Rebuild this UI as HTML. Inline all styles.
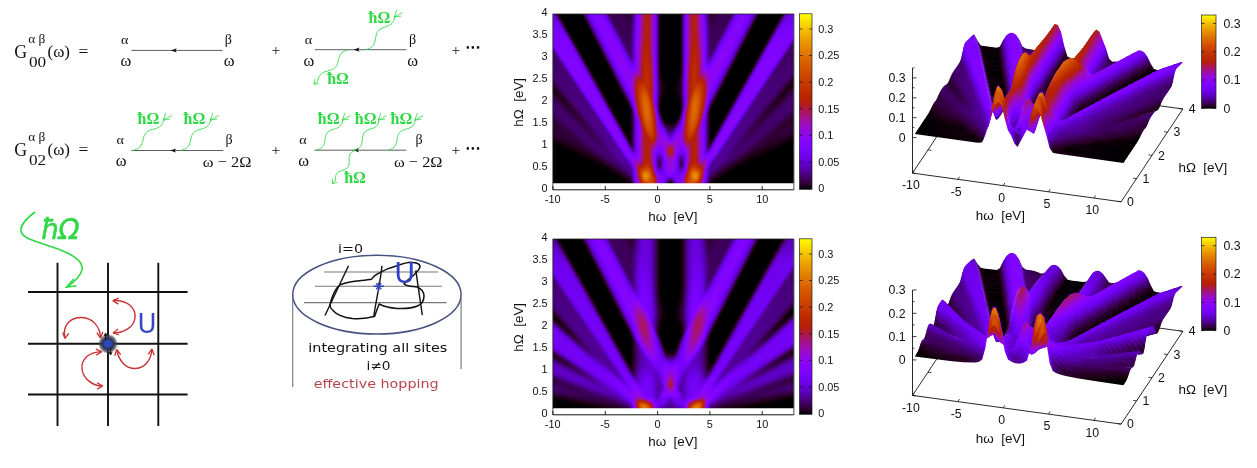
<!DOCTYPE html>
<html><head><meta charset="utf-8"><title>Floquet Green function figure</title>
<style>html,body{margin:0;padding:0;background:#fff}body{width:1257px;height:468px;overflow:hidden}svg{display:block}.pl>*{mix-blend-mode:plus-lighter}</style>
</head><body>
<svg width="1257" height="468" viewBox="0 0 1257 468">
<defs>
<filter id="cm" color-interpolation-filters="sRGB" filterUnits="userSpaceOnUse" x="540" y="0" width="270" height="468"><feComponentTransfer><feFuncR type="table" tableValues="0 0.125 0.177 0.217 0.25 0.28 0.306 0.331 0.354 0.375 0.395 0.415 0.433 0.451 0.468 0.484 0.5 0.515 0.53 0.545 0.559 0.573 0.586 0.599 0.612 0.625 0.637 0.65 0.661 0.673 0.685 0.696 0.707 0.718 0.729 0.74 0.75 0.76 0.771 0.781 0.791 0.8 0.81 0.82 0.829 0.839 0.848 0.857 0.866 0.875 0.884 0.893 0.901 0.91 0.919 0.927 0.935 0.944 0.952 0.96 0.968 0.976 0.984 0.992 1"/><feFuncG type="table" tableValues="0 0 0 0 0 0 0.001 0.001 0.002 0.003 0.004 0.005 0.007 0.008 0.01 0.013 0.016 0.019 0.022 0.026 0.031 0.035 0.041 0.046 0.053 0.06 0.067 0.075 0.084 0.093 0.103 0.114 0.125 0.137 0.15 0.164 0.178 0.193 0.209 0.226 0.244 0.263 0.283 0.303 0.325 0.348 0.371 0.396 0.422 0.449 0.477 0.506 0.536 0.568 0.601 0.635 0.67 0.706 0.744 0.783 0.824 0.866 0.909 0.954 1"/><feFuncB type="table" tableValues="0 0.098 0.195 0.29 0.383 0.471 0.556 0.634 0.707 0.773 0.831 0.882 0.924 0.957 0.981 0.995 1 0.995 0.981 0.957 0.924 0.882 0.831 0.773 0.707 0.634 0.556 0.471 0.383 0.29 0.195 0.098 0 0 0 0 0 0 0 0 0 0 0 0 0 0 0 0 0 0 0 0 0 0 0 0 0 0 0 0 0 0 0 0 0"/></feComponentTransfer></filter>
<linearGradient id="cb" x1="0" y1="1" x2="0" y2="0"><stop offset="0.000" stop-color="#000000"/><stop offset="0.030" stop-color="#2c0030"/><stop offset="0.061" stop-color="#3f005f"/><stop offset="0.091" stop-color="#4d008a"/><stop offset="0.121" stop-color="#5900b0"/><stop offset="0.152" stop-color="#6301d0"/><stop offset="0.182" stop-color="#6d02e8"/><stop offset="0.212" stop-color="#7502f8"/><stop offset="0.242" stop-color="#7e04ff"/><stop offset="0.273" stop-color="#8505fc"/><stop offset="0.303" stop-color="#8c07f1"/><stop offset="0.333" stop-color="#9309dd"/><stop offset="0.364" stop-color="#9a0cc1"/><stop offset="0.394" stop-color="#a0109e"/><stop offset="0.424" stop-color="#a61375"/><stop offset="0.455" stop-color="#ac1848"/><stop offset="0.485" stop-color="#b21d18"/><stop offset="0.515" stop-color="#b72300"/><stop offset="0.545" stop-color="#bc2900"/><stop offset="0.576" stop-color="#c13100"/><stop offset="0.606" stop-color="#c73900"/><stop offset="0.636" stop-color="#cb4200"/><stop offset="0.667" stop-color="#d04c00"/><stop offset="0.697" stop-color="#d55600"/><stop offset="0.727" stop-color="#d96200"/><stop offset="0.758" stop-color="#de6f00"/><stop offset="0.788" stop-color="#e27d00"/><stop offset="0.818" stop-color="#e78c00"/><stop offset="0.848" stop-color="#eb9c00"/><stop offset="0.879" stop-color="#efad00"/><stop offset="0.909" stop-color="#f3c000"/><stop offset="0.939" stop-color="#f7d300"/><stop offset="0.970" stop-color="#fbe900"/><stop offset="1.000" stop-color="#ffff00"/></linearGradient>
<filter id="tb1_6" color-interpolation-filters="sRGB" filterUnits="userSpaceOnUse" x="500" y="-30" width="350" height="260"><feGaussianBlur stdDeviation="1.6"/></filter>
<filter id="tb2_0" color-interpolation-filters="sRGB" filterUnits="userSpaceOnUse" x="500" y="-30" width="350" height="260"><feGaussianBlur stdDeviation="2.0"/></filter>
<filter id="tb2_6" color-interpolation-filters="sRGB" filterUnits="userSpaceOnUse" x="500" y="-30" width="350" height="260"><feGaussianBlur stdDeviation="2.6"/></filter>
<filter id="tb2_8" color-interpolation-filters="sRGB" filterUnits="userSpaceOnUse" x="500" y="-30" width="350" height="260"><feGaussianBlur stdDeviation="2.8"/></filter>
<filter id="tb3_0" color-interpolation-filters="sRGB" filterUnits="userSpaceOnUse" x="500" y="-30" width="350" height="260"><feGaussianBlur stdDeviation="3.0"/></filter>
<filter id="tb3_5" color-interpolation-filters="sRGB" filterUnits="userSpaceOnUse" x="500" y="-30" width="350" height="260"><feGaussianBlur stdDeviation="3.5"/></filter>
<filter id="tb4_0" color-interpolation-filters="sRGB" filterUnits="userSpaceOnUse" x="500" y="-30" width="350" height="260"><feGaussianBlur stdDeviation="4.0"/></filter>
<filter id="tb5_0" color-interpolation-filters="sRGB" filterUnits="userSpaceOnUse" x="500" y="-30" width="350" height="260"><feGaussianBlur stdDeviation="5.0"/></filter>
<linearGradient id="tg2" gradientUnits="userSpaceOnUse" x1="0" y1="190.0" x2="0" y2="-10.0"><stop offset="0.000" stop-color="#363636"/><stop offset="0.030" stop-color="#3e3e3e"/><stop offset="0.055" stop-color="#a2a2a2"/><stop offset="0.085" stop-color="#a2a2a2"/><stop offset="0.120" stop-color="#555555"/><stop offset="0.150" stop-color="#494949"/><stop offset="1.000" stop-color="#464646"/></linearGradient>
<linearGradient id="tg3" gradientUnits="userSpaceOnUse" x1="0" y1="190.0" x2="0" y2="-10.0"><stop offset="0.000" stop-color="#363636"/><stop offset="0.030" stop-color="#3e3e3e"/><stop offset="0.055" stop-color="#a2a2a2"/><stop offset="0.085" stop-color="#a2a2a2"/><stop offset="0.120" stop-color="#555555"/><stop offset="0.150" stop-color="#494949"/><stop offset="1.000" stop-color="#464646"/></linearGradient>
<linearGradient id="tg4" gradientUnits="userSpaceOnUse" x1="0" y1="190.0" x2="0" y2="-10.0"><stop offset="0.000" stop-color="#202020"/><stop offset="0.070" stop-color="#202020"/><stop offset="0.105" stop-color="#161616"/><stop offset="0.155" stop-color="#161616"/><stop offset="0.190" stop-color="#202020"/><stop offset="0.270" stop-color="#232323"/><stop offset="0.310" stop-color="#1f1f1f"/><stop offset="0.520" stop-color="#1f1f1f"/><stop offset="0.590" stop-color="#1f1f1f"/><stop offset="1.000" stop-color="#1c1c1c"/></linearGradient>
<linearGradient id="tg5" gradientUnits="userSpaceOnUse" x1="0" y1="190.0" x2="0" y2="-10.0"><stop offset="0.000" stop-color="#202020"/><stop offset="0.070" stop-color="#202020"/><stop offset="0.105" stop-color="#161616"/><stop offset="0.155" stop-color="#161616"/><stop offset="0.190" stop-color="#202020"/><stop offset="0.270" stop-color="#232323"/><stop offset="0.310" stop-color="#1f1f1f"/><stop offset="0.520" stop-color="#1f1f1f"/><stop offset="0.590" stop-color="#1f1f1f"/><stop offset="1.000" stop-color="#1c1c1c"/></linearGradient>
<linearGradient id="tg6" gradientUnits="userSpaceOnUse" x1="0" y1="190.0" x2="0" y2="-10.0"><stop offset="0.000" stop-color="#202020"/><stop offset="0.070" stop-color="#202020"/><stop offset="0.105" stop-color="#161616"/><stop offset="0.155" stop-color="#161616"/><stop offset="0.190" stop-color="#202020"/><stop offset="0.270" stop-color="#232323"/><stop offset="0.310" stop-color="#1f1f1f"/><stop offset="0.520" stop-color="#1f1f1f"/><stop offset="0.590" stop-color="#1f1f1f"/><stop offset="1.000" stop-color="#1c1c1c"/></linearGradient>
<linearGradient id="tg7" gradientUnits="userSpaceOnUse" x1="0" y1="190.0" x2="0" y2="-10.0"><stop offset="0.000" stop-color="#202020"/><stop offset="0.070" stop-color="#202020"/><stop offset="0.105" stop-color="#161616"/><stop offset="0.155" stop-color="#161616"/><stop offset="0.190" stop-color="#202020"/><stop offset="0.270" stop-color="#232323"/><stop offset="0.310" stop-color="#1f1f1f"/><stop offset="0.520" stop-color="#1f1f1f"/><stop offset="0.590" stop-color="#1f1f1f"/><stop offset="1.000" stop-color="#1c1c1c"/></linearGradient>
<linearGradient id="tg8" gradientUnits="userSpaceOnUse" x1="0" y1="120.0" x2="0" y2="-10.0"><stop offset="0.000" stop-color="#000000"/><stop offset="0.231" stop-color="#111111"/><stop offset="1.000" stop-color="#0c0c0c"/></linearGradient>
<linearGradient id="tg9" gradientUnits="userSpaceOnUse" x1="0" y1="120.0" x2="0" y2="-10.0"><stop offset="0.000" stop-color="#000000"/><stop offset="0.231" stop-color="#111111"/><stop offset="1.000" stop-color="#0c0c0c"/></linearGradient>
<linearGradient id="tg10" gradientUnits="userSpaceOnUse" x1="0" y1="190.0" x2="0" y2="12.0"><stop offset="0.000" stop-color="#000000"/><stop offset="0.079" stop-color="#0f0f0f"/><stop offset="0.191" stop-color="#303030"/><stop offset="0.843" stop-color="#303030"/><stop offset="1.000" stop-color="#1f1f1f"/></linearGradient>
<linearGradient id="tg11" gradientUnits="userSpaceOnUse" x1="0" y1="190.0" x2="0" y2="12.0"><stop offset="0.000" stop-color="#000000"/><stop offset="0.079" stop-color="#0f0f0f"/><stop offset="0.191" stop-color="#303030"/><stop offset="0.843" stop-color="#303030"/><stop offset="1.000" stop-color="#1f1f1f"/></linearGradient>
<linearGradient id="tg12" gradientUnits="userSpaceOnUse" x1="0" y1="190.0" x2="0" y2="12.0"><stop offset="0.000" stop-color="#000000"/><stop offset="0.079" stop-color="#0f0f0f"/><stop offset="0.191" stop-color="#1a1a1a"/><stop offset="0.562" stop-color="#141414"/><stop offset="1.000" stop-color="#0c0c0c"/></linearGradient>
<linearGradient id="tg13" gradientUnits="userSpaceOnUse" x1="0" y1="190.0" x2="0" y2="12.0"><stop offset="0.000" stop-color="#000000"/><stop offset="0.079" stop-color="#0f0f0f"/><stop offset="0.191" stop-color="#1a1a1a"/><stop offset="0.562" stop-color="#141414"/><stop offset="1.000" stop-color="#0c0c0c"/></linearGradient>
<linearGradient id="tg14" gradientUnits="userSpaceOnUse" x1="0" y1="190.0" x2="0" y2="-10.0"><stop offset="0.000" stop-color="#000000"/><stop offset="0.075" stop-color="#0c0c0c"/><stop offset="0.200" stop-color="#121212"/><stop offset="1.000" stop-color="#121212"/></linearGradient>
<linearGradient id="tg15" gradientUnits="userSpaceOnUse" x1="0" y1="190.0" x2="0" y2="-10.0"><stop offset="0.000" stop-color="#000000"/><stop offset="0.075" stop-color="#0c0c0c"/><stop offset="0.200" stop-color="#121212"/><stop offset="1.000" stop-color="#121212"/></linearGradient>
<linearGradient id="tg16" gradientUnits="userSpaceOnUse" x1="0" y1="190.0" x2="0" y2="120.0"><stop offset="0.000" stop-color="#000000"/><stop offset="0.286" stop-color="#080808"/><stop offset="1.000" stop-color="#0c0c0c"/></linearGradient>
<linearGradient id="tg17" gradientUnits="userSpaceOnUse" x1="0" y1="190.0" x2="0" y2="120.0"><stop offset="0.000" stop-color="#000000"/><stop offset="0.286" stop-color="#080808"/><stop offset="1.000" stop-color="#0c0c0c"/></linearGradient>
<clipPath id="tcp"><rect x="553.0" y="14.0" width="240.7" height="169.3"/></clipPath>
<filter id="ub1_6" color-interpolation-filters="sRGB" filterUnits="userSpaceOnUse" x="500" y="195" width="350" height="260"><feGaussianBlur stdDeviation="1.6"/></filter>
<filter id="ub1_7" color-interpolation-filters="sRGB" filterUnits="userSpaceOnUse" x="500" y="195" width="350" height="260"><feGaussianBlur stdDeviation="1.7"/></filter>
<filter id="ub2_0" color-interpolation-filters="sRGB" filterUnits="userSpaceOnUse" x="500" y="195" width="350" height="260"><feGaussianBlur stdDeviation="2.0"/></filter>
<filter id="ub2_4" color-interpolation-filters="sRGB" filterUnits="userSpaceOnUse" x="500" y="195" width="350" height="260"><feGaussianBlur stdDeviation="2.4"/></filter>
<filter id="ub2_5" color-interpolation-filters="sRGB" filterUnits="userSpaceOnUse" x="500" y="195" width="350" height="260"><feGaussianBlur stdDeviation="2.5"/></filter>
<filter id="ub2_8" color-interpolation-filters="sRGB" filterUnits="userSpaceOnUse" x="500" y="195" width="350" height="260"><feGaussianBlur stdDeviation="2.8"/></filter>
<filter id="ub3_0" color-interpolation-filters="sRGB" filterUnits="userSpaceOnUse" x="500" y="195" width="350" height="260"><feGaussianBlur stdDeviation="3.0"/></filter>
<filter id="ub3_5" color-interpolation-filters="sRGB" filterUnits="userSpaceOnUse" x="500" y="195" width="350" height="260"><feGaussianBlur stdDeviation="3.5"/></filter>
<filter id="ub5_0" color-interpolation-filters="sRGB" filterUnits="userSpaceOnUse" x="500" y="195" width="350" height="260"><feGaussianBlur stdDeviation="5.0"/></filter>
<filter id="ub8_0" color-interpolation-filters="sRGB" filterUnits="userSpaceOnUse" x="500" y="195" width="350" height="260"><feGaussianBlur stdDeviation="8.0"/></filter>
<linearGradient id="ug0" gradientUnits="userSpaceOnUse" x1="0" y1="415.0" x2="0" y2="215.0"><stop offset="0.000" stop-color="#0f0f0f"/><stop offset="0.250" stop-color="#0f0f0f"/><stop offset="0.450" stop-color="#171717"/><stop offset="1.000" stop-color="#171717"/></linearGradient>
<linearGradient id="ug1" gradientUnits="userSpaceOnUse" x1="0" y1="415.0" x2="0" y2="215.0"><stop offset="0.000" stop-color="#0f0f0f"/><stop offset="0.250" stop-color="#0f0f0f"/><stop offset="0.450" stop-color="#171717"/><stop offset="1.000" stop-color="#171717"/></linearGradient>
<linearGradient id="ug2" gradientUnits="userSpaceOnUse" x1="0" y1="415.0" x2="0" y2="215.0"><stop offset="0.000" stop-color="#0f0f0f"/><stop offset="0.250" stop-color="#0f0f0f"/><stop offset="0.450" stop-color="#171717"/><stop offset="1.000" stop-color="#161616"/></linearGradient>
<linearGradient id="ug3" gradientUnits="userSpaceOnUse" x1="0" y1="415.0" x2="0" y2="215.0"><stop offset="0.000" stop-color="#0f0f0f"/><stop offset="0.250" stop-color="#0f0f0f"/><stop offset="0.450" stop-color="#171717"/><stop offset="1.000" stop-color="#161616"/></linearGradient>
<linearGradient id="ug6" gradientUnits="userSpaceOnUse" x1="0" y1="415.0" x2="0" y2="215.0"><stop offset="0.000" stop-color="#090909"/><stop offset="0.070" stop-color="#0f0f0f"/><stop offset="0.120" stop-color="#0e0e0e"/><stop offset="0.200" stop-color="#0f0f0f"/><stop offset="0.300" stop-color="#202020"/><stop offset="0.500" stop-color="#202020"/><stop offset="0.600" stop-color="#1d1d1d"/><stop offset="1.000" stop-color="#1a1a1a"/></linearGradient>
<linearGradient id="ug7" gradientUnits="userSpaceOnUse" x1="0" y1="415.0" x2="0" y2="215.0"><stop offset="0.000" stop-color="#090909"/><stop offset="0.070" stop-color="#0f0f0f"/><stop offset="0.120" stop-color="#0e0e0e"/><stop offset="0.200" stop-color="#0f0f0f"/><stop offset="0.300" stop-color="#202020"/><stop offset="0.500" stop-color="#202020"/><stop offset="0.600" stop-color="#1d1d1d"/><stop offset="1.000" stop-color="#1a1a1a"/></linearGradient>
<linearGradient id="ug8" gradientUnits="userSpaceOnUse" x1="0" y1="415.0" x2="0" y2="215.0"><stop offset="0.000" stop-color="#090909"/><stop offset="0.070" stop-color="#0f0f0f"/><stop offset="0.120" stop-color="#0e0e0e"/><stop offset="0.200" stop-color="#0f0f0f"/><stop offset="0.300" stop-color="#202020"/><stop offset="0.500" stop-color="#202020"/><stop offset="0.600" stop-color="#1d1d1d"/><stop offset="1.000" stop-color="#1a1a1a"/></linearGradient>
<linearGradient id="ug9" gradientUnits="userSpaceOnUse" x1="0" y1="415.0" x2="0" y2="215.0"><stop offset="0.000" stop-color="#090909"/><stop offset="0.070" stop-color="#0f0f0f"/><stop offset="0.120" stop-color="#0e0e0e"/><stop offset="0.200" stop-color="#0f0f0f"/><stop offset="0.300" stop-color="#202020"/><stop offset="0.500" stop-color="#202020"/><stop offset="0.600" stop-color="#1d1d1d"/><stop offset="1.000" stop-color="#1a1a1a"/></linearGradient>
<linearGradient id="ug10" gradientUnits="userSpaceOnUse" x1="0" y1="345.0" x2="0" y2="215.0"><stop offset="0.000" stop-color="#000000"/><stop offset="0.231" stop-color="#0f0f0f"/><stop offset="1.000" stop-color="#0f0f0f"/></linearGradient>
<linearGradient id="ug11" gradientUnits="userSpaceOnUse" x1="0" y1="345.0" x2="0" y2="215.0"><stop offset="0.000" stop-color="#000000"/><stop offset="0.231" stop-color="#0f0f0f"/><stop offset="1.000" stop-color="#0f0f0f"/></linearGradient>
<linearGradient id="ug12" gradientUnits="userSpaceOnUse" x1="0" y1="415.0" x2="0" y2="237.0"><stop offset="0.000" stop-color="#000000"/><stop offset="0.079" stop-color="#0f0f0f"/><stop offset="0.191" stop-color="#1f1f1f"/><stop offset="0.843" stop-color="#1f1f1f"/><stop offset="1.000" stop-color="#0f0f0f"/></linearGradient>
<linearGradient id="ug13" gradientUnits="userSpaceOnUse" x1="0" y1="415.0" x2="0" y2="237.0"><stop offset="0.000" stop-color="#000000"/><stop offset="0.079" stop-color="#0f0f0f"/><stop offset="0.191" stop-color="#1f1f1f"/><stop offset="0.843" stop-color="#1f1f1f"/><stop offset="1.000" stop-color="#0f0f0f"/></linearGradient>
<linearGradient id="ug14" gradientUnits="userSpaceOnUse" x1="0" y1="415.0" x2="0" y2="237.0"><stop offset="0.000" stop-color="#000000"/><stop offset="0.079" stop-color="#0f0f0f"/><stop offset="0.191" stop-color="#1b1b1b"/><stop offset="0.562" stop-color="#171717"/><stop offset="1.000" stop-color="#0f0f0f"/></linearGradient>
<linearGradient id="ug15" gradientUnits="userSpaceOnUse" x1="0" y1="415.0" x2="0" y2="237.0"><stop offset="0.000" stop-color="#000000"/><stop offset="0.079" stop-color="#0f0f0f"/><stop offset="0.191" stop-color="#1b1b1b"/><stop offset="0.562" stop-color="#171717"/><stop offset="1.000" stop-color="#0f0f0f"/></linearGradient>
<linearGradient id="ug16" gradientUnits="userSpaceOnUse" x1="0" y1="415.0" x2="0" y2="215.0"><stop offset="0.000" stop-color="#000000"/><stop offset="0.040" stop-color="#1f1f1f"/><stop offset="0.150" stop-color="#363636"/><stop offset="1.000" stop-color="#323232"/></linearGradient>
<linearGradient id="ug17" gradientUnits="userSpaceOnUse" x1="0" y1="415.0" x2="0" y2="215.0"><stop offset="0.000" stop-color="#000000"/><stop offset="0.040" stop-color="#1f1f1f"/><stop offset="0.150" stop-color="#363636"/><stop offset="1.000" stop-color="#323232"/></linearGradient>
<linearGradient id="ug18" gradientUnits="userSpaceOnUse" x1="0" y1="415.0" x2="0" y2="345.0"><stop offset="0.000" stop-color="#000000"/><stop offset="0.114" stop-color="#171717"/><stop offset="0.357" stop-color="#272727"/><stop offset="1.000" stop-color="#232323"/></linearGradient>
<linearGradient id="ug19" gradientUnits="userSpaceOnUse" x1="0" y1="415.0" x2="0" y2="345.0"><stop offset="0.000" stop-color="#000000"/><stop offset="0.114" stop-color="#171717"/><stop offset="0.357" stop-color="#272727"/><stop offset="1.000" stop-color="#232323"/></linearGradient>
<linearGradient id="ug20" gradientUnits="userSpaceOnUse" x1="0" y1="415.0" x2="0" y2="385.0"><stop offset="0.000" stop-color="#000000"/><stop offset="0.267" stop-color="#0f0f0f"/><stop offset="1.000" stop-color="#161616"/></linearGradient>
<linearGradient id="ug21" gradientUnits="userSpaceOnUse" x1="0" y1="415.0" x2="0" y2="385.0"><stop offset="0.000" stop-color="#000000"/><stop offset="0.267" stop-color="#0f0f0f"/><stop offset="1.000" stop-color="#161616"/></linearGradient>
<clipPath id="ucp"><rect x="553.0" y="239.0" width="240.7" height="169.3"/></clipPath>
<filter id="soft" color-interpolation-filters="sRGB" filterUnits="userSpaceOnUse" x="880" y="0" width="330" height="468"><feGaussianBlur stdDeviation="0.75"/><feComponentTransfer><feFuncR type="table" tableValues="0 0.125 0.177 0.217 0.25 0.28 0.306 0.331 0.354 0.375 0.395 0.415 0.433 0.451 0.468 0.484 0.5 0.515 0.53 0.545 0.559 0.573 0.586 0.599 0.612 0.625 0.637 0.65 0.661 0.673 0.685 0.696 0.707 0.718 0.729 0.74 0.75 0.76 0.771 0.781 0.791 0.8 0.81 0.82 0.829 0.839 0.848 0.857 0.866 0.875 0.884 0.893 0.901 0.91 0.919 0.927 0.935 0.944 0.952 0.96 0.968 0.976 0.984 0.992 1"/><feFuncG type="table" tableValues="0 0 0 0 0 0 0.001 0.001 0.002 0.003 0.004 0.005 0.007 0.008 0.01 0.013 0.016 0.019 0.022 0.026 0.031 0.035 0.041 0.046 0.053 0.06 0.067 0.075 0.084 0.093 0.103 0.114 0.125 0.137 0.15 0.164 0.178 0.193 0.209 0.226 0.244 0.263 0.283 0.303 0.325 0.348 0.371 0.396 0.422 0.449 0.477 0.506 0.536 0.568 0.601 0.635 0.67 0.706 0.744 0.783 0.824 0.866 0.909 0.954 1"/><feFuncB type="table" tableValues="0 0.098 0.195 0.29 0.383 0.471 0.556 0.634 0.707 0.773 0.831 0.882 0.924 0.957 0.981 0.995 1 0.995 0.981 0.957 0.924 0.882 0.831 0.773 0.707 0.634 0.556 0.471 0.383 0.29 0.195 0.098 0 0 0 0 0 0 0 0 0 0 0 0 0 0 0 0 0 0 0 0 0 0 0 0 0 0 0 0 0 0 0 0 0"/></feComponentTransfer></filter>
<linearGradient id="p56" gradientUnits="userSpaceOnUse" x1="973.8" x2="1182.4" y1="0" y2="0"><stop offset="0" stop-color="#2a2a2a"/><stop offset=".031" stop-color="#030303"/><stop offset=".108" stop-color="#000"/><stop offset=".123" stop-color="#050505"/><stop offset=".154" stop-color="#333"/><stop offset=".169" stop-color="#3f3f3f"/><stop offset=".185" stop-color="#434343"/><stop offset=".2" stop-color="#3f3f3f"/><stop offset=".215" stop-color="#313131"/><stop offset=".231" stop-color="#181818"/><stop offset=".246" stop-color="#0d0d0d"/><stop offset=".323" stop-color="#090909"/><stop offset=".338" stop-color="#212121"/><stop offset=".369" stop-color="#656565"/><stop offset=".385" stop-color="#7b7b7b"/><stop offset=".4" stop-color="#7a7a7a"/><stop offset=".415" stop-color="#616161"/><stop offset=".431" stop-color="#2c2c2c"/><stop offset=".446" stop-color="#040404"/><stop offset=".508" stop-color="#000"/><stop offset=".523" stop-color="#000"/><stop offset=".538" stop-color="#101010"/><stop offset=".554" stop-color="#464646"/><stop offset=".569" stop-color="#6e6e6e"/><stop offset=".585" stop-color="#7d7d7d"/><stop offset=".6" stop-color="#767676"/><stop offset=".631" stop-color="#3a3a3a"/><stop offset=".646" stop-color="#131313"/><stop offset=".662" stop-color="#090909"/><stop offset=".738" stop-color="#101010"/><stop offset=".769" stop-color="#3a3a3a"/><stop offset=".785" stop-color="#434343"/><stop offset=".815" stop-color="#3b3b3b"/><stop offset=".831" stop-color="#292929"/><stop offset=".846" stop-color="#0f0f0f"/><stop offset=".862" stop-color="#010101"/><stop offset=".938" stop-color="#000"/><stop offset=".954" stop-color="#080808"/><stop offset=".969" stop-color="#212121"/><stop offset=".985" stop-color="#2c2c2c"/><stop offset="1" stop-color="#2d2d2d"/></linearGradient>
<linearGradient id="p55" gradientUnits="userSpaceOnUse" x1="972.7" x2="1181.3" y1="0" y2="0"><stop offset="0" stop-color="#2e2e2e"/><stop offset=".015" stop-color="#252525"/><stop offset=".031" stop-color="#0a0a0a"/><stop offset=".046" stop-color="#010101"/><stop offset=".123" stop-color="#010101"/><stop offset=".138" stop-color="#111"/><stop offset=".154" stop-color="#2b2b2b"/><stop offset=".169" stop-color="#3c3c3c"/><stop offset=".185" stop-color="#434343"/><stop offset=".2" stop-color="#434343"/><stop offset=".215" stop-color="#383838"/><stop offset=".246" stop-color="#0f0f0f"/><stop offset=".323" stop-color="#0a0a0a"/><stop offset=".338" stop-color="#222"/><stop offset=".369" stop-color="#656565"/><stop offset=".385" stop-color="#7b7b7b"/><stop offset=".4" stop-color="#7a7a7a"/><stop offset=".415" stop-color="#616161"/><stop offset=".431" stop-color="#2c2c2c"/><stop offset=".446" stop-color="#040404"/><stop offset=".508" stop-color="#000"/><stop offset=".523" stop-color="#000"/><stop offset=".538" stop-color="#101010"/><stop offset=".554" stop-color="#464646"/><stop offset=".569" stop-color="#6e6e6e"/><stop offset=".585" stop-color="#7d7d7d"/><stop offset=".6" stop-color="#767676"/><stop offset=".631" stop-color="#3a3a3a"/><stop offset=".646" stop-color="#141414"/><stop offset=".662" stop-color="#0a0a0a"/><stop offset=".723" stop-color="#0d0d0d"/><stop offset=".738" stop-color="#171717"/><stop offset=".754" stop-color="#2f2f2f"/><stop offset=".769" stop-color="#3f3f3f"/><stop offset=".785" stop-color="#444"/><stop offset=".8" stop-color="#414141"/><stop offset=".815" stop-color="#353535"/><stop offset=".846" stop-color="#060606"/><stop offset=".877" stop-color="#000"/><stop offset=".938" stop-color="#020202"/><stop offset=".969" stop-color="#2a2a2a"/><stop offset="1" stop-color="#2f2f2f"/></linearGradient>
<linearGradient id="p54" gradientUnits="userSpaceOnUse" x1="971.7" x2="1180.3" y1="0" y2="0"><stop offset="0" stop-color="#313131"/><stop offset=".015" stop-color="#2d2d2d"/><stop offset=".046" stop-color="#020202"/><stop offset=".123" stop-color="#000"/><stop offset=".138" stop-color="#080808"/><stop offset=".169" stop-color="#363636"/><stop offset=".185" stop-color="#414141"/><stop offset=".2" stop-color="#444"/><stop offset=".215" stop-color="#3e3e3e"/><stop offset=".231" stop-color="#2e2e2e"/><stop offset=".246" stop-color="#151515"/><stop offset=".262" stop-color="#0d0d0d"/><stop offset=".323" stop-color="#0b0b0b"/><stop offset=".338" stop-color="#232323"/><stop offset=".369" stop-color="#656565"/><stop offset=".385" stop-color="#7b7b7b"/><stop offset=".4" stop-color="#7a7a7a"/><stop offset=".415" stop-color="#616161"/><stop offset=".431" stop-color="#2c2c2c"/><stop offset=".446" stop-color="#040404"/><stop offset=".508" stop-color="#000"/><stop offset=".523" stop-color="#000"/><stop offset=".538" stop-color="#101010"/><stop offset=".554" stop-color="#464646"/><stop offset=".569" stop-color="#6e6e6e"/><stop offset=".585" stop-color="#7d7d7d"/><stop offset=".6" stop-color="#767676"/><stop offset=".631" stop-color="#3b3b3b"/><stop offset=".646" stop-color="#151515"/><stop offset=".662" stop-color="#0b0b0b"/><stop offset=".723" stop-color="#0f0f0f"/><stop offset=".754" stop-color="#383838"/><stop offset=".769" stop-color="#434343"/><stop offset=".785" stop-color="#444"/><stop offset=".8" stop-color="#3e3e3e"/><stop offset=".815" stop-color="#2e2e2e"/><stop offset=".831" stop-color="#141414"/><stop offset=".846" stop-color="#020202"/><stop offset=".923" stop-color="#000"/><stop offset=".938" stop-color="#070707"/><stop offset=".954" stop-color="#222"/><stop offset=".969" stop-color="#303030"/><stop offset="1" stop-color="#313131"/></linearGradient>
<linearGradient id="p53" gradientUnits="userSpaceOnUse" x1="970.6" x2="1179.3" y1="0" y2="0"><stop offset="0" stop-color="#333"/><stop offset=".015" stop-color="#323232"/><stop offset=".031" stop-color="#252525"/><stop offset=".046" stop-color="#090909"/><stop offset=".062" stop-color="#000"/><stop offset=".138" stop-color="#020202"/><stop offset=".169" stop-color="#2f2f2f"/><stop offset=".185" stop-color="#3e3e3e"/><stop offset=".2" stop-color="#444"/><stop offset=".215" stop-color="#424242"/><stop offset=".231" stop-color="#363636"/><stop offset=".246" stop-color="#1f1f1f"/><stop offset=".262" stop-color="#0f0f0f"/><stop offset=".323" stop-color="#0c0c0c"/><stop offset=".338" stop-color="#242424"/><stop offset=".369" stop-color="#666"/><stop offset=".385" stop-color="#7c7c7c"/><stop offset=".4" stop-color="#7a7a7a"/><stop offset=".415" stop-color="#616161"/><stop offset=".431" stop-color="#2c2c2c"/><stop offset=".446" stop-color="#040404"/><stop offset=".508" stop-color="#000"/><stop offset=".523" stop-color="#000"/><stop offset=".538" stop-color="#101010"/><stop offset=".554" stop-color="#464646"/><stop offset=".569" stop-color="#6e6e6e"/><stop offset=".585" stop-color="#7d7d7d"/><stop offset=".6" stop-color="#767676"/><stop offset=".631" stop-color="#3c3c3c"/><stop offset=".646" stop-color="#161616"/><stop offset=".662" stop-color="#0c0c0c"/><stop offset=".708" stop-color="#0e0e0e"/><stop offset=".723" stop-color="#141414"/><stop offset=".754" stop-color="#3e3e3e"/><stop offset=".769" stop-color="#454545"/><stop offset=".785" stop-color="#434343"/><stop offset=".8" stop-color="#383838"/><stop offset=".815" stop-color="#252525"/><stop offset=".831" stop-color="#0a0a0a"/><stop offset=".846" stop-color="#000"/><stop offset=".923" stop-color="#010101"/><stop offset=".938" stop-color="#121212"/><stop offset=".954" stop-color="#2d2d2d"/><stop offset=".985" stop-color="#333"/><stop offset="1" stop-color="#333"/></linearGradient>
<linearGradient id="p52" gradientUnits="userSpaceOnUse" x1="969.6" x2="1178.2" y1="0" y2="0"><stop offset="0" stop-color="#353535"/><stop offset=".031" stop-color="#303030"/><stop offset=".046" stop-color="#151515"/><stop offset=".062" stop-color="#020202"/><stop offset=".138" stop-color="#010101"/><stop offset=".154" stop-color="#0c0c0c"/><stop offset=".169" stop-color="#272727"/><stop offset=".185" stop-color="#3a3a3a"/><stop offset=".2" stop-color="#434343"/><stop offset=".215" stop-color="#454545"/><stop offset=".231" stop-color="#3d3d3d"/><stop offset=".262" stop-color="#131313"/><stop offset=".308" stop-color="#0d0d0d"/><stop offset=".323" stop-color="#0d0d0d"/><stop offset=".338" stop-color="#252525"/><stop offset=".369" stop-color="#676767"/><stop offset=".385" stop-color="#7c7c7c"/><stop offset=".4" stop-color="#7b7b7b"/><stop offset=".415" stop-color="#616161"/><stop offset=".431" stop-color="#2c2c2c"/><stop offset=".446" stop-color="#040404"/><stop offset=".508" stop-color="#000"/><stop offset=".523" stop-color="#000"/><stop offset=".538" stop-color="#101010"/><stop offset=".554" stop-color="#464646"/><stop offset=".569" stop-color="#6e6e6e"/><stop offset=".585" stop-color="#7e7e7e"/><stop offset=".6" stop-color="#777"/><stop offset=".631" stop-color="#3e3e3e"/><stop offset=".646" stop-color="#181818"/><stop offset=".662" stop-color="#0c0c0c"/><stop offset=".708" stop-color="#0f0f0f"/><stop offset=".723" stop-color="#1d1d1d"/><stop offset=".738" stop-color="#353535"/><stop offset=".754" stop-color="#434343"/><stop offset=".769" stop-color="#454545"/><stop offset=".785" stop-color="#404040"/><stop offset=".8" stop-color="#323232"/><stop offset=".831" stop-color="#030303"/><stop offset=".908" stop-color="#000"/><stop offset=".923" stop-color="#060606"/><stop offset=".938" stop-color="#222"/><stop offset=".954" stop-color="#333"/><stop offset="1" stop-color="#363636"/></linearGradient>
<linearGradient id="p51" gradientUnits="userSpaceOnUse" x1="968.6" x2="1177.2" y1="0" y2="0"><stop offset="0" stop-color="#383838"/><stop offset=".031" stop-color="#363636"/><stop offset=".046" stop-color="#252525"/><stop offset=".062" stop-color="#070707"/><stop offset=".077" stop-color="#000"/><stop offset=".138" stop-color="#000"/><stop offset=".154" stop-color="#040404"/><stop offset=".185" stop-color="#333"/><stop offset=".2" stop-color="#414141"/><stop offset=".215" stop-color="#454545"/><stop offset=".231" stop-color="#424242"/><stop offset=".246" stop-color="#343434"/><stop offset=".262" stop-color="#1b1b1b"/><stop offset=".277" stop-color="#0e0e0e"/><stop offset=".323" stop-color="#0e0e0e"/><stop offset=".338" stop-color="#272727"/><stop offset=".369" stop-color="#676767"/><stop offset=".385" stop-color="#7c7c7c"/><stop offset=".4" stop-color="#7b7b7b"/><stop offset=".415" stop-color="#616161"/><stop offset=".431" stop-color="#2c2c2c"/><stop offset=".446" stop-color="#040404"/><stop offset=".508" stop-color="#000"/><stop offset=".523" stop-color="#000"/><stop offset=".538" stop-color="#101010"/><stop offset=".554" stop-color="#464646"/><stop offset=".569" stop-color="#6e6e6e"/><stop offset=".585" stop-color="#7e7e7e"/><stop offset=".6" stop-color="#777"/><stop offset=".631" stop-color="#3f3f3f"/><stop offset=".646" stop-color="#191919"/><stop offset=".662" stop-color="#0d0d0d"/><stop offset=".708" stop-color="#121212"/><stop offset=".738" stop-color="#3c3c3c"/><stop offset=".754" stop-color="#454545"/><stop offset=".769" stop-color="#444"/><stop offset=".785" stop-color="#3c3c3c"/><stop offset=".8" stop-color="#2a2a2a"/><stop offset=".815" stop-color="#0e0e0e"/><stop offset=".831" stop-color="#010101"/><stop offset=".908" stop-color="#010101"/><stop offset=".923" stop-color="#101010"/><stop offset=".938" stop-color="#2f2f2f"/><stop offset=".954" stop-color="#373737"/><stop offset="1" stop-color="#383838"/></linearGradient>
<linearGradient id="p50" gradientUnits="userSpaceOnUse" x1="967.5" x2="1176.1" y1="0" y2="0"><stop offset="0" stop-color="#3a3a3a"/><stop offset=".031" stop-color="#393939"/><stop offset=".046" stop-color="#323232"/><stop offset=".062" stop-color="#131313"/><stop offset=".077" stop-color="#010101"/><stop offset=".154" stop-color="#010101"/><stop offset=".169" stop-color="#111"/><stop offset=".185" stop-color="#2c2c2c"/><stop offset=".2" stop-color="#3d3d3d"/><stop offset=".215" stop-color="#454545"/><stop offset=".231" stop-color="#454545"/><stop offset=".246" stop-color="#3b3b3b"/><stop offset=".277" stop-color="#111"/><stop offset=".323" stop-color="#0f0f0f"/><stop offset=".338" stop-color="#282828"/><stop offset=".369" stop-color="#686868"/><stop offset=".385" stop-color="#7d7d7d"/><stop offset=".4" stop-color="#7b7b7b"/><stop offset=".415" stop-color="#616161"/><stop offset=".431" stop-color="#2c2c2c"/><stop offset=".446" stop-color="#040404"/><stop offset=".508" stop-color="#000"/><stop offset=".523" stop-color="#000"/><stop offset=".538" stop-color="#101010"/><stop offset=".554" stop-color="#464646"/><stop offset=".569" stop-color="#6e6e6e"/><stop offset=".585" stop-color="#7e7e7e"/><stop offset=".6" stop-color="#787878"/><stop offset=".631" stop-color="#404040"/><stop offset=".646" stop-color="#1a1a1a"/><stop offset=".662" stop-color="#0e0e0e"/><stop offset=".692" stop-color="#0e0e0e"/><stop offset=".708" stop-color="#191919"/><stop offset=".723" stop-color="#333"/><stop offset=".738" stop-color="#424242"/><stop offset=".754" stop-color="#464646"/><stop offset=".769" stop-color="#424242"/><stop offset=".785" stop-color="#363636"/><stop offset=".815" stop-color="#060606"/><stop offset=".846" stop-color="#000"/><stop offset=".908" stop-color="#040404"/><stop offset=".923" stop-color="#212121"/><stop offset=".938" stop-color="#373737"/><stop offset="1" stop-color="#393939"/></linearGradient>
<linearGradient id="p49" gradientUnits="userSpaceOnUse" x1="966.5" x2="1175.1" y1="0" y2="0"><stop offset="0" stop-color="#3c3c3c"/><stop offset=".046" stop-color="#393939"/><stop offset=".062" stop-color="#242424"/><stop offset=".077" stop-color="#050505"/><stop offset=".108" stop-color="#000"/><stop offset=".154" stop-color="#000"/><stop offset=".169" stop-color="#080808"/><stop offset=".2" stop-color="#373737"/><stop offset=".215" stop-color="#434343"/><stop offset=".231" stop-color="#464646"/><stop offset=".246" stop-color="#414141"/><stop offset=".262" stop-color="#313131"/><stop offset=".277" stop-color="#171717"/><stop offset=".292" stop-color="#0e0e0e"/><stop offset=".323" stop-color="#0f0f0f"/><stop offset=".338" stop-color="#292929"/><stop offset=".369" stop-color="#696969"/><stop offset=".385" stop-color="#7d7d7d"/><stop offset=".4" stop-color="#7b7b7b"/><stop offset=".415" stop-color="#616161"/><stop offset=".431" stop-color="#2c2c2c"/><stop offset=".446" stop-color="#040404"/><stop offset=".508" stop-color="#000"/><stop offset=".523" stop-color="#000"/><stop offset=".538" stop-color="#101010"/><stop offset=".554" stop-color="#464646"/><stop offset=".569" stop-color="#6e6e6e"/><stop offset=".585" stop-color="#7e7e7e"/><stop offset=".6" stop-color="#797979"/><stop offset=".631" stop-color="#414141"/><stop offset=".646" stop-color="#1a1a1a"/><stop offset=".662" stop-color="#0e0e0e"/><stop offset=".692" stop-color="#101010"/><stop offset=".723" stop-color="#3a3a3a"/><stop offset=".738" stop-color="#454545"/><stop offset=".754" stop-color="#464646"/><stop offset=".769" stop-color="#3f3f3f"/><stop offset=".785" stop-color="#2e2e2e"/><stop offset=".8" stop-color="#141414"/><stop offset=".815" stop-color="#020202"/><stop offset=".892" stop-color="#010101"/><stop offset=".908" stop-color="#0e0e0e"/><stop offset=".923" stop-color="#303030"/><stop offset=".938" stop-color="#3b3b3b"/><stop offset=".985" stop-color="#3c3c3c"/><stop offset="1" stop-color="#363636"/></linearGradient>
<linearGradient id="p48" gradientUnits="userSpaceOnUse" x1="965.4" x2="1174.0" y1="0" y2="0"><stop offset="0" stop-color="#3d3d3d"/><stop offset=".046" stop-color="#3d3d3d"/><stop offset=".062" stop-color="#333"/><stop offset=".077" stop-color="#101010"/><stop offset=".092" stop-color="#010101"/><stop offset=".169" stop-color="#020202"/><stop offset=".2" stop-color="#303030"/><stop offset=".215" stop-color="#404040"/><stop offset=".231" stop-color="#464646"/><stop offset=".246" stop-color="#454545"/><stop offset=".262" stop-color="#393939"/><stop offset=".292" stop-color="#101010"/><stop offset=".323" stop-color="#101010"/><stop offset=".338" stop-color="#2a2a2a"/><stop offset=".354" stop-color="#4e4e4e"/><stop offset=".369" stop-color="#6b6b6b"/><stop offset=".385" stop-color="#7e7e7e"/><stop offset=".4" stop-color="#7c7c7c"/><stop offset=".415" stop-color="#616161"/><stop offset=".431" stop-color="#2c2c2c"/><stop offset=".446" stop-color="#040404"/><stop offset=".508" stop-color="#000"/><stop offset=".523" stop-color="#000"/><stop offset=".538" stop-color="#101010"/><stop offset=".554" stop-color="#464646"/><stop offset=".569" stop-color="#6e6e6e"/><stop offset=".585" stop-color="#7f7f7f"/><stop offset=".6" stop-color="#7a7a7a"/><stop offset=".631" stop-color="#434343"/><stop offset=".646" stop-color="#1b1b1b"/><stop offset=".662" stop-color="#0e0e0e"/><stop offset=".677" stop-color="#0e0e0e"/><stop offset=".692" stop-color="#161616"/><stop offset=".708" stop-color="#2f2f2f"/><stop offset=".723" stop-color="#404040"/><stop offset=".738" stop-color="#474747"/><stop offset=".754" stop-color="#444"/><stop offset=".769" stop-color="#393939"/><stop offset=".785" stop-color="#252525"/><stop offset=".8" stop-color="#090909"/><stop offset=".815" stop-color="#000"/><stop offset=".892" stop-color="#030303"/><stop offset=".923" stop-color="#393939"/><stop offset=".969" stop-color="#3e3e3e"/><stop offset=".985" stop-color="#3c3c3c"/><stop offset="1" stop-color="#2b2b2b"/></linearGradient>
<linearGradient id="p47" gradientUnits="userSpaceOnUse" x1="964.4" x2="1173.0" y1="0" y2="0"><stop offset="0" stop-color="#3c3c3c"/><stop offset=".046" stop-color="#3e3e3e"/><stop offset=".062" stop-color="#3b3b3b"/><stop offset=".092" stop-color="#040404"/><stop offset=".154" stop-color="#000"/><stop offset=".169" stop-color="#010101"/><stop offset=".185" stop-color="#0b0b0b"/><stop offset=".2" stop-color="#262626"/><stop offset=".215" stop-color="#3a3a3a"/><stop offset=".231" stop-color="#454545"/><stop offset=".246" stop-color="#474747"/><stop offset=".262" stop-color="#404040"/><stop offset=".277" stop-color="#2e2e2e"/><stop offset=".292" stop-color="#151515"/><stop offset=".308" stop-color="#0f0f0f"/><stop offset=".323" stop-color="#101010"/><stop offset=".338" stop-color="#2a2a2a"/><stop offset=".354" stop-color="#4f4f4f"/><stop offset=".369" stop-color="#6c6c6c"/><stop offset=".385" stop-color="#7f7f7f"/><stop offset=".4" stop-color="#7c7c7c"/><stop offset=".415" stop-color="#616161"/><stop offset=".431" stop-color="#2c2c2c"/><stop offset=".446" stop-color="#040404"/><stop offset=".508" stop-color="#000"/><stop offset=".523" stop-color="#000"/><stop offset=".538" stop-color="#101010"/><stop offset=".554" stop-color="#464646"/><stop offset=".569" stop-color="#6f6f6f"/><stop offset=".585" stop-color="#808080"/><stop offset=".6" stop-color="#7b7b7b"/><stop offset=".631" stop-color="#444"/><stop offset=".646" stop-color="#1c1c1c"/><stop offset=".662" stop-color="#0f0f0f"/><stop offset=".677" stop-color="#101010"/><stop offset=".708" stop-color="#383838"/><stop offset=".723" stop-color="#454545"/><stop offset=".738" stop-color="#474747"/><stop offset=".754" stop-color="#414141"/><stop offset=".769" stop-color="#323232"/><stop offset=".8" stop-color="#030303"/><stop offset=".877" stop-color="#010101"/><stop offset=".892" stop-color="#0b0b0b"/><stop offset=".908" stop-color="#2f2f2f"/><stop offset=".923" stop-color="#3d3d3d"/><stop offset=".969" stop-color="#3f3f3f"/><stop offset=".985" stop-color="#373737"/><stop offset="1" stop-color="#1c1c1c"/></linearGradient>
<linearGradient id="p46" gradientUnits="userSpaceOnUse" x1="963.3" x2="1172.0" y1="0" y2="0"><stop offset="0" stop-color="#343434"/><stop offset=".015" stop-color="#3f3f3f"/><stop offset=".062" stop-color="#3e3e3e"/><stop offset=".077" stop-color="#313131"/><stop offset=".092" stop-color="#0d0d0d"/><stop offset=".108" stop-color="#010101"/><stop offset=".169" stop-color="#000"/><stop offset=".185" stop-color="#040404"/><stop offset=".215" stop-color="#343434"/><stop offset=".231" stop-color="#424242"/><stop offset=".246" stop-color="#474747"/><stop offset=".262" stop-color="#444"/><stop offset=".277" stop-color="#373737"/><stop offset=".292" stop-color="#1e1e1e"/><stop offset=".308" stop-color="#0f0f0f"/><stop offset=".323" stop-color="#101010"/><stop offset=".338" stop-color="#2b2b2b"/><stop offset=".354" stop-color="#505050"/><stop offset=".369" stop-color="#6d6d6d"/><stop offset=".385" stop-color="#808080"/><stop offset=".4" stop-color="#7d7d7d"/><stop offset=".415" stop-color="#626262"/><stop offset=".431" stop-color="#2c2c2c"/><stop offset=".446" stop-color="#040404"/><stop offset=".508" stop-color="#000"/><stop offset=".523" stop-color="#000"/><stop offset=".538" stop-color="#101010"/><stop offset=".554" stop-color="#464646"/><stop offset=".569" stop-color="#6f6f6f"/><stop offset=".585" stop-color="#808080"/><stop offset=".6" stop-color="#7c7c7c"/><stop offset=".631" stop-color="#444"/><stop offset=".646" stop-color="#1c1c1c"/><stop offset=".662" stop-color="#0f0f0f"/><stop offset=".677" stop-color="#141414"/><stop offset=".708" stop-color="#3f3f3f"/><stop offset=".723" stop-color="#474747"/><stop offset=".738" stop-color="#464646"/><stop offset=".754" stop-color="#3d3d3d"/><stop offset=".769" stop-color="#292929"/><stop offset=".785" stop-color="#0d0d0d"/><stop offset=".8" stop-color="#010101"/><stop offset=".877" stop-color="#020202"/><stop offset=".892" stop-color="#1a1a1a"/><stop offset=".908" stop-color="#393939"/><stop offset=".938" stop-color="#3f3f3f"/><stop offset=".969" stop-color="#3d3d3d"/><stop offset="1" stop-color="#121212"/></linearGradient>
<linearGradient id="p45" gradientUnits="userSpaceOnUse" x1="962.3" x2="1170.9" y1="0" y2="0"><stop offset="0" stop-color="#252525"/><stop offset=".015" stop-color="#3c3c3c"/><stop offset=".062" stop-color="#3f3f3f"/><stop offset=".077" stop-color="#3a3a3a"/><stop offset=".108" stop-color="#030303"/><stop offset=".185" stop-color="#010101"/><stop offset=".2" stop-color="#101010"/><stop offset=".215" stop-color="#2b2b2b"/><stop offset=".231" stop-color="#3e3e3e"/><stop offset=".246" stop-color="#474747"/><stop offset=".262" stop-color="#474747"/><stop offset=".277" stop-color="#3e3e3e"/><stop offset=".308" stop-color="#131313"/><stop offset=".323" stop-color="#111"/><stop offset=".338" stop-color="#2b2b2b"/><stop offset=".354" stop-color="#515151"/><stop offset=".369" stop-color="#6f6f6f"/><stop offset=".385" stop-color="#828282"/><stop offset=".4" stop-color="#7e7e7e"/><stop offset=".415" stop-color="#626262"/><stop offset=".431" stop-color="#2c2c2c"/><stop offset=".446" stop-color="#040404"/><stop offset=".508" stop-color="#000"/><stop offset=".523" stop-color="#000"/><stop offset=".538" stop-color="#101010"/><stop offset=".554" stop-color="#464646"/><stop offset=".569" stop-color="#6f6f6f"/><stop offset=".585" stop-color="#818181"/><stop offset=".6" stop-color="#7e7e7e"/><stop offset=".631" stop-color="#454545"/><stop offset=".646" stop-color="#1c1c1c"/><stop offset=".662" stop-color="#101010"/><stop offset=".677" stop-color="#1c1c1c"/><stop offset=".692" stop-color="#363636"/><stop offset=".708" stop-color="#444"/><stop offset=".723" stop-color="#484848"/><stop offset=".738" stop-color="#444"/><stop offset=".754" stop-color="#363636"/><stop offset=".785" stop-color="#050505"/><stop offset=".815" stop-color="#000"/><stop offset=".862" stop-color="#000"/><stop offset=".877" stop-color="#090909"/><stop offset=".892" stop-color="#2c2c2c"/><stop offset=".908" stop-color="#3d3d3d"/><stop offset=".954" stop-color="#3f3f3f"/><stop offset=".969" stop-color="#373737"/><stop offset=".985" stop-color="#1b1b1b"/><stop offset="1" stop-color="#101010"/></linearGradient>
<linearGradient id="p44" gradientUnits="userSpaceOnUse" x1="961.3" x2="1169.9" y1="0" y2="0"><stop offset="0" stop-color="#171717"/><stop offset=".015" stop-color="#333"/><stop offset=".031" stop-color="#3f3f3f"/><stop offset=".077" stop-color="#3e3e3e"/><stop offset=".092" stop-color="#2e2e2e"/><stop offset=".108" stop-color="#0a0a0a"/><stop offset=".123" stop-color="#000"/><stop offset=".185" stop-color="#000"/><stop offset=".2" stop-color="#070707"/><stop offset=".231" stop-color="#383838"/><stop offset=".246" stop-color="#454545"/><stop offset=".262" stop-color="#484848"/><stop offset=".277" stop-color="#444"/><stop offset=".292" stop-color="#343434"/><stop offset=".308" stop-color="#1a1a1a"/><stop offset=".323" stop-color="#111"/><stop offset=".338" stop-color="#2c2c2c"/><stop offset=".369" stop-color="#707070"/><stop offset=".385" stop-color="#838383"/><stop offset=".4" stop-color="#7f7f7f"/><stop offset=".415" stop-color="#626262"/><stop offset=".431" stop-color="#2c2c2c"/><stop offset=".446" stop-color="#040404"/><stop offset=".508" stop-color="#000"/><stop offset=".523" stop-color="#000"/><stop offset=".538" stop-color="#101010"/><stop offset=".554" stop-color="#464646"/><stop offset=".569" stop-color="#707070"/><stop offset=".585" stop-color="#838383"/><stop offset=".6" stop-color="#7f7f7f"/><stop offset=".631" stop-color="#464646"/><stop offset=".646" stop-color="#1d1d1d"/><stop offset=".662" stop-color="#121212"/><stop offset=".692" stop-color="#3d3d3d"/><stop offset=".708" stop-color="#484848"/><stop offset=".723" stop-color="#484848"/><stop offset=".738" stop-color="#404040"/><stop offset=".754" stop-color="#2e2e2e"/><stop offset=".769" stop-color="#131313"/><stop offset=".785" stop-color="#020202"/><stop offset=".862" stop-color="#020202"/><stop offset=".877" stop-color="#161616"/><stop offset=".892" stop-color="#383838"/><stop offset=".923" stop-color="#404040"/><stop offset=".954" stop-color="#3e3e3e"/><stop offset=".985" stop-color="#121212"/><stop offset="1" stop-color="#101010"/></linearGradient>
<linearGradient id="p43" gradientUnits="userSpaceOnUse" x1="960.2" x2="1168.8" y1="0" y2="0"><stop offset="0" stop-color="#121212"/><stop offset=".031" stop-color="#3c3c3c"/><stop offset=".077" stop-color="#3f3f3f"/><stop offset=".092" stop-color="#393939"/><stop offset=".108" stop-color="#191919"/><stop offset=".123" stop-color="#020202"/><stop offset=".2" stop-color="#020202"/><stop offset=".231" stop-color="#303030"/><stop offset=".246" stop-color="#414141"/><stop offset=".262" stop-color="#484848"/><stop offset=".277" stop-color="#474747"/><stop offset=".292" stop-color="#3c3c3c"/><stop offset=".323" stop-color="#131313"/><stop offset=".338" stop-color="#2c2c2c"/><stop offset=".354" stop-color="#525252"/><stop offset=".369" stop-color="#717171"/><stop offset=".385" stop-color="#858585"/><stop offset=".4" stop-color="#808080"/><stop offset=".415" stop-color="#636363"/><stop offset=".431" stop-color="#2c2c2c"/><stop offset=".446" stop-color="#040404"/><stop offset=".508" stop-color="#000"/><stop offset=".523" stop-color="#000"/><stop offset=".538" stop-color="#101010"/><stop offset=".554" stop-color="#474747"/><stop offset=".569" stop-color="#717171"/><stop offset=".585" stop-color="#848484"/><stop offset=".6" stop-color="#808080"/><stop offset=".631" stop-color="#464646"/><stop offset=".646" stop-color="#1d1d1d"/><stop offset=".662" stop-color="#1a1a1a"/><stop offset=".677" stop-color="#323232"/><stop offset=".692" stop-color="#434343"/><stop offset=".708" stop-color="#494949"/><stop offset=".723" stop-color="#464646"/><stop offset=".738" stop-color="#3a3a3a"/><stop offset=".754" stop-color="#252525"/><stop offset=".769" stop-color="#090909"/><stop offset=".785" stop-color="#000"/><stop offset=".846" stop-color="#000"/><stop offset=".862" stop-color="#060606"/><stop offset=".877" stop-color="#282828"/><stop offset=".892" stop-color="#3d3d3d"/><stop offset=".938" stop-color="#404040"/><stop offset=".954" stop-color="#363636"/><stop offset=".969" stop-color="#1a1a1a"/><stop offset=".985" stop-color="#101010"/><stop offset="1" stop-color="#101010"/></linearGradient>
<linearGradient id="p42" gradientUnits="userSpaceOnUse" x1="959.2" x2="1167.8" y1="0" y2="0"><stop offset="0" stop-color="#111"/><stop offset=".015" stop-color="#171717"/><stop offset=".031" stop-color="#323232"/><stop offset=".046" stop-color="#404040"/><stop offset=".092" stop-color="#3e3e3e"/><stop offset=".108" stop-color="#2b2b2b"/><stop offset=".123" stop-color="#080808"/><stop offset=".138" stop-color="#000"/><stop offset=".2" stop-color="#010101"/><stop offset=".215" stop-color="#0b0b0b"/><stop offset=".231" stop-color="#272727"/><stop offset=".246" stop-color="#3c3c3c"/><stop offset=".262" stop-color="#474747"/><stop offset=".277" stop-color="#494949"/><stop offset=".292" stop-color="#424242"/><stop offset=".308" stop-color="#313131"/><stop offset=".323" stop-color="#191919"/><stop offset=".338" stop-color="#2c2c2c"/><stop offset=".354" stop-color="#535353"/><stop offset=".369" stop-color="#727272"/><stop offset=".385" stop-color="#868686"/><stop offset=".4" stop-color="#818181"/><stop offset=".415" stop-color="#646464"/><stop offset=".431" stop-color="#2d2d2d"/><stop offset=".446" stop-color="#040404"/><stop offset=".508" stop-color="#000"/><stop offset=".523" stop-color="#010101"/><stop offset=".538" stop-color="#101010"/><stop offset=".554" stop-color="#474747"/><stop offset=".569" stop-color="#727272"/><stop offset=".585" stop-color="#868686"/><stop offset=".6" stop-color="#828282"/><stop offset=".631" stop-color="#474747"/><stop offset=".646" stop-color="#1f1f1f"/><stop offset=".662" stop-color="#252525"/><stop offset=".677" stop-color="#3b3b3b"/><stop offset=".692" stop-color="#474747"/><stop offset=".708" stop-color="#494949"/><stop offset=".723" stop-color="#434343"/><stop offset=".738" stop-color="#333"/><stop offset=".769" stop-color="#030303"/><stop offset=".846" stop-color="#010101"/><stop offset=".862" stop-color="#121212"/><stop offset=".877" stop-color="#363636"/><stop offset=".892" stop-color="#3f3f3f"/><stop offset=".938" stop-color="#3e3e3e"/><stop offset=".969" stop-color="#121212"/><stop offset="1" stop-color="#111"/></linearGradient>
<linearGradient id="p41" gradientUnits="userSpaceOnUse" x1="958.1" x2="1166.7" y1="0" y2="0"><stop offset="0" stop-color="#111"/><stop offset=".015" stop-color="#121212"/><stop offset=".031" stop-color="#222"/><stop offset=".046" stop-color="#3c3c3c"/><stop offset=".077" stop-color="#414141"/><stop offset=".092" stop-color="#404040"/><stop offset=".108" stop-color="#383838"/><stop offset=".123" stop-color="#151515"/><stop offset=".138" stop-color="#010101"/><stop offset=".2" stop-color="#000"/><stop offset=".215" stop-color="#040404"/><stop offset=".246" stop-color="#343434"/><stop offset=".262" stop-color="#444"/><stop offset=".277" stop-color="#494949"/><stop offset=".292" stop-color="#474747"/><stop offset=".308" stop-color="#3a3a3a"/><stop offset=".323" stop-color="#232323"/><stop offset=".338" stop-color="#2e2e2e"/><stop offset=".369" stop-color="#737373"/><stop offset=".385" stop-color="#878787"/><stop offset=".4" stop-color="#838383"/><stop offset=".415" stop-color="#656565"/><stop offset=".431" stop-color="#2d2d2d"/><stop offset=".446" stop-color="#040404"/><stop offset=".508" stop-color="#000"/><stop offset=".523" stop-color="#010101"/><stop offset=".538" stop-color="#111"/><stop offset=".554" stop-color="#484848"/><stop offset=".569" stop-color="#737373"/><stop offset=".585" stop-color="#878787"/><stop offset=".6" stop-color="#838383"/><stop offset=".631" stop-color="#474747"/><stop offset=".646" stop-color="#242424"/><stop offset=".677" stop-color="#424242"/><stop offset=".692" stop-color="#4a4a4a"/><stop offset=".708" stop-color="#484848"/><stop offset=".723" stop-color="#3e3e3e"/><stop offset=".738" stop-color="#2a2a2a"/><stop offset=".754" stop-color="#0d0d0d"/><stop offset=".769" stop-color="#010101"/><stop offset=".831" stop-color="#000"/><stop offset=".846" stop-color="#050505"/><stop offset=".877" stop-color="#3d3d3d"/><stop offset=".923" stop-color="#404040"/><stop offset=".938" stop-color="#353535"/><stop offset=".954" stop-color="#191919"/><stop offset=".969" stop-color="#111"/><stop offset="1" stop-color="#111"/></linearGradient>
<linearGradient id="p40" gradientUnits="userSpaceOnUse" x1="957.1" x2="1165.7" y1="0" y2="0"><stop offset="0" stop-color="#111"/><stop offset=".031" stop-color="#161616"/><stop offset=".046" stop-color="#303030"/><stop offset=".062" stop-color="#404040"/><stop offset=".108" stop-color="#3e3e3e"/><stop offset=".123" stop-color="#272727"/><stop offset=".138" stop-color="#060606"/><stop offset=".169" stop-color="#000"/><stop offset=".215" stop-color="#010101"/><stop offset=".231" stop-color="#0f0f0f"/><stop offset=".246" stop-color="#2b2b2b"/><stop offset=".262" stop-color="#3f3f3f"/><stop offset=".277" stop-color="#494949"/><stop offset=".292" stop-color="#4a4a4a"/><stop offset=".308" stop-color="#414141"/><stop offset=".323" stop-color="#2f2f2f"/><stop offset=".338" stop-color="#323232"/><stop offset=".369" stop-color="#747474"/><stop offset=".385" stop-color="#898989"/><stop offset=".4" stop-color="#848484"/><stop offset=".415" stop-color="#666"/><stop offset=".431" stop-color="#2e2e2e"/><stop offset=".446" stop-color="#040404"/><stop offset=".508" stop-color="#000"/><stop offset=".523" stop-color="#010101"/><stop offset=".538" stop-color="#111"/><stop offset=".554" stop-color="#494949"/><stop offset=".569" stop-color="#757575"/><stop offset=".585" stop-color="#888"/><stop offset=".6" stop-color="#848484"/><stop offset=".646" stop-color="#2d2d2d"/><stop offset=".677" stop-color="#474747"/><stop offset=".692" stop-color="#4a4a4a"/><stop offset=".708" stop-color="#464646"/><stop offset=".723" stop-color="#373737"/><stop offset=".754" stop-color="#050505"/><stop offset=".785" stop-color="#000"/><stop offset=".831" stop-color="#010101"/><stop offset=".846" stop-color="#0f0f0f"/><stop offset=".862" stop-color="#343434"/><stop offset=".877" stop-color="#404040"/><stop offset=".923" stop-color="#3d3d3d"/><stop offset=".954" stop-color="#131313"/><stop offset="1" stop-color="#111"/></linearGradient>
<linearGradient id="p39" gradientUnits="userSpaceOnUse" x1="956.0" x2="1164.6" y1="0" y2="0"><stop offset="0" stop-color="#111"/><stop offset=".031" stop-color="#121212"/><stop offset=".046" stop-color="#202020"/><stop offset=".062" stop-color="#3b3b3b"/><stop offset=".092" stop-color="#414141"/><stop offset=".108" stop-color="#404040"/><stop offset=".123" stop-color="#363636"/><stop offset=".138" stop-color="#111"/><stop offset=".154" stop-color="#010101"/><stop offset=".215" stop-color="#000"/><stop offset=".231" stop-color="#060606"/><stop offset=".262" stop-color="#383838"/><stop offset=".277" stop-color="#464646"/><stop offset=".292" stop-color="#4a4a4a"/><stop offset=".308" stop-color="#464646"/><stop offset=".323" stop-color="#393939"/><stop offset=".338" stop-color="#3b3b3b"/><stop offset=".354" stop-color="#545454"/><stop offset=".369" stop-color="#747474"/><stop offset=".385" stop-color="#8a8a8a"/><stop offset=".4" stop-color="#858585"/><stop offset=".415" stop-color="#676767"/><stop offset=".431" stop-color="#2e2e2e"/><stop offset=".446" stop-color="#050505"/><stop offset=".477" stop-color="#000"/><stop offset=".523" stop-color="#010101"/><stop offset=".538" stop-color="#111"/><stop offset=".554" stop-color="#4a4a4a"/><stop offset=".569" stop-color="#767676"/><stop offset=".585" stop-color="#8a8a8a"/><stop offset=".6" stop-color="#858585"/><stop offset=".631" stop-color="#4c4c4c"/><stop offset=".646" stop-color="#393939"/><stop offset=".677" stop-color="#4a4a4a"/><stop offset=".692" stop-color="#4a4a4a"/><stop offset=".708" stop-color="#414141"/><stop offset=".723" stop-color="#2e2e2e"/><stop offset=".738" stop-color="#121212"/><stop offset=".754" stop-color="#020202"/><stop offset=".815" stop-color="#000"/><stop offset=".831" stop-color="#040404"/><stop offset=".862" stop-color="#3c3c3c"/><stop offset=".892" stop-color="#414141"/><stop offset=".908" stop-color="#414141"/><stop offset=".923" stop-color="#323232"/><stop offset=".938" stop-color="#181818"/><stop offset=".969" stop-color="#111"/><stop offset="1" stop-color="#111"/></linearGradient>
<linearGradient id="p38" gradientUnits="userSpaceOnUse" x1="955.0" x2="1163.6" y1="0" y2="0"><stop offset="0" stop-color="#121212"/><stop offset=".046" stop-color="#151515"/><stop offset=".062" stop-color="#2e2e2e"/><stop offset=".077" stop-color="#404040"/><stop offset=".123" stop-color="#3d3d3d"/><stop offset=".154" stop-color="#040404"/><stop offset=".215" stop-color="#000"/><stop offset=".231" stop-color="#020202"/><stop offset=".246" stop-color="#141414"/><stop offset=".262" stop-color="#303030"/><stop offset=".277" stop-color="#424242"/><stop offset=".292" stop-color="#4a4a4a"/><stop offset=".308" stop-color="#4a4a4a"/><stop offset=".323" stop-color="#414141"/><stop offset=".338" stop-color="#474747"/><stop offset=".354" stop-color="#575757"/><stop offset=".369" stop-color="#757575"/><stop offset=".385" stop-color="#8b8b8b"/><stop offset=".4" stop-color="#878787"/><stop offset=".415" stop-color="#696969"/><stop offset=".431" stop-color="#2f2f2f"/><stop offset=".446" stop-color="#050505"/><stop offset=".477" stop-color="#000"/><stop offset=".523" stop-color="#010101"/><stop offset=".538" stop-color="#121212"/><stop offset=".554" stop-color="#4b4b4b"/><stop offset=".569" stop-color="#787878"/><stop offset=".585" stop-color="#8b8b8b"/><stop offset=".6" stop-color="#858585"/><stop offset=".615" stop-color="#696969"/><stop offset=".646" stop-color="#444"/><stop offset=".677" stop-color="#4b4b4b"/><stop offset=".692" stop-color="#484848"/><stop offset=".708" stop-color="#3b3b3b"/><stop offset=".738" stop-color="#070707"/><stop offset=".754" stop-color="#000"/><stop offset=".815" stop-color="#010101"/><stop offset=".831" stop-color="#0c0c0c"/><stop offset=".846" stop-color="#313131"/><stop offset=".862" stop-color="#404040"/><stop offset=".892" stop-color="#424242"/><stop offset=".908" stop-color="#3d3d3d"/><stop offset=".923" stop-color="#222"/><stop offset=".938" stop-color="#131313"/><stop offset="1" stop-color="#111"/></linearGradient>
<linearGradient id="p37" gradientUnits="userSpaceOnUse" x1="954.0" x2="1162.6" y1="0" y2="0"><stop offset="0" stop-color="#121212"/><stop offset=".046" stop-color="#131313"/><stop offset=".062" stop-color="#1e1e1e"/><stop offset=".077" stop-color="#3a3a3a"/><stop offset=".092" stop-color="#424242"/><stop offset=".123" stop-color="#414141"/><stop offset=".138" stop-color="#333"/><stop offset=".154" stop-color="#0e0e0e"/><stop offset=".169" stop-color="#010101"/><stop offset=".231" stop-color="#010101"/><stop offset=".246" stop-color="#090909"/><stop offset=".262" stop-color="#262626"/><stop offset=".277" stop-color="#3c3c3c"/><stop offset=".292" stop-color="#484848"/><stop offset=".308" stop-color="#4b4b4b"/><stop offset=".323" stop-color="#474747"/><stop offset=".354" stop-color="#5e5e5e"/><stop offset=".385" stop-color="#8b8b8b"/><stop offset=".4" stop-color="#888"/><stop offset=".415" stop-color="#6a6a6a"/><stop offset=".431" stop-color="#313131"/><stop offset=".446" stop-color="#060606"/><stop offset=".492" stop-color="#000"/><stop offset=".523" stop-color="#010101"/><stop offset=".538" stop-color="#131313"/><stop offset=".554" stop-color="#4c4c4c"/><stop offset=".569" stop-color="#797979"/><stop offset=".585" stop-color="#8c8c8c"/><stop offset=".6" stop-color="#868686"/><stop offset=".615" stop-color="#6b6b6b"/><stop offset=".631" stop-color="#5f5f5f"/><stop offset=".646" stop-color="#4c4c4c"/><stop offset=".677" stop-color="#4b4b4b"/><stop offset=".692" stop-color="#444"/><stop offset=".708" stop-color="#333"/><stop offset=".723" stop-color="#171717"/><stop offset=".738" stop-color="#030303"/><stop offset=".815" stop-color="#030303"/><stop offset=".831" stop-color="#1c1c1c"/><stop offset=".846" stop-color="#3c3c3c"/><stop offset=".877" stop-color="#424242"/><stop offset=".892" stop-color="#414141"/><stop offset=".908" stop-color="#313131"/><stop offset=".923" stop-color="#171717"/><stop offset=".954" stop-color="#121212"/><stop offset="1" stop-color="#101010"/></linearGradient>
<linearGradient id="p36" gradientUnits="userSpaceOnUse" x1="952.9" x2="1161.5" y1="0" y2="0"><stop offset="0" stop-color="#121212"/><stop offset=".062" stop-color="#151515"/><stop offset=".092" stop-color="#404040"/><stop offset=".123" stop-color="#424242"/><stop offset=".138" stop-color="#3d3d3d"/><stop offset=".169" stop-color="#030303"/><stop offset=".246" stop-color="#030303"/><stop offset=".277" stop-color="#353535"/><stop offset=".292" stop-color="#454545"/><stop offset=".323" stop-color="#4b4b4b"/><stop offset=".369" stop-color="#777"/><stop offset=".385" stop-color="#8c8c8c"/><stop offset=".4" stop-color="#898989"/><stop offset=".415" stop-color="#6c6c6c"/><stop offset=".431" stop-color="#323232"/><stop offset=".446" stop-color="#060606"/><stop offset=".492" stop-color="#000"/><stop offset=".523" stop-color="#020202"/><stop offset=".538" stop-color="#141414"/><stop offset=".554" stop-color="#4e4e4e"/><stop offset=".569" stop-color="#7a7a7a"/><stop offset=".585" stop-color="#8d8d8d"/><stop offset=".6" stop-color="#878787"/><stop offset=".615" stop-color="#717171"/><stop offset=".631" stop-color="#6a6a6a"/><stop offset=".646" stop-color="#525252"/><stop offset=".677" stop-color="#4a4a4a"/><stop offset=".692" stop-color="#3e3e3e"/><stop offset=".708" stop-color="#292929"/><stop offset=".723" stop-color="#0c0c0c"/><stop offset=".738" stop-color="#010101"/><stop offset=".8" stop-color="#000"/><stop offset=".815" stop-color="#090909"/><stop offset=".831" stop-color="#2e2e2e"/><stop offset=".846" stop-color="#404040"/><stop offset=".877" stop-color="#424242"/><stop offset=".892" stop-color="#3c3c3c"/><stop offset=".908" stop-color="#212121"/><stop offset=".923" stop-color="#131313"/><stop offset="1" stop-color="#0d0d0d"/></linearGradient>
<linearGradient id="p35" gradientUnits="userSpaceOnUse" x1="951.9" x2="1160.5" y1="0" y2="0"><stop offset="0" stop-color="#111"/><stop offset=".062" stop-color="#131313"/><stop offset=".077" stop-color="#1d1d1d"/><stop offset=".092" stop-color="#393939"/><stop offset=".108" stop-color="#424242"/><stop offset=".138" stop-color="#414141"/><stop offset=".154" stop-color="#303030"/><stop offset=".169" stop-color="#0b0b0b"/><stop offset=".185" stop-color="#010101"/><stop offset=".246" stop-color="#010101"/><stop offset=".262" stop-color="#0e0e0e"/><stop offset=".277" stop-color="#2b2b2b"/><stop offset=".292" stop-color="#404040"/><stop offset=".308" stop-color="#4a4a4a"/><stop offset=".323" stop-color="#4d4d4d"/><stop offset=".354" stop-color="#747474"/><stop offset=".385" stop-color="#8c8c8c"/><stop offset=".4" stop-color="#8a8a8a"/><stop offset=".415" stop-color="#6d6d6d"/><stop offset=".431" stop-color="#333"/><stop offset=".446" stop-color="#070707"/><stop offset=".477" stop-color="#000"/><stop offset=".523" stop-color="#020202"/><stop offset=".538" stop-color="#151515"/><stop offset=".554" stop-color="#4f4f4f"/><stop offset=".569" stop-color="#7c7c7c"/><stop offset=".585" stop-color="#8e8e8e"/><stop offset=".631" stop-color="#737373"/><stop offset=".646" stop-color="#575757"/><stop offset=".677" stop-color="#474747"/><stop offset=".692" stop-color="#373737"/><stop offset=".723" stop-color="#050505"/><stop offset=".754" stop-color="#000"/><stop offset=".8" stop-color="#020202"/><stop offset=".815" stop-color="#181818"/><stop offset=".831" stop-color="#3a3a3a"/><stop offset=".846" stop-color="#424242"/><stop offset=".877" stop-color="#414141"/><stop offset=".908" stop-color="#171717"/><stop offset=".985" stop-color="#0f0f0f"/><stop offset="1" stop-color="#090909"/></linearGradient>
<linearGradient id="p34" gradientUnits="userSpaceOnUse" x1="950.8" x2="1159.4" y1="0" y2="0"><stop offset="0" stop-color="#0e0e0e"/><stop offset=".077" stop-color="#151515"/><stop offset=".108" stop-color="#414141"/><stop offset=".138" stop-color="#424242"/><stop offset=".154" stop-color="#3b3b3b"/><stop offset=".169" stop-color="#1b1b1b"/><stop offset=".185" stop-color="#020202"/><stop offset=".246" stop-color="#000"/><stop offset=".262" stop-color="#060606"/><stop offset=".292" stop-color="#393939"/><stop offset=".308" stop-color="#474747"/><stop offset=".323" stop-color="#4e4e4e"/><stop offset=".354" stop-color="#7e7e7e"/><stop offset=".385" stop-color="#8e8e8e"/><stop offset=".4" stop-color="#8b8b8b"/><stop offset=".415" stop-color="#6f6f6f"/><stop offset=".431" stop-color="#353535"/><stop offset=".446" stop-color="#080808"/><stop offset=".477" stop-color="#000"/><stop offset=".523" stop-color="#030303"/><stop offset=".538" stop-color="#161616"/><stop offset=".554" stop-color="#515151"/><stop offset=".569" stop-color="#7d7d7d"/><stop offset=".585" stop-color="#8e8e8e"/><stop offset=".615" stop-color="#878787"/><stop offset=".631" stop-color="#7a7a7a"/><stop offset=".646" stop-color="#5a5a5a"/><stop offset=".677" stop-color="#424242"/><stop offset=".692" stop-color="#2e2e2e"/><stop offset=".708" stop-color="#111"/><stop offset=".723" stop-color="#020202"/><stop offset=".785" stop-color="#000"/><stop offset=".8" stop-color="#070707"/><stop offset=".815" stop-color="#2a2a2a"/><stop offset=".831" stop-color="#404040"/><stop offset=".862" stop-color="#434343"/><stop offset=".877" stop-color="#3b3b3b"/><stop offset=".892" stop-color="#202020"/><stop offset=".908" stop-color="#141414"/><stop offset=".969" stop-color="#111"/><stop offset="1" stop-color="#050505"/></linearGradient>
<linearGradient id="p33" gradientUnits="userSpaceOnUse" x1="949.8" x2="1158.4" y1="0" y2="0"><stop offset="0" stop-color="#0a0a0a"/><stop offset=".046" stop-color="#131313"/><stop offset=".077" stop-color="#141414"/><stop offset=".092" stop-color="#1c1c1c"/><stop offset=".108" stop-color="#383838"/><stop offset=".123" stop-color="#434343"/><stop offset=".154" stop-color="#414141"/><stop offset=".169" stop-color="#2d2d2d"/><stop offset=".185" stop-color="#080808"/><stop offset=".2" stop-color="#000"/><stop offset=".262" stop-color="#020202"/><stop offset=".277" stop-color="#141414"/><stop offset=".292" stop-color="#303030"/><stop offset=".308" stop-color="#434343"/><stop offset=".323" stop-color="#4d4d4d"/><stop offset=".354" stop-color="#858585"/><stop offset=".369" stop-color="#929292"/><stop offset=".4" stop-color="#8b8b8b"/><stop offset=".415" stop-color="#6f6f6f"/><stop offset=".431" stop-color="#363636"/><stop offset=".446" stop-color="#0a0a0a"/><stop offset=".462" stop-color="#020202"/><stop offset=".523" stop-color="#040404"/><stop offset=".538" stop-color="#171717"/><stop offset=".554" stop-color="#525252"/><stop offset=".569" stop-color="#7d7d7d"/><stop offset=".585" stop-color="#8f8f8f"/><stop offset=".6" stop-color="#959595"/><stop offset=".615" stop-color="#919191"/><stop offset=".631" stop-color="#7f7f7f"/><stop offset=".646" stop-color="#5a5a5a"/><stop offset=".677" stop-color="#3b3b3b"/><stop offset=".708" stop-color="#080808"/><stop offset=".738" stop-color="#000"/><stop offset=".785" stop-color="#010101"/><stop offset=".8" stop-color="#131313"/><stop offset=".815" stop-color="#383838"/><stop offset=".831" stop-color="#424242"/><stop offset=".862" stop-color="#424242"/><stop offset=".892" stop-color="#161616"/><stop offset=".969" stop-color="#0e0e0e"/><stop offset="1" stop-color="#040404"/></linearGradient>
<linearGradient id="p32" gradientUnits="userSpaceOnUse" x1="948.7" x2="1157.3" y1="0" y2="0"><stop offset="0" stop-color="#060606"/><stop offset=".031" stop-color="#121212"/><stop offset=".092" stop-color="#161616"/><stop offset=".123" stop-color="#414141"/><stop offset=".154" stop-color="#434343"/><stop offset=".169" stop-color="#3a3a3a"/><stop offset=".185" stop-color="#161616"/><stop offset=".2" stop-color="#020202"/><stop offset=".262" stop-color="#010101"/><stop offset=".277" stop-color="#090909"/><stop offset=".292" stop-color="#262626"/><stop offset=".308" stop-color="#3c3c3c"/><stop offset=".323" stop-color="#4b4b4b"/><stop offset=".354" stop-color="#8a8a8a"/><stop offset=".369" stop-color="#9b9b9b"/><stop offset=".385" stop-color="#989898"/><stop offset=".4" stop-color="#8c8c8c"/><stop offset=".415" stop-color="#707070"/><stop offset=".431" stop-color="#373737"/><stop offset=".446" stop-color="#0a0a0a"/><stop offset=".477" stop-color="#010101"/><stop offset=".523" stop-color="#040404"/><stop offset=".538" stop-color="#181818"/><stop offset=".554" stop-color="#525252"/><stop offset=".569" stop-color="#7e7e7e"/><stop offset=".6" stop-color="#a1a1a1"/><stop offset=".615" stop-color="#989898"/><stop offset=".631" stop-color="#828282"/><stop offset=".646" stop-color="#5a5a5a"/><stop offset=".677" stop-color="#333"/><stop offset=".692" stop-color="#171717"/><stop offset=".708" stop-color="#030303"/><stop offset=".769" stop-color="#000"/><stop offset=".785" stop-color="#050505"/><stop offset=".8" stop-color="#262626"/><stop offset=".815" stop-color="#3f3f3f"/><stop offset=".846" stop-color="#434343"/><stop offset=".862" stop-color="#3b3b3b"/><stop offset=".877" stop-color="#1f1f1f"/><stop offset=".892" stop-color="#141414"/><stop offset=".954" stop-color="#101010"/><stop offset=".985" stop-color="#050505"/><stop offset="1" stop-color="#060606"/></linearGradient>
<linearGradient id="p31" gradientUnits="userSpaceOnUse" x1="947.7" x2="1156.3" y1="0" y2="0"><stop offset="0" stop-color="#050505"/><stop offset=".062" stop-color="#141414"/><stop offset=".092" stop-color="#141414"/><stop offset=".108" stop-color="#1c1c1c"/><stop offset=".123" stop-color="#373737"/><stop offset=".138" stop-color="#434343"/><stop offset=".169" stop-color="#404040"/><stop offset=".185" stop-color="#292929"/><stop offset=".2" stop-color="#070707"/><stop offset=".215" stop-color="#000"/><stop offset=".277" stop-color="#030303"/><stop offset=".308" stop-color="#343434"/><stop offset=".323" stop-color="#474747"/><stop offset=".354" stop-color="#8d8d8d"/><stop offset=".369" stop-color="#a3a3a3"/><stop offset=".385" stop-color="#a3a3a3"/><stop offset=".4" stop-color="#8e8e8e"/><stop offset=".415" stop-color="#707070"/><stop offset=".431" stop-color="#373737"/><stop offset=".446" stop-color="#0a0a0a"/><stop offset=".477" stop-color="#010101"/><stop offset=".523" stop-color="#040404"/><stop offset=".538" stop-color="#181818"/><stop offset=".554" stop-color="#525252"/><stop offset=".569" stop-color="#7e7e7e"/><stop offset=".585" stop-color="#989898"/><stop offset=".6" stop-color="#ababab"/><stop offset=".615" stop-color="#9d9d9d"/><stop offset=".631" stop-color="#838383"/><stop offset=".646" stop-color="#585858"/><stop offset=".677" stop-color="#282828"/><stop offset=".692" stop-color="#0b0b0b"/><stop offset=".708" stop-color="#010101"/><stop offset=".769" stop-color="#010101"/><stop offset=".785" stop-color="#101010"/><stop offset=".8" stop-color="#363636"/><stop offset=".815" stop-color="#424242"/><stop offset=".846" stop-color="#424242"/><stop offset=".877" stop-color="#171717"/><stop offset=".938" stop-color="#121212"/><stop offset=".969" stop-color="#060606"/><stop offset="1" stop-color="#0a0a0a"/></linearGradient>
<linearGradient id="p30" gradientUnits="userSpaceOnUse" x1="946.6" x2="1155.3" y1="0" y2="0"><stop offset="0" stop-color="#070707"/><stop offset=".015" stop-color="#050505"/><stop offset=".062" stop-color="#141414"/><stop offset=".108" stop-color="#161616"/><stop offset=".138" stop-color="#404040"/><stop offset=".169" stop-color="#434343"/><stop offset=".185" stop-color="#383838"/><stop offset=".2" stop-color="#131313"/><stop offset=".215" stop-color="#010101"/><stop offset=".277" stop-color="#010101"/><stop offset=".292" stop-color="#0d0d0d"/><stop offset=".323" stop-color="#414141"/><stop offset=".354" stop-color="#8e8e8e"/><stop offset=".369" stop-color="#a8a8a8"/><stop offset=".385" stop-color="#aeaeae"/><stop offset=".4" stop-color="#939393"/><stop offset=".415" stop-color="#6f6f6f"/><stop offset=".431" stop-color="#363636"/><stop offset=".446" stop-color="#0a0a0a"/><stop offset=".462" stop-color="#020202"/><stop offset=".523" stop-color="#040404"/><stop offset=".538" stop-color="#171717"/><stop offset=".554" stop-color="#515151"/><stop offset=".569" stop-color="#7e7e7e"/><stop offset=".585" stop-color="#a3a3a3"/><stop offset=".6" stop-color="#b2b2b2"/><stop offset=".615" stop-color="#a1a1a1"/><stop offset=".631" stop-color="#838383"/><stop offset=".646" stop-color="#545454"/><stop offset=".677" stop-color="#1c1c1c"/><stop offset=".692" stop-color="#040404"/><stop offset=".754" stop-color="#000"/><stop offset=".769" stop-color="#040404"/><stop offset=".8" stop-color="#3f3f3f"/><stop offset=".831" stop-color="#444"/><stop offset=".846" stop-color="#3a3a3a"/><stop offset=".862" stop-color="#1e1e1e"/><stop offset=".877" stop-color="#151515"/><stop offset=".923" stop-color="#131313"/><stop offset=".969" stop-color="#050505"/><stop offset="1" stop-color="#0e0e0e"/></linearGradient>
<linearGradient id="p29" gradientUnits="userSpaceOnUse" x1="945.6" x2="1154.2" y1="0" y2="0"><stop offset="0" stop-color="#0b0b0b"/><stop offset=".031" stop-color="#070707"/><stop offset=".077" stop-color="#141414"/><stop offset=".108" stop-color="#151515"/><stop offset=".123" stop-color="#1b1b1b"/><stop offset=".138" stop-color="#363636"/><stop offset=".154" stop-color="#444"/><stop offset=".185" stop-color="#404040"/><stop offset=".215" stop-color="#050505"/><stop offset=".246" stop-color="#000"/><stop offset=".277" stop-color="#000"/><stop offset=".292" stop-color="#050505"/><stop offset=".323" stop-color="#393939"/><stop offset=".354" stop-color="#8e8e8e"/><stop offset=".369" stop-color="#acacac"/><stop offset=".385" stop-color="#b5b5b5"/><stop offset=".4" stop-color="#9b9b9b"/><stop offset=".415" stop-color="#6e6e6e"/><stop offset=".431" stop-color="#343434"/><stop offset=".446" stop-color="#080808"/><stop offset=".477" stop-color="#000"/><stop offset=".523" stop-color="#030303"/><stop offset=".538" stop-color="#161616"/><stop offset=".554" stop-color="#505050"/><stop offset=".569" stop-color="#828282"/><stop offset=".585" stop-color="#acacac"/><stop offset=".6" stop-color="#b8b8b8"/><stop offset=".615" stop-color="#a2a2a2"/><stop offset=".631" stop-color="#818181"/><stop offset=".646" stop-color="#4e4e4e"/><stop offset=".677" stop-color="#0f0f0f"/><stop offset=".692" stop-color="#010101"/><stop offset=".754" stop-color="#010101"/><stop offset=".769" stop-color="#0d0d0d"/><stop offset=".785" stop-color="#333"/><stop offset=".8" stop-color="#434343"/><stop offset=".831" stop-color="#424242"/><stop offset=".862" stop-color="#171717"/><stop offset=".923" stop-color="#111"/><stop offset=".954" stop-color="#060606"/><stop offset="1" stop-color="#101010"/></linearGradient>
<linearGradient id="p28" gradientUnits="userSpaceOnUse" x1="944.6" x2="1153.2" y1="0" y2="0"><stop offset="0" stop-color="#0f0f0f"/><stop offset=".031" stop-color="#060606"/><stop offset=".092" stop-color="#151515"/><stop offset=".123" stop-color="#161616"/><stop offset=".138" stop-color="#262626"/><stop offset=".154" stop-color="#404040"/><stop offset=".169" stop-color="#454545"/><stop offset=".185" stop-color="#434343"/><stop offset=".2" stop-color="#353535"/><stop offset=".215" stop-color="#0f0f0f"/><stop offset=".231" stop-color="#010101"/><stop offset=".292" stop-color="#020202"/><stop offset=".308" stop-color="#121212"/><stop offset=".323" stop-color="#303030"/><stop offset=".354" stop-color="#8c8c8c"/><stop offset=".369" stop-color="#adadad"/><stop offset=".385" stop-color="#bababa"/><stop offset=".4" stop-color="#a5a5a5"/><stop offset=".415" stop-color="#707070"/><stop offset=".431" stop-color="#323232"/><stop offset=".446" stop-color="#070707"/><stop offset=".477" stop-color="#000"/><stop offset=".523" stop-color="#020202"/><stop offset=".538" stop-color="#141414"/><stop offset=".569" stop-color="#898989"/><stop offset=".585" stop-color="#b3b3b3"/><stop offset=".6" stop-color="#bbb"/><stop offset=".615" stop-color="#a1a1a1"/><stop offset=".631" stop-color="#7d7d7d"/><stop offset=".646" stop-color="#464646"/><stop offset=".662" stop-color="#212121"/><stop offset=".677" stop-color="#060606"/><stop offset=".723" stop-color="#000"/><stop offset=".754" stop-color="#030303"/><stop offset=".769" stop-color="#1d1d1d"/><stop offset=".785" stop-color="#3e3e3e"/><stop offset=".815" stop-color="#444"/><stop offset=".831" stop-color="#393939"/><stop offset=".846" stop-color="#1d1d1d"/><stop offset=".862" stop-color="#151515"/><stop offset=".908" stop-color="#121212"/><stop offset=".938" stop-color="#070707"/><stop offset="1" stop-color="#111"/></linearGradient>
<linearGradient id="p27" gradientUnits="userSpaceOnUse" x1="943.5" x2="1152.1" y1="0" y2="0"><stop offset="0" stop-color="#111"/><stop offset=".046" stop-color="#070707"/><stop offset=".108" stop-color="#151515"/><stop offset=".138" stop-color="#1a1a1a"/><stop offset=".154" stop-color="#343434"/><stop offset=".169" stop-color="#444"/><stop offset=".185" stop-color="#454545"/><stop offset=".2" stop-color="#3f3f3f"/><stop offset=".231" stop-color="#030303"/><stop offset=".292" stop-color="#010101"/><stop offset=".308" stop-color="#080808"/><stop offset=".323" stop-color="#242424"/><stop offset=".354" stop-color="#888"/><stop offset=".369" stop-color="#acacac"/><stop offset=".385" stop-color="#bebebe"/><stop offset=".4" stop-color="#acacac"/><stop offset=".415" stop-color="#777"/><stop offset=".431" stop-color="#313131"/><stop offset=".446" stop-color="#060606"/><stop offset=".492" stop-color="#000"/><stop offset=".523" stop-color="#010101"/><stop offset=".538" stop-color="#131313"/><stop offset=".569" stop-color="#929292"/><stop offset=".585" stop-color="#b9b9b9"/><stop offset=".6" stop-color="#bcbcbc"/><stop offset=".615" stop-color="#9f9f9f"/><stop offset=".631" stop-color="#787878"/><stop offset=".646" stop-color="#3d3d3d"/><stop offset=".662" stop-color="#141414"/><stop offset=".677" stop-color="#020202"/><stop offset=".738" stop-color="#000"/><stop offset=".754" stop-color="#0a0a0a"/><stop offset=".769" stop-color="#2f2f2f"/><stop offset=".785" stop-color="#424242"/><stop offset=".8" stop-color="#454545"/><stop offset=".815" stop-color="#414141"/><stop offset=".846" stop-color="#171717"/><stop offset=".908" stop-color="#0f0f0f"/><stop offset=".938" stop-color="#070707"/><stop offset="1" stop-color="#121212"/></linearGradient>
<linearGradient id="p26" gradientUnits="userSpaceOnUse" x1="942.5" x2="1151.1" y1="0" y2="0"><stop offset="0" stop-color="#121212"/><stop offset=".062" stop-color="#080808"/><stop offset=".108" stop-color="#151515"/><stop offset=".138" stop-color="#161616"/><stop offset=".154" stop-color="#252525"/><stop offset=".169" stop-color="#3f3f3f"/><stop offset=".185" stop-color="#454545"/><stop offset=".2" stop-color="#434343"/><stop offset=".215" stop-color="#323232"/><stop offset=".231" stop-color="#0c0c0c"/><stop offset=".246" stop-color="#010101"/><stop offset=".308" stop-color="#020202"/><stop offset=".323" stop-color="#171717"/><stop offset=".354" stop-color="#848484"/><stop offset=".369" stop-color="#ababab"/><stop offset=".385" stop-color="#c0c0c0"/><stop offset=".4" stop-color="#b2b2b2"/><stop offset=".415" stop-color="#808080"/><stop offset=".431" stop-color="#323232"/><stop offset=".446" stop-color="#050505"/><stop offset=".477" stop-color="#000"/><stop offset=".523" stop-color="#010101"/><stop offset=".538" stop-color="#121212"/><stop offset=".569" stop-color="#9b9b9b"/><stop offset=".585" stop-color="#bcbcbc"/><stop offset=".6" stop-color="#bcbcbc"/><stop offset=".615" stop-color="#9c9c9c"/><stop offset=".631" stop-color="#717171"/><stop offset=".646" stop-color="#323232"/><stop offset=".662" stop-color="#090909"/><stop offset=".677" stop-color="#010101"/><stop offset=".738" stop-color="#020202"/><stop offset=".754" stop-color="#191919"/><stop offset=".769" stop-color="#3c3c3c"/><stop offset=".785" stop-color="#444"/><stop offset=".8" stop-color="#454545"/><stop offset=".815" stop-color="#373737"/><stop offset=".831" stop-color="#1c1c1c"/><stop offset=".862" stop-color="#151515"/><stop offset=".892" stop-color="#111"/><stop offset=".923" stop-color="#080808"/><stop offset="1" stop-color="#121212"/></linearGradient>
<linearGradient id="p25" gradientUnits="userSpaceOnUse" x1="941.4" x2="1150.0" y1="0" y2="0"><stop offset="0" stop-color="#121212"/><stop offset=".077" stop-color="#0a0a0a"/><stop offset=".123" stop-color="#161616"/><stop offset=".154" stop-color="#1a1a1a"/><stop offset=".169" stop-color="#333"/><stop offset=".185" stop-color="#444"/><stop offset=".2" stop-color="#454545"/><stop offset=".215" stop-color="#3e3e3e"/><stop offset=".231" stop-color="#1c1c1c"/><stop offset=".246" stop-color="#030303"/><stop offset=".308" stop-color="#010101"/><stop offset=".323" stop-color="#0c0c0c"/><stop offset=".354" stop-color="#7d7d7d"/><stop offset=".369" stop-color="#a8a8a8"/><stop offset=".385" stop-color="#c0c0c0"/><stop offset=".4" stop-color="#b6b6b6"/><stop offset=".415" stop-color="#898989"/><stop offset=".431" stop-color="#383838"/><stop offset=".446" stop-color="#050505"/><stop offset=".477" stop-color="#000"/><stop offset=".523" stop-color="#010101"/><stop offset=".538" stop-color="#131313"/><stop offset=".554" stop-color="#606060"/><stop offset=".569" stop-color="#a1a1a1"/><stop offset=".585" stop-color="#bfbfbf"/><stop offset=".6" stop-color="#bbb"/><stop offset=".615" stop-color="#989898"/><stop offset=".631" stop-color="#696969"/><stop offset=".646" stop-color="#262626"/><stop offset=".662" stop-color="#030303"/><stop offset=".723" stop-color="#000"/><stop offset=".738" stop-color="#080808"/><stop offset=".754" stop-color="#2c2c2c"/><stop offset=".769" stop-color="#424242"/><stop offset=".785" stop-color="#454545"/><stop offset=".8" stop-color="#414141"/><stop offset=".815" stop-color="#282828"/><stop offset=".831" stop-color="#171717"/><stop offset=".877" stop-color="#131313"/><stop offset=".908" stop-color="#080808"/><stop offset=".985" stop-color="#121212"/><stop offset="1" stop-color="#111"/></linearGradient>
<linearGradient id="p24" gradientUnits="userSpaceOnUse" x1="940.4" x2="1149.0" y1="0" y2="0"><stop offset="0" stop-color="#111"/><stop offset=".062" stop-color="#0c0c0c"/><stop offset=".092" stop-color="#0c0c0c"/><stop offset=".138" stop-color="#161616"/><stop offset=".154" stop-color="#171717"/><stop offset=".169" stop-color="#232323"/><stop offset=".185" stop-color="#3f3f3f"/><stop offset=".2" stop-color="#464646"/><stop offset=".215" stop-color="#434343"/><stop offset=".231" stop-color="#2f2f2f"/><stop offset=".246" stop-color="#090909"/><stop offset=".262" stop-color="#000"/><stop offset=".308" stop-color="#000"/><stop offset=".323" stop-color="#060606"/><stop offset=".338" stop-color="#373737"/><stop offset=".354" stop-color="#767676"/><stop offset=".369" stop-color="#a4a4a4"/><stop offset=".385" stop-color="#bebebe"/><stop offset=".4" stop-color="#b9b9b9"/><stop offset=".415" stop-color="#909090"/><stop offset=".431" stop-color="#414141"/><stop offset=".446" stop-color="#060606"/><stop offset=".477" stop-color="#000"/><stop offset=".523" stop-color="#010101"/><stop offset=".538" stop-color="#191919"/><stop offset=".554" stop-color="#6a6a6a"/><stop offset=".569" stop-color="#a6a6a6"/><stop offset=".585" stop-color="#bfbfbf"/><stop offset=".6" stop-color="#b8b8b8"/><stop offset=".615" stop-color="#929292"/><stop offset=".631" stop-color="#5f5f5f"/><stop offset=".646" stop-color="#1a1a1a"/><stop offset=".662" stop-color="#010101"/><stop offset=".723" stop-color="#020202"/><stop offset=".738" stop-color="#151515"/><stop offset=".754" stop-color="#3a3a3a"/><stop offset=".769" stop-color="#454545"/><stop offset=".785" stop-color="#454545"/><stop offset=".8" stop-color="#363636"/><stop offset=".815" stop-color="#1c1c1c"/><stop offset=".846" stop-color="#161616"/><stop offset=".908" stop-color="#090909"/><stop offset=".969" stop-color="#121212"/><stop offset="1" stop-color="#0f0f0f"/></linearGradient>
<linearGradient id="p23" gradientUnits="userSpaceOnUse" x1="939.3" x2="1148.0" y1="0" y2="0"><stop offset="0" stop-color="#101010"/><stop offset=".062" stop-color="#0f0f0f"/><stop offset=".092" stop-color="#0a0a0a"/><stop offset=".138" stop-color="#161616"/><stop offset=".169" stop-color="#1a1a1a"/><stop offset=".2" stop-color="#444"/><stop offset=".215" stop-color="#454545"/><stop offset=".231" stop-color="#3c3c3c"/><stop offset=".246" stop-color="#181818"/><stop offset=".262" stop-color="#020202"/><stop offset=".323" stop-color="#030303"/><stop offset=".338" stop-color="#2b2b2b"/><stop offset=".354" stop-color="#6d6d6d"/><stop offset=".369" stop-color="#9f9f9f"/><stop offset=".385" stop-color="#bdbdbd"/><stop offset=".4" stop-color="#bababa"/><stop offset=".415" stop-color="#969696"/><stop offset=".431" stop-color="#4c4c4c"/><stop offset=".446" stop-color="#0a0a0a"/><stop offset=".462" stop-color="#000"/><stop offset=".523" stop-color="#020202"/><stop offset=".538" stop-color="#222"/><stop offset=".554" stop-color="#717171"/><stop offset=".569" stop-color="#a9a9a9"/><stop offset=".585" stop-color="#bfbfbf"/><stop offset=".6" stop-color="#b5b5b5"/><stop offset=".615" stop-color="#8b8b8b"/><stop offset=".631" stop-color="#545454"/><stop offset=".646" stop-color="#121212"/><stop offset=".662" stop-color="#010101"/><stop offset=".708" stop-color="#000"/><stop offset=".723" stop-color="#060606"/><stop offset=".738" stop-color="#282828"/><stop offset=".754" stop-color="#424242"/><stop offset=".769" stop-color="#464646"/><stop offset=".785" stop-color="#404040"/><stop offset=".8" stop-color="#262626"/><stop offset=".815" stop-color="#171717"/><stop offset=".862" stop-color="#121212"/><stop offset=".892" stop-color="#0a0a0a"/><stop offset=".954" stop-color="#121212"/><stop offset="1" stop-color="#0b0b0b"/></linearGradient>
<linearGradient id="p22" gradientUnits="userSpaceOnUse" x1="938.3" x2="1146.9" y1="0" y2="0"><stop offset="0" stop-color="#0d0d0d"/><stop offset=".062" stop-color="#111"/><stop offset=".108" stop-color="#0b0b0b"/><stop offset=".154" stop-color="#161616"/><stop offset=".169" stop-color="#171717"/><stop offset=".185" stop-color="#212121"/><stop offset=".2" stop-color="#3d3d3d"/><stop offset=".215" stop-color="#464646"/><stop offset=".231" stop-color="#434343"/><stop offset=".246" stop-color="#2b2b2b"/><stop offset=".262" stop-color="#070707"/><stop offset=".277" stop-color="#000"/><stop offset=".323" stop-color="#020202"/><stop offset=".338" stop-color="#222"/><stop offset=".354" stop-color="#616161"/><stop offset=".369" stop-color="#989898"/><stop offset=".385" stop-color="#bababa"/><stop offset=".4" stop-color="#bababa"/><stop offset=".415" stop-color="#9a9a9a"/><stop offset=".446" stop-color="#131313"/><stop offset=".462" stop-color="#010101"/><stop offset=".508" stop-color="#000"/><stop offset=".523" stop-color="#050505"/><stop offset=".538" stop-color="#2d2d2d"/><stop offset=".554" stop-color="#787878"/><stop offset=".569" stop-color="#ababab"/><stop offset=".585" stop-color="#bdbdbd"/><stop offset=".6" stop-color="#b0b0b0"/><stop offset=".615" stop-color="#818181"/><stop offset=".646" stop-color="#0f0f0f"/><stop offset=".662" stop-color="#000"/><stop offset=".708" stop-color="#010101"/><stop offset=".723" stop-color="#111"/><stop offset=".738" stop-color="#383838"/><stop offset=".754" stop-color="#454545"/><stop offset=".769" stop-color="#454545"/><stop offset=".8" stop-color="#1b1b1b"/><stop offset=".862" stop-color="#0e0e0e"/><stop offset=".892" stop-color="#0c0c0c"/><stop offset=".954" stop-color="#111"/><stop offset="1" stop-color="#080808"/></linearGradient>
<linearGradient id="p21" gradientUnits="userSpaceOnUse" x1="937.3" x2="1145.9" y1="0" y2="0"><stop offset="0" stop-color="#090909"/><stop offset=".062" stop-color="#121212"/><stop offset=".108" stop-color="#0b0b0b"/><stop offset=".185" stop-color="#191919"/><stop offset=".215" stop-color="#444"/><stop offset=".231" stop-color="#454545"/><stop offset=".246" stop-color="#3a3a3a"/><stop offset=".262" stop-color="#141414"/><stop offset=".277" stop-color="#010101"/><stop offset=".323" stop-color="#020202"/><stop offset=".338" stop-color="#1e1e1e"/><stop offset=".369" stop-color="#8e8e8e"/><stop offset=".385" stop-color="#b5b5b5"/><stop offset=".4" stop-color="#bababa"/><stop offset=".415" stop-color="#9d9d9d"/><stop offset=".446" stop-color="#1e1e1e"/><stop offset=".462" stop-color="#030303"/><stop offset=".508" stop-color="#010101"/><stop offset=".523" stop-color="#0c0c0c"/><stop offset=".538" stop-color="#373737"/><stop offset=".554" stop-color="#7d7d7d"/><stop offset=".569" stop-color="#acacac"/><stop offset=".585" stop-color="#bbb"/><stop offset=".6" stop-color="#a9a9a9"/><stop offset=".631" stop-color="#3d3d3d"/><stop offset=".646" stop-color="#0e0e0e"/><stop offset=".662" stop-color="#000"/><stop offset=".708" stop-color="#040404"/><stop offset=".738" stop-color="#414141"/><stop offset=".754" stop-color="#464646"/><stop offset=".769" stop-color="#3f3f3f"/><stop offset=".785" stop-color="#242424"/><stop offset=".8" stop-color="#171717"/><stop offset=".846" stop-color="#111"/><stop offset=".877" stop-color="#0c0c0c"/><stop offset=".938" stop-color="#111"/><stop offset="1" stop-color="#070707"/></linearGradient>
<linearGradient id="p20" gradientUnits="userSpaceOnUse" x1="936.2" x2="1144.8" y1="0" y2="0"><stop offset="0" stop-color="#080808"/><stop offset=".077" stop-color="#111"/><stop offset=".123" stop-color="#0c0c0c"/><stop offset=".169" stop-color="#171717"/><stop offset=".185" stop-color="#171717"/><stop offset=".2" stop-color="#202020"/><stop offset=".215" stop-color="#3c3c3c"/><stop offset=".231" stop-color="#464646"/><stop offset=".246" stop-color="#424242"/><stop offset=".277" stop-color="#050505"/><stop offset=".308" stop-color="#000"/><stop offset=".323" stop-color="#020202"/><stop offset=".338" stop-color="#1d1d1d"/><stop offset=".354" stop-color="#494949"/><stop offset=".369" stop-color="#838383"/><stop offset=".385" stop-color="#afafaf"/><stop offset=".4" stop-color="#b8b8b8"/><stop offset=".415" stop-color="#9f9f9f"/><stop offset=".446" stop-color="#2a2a2a"/><stop offset=".462" stop-color="#0b0b0b"/><stop offset=".477" stop-color="#020202"/><stop offset=".508" stop-color="#040404"/><stop offset=".523" stop-color="#181818"/><stop offset=".538" stop-color="#3f3f3f"/><stop offset=".554" stop-color="#818181"/><stop offset=".569" stop-color="#adadad"/><stop offset=".585" stop-color="#b8b8b8"/><stop offset=".6" stop-color="#a1a1a1"/><stop offset=".615" stop-color="#686868"/><stop offset=".646" stop-color="#0e0e0e"/><stop offset=".662" stop-color="#000"/><stop offset=".692" stop-color="#010101"/><stop offset=".708" stop-color="#0e0e0e"/><stop offset=".723" stop-color="#353535"/><stop offset=".738" stop-color="#454545"/><stop offset=".754" stop-color="#454545"/><stop offset=".785" stop-color="#1a1a1a"/><stop offset=".862" stop-color="#0c0c0c"/><stop offset=".923" stop-color="#111"/><stop offset="1" stop-color="#080808"/></linearGradient>
<linearGradient id="p19" gradientUnits="userSpaceOnUse" x1="935.2" x2="1143.8" y1="0" y2="0"><stop offset="0" stop-color="#080808"/><stop offset=".092" stop-color="#111"/><stop offset=".138" stop-color="#0d0d0d"/><stop offset=".2" stop-color="#191919"/><stop offset=".231" stop-color="#444"/><stop offset=".246" stop-color="#454545"/><stop offset=".262" stop-color="#373737"/><stop offset=".277" stop-color="#101010"/><stop offset=".292" stop-color="#010101"/><stop offset=".323" stop-color="#020202"/><stop offset=".338" stop-color="#1d1d1d"/><stop offset=".354" stop-color="#454545"/><stop offset=".385" stop-color="#a6a6a6"/><stop offset=".4" stop-color="#b5b5b5"/><stop offset=".415" stop-color="#a0a0a0"/><stop offset=".446" stop-color="#363636"/><stop offset=".462" stop-color="#181818"/><stop offset=".477" stop-color="#070707"/><stop offset=".492" stop-color="#050505"/><stop offset=".508" stop-color="#0b0b0b"/><stop offset=".538" stop-color="#484848"/><stop offset=".554" stop-color="#848484"/><stop offset=".569" stop-color="#acacac"/><stop offset=".585" stop-color="#b2b2b2"/><stop offset=".6" stop-color="#959595"/><stop offset=".615" stop-color="#5e5e5e"/><stop offset=".646" stop-color="#0e0e0e"/><stop offset=".662" stop-color="#000"/><stop offset=".692" stop-color="#030303"/><stop offset=".723" stop-color="#404040"/><stop offset=".738" stop-color="#464646"/><stop offset=".754" stop-color="#3e3e3e"/><stop offset=".769" stop-color="#222"/><stop offset=".785" stop-color="#181818"/><stop offset=".862" stop-color="#0e0e0e"/><stop offset=".908" stop-color="#111"/><stop offset=".985" stop-color="#080808"/><stop offset="1" stop-color="#090909"/></linearGradient>
<linearGradient id="p18" gradientUnits="userSpaceOnUse" x1="934.1" x2="1142.7" y1="0" y2="0"><stop offset="0" stop-color="#090909"/><stop offset=".046" stop-color="#0b0b0b"/><stop offset=".108" stop-color="#111"/><stop offset=".154" stop-color="#0f0f0f"/><stop offset=".215" stop-color="#1f1f1f"/><stop offset=".231" stop-color="#3b3b3b"/><stop offset=".246" stop-color="#464646"/><stop offset=".262" stop-color="#414141"/><stop offset=".292" stop-color="#040404"/><stop offset=".323" stop-color="#020202"/><stop offset=".338" stop-color="#1d1d1d"/><stop offset=".369" stop-color="#6c6c6c"/><stop offset=".385" stop-color="#9b9b9b"/><stop offset=".4" stop-color="#afafaf"/><stop offset=".415" stop-color="#a0a0a0"/><stop offset=".431" stop-color="#6d6d6d"/><stop offset=".446" stop-color="#414141"/><stop offset=".477" stop-color="#0f0f0f"/><stop offset=".492" stop-color="#0c0c0c"/><stop offset=".508" stop-color="#191919"/><stop offset=".538" stop-color="#515151"/><stop offset=".554" stop-color="#878787"/><stop offset=".569" stop-color="#aaa"/><stop offset=".585" stop-color="#ababab"/><stop offset=".6" stop-color="#888"/><stop offset=".615" stop-color="#5a5a5a"/><stop offset=".631" stop-color="#383838"/><stop offset=".646" stop-color="#0e0e0e"/><stop offset=".662" stop-color="#000"/><stop offset=".677" stop-color="#010101"/><stop offset=".692" stop-color="#0b0b0b"/><stop offset=".708" stop-color="#313131"/><stop offset=".723" stop-color="#454545"/><stop offset=".738" stop-color="#454545"/><stop offset=".769" stop-color="#1a1a1a"/><stop offset=".846" stop-color="#0e0e0e"/><stop offset=".908" stop-color="#101010"/><stop offset=".969" stop-color="#080808"/><stop offset="1" stop-color="#090909"/></linearGradient>
<linearGradient id="p17" gradientUnits="userSpaceOnUse" x1="933.1" x2="1141.7" y1="0" y2="0"><stop offset="0" stop-color="#090909"/><stop offset=".077" stop-color="#0e0e0e"/><stop offset=".123" stop-color="#111"/><stop offset=".169" stop-color="#111"/><stop offset=".215" stop-color="#191919"/><stop offset=".231" stop-color="#2b2b2b"/><stop offset=".246" stop-color="#444"/><stop offset=".262" stop-color="#454545"/><stop offset=".277" stop-color="#343434"/><stop offset=".292" stop-color="#0d0d0d"/><stop offset=".308" stop-color="#010101"/><stop offset=".323" stop-color="#020202"/><stop offset=".338" stop-color="#1d1d1d"/><stop offset=".385" stop-color="#8e8e8e"/><stop offset=".4" stop-color="#a9a9a9"/><stop offset=".415" stop-color="#9f9f9f"/><stop offset=".431" stop-color="#717171"/><stop offset=".446" stop-color="#4a4a4a"/><stop offset=".462" stop-color="#393939"/><stop offset=".477" stop-color="#1b1b1b"/><stop offset=".492" stop-color="#141414"/><stop offset=".538" stop-color="#575757"/><stop offset=".554" stop-color="#888"/><stop offset=".569" stop-color="#a6a6a6"/><stop offset=".585" stop-color="#a0a0a0"/><stop offset=".631" stop-color="#383838"/><stop offset=".646" stop-color="#0e0e0e"/><stop offset=".662" stop-color="#000"/><stop offset=".677" stop-color="#020202"/><stop offset=".692" stop-color="#1a1a1a"/><stop offset=".708" stop-color="#3e3e3e"/><stop offset=".723" stop-color="#464646"/><stop offset=".738" stop-color="#3d3d3d"/><stop offset=".754" stop-color="#212121"/><stop offset=".769" stop-color="#181818"/><stop offset=".831" stop-color="#0e0e0e"/><stop offset=".892" stop-color="#101010"/><stop offset=".954" stop-color="#090909"/><stop offset="1" stop-color="#080808"/></linearGradient>
<linearGradient id="p16" gradientUnits="userSpaceOnUse" x1="932.0" x2="1140.6" y1="0" y2="0"><stop offset="0" stop-color="#070707"/><stop offset=".077" stop-color="#0b0b0b"/><stop offset=".138" stop-color="#111"/><stop offset=".185" stop-color="#141414"/><stop offset=".231" stop-color="#1e1e1e"/><stop offset=".246" stop-color="#393939"/><stop offset=".262" stop-color="#474747"/><stop offset=".277" stop-color="#404040"/><stop offset=".292" stop-color="#1e1e1e"/><stop offset=".308" stop-color="#030303"/><stop offset=".323" stop-color="#020202"/><stop offset=".338" stop-color="#1d1d1d"/><stop offset=".369" stop-color="#666"/><stop offset=".4" stop-color="#9f9f9f"/><stop offset=".415" stop-color="#9c9c9c"/><stop offset=".431" stop-color="#727272"/><stop offset=".446" stop-color="#515151"/><stop offset=".462" stop-color="#464646"/><stop offset=".477" stop-color="#2b2b2b"/><stop offset=".492" stop-color="#202020"/><stop offset=".508" stop-color="#393939"/><stop offset=".538" stop-color="#5c5c5c"/><stop offset=".554" stop-color="#888"/><stop offset=".569" stop-color="#a0a0a0"/><stop offset=".585" stop-color="#939393"/><stop offset=".615" stop-color="#595959"/><stop offset=".631" stop-color="#383838"/><stop offset=".646" stop-color="#0e0e0e"/><stop offset=".662" stop-color="#010101"/><stop offset=".677" stop-color="#080808"/><stop offset=".692" stop-color="#2e2e2e"/><stop offset=".708" stop-color="#444"/><stop offset=".723" stop-color="#454545"/><stop offset=".754" stop-color="#1a1a1a"/><stop offset=".831" stop-color="#101010"/><stop offset=".877" stop-color="#101010"/><stop offset=".954" stop-color="#080808"/><stop offset="1" stop-color="#050505"/></linearGradient>
<linearGradient id="p15" gradientUnits="userSpaceOnUse" x1="931.0" x2="1139.6" y1="0" y2="0"><stop offset="0" stop-color="#050505"/><stop offset=".092" stop-color="#0c0c0c"/><stop offset=".154" stop-color="#111"/><stop offset=".231" stop-color="#191919"/><stop offset=".246" stop-color="#2a2a2a"/><stop offset=".262" stop-color="#434343"/><stop offset=".277" stop-color="#454545"/><stop offset=".292" stop-color="#313131"/><stop offset=".308" stop-color="#0a0a0a"/><stop offset=".323" stop-color="#020202"/><stop offset=".338" stop-color="#1d1d1d"/><stop offset=".369" stop-color="#666"/><stop offset=".4" stop-color="#929292"/><stop offset=".415" stop-color="#969696"/><stop offset=".431" stop-color="#717171"/><stop offset=".446" stop-color="#535353"/><stop offset=".462" stop-color="#4e4e4e"/><stop offset=".492" stop-color="#303030"/><stop offset=".508" stop-color="#474747"/><stop offset=".538" stop-color="#5c5c5c"/><stop offset=".554" stop-color="#858585"/><stop offset=".569" stop-color="#969696"/><stop offset=".6" stop-color="#787878"/><stop offset=".631" stop-color="#383838"/><stop offset=".646" stop-color="#0e0e0e"/><stop offset=".662" stop-color="#020202"/><stop offset=".677" stop-color="#161616"/><stop offset=".692" stop-color="#3c3c3c"/><stop offset=".708" stop-color="#474747"/><stop offset=".723" stop-color="#3c3c3c"/><stop offset=".738" stop-color="#202020"/><stop offset=".8" stop-color="#101010"/><stop offset=".862" stop-color="#111"/><stop offset=".954" stop-color="#070707"/><stop offset="1" stop-color="#030303"/></linearGradient>
<linearGradient id="p14" gradientUnits="userSpaceOnUse" x1="929.9" x2="1138.6" y1="0" y2="0"><stop offset="0" stop-color="#020202"/><stop offset=".154" stop-color="#121212"/><stop offset=".2" stop-color="#141414"/><stop offset=".246" stop-color="#1e1e1e"/><stop offset=".262" stop-color="#383838"/><stop offset=".277" stop-color="#474747"/><stop offset=".292" stop-color="#3e3e3e"/><stop offset=".308" stop-color="#191919"/><stop offset=".323" stop-color="#040404"/><stop offset=".338" stop-color="#1d1d1d"/><stop offset=".369" stop-color="#666"/><stop offset=".385" stop-color="#7e7e7e"/><stop offset=".415" stop-color="#8d8d8d"/><stop offset=".446" stop-color="#525252"/><stop offset=".462" stop-color="#545454"/><stop offset=".492" stop-color="#424242"/><stop offset=".508" stop-color="#525252"/><stop offset=".538" stop-color="#595959"/><stop offset=".554" stop-color="#7e7e7e"/><stop offset=".569" stop-color="#898989"/><stop offset=".6" stop-color="#787878"/><stop offset=".631" stop-color="#383838"/><stop offset=".646" stop-color="#0e0e0e"/><stop offset=".662" stop-color="#070707"/><stop offset=".677" stop-color="#292929"/><stop offset=".692" stop-color="#444"/><stop offset=".708" stop-color="#454545"/><stop offset=".738" stop-color="#1a1a1a"/><stop offset=".815" stop-color="#111"/><stop offset=".877" stop-color="#0b0b0b"/><stop offset="1" stop-color="#010101"/></linearGradient>
<linearGradient id="p13" gradientUnits="userSpaceOnUse" x1="928.9" x2="1137.5" y1="0" y2="0"><stop offset="0" stop-color="#010101"/><stop offset=".123" stop-color="#0c0c0c"/><stop offset=".169" stop-color="#121212"/><stop offset=".231" stop-color="#181818"/><stop offset=".246" stop-color="#1a1a1a"/><stop offset=".262" stop-color="#282828"/><stop offset=".277" stop-color="#434343"/><stop offset=".292" stop-color="#454545"/><stop offset=".308" stop-color="#2c2c2c"/><stop offset=".323" stop-color="#090909"/><stop offset=".338" stop-color="#1e1e1e"/><stop offset=".369" stop-color="#666"/><stop offset=".385" stop-color="#7e7e7e"/><stop offset=".415" stop-color="#818181"/><stop offset=".446" stop-color="#4e4e4e"/><stop offset=".477" stop-color="#595959"/><stop offset=".508" stop-color="#5a5a5a"/><stop offset=".523" stop-color="#535353"/><stop offset=".538" stop-color="#545454"/><stop offset=".554" stop-color="#757575"/><stop offset=".585" stop-color="#808080"/><stop offset=".6" stop-color="#787878"/><stop offset=".631" stop-color="#383838"/><stop offset=".646" stop-color="#0f0f0f"/><stop offset=".662" stop-color="#121212"/><stop offset=".677" stop-color="#393939"/><stop offset=".692" stop-color="#474747"/><stop offset=".708" stop-color="#3b3b3b"/><stop offset=".723" stop-color="#202020"/><stop offset=".769" stop-color="#141414"/><stop offset=".862" stop-color="#0b0b0b"/><stop offset="1" stop-color="#000"/></linearGradient>
<linearGradient id="p12" gradientUnits="userSpaceOnUse" x1="927.9" x2="1136.5" y1="0" y2="0"><stop offset="0" stop-color="#000"/><stop offset=".138" stop-color="#0c0c0c"/><stop offset=".246" stop-color="#191919"/><stop offset=".262" stop-color="#1e1e1e"/><stop offset=".277" stop-color="#363636"/><stop offset=".292" stop-color="#464646"/><stop offset=".308" stop-color="#3c3c3c"/><stop offset=".323" stop-color="#161616"/><stop offset=".338" stop-color="#1f1f1f"/><stop offset=".369" stop-color="#666"/><stop offset=".385" stop-color="#7e7e7e"/><stop offset=".4" stop-color="#7e7e7e"/><stop offset=".415" stop-color="#747474"/><stop offset=".446" stop-color="#494949"/><stop offset=".492" stop-color="#6d6d6d"/><stop offset=".523" stop-color="#4f4f4f"/><stop offset=".538" stop-color="#4d4d4d"/><stop offset=".554" stop-color="#6a6a6a"/><stop offset=".585" stop-color="#808080"/><stop offset=".6" stop-color="#787878"/><stop offset=".631" stop-color="#383838"/><stop offset=".646" stop-color="#121212"/><stop offset=".662" stop-color="#252525"/><stop offset=".677" stop-color="#434343"/><stop offset=".692" stop-color="#444"/><stop offset=".708" stop-color="#2b2b2b"/><stop offset=".723" stop-color="#1b1b1b"/><stop offset=".785" stop-color="#121212"/><stop offset=".831" stop-color="#0f0f0f"/><stop offset=".923" stop-color="#030303"/><stop offset="1" stop-color="#000"/></linearGradient>
<linearGradient id="p11" gradientUnits="userSpaceOnUse" x1="926.8" x2="1135.4" y1="0" y2="0"><stop offset="0" stop-color="#000"/><stop offset=".138" stop-color="#090909"/><stop offset=".262" stop-color="#1a1a1a"/><stop offset=".277" stop-color="#272727"/><stop offset=".292" stop-color="#424242"/><stop offset=".308" stop-color="#444"/><stop offset=".323" stop-color="#2a2a2a"/><stop offset=".338" stop-color="#232323"/><stop offset=".369" stop-color="#666"/><stop offset=".385" stop-color="#7e7e7e"/><stop offset=".4" stop-color="#7d7d7d"/><stop offset=".431" stop-color="#525252"/><stop offset=".446" stop-color="#424242"/><stop offset=".462" stop-color="#515151"/><stop offset=".477" stop-color="#6d6d6d"/><stop offset=".492" stop-color="#7b7b7b"/><stop offset=".523" stop-color="#494949"/><stop offset=".538" stop-color="#454545"/><stop offset=".569" stop-color="#717171"/><stop offset=".585" stop-color="#808080"/><stop offset=".6" stop-color="#787878"/><stop offset=".646" stop-color="#1c1c1c"/><stop offset=".662" stop-color="#373737"/><stop offset=".677" stop-color="#464646"/><stop offset=".692" stop-color="#393939"/><stop offset=".708" stop-color="#1f1f1f"/><stop offset=".785" stop-color="#131313"/><stop offset=".923" stop-color="#010101"/><stop offset="1" stop-color="#000"/></linearGradient>
<linearGradient id="p10" gradientUnits="userSpaceOnUse" x1="925.8" x2="1134.4" y1="0" y2="0"><stop offset="0" stop-color="#000"/><stop offset=".138" stop-color="#060606"/><stop offset=".277" stop-color="#1d1d1d"/><stop offset=".292" stop-color="#353535"/><stop offset=".308" stop-color="#464646"/><stop offset=".338" stop-color="#2e2e2e"/><stop offset=".354" stop-color="#454545"/><stop offset=".369" stop-color="#666"/><stop offset=".385" stop-color="#7e7e7e"/><stop offset=".4" stop-color="#7d7d7d"/><stop offset=".415" stop-color="#656565"/><stop offset=".431" stop-color="#454545"/><stop offset=".446" stop-color="#383838"/><stop offset=".462" stop-color="#4a4a4a"/><stop offset=".477" stop-color="#6f6f6f"/><stop offset=".492" stop-color="#7d7d7d"/><stop offset=".523" stop-color="#404040"/><stop offset=".538" stop-color="#3a3a3a"/><stop offset=".569" stop-color="#707070"/><stop offset=".585" stop-color="#808080"/><stop offset=".6" stop-color="#787878"/><stop offset=".631" stop-color="#3b3b3b"/><stop offset=".646" stop-color="#2d2d2d"/><stop offset=".662" stop-color="#424242"/><stop offset=".677" stop-color="#434343"/><stop offset=".692" stop-color="#292929"/><stop offset=".708" stop-color="#1b1b1b"/><stop offset=".8" stop-color="#0f0f0f"/><stop offset=".877" stop-color="#020202"/><stop offset="1" stop-color="#000"/></linearGradient>
<linearGradient id="p9" gradientUnits="userSpaceOnUse" x1="924.7" x2="1133.3" y1="0" y2="0"><stop offset="0" stop-color="#000"/><stop offset=".154" stop-color="#050505"/><stop offset=".277" stop-color="#1b1b1b"/><stop offset=".292" stop-color="#252525"/><stop offset=".308" stop-color="#404040"/><stop offset=".323" stop-color="#434343"/><stop offset=".338" stop-color="#3f3f3f"/><stop offset=".354" stop-color="#484848"/><stop offset=".369" stop-color="#676767"/><stop offset=".385" stop-color="#7e7e7e"/><stop offset=".4" stop-color="#7d7d7d"/><stop offset=".415" stop-color="#636363"/><stop offset=".431" stop-color="#393939"/><stop offset=".446" stop-color="#2b2b2b"/><stop offset=".462" stop-color="#414141"/><stop offset=".477" stop-color="#676767"/><stop offset=".492" stop-color="#727272"/><stop offset=".508" stop-color="#575757"/><stop offset=".523" stop-color="#353535"/><stop offset=".538" stop-color="#2d2d2d"/><stop offset=".554" stop-color="#4b4b4b"/><stop offset=".569" stop-color="#707070"/><stop offset=".585" stop-color="#808080"/><stop offset=".6" stop-color="#787878"/><stop offset=".615" stop-color="#5a5a5a"/><stop offset=".631" stop-color="#434343"/><stop offset=".646" stop-color="#404040"/><stop offset=".662" stop-color="#454545"/><stop offset=".677" stop-color="#373737"/><stop offset=".692" stop-color="#1e1e1e"/><stop offset=".846" stop-color="#030303"/><stop offset="1" stop-color="#000"/></linearGradient>
<linearGradient id="p8" gradientUnits="userSpaceOnUse" x1="923.7" x2="1132.3" y1="0" y2="0"><stop offset="0" stop-color="#000"/><stop offset=".169" stop-color="#040404"/><stop offset=".292" stop-color="#1c1c1c"/><stop offset=".323" stop-color="#434343"/><stop offset=".338" stop-color="#4e4e4e"/><stop offset=".354" stop-color="#505050"/><stop offset=".385" stop-color="#7f7f7f"/><stop offset=".4" stop-color="#7e7e7e"/><stop offset=".415" stop-color="#636363"/><stop offset=".431" stop-color="#313131"/><stop offset=".446" stop-color="#1f1f1f"/><stop offset=".477" stop-color="#5b5b5b"/><stop offset=".492" stop-color="#636363"/><stop offset=".508" stop-color="#505050"/><stop offset=".523" stop-color="#2c2c2c"/><stop offset=".538" stop-color="#202020"/><stop offset=".569" stop-color="#717171"/><stop offset=".585" stop-color="#818181"/><stop offset=".6" stop-color="#797979"/><stop offset=".615" stop-color="#5c5c5c"/><stop offset=".662" stop-color="#3f3f3f"/><stop offset=".677" stop-color="#272727"/><stop offset=".692" stop-color="#1b1b1b"/><stop offset=".831" stop-color="#020202"/><stop offset="1" stop-color="#000"/></linearGradient>
<linearGradient id="p7" gradientUnits="userSpaceOnUse" x1="922.6" x2="1131.3" y1="0" y2="0"><stop offset="0" stop-color="#000"/><stop offset=".185" stop-color="#030303"/><stop offset=".292" stop-color="#1a1a1a"/><stop offset=".308" stop-color="#212121"/><stop offset=".338" stop-color="#545454"/><stop offset=".369" stop-color="#6c6c6c"/><stop offset=".385" stop-color="#838383"/><stop offset=".4" stop-color="#828282"/><stop offset=".415" stop-color="#656565"/><stop offset=".431" stop-color="#2e2e2e"/><stop offset=".446" stop-color="#161616"/><stop offset=".462" stop-color="#383838"/><stop offset=".477" stop-color="#535353"/><stop offset=".492" stop-color="#5a5a5a"/><stop offset=".508" stop-color="#4b4b4b"/><stop offset=".523" stop-color="#292929"/><stop offset=".538" stop-color="#181818"/><stop offset=".569" stop-color="#747474"/><stop offset=".585" stop-color="#858585"/><stop offset=".6" stop-color="#7d7d7d"/><stop offset=".615" stop-color="#626262"/><stop offset=".631" stop-color="#5f5f5f"/><stop offset=".677" stop-color="#1c1c1c"/><stop offset=".815" stop-color="#010101"/><stop offset="1" stop-color="#000"/></linearGradient>
<linearGradient id="p6" gradientUnits="userSpaceOnUse" x1="921.6" x2="1130.2" y1="0" y2="0"><stop offset="0" stop-color="#000"/><stop offset=".2" stop-color="#020202"/><stop offset=".292" stop-color="#191919"/><stop offset=".308" stop-color="#1a1a1a"/><stop offset=".323" stop-color="#2a2a2a"/><stop offset=".338" stop-color="#525252"/><stop offset=".354" stop-color="#6b6b6b"/><stop offset=".369" stop-color="#767676"/><stop offset=".385" stop-color="#8b8b8b"/><stop offset=".4" stop-color="#8a8a8a"/><stop offset=".415" stop-color="#6a6a6a"/><stop offset=".431" stop-color="#2f2f2f"/><stop offset=".446" stop-color="#141414"/><stop offset=".462" stop-color="#383838"/><stop offset=".477" stop-color="#505050"/><stop offset=".492" stop-color="#565656"/><stop offset=".508" stop-color="#494949"/><stop offset=".523" stop-color="#292929"/><stop offset=".538" stop-color="#161616"/><stop offset=".569" stop-color="#7a7a7a"/><stop offset=".585" stop-color="#8d8d8d"/><stop offset=".6" stop-color="#858585"/><stop offset=".615" stop-color="#6f6f6f"/><stop offset=".631" stop-color="#676767"/><stop offset=".646" stop-color="#404040"/><stop offset=".662" stop-color="#212121"/><stop offset=".677" stop-color="#191919"/><stop offset=".723" stop-color="#101010"/><stop offset=".8" stop-color="#010101"/><stop offset="1" stop-color="#000"/></linearGradient>
<linearGradient id="p5" gradientUnits="userSpaceOnUse" x1="920.6" x2="1129.2" y1="0" y2="0"><stop offset="0" stop-color="#000"/><stop offset=".215" stop-color="#020202"/><stop offset=".323" stop-color="#1e1e1e"/><stop offset=".354" stop-color="#737373"/><stop offset=".385" stop-color="#9c9c9c"/><stop offset=".4" stop-color="#9a9a9a"/><stop offset=".415" stop-color="#747474"/><stop offset=".431" stop-color="#333"/><stop offset=".446" stop-color="#191919"/><stop offset=".477" stop-color="#4d4d4d"/><stop offset=".492" stop-color="#535353"/><stop offset=".508" stop-color="#464646"/><stop offset=".523" stop-color="#292929"/><stop offset=".538" stop-color="#1d1d1d"/><stop offset=".569" stop-color="#878787"/><stop offset=".585" stop-color="#9e9e9e"/><stop offset=".6" stop-color="#979797"/><stop offset=".631" stop-color="#686868"/><stop offset=".646" stop-color="#343434"/><stop offset=".662" stop-color="#1a1a1a"/><stop offset=".769" stop-color="#010101"/><stop offset="1" stop-color="#000"/></linearGradient>
<linearGradient id="p4" gradientUnits="userSpaceOnUse" x1="919.5" x2="1128.1" y1="0" y2="0"><stop offset="0" stop-color="#000"/><stop offset=".246" stop-color="#030303"/><stop offset=".323" stop-color="#1a1a1a"/><stop offset=".338" stop-color="#3e3e3e"/><stop offset=".354" stop-color="#757575"/><stop offset=".369" stop-color="#a0a0a0"/><stop offset=".385" stop-color="#b4b4b4"/><stop offset=".4" stop-color="#afafaf"/><stop offset=".415" stop-color="#828282"/><stop offset=".431" stop-color="#3f3f3f"/><stop offset=".446" stop-color="#252525"/><stop offset=".462" stop-color="#343434"/><stop offset=".477" stop-color="#4a4a4a"/><stop offset=".492" stop-color="#515151"/><stop offset=".508" stop-color="#434343"/><stop offset=".523" stop-color="#2c2c2c"/><stop offset=".538" stop-color="#2b2b2b"/><stop offset=".554" stop-color="#5b5b5b"/><stop offset=".569" stop-color="#989898"/><stop offset=".585" stop-color="#b5b5b5"/><stop offset=".6" stop-color="#b0b0b0"/><stop offset=".615" stop-color="#929292"/><stop offset=".631" stop-color="#636363"/><stop offset=".646" stop-color="#292929"/><stop offset=".662" stop-color="#181818"/><stop offset=".738" stop-color="#020202"/><stop offset="1" stop-color="#000"/></linearGradient>
<linearGradient id="p3" gradientUnits="userSpaceOnUse" x1="918.5" x2="1127.1" y1="0" y2="0"><stop offset="0" stop-color="#000"/><stop offset=".262" stop-color="#030303"/><stop offset=".323" stop-color="#181818"/><stop offset=".338" stop-color="#363636"/><stop offset=".369" stop-color="#b0b0b0"/><stop offset=".385" stop-color="#ccc"/><stop offset=".4" stop-color="#c1c1c1"/><stop offset=".415" stop-color="#919191"/><stop offset=".431" stop-color="#515151"/><stop offset=".446" stop-color="#323232"/><stop offset=".462" stop-color="#373737"/><stop offset=".492" stop-color="#4d4d4d"/><stop offset=".523" stop-color="#353535"/><stop offset=".538" stop-color="#3b3b3b"/><stop offset=".554" stop-color="#6b6b6b"/><stop offset=".569" stop-color="#a7a7a7"/><stop offset=".585" stop-color="#c9c9c9"/><stop offset=".6" stop-color="#c8c8c8"/><stop offset=".615" stop-color="#9a9a9a"/><stop offset=".631" stop-color="#5b5b5b"/><stop offset=".646" stop-color="#252525"/><stop offset=".662" stop-color="#151515"/><stop offset=".723" stop-color="#020202"/><stop offset="1" stop-color="#000"/></linearGradient>
<linearGradient id="p2" gradientUnits="userSpaceOnUse" x1="917.4" x2="1126.0" y1="0" y2="0"><stop offset="0" stop-color="#000"/><stop offset=".277" stop-color="#020202"/><stop offset=".323" stop-color="#131313"/><stop offset=".338" stop-color="#323232"/><stop offset=".354" stop-color="#6a6a6a"/><stop offset=".369" stop-color="#b2b2b2"/><stop offset=".385" stop-color="#d7d7d7"/><stop offset=".4" stop-color="#c8c8c8"/><stop offset=".415" stop-color="#9e9e9e"/><stop offset=".431" stop-color="#616161"/><stop offset=".446" stop-color="#3d3d3d"/><stop offset=".477" stop-color="#3a3a3a"/><stop offset=".492" stop-color="#3e3e3e"/><stop offset=".523" stop-color="#3c3c3c"/><stop offset=".538" stop-color="#474747"/><stop offset=".569" stop-color="#b1b1b1"/><stop offset=".585" stop-color="#d1d1d1"/><stop offset=".6" stop-color="#d1d1d1"/><stop offset=".615" stop-color="#969696"/><stop offset=".631" stop-color="#545454"/><stop offset=".646" stop-color="#212121"/><stop offset=".662" stop-color="#0f0f0f"/><stop offset=".708" stop-color="#010101"/><stop offset="1" stop-color="#000"/></linearGradient>
<linearGradient id="p1" gradientUnits="userSpaceOnUse" x1="916.4" x2="1125.0" y1="0" y2="0"><stop offset="0" stop-color="#000"/><stop offset=".292" stop-color="#020202"/><stop offset=".323" stop-color="#0c0c0c"/><stop offset=".338" stop-color="#2d2d2d"/><stop offset=".354" stop-color="#606060"/><stop offset=".369" stop-color="#a3a3a3"/><stop offset=".385" stop-color="#cbcbcb"/><stop offset=".4" stop-color="#c1c1c1"/><stop offset=".415" stop-color="#a5a5a5"/><stop offset=".431" stop-color="#6b6b6b"/><stop offset=".446" stop-color="#424242"/><stop offset=".492" stop-color="#242424"/><stop offset=".538" stop-color="#4e4e4e"/><stop offset=".554" stop-color="#878787"/><stop offset=".569" stop-color="#b3b3b3"/><stop offset=".585" stop-color="#c8c8c8"/><stop offset=".6" stop-color="#c3c3c3"/><stop offset=".631" stop-color="#4d4d4d"/><stop offset=".646" stop-color="#1c1c1c"/><stop offset=".662" stop-color="#080808"/><stop offset=".723" stop-color="#000"/><stop offset="1" stop-color="#000"/></linearGradient>
<linearGradient id="p0" gradientUnits="userSpaceOnUse" x1="915.3" x2="1123.9" y1="0" y2="0"><stop offset="0" stop-color="#000"/><stop offset=".308" stop-color="#020202"/><stop offset=".323" stop-color="#060606"/><stop offset=".338" stop-color="#262626"/><stop offset=".369" stop-color="#898989"/><stop offset=".385" stop-color="#aeaeae"/><stop offset=".4" stop-color="#b3b3b3"/><stop offset=".415" stop-color="#a3a3a3"/><stop offset=".431" stop-color="#6d6d6d"/><stop offset=".446" stop-color="#424242"/><stop offset=".462" stop-color="#333"/><stop offset=".477" stop-color="#1b1b1b"/><stop offset=".492" stop-color="#0d0d0d"/><stop offset=".538" stop-color="#505050"/><stop offset=".554" stop-color="#888"/><stop offset=".569" stop-color="#adadad"/><stop offset=".585" stop-color="#b3b3b3"/><stop offset=".6" stop-color="#a5a5a5"/><stop offset=".646" stop-color="#151515"/><stop offset=".662" stop-color="#030303"/><stop offset="1" stop-color="#000"/></linearGradient>
<linearGradient id="q56" gradientUnits="userSpaceOnUse" x1="973.8" x2="1182.4" y1="0" y2="0"><stop offset="0" stop-color="#1e1e1e"/><stop offset=".031" stop-color="#030303"/><stop offset=".108" stop-color="#000"/><stop offset=".123" stop-color="#050505"/><stop offset=".154" stop-color="#303030"/><stop offset=".169" stop-color="#3d3d3d"/><stop offset=".185" stop-color="#414141"/><stop offset=".2" stop-color="#3e3e3e"/><stop offset=".215" stop-color="#313131"/><stop offset=".231" stop-color="#1b1b1b"/><stop offset=".246" stop-color="#101010"/><stop offset=".323" stop-color="#090909"/><stop offset=".338" stop-color="#0f0f0f"/><stop offset=".369" stop-color="#292929"/><stop offset=".385" stop-color="#2d2d2d"/><stop offset=".4" stop-color="#2a2a2a"/><stop offset=".415" stop-color="#1f1f1f"/><stop offset=".446" stop-color="#010101"/><stop offset=".523" stop-color="#000"/><stop offset=".538" stop-color="#040404"/><stop offset=".569" stop-color="#242424"/><stop offset=".585" stop-color="#2c2c2c"/><stop offset=".6" stop-color="#2c2c2c"/><stop offset=".631" stop-color="#181818"/><stop offset=".646" stop-color="#0b0b0b"/><stop offset=".738" stop-color="#131313"/><stop offset=".769" stop-color="#393939"/><stop offset=".785" stop-color="#414141"/><stop offset=".8" stop-color="#404040"/><stop offset=".815" stop-color="#383838"/><stop offset=".831" stop-color="#282828"/><stop offset=".846" stop-color="#0f0f0f"/><stop offset=".862" stop-color="#010101"/><stop offset=".938" stop-color="#000"/><stop offset=".954" stop-color="#060606"/><stop offset=".969" stop-color="#171717"/><stop offset=".985" stop-color="#202020"/><stop offset="1" stop-color="#212121"/></linearGradient>
<linearGradient id="q55" gradientUnits="userSpaceOnUse" x1="972.7" x2="1181.3" y1="0" y2="0"><stop offset="0" stop-color="#222"/><stop offset=".015" stop-color="#1a1a1a"/><stop offset=".031" stop-color="#070707"/><stop offset=".062" stop-color="#000"/><stop offset=".123" stop-color="#020202"/><stop offset=".138" stop-color="#111"/><stop offset=".154" stop-color="#2a2a2a"/><stop offset=".169" stop-color="#393939"/><stop offset=".185" stop-color="#404040"/><stop offset=".2" stop-color="#404040"/><stop offset=".215" stop-color="#383838"/><stop offset=".246" stop-color="#121212"/><stop offset=".323" stop-color="#0a0a0a"/><stop offset=".338" stop-color="#101010"/><stop offset=".369" stop-color="#292929"/><stop offset=".385" stop-color="#2d2d2d"/><stop offset=".4" stop-color="#2a2a2a"/><stop offset=".415" stop-color="#1f1f1f"/><stop offset=".446" stop-color="#010101"/><stop offset=".523" stop-color="#000"/><stop offset=".538" stop-color="#040404"/><stop offset=".569" stop-color="#242424"/><stop offset=".585" stop-color="#2c2c2c"/><stop offset=".615" stop-color="#262626"/><stop offset=".646" stop-color="#0c0c0c"/><stop offset=".723" stop-color="#101010"/><stop offset=".738" stop-color="#191919"/><stop offset=".754" stop-color="#303030"/><stop offset=".769" stop-color="#3d3d3d"/><stop offset=".785" stop-color="#424242"/><stop offset=".8" stop-color="#3e3e3e"/><stop offset=".815" stop-color="#323232"/><stop offset=".846" stop-color="#060606"/><stop offset=".877" stop-color="#000"/><stop offset=".938" stop-color="#020202"/><stop offset=".969" stop-color="#1e1e1e"/><stop offset="1" stop-color="#232323"/></linearGradient>
<linearGradient id="q54" gradientUnits="userSpaceOnUse" x1="971.7" x2="1180.3" y1="0" y2="0"><stop offset="0" stop-color="#252525"/><stop offset=".015" stop-color="#212121"/><stop offset=".046" stop-color="#020202"/><stop offset=".123" stop-color="#000"/><stop offset=".138" stop-color="#080808"/><stop offset=".169" stop-color="#343434"/><stop offset=".2" stop-color="#424242"/><stop offset=".215" stop-color="#3d3d3d"/><stop offset=".231" stop-color="#2e2e2e"/><stop offset=".246" stop-color="#171717"/><stop offset=".277" stop-color="#0f0f0f"/><stop offset=".323" stop-color="#0c0c0c"/><stop offset=".338" stop-color="#111"/><stop offset=".369" stop-color="#292929"/><stop offset=".385" stop-color="#2d2d2d"/><stop offset=".4" stop-color="#2a2a2a"/><stop offset=".415" stop-color="#1f1f1f"/><stop offset=".446" stop-color="#010101"/><stop offset=".523" stop-color="#000"/><stop offset=".538" stop-color="#040404"/><stop offset=".569" stop-color="#242424"/><stop offset=".585" stop-color="#2c2c2c"/><stop offset=".615" stop-color="#262626"/><stop offset=".646" stop-color="#0d0d0d"/><stop offset=".723" stop-color="#121212"/><stop offset=".754" stop-color="#373737"/><stop offset=".769" stop-color="#404040"/><stop offset=".785" stop-color="#414141"/><stop offset=".8" stop-color="#3a3a3a"/><stop offset=".815" stop-color="#2c2c2c"/><stop offset=".846" stop-color="#020202"/><stop offset=".923" stop-color="#000"/><stop offset=".938" stop-color="#050505"/><stop offset=".954" stop-color="#181818"/><stop offset=".969" stop-color="#232323"/><stop offset="1" stop-color="#252525"/></linearGradient>
<linearGradient id="q53" gradientUnits="userSpaceOnUse" x1="970.6" x2="1179.3" y1="0" y2="0"><stop offset="0" stop-color="#272727"/><stop offset=".015" stop-color="#252525"/><stop offset=".031" stop-color="#1b1b1b"/><stop offset=".046" stop-color="#070707"/><stop offset=".062" stop-color="#000"/><stop offset=".138" stop-color="#030303"/><stop offset=".169" stop-color="#2d2d2d"/><stop offset=".185" stop-color="#3b3b3b"/><stop offset=".2" stop-color="#414141"/><stop offset=".215" stop-color="#404040"/><stop offset=".231" stop-color="#363636"/><stop offset=".246" stop-color="#202020"/><stop offset=".262" stop-color="#111"/><stop offset=".323" stop-color="#0d0d0d"/><stop offset=".338" stop-color="#121212"/><stop offset=".369" stop-color="#2a2a2a"/><stop offset=".4" stop-color="#2a2a2a"/><stop offset=".415" stop-color="#1f1f1f"/><stop offset=".446" stop-color="#010101"/><stop offset=".523" stop-color="#000"/><stop offset=".538" stop-color="#040404"/><stop offset=".569" stop-color="#242424"/><stop offset=".585" stop-color="#2c2c2c"/><stop offset=".615" stop-color="#272727"/><stop offset=".646" stop-color="#0f0f0f"/><stop offset=".708" stop-color="#101010"/><stop offset=".723" stop-color="#161616"/><stop offset=".738" stop-color="#2d2d2d"/><stop offset=".754" stop-color="#3c3c3c"/><stop offset=".769" stop-color="#424242"/><stop offset=".785" stop-color="#404040"/><stop offset=".8" stop-color="#353535"/><stop offset=".815" stop-color="#232323"/><stop offset=".831" stop-color="#0a0a0a"/><stop offset=".846" stop-color="#010101"/><stop offset=".923" stop-color="#010101"/><stop offset=".938" stop-color="#0d0d0d"/><stop offset=".954" stop-color="#212121"/><stop offset="1" stop-color="#272727"/></linearGradient>
<linearGradient id="q52" gradientUnits="userSpaceOnUse" x1="969.6" x2="1178.2" y1="0" y2="0"><stop offset="0" stop-color="#292929"/><stop offset=".031" stop-color="#232323"/><stop offset=".062" stop-color="#020202"/><stop offset=".138" stop-color="#010101"/><stop offset=".154" stop-color="#0c0c0c"/><stop offset=".169" stop-color="#252525"/><stop offset=".185" stop-color="#363636"/><stop offset=".2" stop-color="#404040"/><stop offset=".215" stop-color="#424242"/><stop offset=".231" stop-color="#3b3b3b"/><stop offset=".262" stop-color="#151515"/><stop offset=".308" stop-color="#0f0f0f"/><stop offset=".323" stop-color="#0e0e0e"/><stop offset=".338" stop-color="#141414"/><stop offset=".369" stop-color="#2a2a2a"/><stop offset=".4" stop-color="#2a2a2a"/><stop offset=".415" stop-color="#1f1f1f"/><stop offset=".446" stop-color="#010101"/><stop offset=".523" stop-color="#000"/><stop offset=".538" stop-color="#040404"/><stop offset=".569" stop-color="#242424"/><stop offset=".585" stop-color="#2c2c2c"/><stop offset=".615" stop-color="#282828"/><stop offset=".646" stop-color="#101010"/><stop offset=".708" stop-color="#111"/><stop offset=".723" stop-color="#1f1f1f"/><stop offset=".738" stop-color="#353535"/><stop offset=".754" stop-color="#404040"/><stop offset=".769" stop-color="#424242"/><stop offset=".785" stop-color="#3d3d3d"/><stop offset=".8" stop-color="#2f2f2f"/><stop offset=".831" stop-color="#040404"/><stop offset=".892" stop-color="#000"/><stop offset=".923" stop-color="#050505"/><stop offset=".938" stop-color="#191919"/><stop offset=".954" stop-color="#262626"/><stop offset="1" stop-color="#292929"/></linearGradient>
<linearGradient id="q51" gradientUnits="userSpaceOnUse" x1="968.6" x2="1177.2" y1="0" y2="0"><stop offset="0" stop-color="#2b2b2b"/><stop offset=".031" stop-color="#292929"/><stop offset=".046" stop-color="#1b1b1b"/><stop offset=".062" stop-color="#060606"/><stop offset=".092" stop-color="#000"/><stop offset=".138" stop-color="#000"/><stop offset=".154" stop-color="#050505"/><stop offset=".185" stop-color="#313131"/><stop offset=".2" stop-color="#3d3d3d"/><stop offset=".215" stop-color="#424242"/><stop offset=".231" stop-color="#3f3f3f"/><stop offset=".246" stop-color="#333"/><stop offset=".262" stop-color="#1d1d1d"/><stop offset=".277" stop-color="#101010"/><stop offset=".323" stop-color="#0f0f0f"/><stop offset=".338" stop-color="#151515"/><stop offset=".369" stop-color="#2b2b2b"/><stop offset=".385" stop-color="#2e2e2e"/><stop offset=".4" stop-color="#2a2a2a"/><stop offset=".415" stop-color="#1f1f1f"/><stop offset=".446" stop-color="#010101"/><stop offset=".523" stop-color="#000"/><stop offset=".538" stop-color="#040404"/><stop offset=".569" stop-color="#252525"/><stop offset=".6" stop-color="#2d2d2d"/><stop offset=".615" stop-color="#292929"/><stop offset=".646" stop-color="#111"/><stop offset=".692" stop-color="#101010"/><stop offset=".708" stop-color="#141414"/><stop offset=".738" stop-color="#3b3b3b"/><stop offset=".754" stop-color="#424242"/><stop offset=".769" stop-color="#414141"/><stop offset=".785" stop-color="#383838"/><stop offset=".8" stop-color="#282828"/><stop offset=".815" stop-color="#0e0e0e"/><stop offset=".831" stop-color="#010101"/><stop offset=".908" stop-color="#010101"/><stop offset=".923" stop-color="#0c0c0c"/><stop offset=".938" stop-color="#232323"/><stop offset=".969" stop-color="#2b2b2b"/><stop offset="1" stop-color="#2b2b2b"/></linearGradient>
<linearGradient id="q50" gradientUnits="userSpaceOnUse" x1="967.5" x2="1176.1" y1="0" y2="0"><stop offset="0" stop-color="#2d2d2d"/><stop offset=".031" stop-color="#2c2c2c"/><stop offset=".046" stop-color="#252525"/><stop offset=".062" stop-color="#0f0f0f"/><stop offset=".077" stop-color="#010101"/><stop offset=".154" stop-color="#020202"/><stop offset=".169" stop-color="#111"/><stop offset=".185" stop-color="#2a2a2a"/><stop offset=".215" stop-color="#424242"/><stop offset=".231" stop-color="#424242"/><stop offset=".246" stop-color="#393939"/><stop offset=".277" stop-color="#131313"/><stop offset=".323" stop-color="#0f0f0f"/><stop offset=".338" stop-color="#161616"/><stop offset=".369" stop-color="#2c2c2c"/><stop offset=".4" stop-color="#2b2b2b"/><stop offset=".446" stop-color="#010101"/><stop offset=".523" stop-color="#000"/><stop offset=".538" stop-color="#040404"/><stop offset=".569" stop-color="#252525"/><stop offset=".585" stop-color="#2d2d2d"/><stop offset=".615" stop-color="#2a2a2a"/><stop offset=".646" stop-color="#121212"/><stop offset=".692" stop-color="#101010"/><stop offset=".708" stop-color="#1b1b1b"/><stop offset=".723" stop-color="#323232"/><stop offset=".738" stop-color="#3f3f3f"/><stop offset=".754" stop-color="#434343"/><stop offset=".769" stop-color="#3f3f3f"/><stop offset=".785" stop-color="#333"/><stop offset=".815" stop-color="#060606"/><stop offset=".846" stop-color="#000"/><stop offset=".908" stop-color="#040404"/><stop offset=".938" stop-color="#292929"/><stop offset="1" stop-color="#2d2d2d"/></linearGradient>
<linearGradient id="q49" gradientUnits="userSpaceOnUse" x1="966.5" x2="1175.1" y1="0" y2="0"><stop offset="0" stop-color="#2f2f2f"/><stop offset=".046" stop-color="#2c2c2c"/><stop offset=".077" stop-color="#040404"/><stop offset=".138" stop-color="#000"/><stop offset=".154" stop-color="#000"/><stop offset=".169" stop-color="#080808"/><stop offset=".2" stop-color="#343434"/><stop offset=".215" stop-color="#3f3f3f"/><stop offset=".231" stop-color="#434343"/><stop offset=".246" stop-color="#3e3e3e"/><stop offset=".262" stop-color="#303030"/><stop offset=".277" stop-color="#191919"/><stop offset=".292" stop-color="#101010"/><stop offset=".323" stop-color="#101010"/><stop offset=".338" stop-color="#171717"/><stop offset=".369" stop-color="#2e2e2e"/><stop offset=".4" stop-color="#2b2b2b"/><stop offset=".446" stop-color="#010101"/><stop offset=".523" stop-color="#000"/><stop offset=".538" stop-color="#040404"/><stop offset=".569" stop-color="#252525"/><stop offset=".6" stop-color="#2f2f2f"/><stop offset=".615" stop-color="#2b2b2b"/><stop offset=".646" stop-color="#131313"/><stop offset=".677" stop-color="#0f0f0f"/><stop offset=".692" stop-color="#121212"/><stop offset=".723" stop-color="#383838"/><stop offset=".738" stop-color="#424242"/><stop offset=".754" stop-color="#424242"/><stop offset=".769" stop-color="#3b3b3b"/><stop offset=".785" stop-color="#2c2c2c"/><stop offset=".815" stop-color="#020202"/><stop offset=".892" stop-color="#010101"/><stop offset=".908" stop-color="#0b0b0b"/><stop offset=".923" stop-color="#242424"/><stop offset=".938" stop-color="#2d2d2d"/><stop offset="1" stop-color="#2e2e2e"/></linearGradient>
<linearGradient id="q48" gradientUnits="userSpaceOnUse" x1="965.4" x2="1174.0" y1="0" y2="0"><stop offset="0" stop-color="#303030"/><stop offset=".046" stop-color="#2f2f2f"/><stop offset=".062" stop-color="#272727"/><stop offset=".077" stop-color="#0c0c0c"/><stop offset=".092" stop-color="#010101"/><stop offset=".169" stop-color="#030303"/><stop offset=".2" stop-color="#2d2d2d"/><stop offset=".215" stop-color="#3c3c3c"/><stop offset=".231" stop-color="#434343"/><stop offset=".246" stop-color="#414141"/><stop offset=".262" stop-color="#373737"/><stop offset=".292" stop-color="#121212"/><stop offset=".323" stop-color="#101010"/><stop offset=".338" stop-color="#181818"/><stop offset=".354" stop-color="#272727"/><stop offset=".369" stop-color="#2f2f2f"/><stop offset=".4" stop-color="#2b2b2b"/><stop offset=".415" stop-color="#202020"/><stop offset=".431" stop-color="#0d0d0d"/><stop offset=".446" stop-color="#010101"/><stop offset=".523" stop-color="#000"/><stop offset=".538" stop-color="#040404"/><stop offset=".569" stop-color="#252525"/><stop offset=".6" stop-color="#303030"/><stop offset=".615" stop-color="#2d2d2d"/><stop offset=".646" stop-color="#131313"/><stop offset=".677" stop-color="#101010"/><stop offset=".692" stop-color="#181818"/><stop offset=".708" stop-color="#2f2f2f"/><stop offset=".723" stop-color="#3e3e3e"/><stop offset=".738" stop-color="#434343"/><stop offset=".754" stop-color="#414141"/><stop offset=".769" stop-color="#363636"/><stop offset=".8" stop-color="#0a0a0a"/><stop offset=".815" stop-color="#010101"/><stop offset=".892" stop-color="#030303"/><stop offset=".923" stop-color="#2c2c2c"/><stop offset=".985" stop-color="#303030"/><stop offset="1" stop-color="#2b2b2b"/></linearGradient>
<linearGradient id="q47" gradientUnits="userSpaceOnUse" x1="964.4" x2="1173.0" y1="0" y2="0"><stop offset="0" stop-color="#313131"/><stop offset=".062" stop-color="#2d2d2d"/><stop offset=".092" stop-color="#030303"/><stop offset=".169" stop-color="#010101"/><stop offset=".185" stop-color="#0b0b0b"/><stop offset=".2" stop-color="#252525"/><stop offset=".215" stop-color="#373737"/><stop offset=".231" stop-color="#414141"/><stop offset=".246" stop-color="#434343"/><stop offset=".262" stop-color="#3d3d3d"/><stop offset=".277" stop-color="#2d2d2d"/><stop offset=".292" stop-color="#161616"/><stop offset=".323" stop-color="#101010"/><stop offset=".369" stop-color="#303030"/><stop offset=".4" stop-color="#2c2c2c"/><stop offset=".415" stop-color="#202020"/><stop offset=".431" stop-color="#0d0d0d"/><stop offset=".446" stop-color="#010101"/><stop offset=".523" stop-color="#000"/><stop offset=".538" stop-color="#040404"/><stop offset=".569" stop-color="#252525"/><stop offset=".6" stop-color="#313131"/><stop offset=".615" stop-color="#2e2e2e"/><stop offset=".646" stop-color="#141414"/><stop offset=".677" stop-color="#111"/><stop offset=".708" stop-color="#363636"/><stop offset=".723" stop-color="#414141"/><stop offset=".738" stop-color="#434343"/><stop offset=".754" stop-color="#3d3d3d"/><stop offset=".769" stop-color="#2f2f2f"/><stop offset=".8" stop-color="#030303"/><stop offset=".877" stop-color="#010101"/><stop offset=".892" stop-color="#090909"/><stop offset=".908" stop-color="#232323"/><stop offset=".923" stop-color="#2f2f2f"/><stop offset=".985" stop-color="#303030"/><stop offset="1" stop-color="#222"/></linearGradient>
<linearGradient id="q46" gradientUnits="userSpaceOnUse" x1="963.3" x2="1172.0" y1="0" y2="0"><stop offset="0" stop-color="#2f2f2f"/><stop offset=".062" stop-color="#303030"/><stop offset=".077" stop-color="#252525"/><stop offset=".092" stop-color="#0a0a0a"/><stop offset=".108" stop-color="#010101"/><stop offset=".169" stop-color="#000"/><stop offset=".185" stop-color="#040404"/><stop offset=".215" stop-color="#313131"/><stop offset=".231" stop-color="#3e3e3e"/><stop offset=".246" stop-color="#444"/><stop offset=".262" stop-color="#414141"/><stop offset=".277" stop-color="#353535"/><stop offset=".292" stop-color="#1f1f1f"/><stop offset=".308" stop-color="#111"/><stop offset=".323" stop-color="#101010"/><stop offset=".338" stop-color="#191919"/><stop offset=".354" stop-color="#292929"/><stop offset=".369" stop-color="#323232"/><stop offset=".4" stop-color="#2c2c2c"/><stop offset=".415" stop-color="#202020"/><stop offset=".431" stop-color="#0d0d0d"/><stop offset=".446" stop-color="#010101"/><stop offset=".523" stop-color="#000"/><stop offset=".538" stop-color="#040404"/><stop offset=".569" stop-color="#252525"/><stop offset=".6" stop-color="#333"/><stop offset=".615" stop-color="#2f2f2f"/><stop offset=".646" stop-color="#141414"/><stop offset=".662" stop-color="#101010"/><stop offset=".677" stop-color="#151515"/><stop offset=".692" stop-color="#2c2c2c"/><stop offset=".708" stop-color="#3c3c3c"/><stop offset=".723" stop-color="#434343"/><stop offset=".738" stop-color="#424242"/><stop offset=".754" stop-color="#393939"/><stop offset=".769" stop-color="#272727"/><stop offset=".785" stop-color="#0d0d0d"/><stop offset=".8" stop-color="#010101"/><stop offset=".877" stop-color="#020202"/><stop offset=".908" stop-color="#2c2c2c"/><stop offset=".954" stop-color="#323232"/><stop offset=".985" stop-color="#2b2b2b"/><stop offset="1" stop-color="#191919"/></linearGradient>
<linearGradient id="q45" gradientUnits="userSpaceOnUse" x1="962.3" x2="1170.9" y1="0" y2="0"><stop offset="0" stop-color="#282828"/><stop offset=".015" stop-color="#313131"/><stop offset=".077" stop-color="#2d2d2d"/><stop offset=".108" stop-color="#030303"/><stop offset=".185" stop-color="#010101"/><stop offset=".2" stop-color="#101010"/><stop offset=".215" stop-color="#292929"/><stop offset=".231" stop-color="#3a3a3a"/><stop offset=".246" stop-color="#434343"/><stop offset=".262" stop-color="#434343"/><stop offset=".277" stop-color="#3b3b3b"/><stop offset=".308" stop-color="#141414"/><stop offset=".323" stop-color="#101010"/><stop offset=".338" stop-color="#191919"/><stop offset=".354" stop-color="#2a2a2a"/><stop offset=".369" stop-color="#333"/><stop offset=".4" stop-color="#2d2d2d"/><stop offset=".446" stop-color="#010101"/><stop offset=".523" stop-color="#000"/><stop offset=".538" stop-color="#040404"/><stop offset=".569" stop-color="#262626"/><stop offset=".6" stop-color="#343434"/><stop offset=".615" stop-color="#303030"/><stop offset=".646" stop-color="#141414"/><stop offset=".662" stop-color="#111"/><stop offset=".677" stop-color="#1d1d1d"/><stop offset=".692" stop-color="#343434"/><stop offset=".708" stop-color="#404040"/><stop offset=".723" stop-color="#444"/><stop offset=".738" stop-color="#404040"/><stop offset=".754" stop-color="#333"/><stop offset=".785" stop-color="#060606"/><stop offset=".815" stop-color="#000"/><stop offset=".862" stop-color="#000"/><stop offset=".877" stop-color="#070707"/><stop offset=".892" stop-color="#212121"/><stop offset=".908" stop-color="#303030"/><stop offset=".969" stop-color="#303030"/><stop offset="1" stop-color="#141414"/></linearGradient>
<linearGradient id="q44" gradientUnits="userSpaceOnUse" x1="961.3" x2="1169.9" y1="0" y2="0"><stop offset="0" stop-color="#1e1e1e"/><stop offset=".015" stop-color="#2f2f2f"/><stop offset=".077" stop-color="#303030"/><stop offset=".092" stop-color="#232323"/><stop offset=".108" stop-color="#080808"/><stop offset=".123" stop-color="#000"/><stop offset=".185" stop-color="#000"/><stop offset=".2" stop-color="#070707"/><stop offset=".231" stop-color="#343434"/><stop offset=".246" stop-color="#404040"/><stop offset=".262" stop-color="#444"/><stop offset=".277" stop-color="#404040"/><stop offset=".292" stop-color="#323232"/><stop offset=".308" stop-color="#1b1b1b"/><stop offset=".323" stop-color="#111"/><stop offset=".338" stop-color="#1a1a1a"/><stop offset=".369" stop-color="#343434"/><stop offset=".4" stop-color="#2e2e2e"/><stop offset=".415" stop-color="#212121"/><stop offset=".431" stop-color="#0d0d0d"/><stop offset=".446" stop-color="#010101"/><stop offset=".523" stop-color="#000"/><stop offset=".538" stop-color="#040404"/><stop offset=".569" stop-color="#272727"/><stop offset=".6" stop-color="#353535"/><stop offset=".615" stop-color="#313131"/><stop offset=".646" stop-color="#151515"/><stop offset=".662" stop-color="#131313"/><stop offset=".692" stop-color="#3a3a3a"/><stop offset=".708" stop-color="#434343"/><stop offset=".723" stop-color="#444"/><stop offset=".738" stop-color="#3c3c3c"/><stop offset=".754" stop-color="#2c2c2c"/><stop offset=".769" stop-color="#121212"/><stop offset=".785" stop-color="#020202"/><stop offset=".862" stop-color="#010101"/><stop offset=".877" stop-color="#111"/><stop offset=".892" stop-color="#2a2a2a"/><stop offset=".923" stop-color="#323232"/><stop offset=".954" stop-color="#323232"/><stop offset=".969" stop-color="#2a2a2a"/><stop offset=".985" stop-color="#181818"/><stop offset="1" stop-color="#131313"/></linearGradient>
<linearGradient id="q43" gradientUnits="userSpaceOnUse" x1="960.2" x2="1168.8" y1="0" y2="0"><stop offset="0" stop-color="#171717"/><stop offset=".031" stop-color="#323232"/><stop offset=".077" stop-color="#323232"/><stop offset=".092" stop-color="#2c2c2c"/><stop offset=".108" stop-color="#131313"/><stop offset=".123" stop-color="#020202"/><stop offset=".2" stop-color="#020202"/><stop offset=".231" stop-color="#2d2d2d"/><stop offset=".246" stop-color="#3d3d3d"/><stop offset=".262" stop-color="#444"/><stop offset=".277" stop-color="#434343"/><stop offset=".292" stop-color="#393939"/><stop offset=".323" stop-color="#131313"/><stop offset=".338" stop-color="#1a1a1a"/><stop offset=".354" stop-color="#2b2b2b"/><stop offset=".369" stop-color="#353535"/><stop offset=".385" stop-color="#363636"/><stop offset=".4" stop-color="#2f2f2f"/><stop offset=".446" stop-color="#020202"/><stop offset=".523" stop-color="#000"/><stop offset=".538" stop-color="#040404"/><stop offset=".569" stop-color="#272727"/><stop offset=".585" stop-color="#333"/><stop offset=".6" stop-color="#373737"/><stop offset=".615" stop-color="#323232"/><stop offset=".646" stop-color="#151515"/><stop offset=".662" stop-color="#1a1a1a"/><stop offset=".677" stop-color="#313131"/><stop offset=".692" stop-color="#3f3f3f"/><stop offset=".708" stop-color="#454545"/><stop offset=".723" stop-color="#424242"/><stop offset=".738" stop-color="#363636"/><stop offset=".754" stop-color="#232323"/><stop offset=".769" stop-color="#090909"/><stop offset=".785" stop-color="#010101"/><stop offset=".846" stop-color="#000"/><stop offset=".862" stop-color="#050505"/><stop offset=".877" stop-color="#1e1e1e"/><stop offset=".892" stop-color="#2f2f2f"/><stop offset=".938" stop-color="#333"/><stop offset=".954" stop-color="#303030"/><stop offset=".985" stop-color="#141414"/><stop offset="1" stop-color="#141414"/></linearGradient>
<linearGradient id="q42" gradientUnits="userSpaceOnUse" x1="959.2" x2="1167.8" y1="0" y2="0"><stop offset="0" stop-color="#141414"/><stop offset=".015" stop-color="#1d1d1d"/><stop offset=".031" stop-color="#2f2f2f"/><stop offset=".077" stop-color="#333"/><stop offset=".092" stop-color="#303030"/><stop offset=".108" stop-color="#202020"/><stop offset=".123" stop-color="#060606"/><stop offset=".154" stop-color="#000"/><stop offset=".2" stop-color="#010101"/><stop offset=".215" stop-color="#0b0b0b"/><stop offset=".231" stop-color="#252525"/><stop offset=".246" stop-color="#373737"/><stop offset=".262" stop-color="#424242"/><stop offset=".277" stop-color="#444"/><stop offset=".292" stop-color="#3e3e3e"/><stop offset=".308" stop-color="#2f2f2f"/><stop offset=".323" stop-color="#191919"/><stop offset=".338" stop-color="#1a1a1a"/><stop offset=".369" stop-color="#363636"/><stop offset=".385" stop-color="#373737"/><stop offset=".4" stop-color="#313131"/><stop offset=".431" stop-color="#0e0e0e"/><stop offset=".446" stop-color="#020202"/><stop offset=".523" stop-color="#000"/><stop offset=".538" stop-color="#040404"/><stop offset=".569" stop-color="#282828"/><stop offset=".585" stop-color="#343434"/><stop offset=".6" stop-color="#383838"/><stop offset=".615" stop-color="#333"/><stop offset=".646" stop-color="#171717"/><stop offset=".662" stop-color="#242424"/><stop offset=".677" stop-color="#383838"/><stop offset=".692" stop-color="#434343"/><stop offset=".708" stop-color="#444"/><stop offset=".723" stop-color="#3e3e3e"/><stop offset=".738" stop-color="#303030"/><stop offset=".769" stop-color="#030303"/><stop offset=".846" stop-color="#010101"/><stop offset=".862" stop-color="#0e0e0e"/><stop offset=".877" stop-color="#292929"/><stop offset=".892" stop-color="#323232"/><stop offset=".938" stop-color="#323232"/><stop offset=".954" stop-color="#292929"/><stop offset=".969" stop-color="#181818"/><stop offset="1" stop-color="#141414"/></linearGradient>
<linearGradient id="q41" gradientUnits="userSpaceOnUse" x1="958.1" x2="1166.7" y1="0" y2="0"><stop offset="0" stop-color="#141414"/><stop offset=".015" stop-color="#171717"/><stop offset=".046" stop-color="#323232"/><stop offset=".092" stop-color="#323232"/><stop offset=".108" stop-color="#2a2a2a"/><stop offset=".123" stop-color="#101010"/><stop offset=".138" stop-color="#010101"/><stop offset=".2" stop-color="#000"/><stop offset=".215" stop-color="#040404"/><stop offset=".246" stop-color="#313131"/><stop offset=".262" stop-color="#3f3f3f"/><stop offset=".277" stop-color="#454545"/><stop offset=".292" stop-color="#424242"/><stop offset=".308" stop-color="#373737"/><stop offset=".323" stop-color="#222"/><stop offset=".338" stop-color="#1b1b1b"/><stop offset=".369" stop-color="#373737"/><stop offset=".385" stop-color="#383838"/><stop offset=".4" stop-color="#323232"/><stop offset=".431" stop-color="#0e0e0e"/><stop offset=".446" stop-color="#020202"/><stop offset=".523" stop-color="#000"/><stop offset=".538" stop-color="#040404"/><stop offset=".569" stop-color="#2a2a2a"/><stop offset=".585" stop-color="#353535"/><stop offset=".6" stop-color="#393939"/><stop offset=".615" stop-color="#333"/><stop offset=".646" stop-color="#1b1b1b"/><stop offset=".677" stop-color="#3e3e3e"/><stop offset=".692" stop-color="#454545"/><stop offset=".708" stop-color="#434343"/><stop offset=".723" stop-color="#393939"/><stop offset=".738" stop-color="#272727"/><stop offset=".754" stop-color="#0d0d0d"/><stop offset=".769" stop-color="#010101"/><stop offset=".831" stop-color="#000"/><stop offset=".846" stop-color="#040404"/><stop offset=".877" stop-color="#2f2f2f"/><stop offset=".923" stop-color="#333"/><stop offset=".938" stop-color="#303030"/><stop offset=".954" stop-color="#1f1f1f"/><stop offset=".969" stop-color="#151515"/><stop offset="1" stop-color="#141414"/></linearGradient>
<linearGradient id="q40" gradientUnits="userSpaceOnUse" x1="957.1" x2="1165.7" y1="0" y2="0"><stop offset="0" stop-color="#151515"/><stop offset=".015" stop-color="#151515"/><stop offset=".031" stop-color="#1c1c1c"/><stop offset=".046" stop-color="#2e2e2e"/><stop offset=".077" stop-color="#333"/><stop offset=".108" stop-color="#303030"/><stop offset=".123" stop-color="#1e1e1e"/><stop offset=".138" stop-color="#050505"/><stop offset=".169" stop-color="#000"/><stop offset=".215" stop-color="#010101"/><stop offset=".231" stop-color="#0f0f0f"/><stop offset=".246" stop-color="#292929"/><stop offset=".262" stop-color="#3a3a3a"/><stop offset=".277" stop-color="#444"/><stop offset=".292" stop-color="#454545"/><stop offset=".308" stop-color="#3d3d3d"/><stop offset=".338" stop-color="#1f1f1f"/><stop offset=".369" stop-color="#373737"/><stop offset=".385" stop-color="#393939"/><stop offset=".4" stop-color="#333"/><stop offset=".431" stop-color="#0f0f0f"/><stop offset=".446" stop-color="#020202"/><stop offset=".523" stop-color="#000"/><stop offset=".538" stop-color="#050505"/><stop offset=".569" stop-color="#2b2b2b"/><stop offset=".585" stop-color="#373737"/><stop offset=".6" stop-color="#3a3a3a"/><stop offset=".615" stop-color="#343434"/><stop offset=".631" stop-color="#262626"/><stop offset=".646" stop-color="#242424"/><stop offset=".677" stop-color="#424242"/><stop offset=".692" stop-color="#454545"/><stop offset=".708" stop-color="#404040"/><stop offset=".723" stop-color="#333"/><stop offset=".754" stop-color="#050505"/><stop offset=".785" stop-color="#000"/><stop offset=".831" stop-color="#010101"/><stop offset=".846" stop-color="#0c0c0c"/><stop offset=".862" stop-color="#272727"/><stop offset=".877" stop-color="#323232"/><stop offset=".923" stop-color="#333"/><stop offset=".954" stop-color="#171717"/><stop offset="1" stop-color="#151515"/></linearGradient>
<linearGradient id="q39" gradientUnits="userSpaceOnUse" x1="956.0" x2="1164.6" y1="0" y2="0"><stop offset="0" stop-color="#151515"/><stop offset=".031" stop-color="#161616"/><stop offset=".062" stop-color="#323232"/><stop offset=".108" stop-color="#323232"/><stop offset=".123" stop-color="#292929"/><stop offset=".138" stop-color="#0e0e0e"/><stop offset=".154" stop-color="#010101"/><stop offset=".215" stop-color="#000"/><stop offset=".231" stop-color="#060606"/><stop offset=".262" stop-color="#343434"/><stop offset=".277" stop-color="#414141"/><stop offset=".292" stop-color="#454545"/><stop offset=".308" stop-color="#414141"/><stop offset=".338" stop-color="#282828"/><stop offset=".354" stop-color="#2c2c2c"/><stop offset=".369" stop-color="#383838"/><stop offset=".385" stop-color="#3a3a3a"/><stop offset=".4" stop-color="#353535"/><stop offset=".446" stop-color="#020202"/><stop offset=".523" stop-color="#000"/><stop offset=".538" stop-color="#050505"/><stop offset=".569" stop-color="#2c2c2c"/><stop offset=".585" stop-color="#383838"/><stop offset=".6" stop-color="#3a3a3a"/><stop offset=".631" stop-color="#2a2a2a"/><stop offset=".646" stop-color="#2f2f2f"/><stop offset=".677" stop-color="#454545"/><stop offset=".692" stop-color="#454545"/><stop offset=".708" stop-color="#3c3c3c"/><stop offset=".723" stop-color="#2b2b2b"/><stop offset=".738" stop-color="#111"/><stop offset=".754" stop-color="#020202"/><stop offset=".831" stop-color="#030303"/><stop offset=".862" stop-color="#2f2f2f"/><stop offset=".908" stop-color="#343434"/><stop offset=".923" stop-color="#2f2f2f"/><stop offset=".938" stop-color="#1e1e1e"/><stop offset=".954" stop-color="#151515"/><stop offset="1" stop-color="#151515"/></linearGradient>
<linearGradient id="q38" gradientUnits="userSpaceOnUse" x1="955.0" x2="1163.6" y1="0" y2="0"><stop offset="0" stop-color="#151515"/><stop offset=".031" stop-color="#151515"/><stop offset=".046" stop-color="#1b1b1b"/><stop offset=".062" stop-color="#2d2d2d"/><stop offset=".077" stop-color="#343434"/><stop offset=".123" stop-color="#303030"/><stop offset=".154" stop-color="#040404"/><stop offset=".215" stop-color="#000"/><stop offset=".231" stop-color="#020202"/><stop offset=".246" stop-color="#141414"/><stop offset=".262" stop-color="#2d2d2d"/><stop offset=".277" stop-color="#3d3d3d"/><stop offset=".292" stop-color="#454545"/><stop offset=".308" stop-color="#444"/><stop offset=".338" stop-color="#323232"/><stop offset=".354" stop-color="#2f2f2f"/><stop offset=".385" stop-color="#3b3b3b"/><stop offset=".4" stop-color="#363636"/><stop offset=".415" stop-color="#272727"/><stop offset=".431" stop-color="#101010"/><stop offset=".446" stop-color="#030303"/><stop offset=".523" stop-color="#010101"/><stop offset=".538" stop-color="#060606"/><stop offset=".569" stop-color="#2e2e2e"/><stop offset=".585" stop-color="#393939"/><stop offset=".6" stop-color="#3b3b3b"/><stop offset=".631" stop-color="#323232"/><stop offset=".677" stop-color="#464646"/><stop offset=".692" stop-color="#434343"/><stop offset=".708" stop-color="#373737"/><stop offset=".738" stop-color="#080808"/><stop offset=".769" stop-color="#000"/><stop offset=".815" stop-color="#010101"/><stop offset=".831" stop-color="#090909"/><stop offset=".846" stop-color="#252525"/><stop offset=".862" stop-color="#323232"/><stop offset=".908" stop-color="#333"/><stop offset=".938" stop-color="#171717"/><stop offset="1" stop-color="#151515"/></linearGradient>
<linearGradient id="q37" gradientUnits="userSpaceOnUse" x1="954.0" x2="1162.6" y1="0" y2="0"><stop offset="0" stop-color="#151515"/><stop offset=".046" stop-color="#171717"/><stop offset=".077" stop-color="#323232"/><stop offset=".123" stop-color="#333"/><stop offset=".138" stop-color="#272727"/><stop offset=".154" stop-color="#0b0b0b"/><stop offset=".169" stop-color="#010101"/><stop offset=".231" stop-color="#010101"/><stop offset=".246" stop-color="#0a0a0a"/><stop offset=".262" stop-color="#252525"/><stop offset=".277" stop-color="#383838"/><stop offset=".292" stop-color="#444"/><stop offset=".308" stop-color="#464646"/><stop offset=".354" stop-color="#363636"/><stop offset=".385" stop-color="#3c3c3c"/><stop offset=".4" stop-color="#373737"/><stop offset=".415" stop-color="#282828"/><stop offset=".431" stop-color="#121212"/><stop offset=".446" stop-color="#030303"/><stop offset=".523" stop-color="#010101"/><stop offset=".538" stop-color="#070707"/><stop offset=".569" stop-color="#2f2f2f"/><stop offset=".585" stop-color="#3a3a3a"/><stop offset=".615" stop-color="#373737"/><stop offset=".677" stop-color="#464646"/><stop offset=".692" stop-color="#404040"/><stop offset=".708" stop-color="#303030"/><stop offset=".738" stop-color="#030303"/><stop offset=".815" stop-color="#020202"/><stop offset=".846" stop-color="#2e2e2e"/><stop offset=".877" stop-color="#343434"/><stop offset=".908" stop-color="#2f2f2f"/><stop offset=".923" stop-color="#1d1d1d"/><stop offset=".954" stop-color="#151515"/><stop offset="1" stop-color="#141414"/></linearGradient>
<linearGradient id="q36" gradientUnits="userSpaceOnUse" x1="952.9" x2="1161.5" y1="0" y2="0"><stop offset="0" stop-color="#151515"/><stop offset=".062" stop-color="#1a1a1a"/><stop offset=".077" stop-color="#2c2c2c"/><stop offset=".092" stop-color="#343434"/><stop offset=".123" stop-color="#343434"/><stop offset=".138" stop-color="#2f2f2f"/><stop offset=".169" stop-color="#030303"/><stop offset=".231" stop-color="#000"/><stop offset=".246" stop-color="#040404"/><stop offset=".277" stop-color="#323232"/><stop offset=".292" stop-color="#414141"/><stop offset=".308" stop-color="#474747"/><stop offset=".354" stop-color="#404040"/><stop offset=".369" stop-color="#3a3a3a"/><stop offset=".4" stop-color="#383838"/><stop offset=".415" stop-color="#292929"/><stop offset=".431" stop-color="#131313"/><stop offset=".446" stop-color="#040404"/><stop offset=".523" stop-color="#010101"/><stop offset=".538" stop-color="#070707"/><stop offset=".569" stop-color="#303030"/><stop offset=".585" stop-color="#3a3a3a"/><stop offset=".615" stop-color="#3d3d3d"/><stop offset=".631" stop-color="#474747"/><stop offset=".677" stop-color="#464646"/><stop offset=".692" stop-color="#3b3b3b"/><stop offset=".708" stop-color="#282828"/><stop offset=".723" stop-color="#0c0c0c"/><stop offset=".738" stop-color="#010101"/><stop offset=".8" stop-color="#000"/><stop offset=".815" stop-color="#080808"/><stop offset=".831" stop-color="#232323"/><stop offset=".846" stop-color="#323232"/><stop offset=".892" stop-color="#333"/><stop offset=".923" stop-color="#171717"/><stop offset="1" stop-color="#121212"/></linearGradient>
<linearGradient id="q35" gradientUnits="userSpaceOnUse" x1="951.9" x2="1160.5" y1="0" y2="0"><stop offset="0" stop-color="#151515"/><stop offset=".062" stop-color="#171717"/><stop offset=".092" stop-color="#323232"/><stop offset=".138" stop-color="#333"/><stop offset=".154" stop-color="#252525"/><stop offset=".169" stop-color="#090909"/><stop offset=".185" stop-color="#010101"/><stop offset=".246" stop-color="#010101"/><stop offset=".262" stop-color="#0f0f0f"/><stop offset=".277" stop-color="#2a2a2a"/><stop offset=".292" stop-color="#3d3d3d"/><stop offset=".308" stop-color="#474747"/><stop offset=".354" stop-color="#4c4c4c"/><stop offset=".369" stop-color="#404040"/><stop offset=".4" stop-color="#393939"/><stop offset=".415" stop-color="#2b2b2b"/><stop offset=".431" stop-color="#141414"/><stop offset=".446" stop-color="#050505"/><stop offset=".508" stop-color="#000"/><stop offset=".538" stop-color="#090909"/><stop offset=".569" stop-color="#313131"/><stop offset=".585" stop-color="#3b3b3b"/><stop offset=".6" stop-color="#3e3e3e"/><stop offset=".631" stop-color="#4f4f4f"/><stop offset=".677" stop-color="#434343"/><stop offset=".692" stop-color="#353535"/><stop offset=".723" stop-color="#050505"/><stop offset=".754" stop-color="#000"/><stop offset=".8" stop-color="#020202"/><stop offset=".815" stop-color="#121212"/><stop offset=".831" stop-color="#2d2d2d"/><stop offset=".862" stop-color="#353535"/><stop offset=".877" stop-color="#353535"/><stop offset=".892" stop-color="#2e2e2e"/><stop offset=".908" stop-color="#1c1c1c"/><stop offset=".938" stop-color="#161616"/><stop offset=".985" stop-color="#131313"/><stop offset="1" stop-color="#0d0d0d"/></linearGradient>
<linearGradient id="q34" gradientUnits="userSpaceOnUse" x1="950.8" x2="1159.4" y1="0" y2="0"><stop offset="0" stop-color="#121212"/><stop offset=".077" stop-color="#1a1a1a"/><stop offset=".092" stop-color="#2c2c2c"/><stop offset=".108" stop-color="#353535"/><stop offset=".138" stop-color="#343434"/><stop offset=".154" stop-color="#2e2e2e"/><stop offset=".185" stop-color="#020202"/><stop offset=".246" stop-color="#000"/><stop offset=".262" stop-color="#060606"/><stop offset=".292" stop-color="#373737"/><stop offset=".308" stop-color="#454545"/><stop offset=".354" stop-color="#555"/><stop offset=".385" stop-color="#3e3e3e"/><stop offset=".4" stop-color="#393939"/><stop offset=".415" stop-color="#2c2c2c"/><stop offset=".431" stop-color="#151515"/><stop offset=".446" stop-color="#060606"/><stop offset=".492" stop-color="#000"/><stop offset=".523" stop-color="#030303"/><stop offset=".538" stop-color="#0a0a0a"/><stop offset=".569" stop-color="#323232"/><stop offset=".6" stop-color="#424242"/><stop offset=".615" stop-color="#535353"/><stop offset=".631" stop-color="#565656"/><stop offset=".677" stop-color="#404040"/><stop offset=".692" stop-color="#2e2e2e"/><stop offset=".708" stop-color="#121212"/><stop offset=".723" stop-color="#020202"/><stop offset=".785" stop-color="#000"/><stop offset=".8" stop-color="#060606"/><stop offset=".815" stop-color="#202020"/><stop offset=".831" stop-color="#323232"/><stop offset=".877" stop-color="#333"/><stop offset=".908" stop-color="#171717"/><stop offset=".969" stop-color="#151515"/><stop offset="1" stop-color="#080808"/></linearGradient>
<linearGradient id="q33" gradientUnits="userSpaceOnUse" x1="949.8" x2="1158.4" y1="0" y2="0"><stop offset="0" stop-color="#0d0d0d"/><stop offset=".031" stop-color="#161616"/><stop offset=".077" stop-color="#171717"/><stop offset=".092" stop-color="#212121"/><stop offset=".108" stop-color="#323232"/><stop offset=".154" stop-color="#323232"/><stop offset=".169" stop-color="#222"/><stop offset=".185" stop-color="#070707"/><stop offset=".2" stop-color="#000"/><stop offset=".262" stop-color="#020202"/><stop offset=".277" stop-color="#151515"/><stop offset=".292" stop-color="#303030"/><stop offset=".308" stop-color="#424242"/><stop offset=".354" stop-color="#5c5c5c"/><stop offset=".369" stop-color="#555"/><stop offset=".385" stop-color="#414141"/><stop offset=".4" stop-color="#3a3a3a"/><stop offset=".415" stop-color="#2c2c2c"/><stop offset=".431" stop-color="#161616"/><stop offset=".446" stop-color="#070707"/><stop offset=".492" stop-color="#000"/><stop offset=".523" stop-color="#030303"/><stop offset=".538" stop-color="#0b0b0b"/><stop offset=".569" stop-color="#333"/><stop offset=".6" stop-color="#4b4b4b"/><stop offset=".615" stop-color="#5d5d5d"/><stop offset=".631" stop-color="#5c5c5c"/><stop offset=".677" stop-color="#3a3a3a"/><stop offset=".708" stop-color="#080808"/><stop offset=".738" stop-color="#000"/><stop offset=".785" stop-color="#010101"/><stop offset=".8" stop-color="#0f0f0f"/><stop offset=".815" stop-color="#2b2b2b"/><stop offset=".831" stop-color="#343434"/><stop offset=".862" stop-color="#353535"/><stop offset=".877" stop-color="#2d2d2d"/><stop offset=".892" stop-color="#1b1b1b"/><stop offset=".969" stop-color="#121212"/><stop offset="1" stop-color="#040404"/></linearGradient>
<linearGradient id="q32" gradientUnits="userSpaceOnUse" x1="948.7" x2="1157.3" y1="0" y2="0"><stop offset="0" stop-color="#080808"/><stop offset=".046" stop-color="#171717"/><stop offset=".092" stop-color="#1a1a1a"/><stop offset=".123" stop-color="#353535"/><stop offset=".154" stop-color="#353535"/><stop offset=".169" stop-color="#2d2d2d"/><stop offset=".185" stop-color="#111"/><stop offset=".2" stop-color="#020202"/><stop offset=".262" stop-color="#010101"/><stop offset=".277" stop-color="#0a0a0a"/><stop offset=".292" stop-color="#272727"/><stop offset=".308" stop-color="#3c3c3c"/><stop offset=".354" stop-color="#626262"/><stop offset=".369" stop-color="#5f5f5f"/><stop offset=".385" stop-color="#494949"/><stop offset=".415" stop-color="#2d2d2d"/><stop offset=".446" stop-color="#070707"/><stop offset=".492" stop-color="#000"/><stop offset=".523" stop-color="#040404"/><stop offset=".538" stop-color="#0b0b0b"/><stop offset=".569" stop-color="#333"/><stop offset=".585" stop-color="#3f3f3f"/><stop offset=".6" stop-color="#575757"/><stop offset=".615" stop-color="#646464"/><stop offset=".631" stop-color="#606060"/><stop offset=".677" stop-color="#333"/><stop offset=".708" stop-color="#030303"/><stop offset=".769" stop-color="#000"/><stop offset=".785" stop-color="#050505"/><stop offset=".815" stop-color="#313131"/><stop offset=".846" stop-color="#363636"/><stop offset=".862" stop-color="#333"/><stop offset=".892" stop-color="#181818"/><stop offset=".954" stop-color="#141414"/><stop offset=".985" stop-color="#050505"/><stop offset="1" stop-color="#030303"/></linearGradient>
<linearGradient id="q31" gradientUnits="userSpaceOnUse" x1="947.7" x2="1156.3" y1="0" y2="0"><stop offset="0" stop-color="#040404"/><stop offset=".046" stop-color="#161616"/><stop offset=".092" stop-color="#181818"/><stop offset=".108" stop-color="#202020"/><stop offset=".123" stop-color="#323232"/><stop offset=".154" stop-color="#363636"/><stop offset=".169" stop-color="#323232"/><stop offset=".2" stop-color="#060606"/><stop offset=".231" stop-color="#000"/><stop offset=".277" stop-color="#040404"/><stop offset=".308" stop-color="#353535"/><stop offset=".354" stop-color="#666"/><stop offset=".369" stop-color="#676767"/><stop offset=".385" stop-color="#555"/><stop offset=".4" stop-color="#3c3c3c"/><stop offset=".446" stop-color="#070707"/><stop offset=".508" stop-color="#010101"/><stop offset=".538" stop-color="#0b0b0b"/><stop offset=".585" stop-color="#474747"/><stop offset=".6" stop-color="#616161"/><stop offset=".615" stop-color="#6a6a6a"/><stop offset=".631" stop-color="#626262"/><stop offset=".677" stop-color="#2a2a2a"/><stop offset=".692" stop-color="#0c0c0c"/><stop offset=".708" stop-color="#010101"/><stop offset=".769" stop-color="#010101"/><stop offset=".785" stop-color="#0d0d0d"/><stop offset=".8" stop-color="#292929"/><stop offset=".815" stop-color="#343434"/><stop offset=".846" stop-color="#363636"/><stop offset=".862" stop-color="#2c2c2c"/><stop offset=".877" stop-color="#1b1b1b"/><stop offset=".954" stop-color="#101010"/><stop offset=".985" stop-color="#030303"/><stop offset="1" stop-color="#080808"/></linearGradient>
<linearGradient id="q30" gradientUnits="userSpaceOnUse" x1="946.6" x2="1155.3" y1="0" y2="0"><stop offset="0" stop-color="#050505"/><stop offset=".031" stop-color="#0d0d0d"/><stop offset=".062" stop-color="#171717"/><stop offset=".108" stop-color="#1a1a1a"/><stop offset=".138" stop-color="#353535"/><stop offset=".169" stop-color="#353535"/><stop offset=".185" stop-color="#2b2b2b"/><stop offset=".2" stop-color="#0f0f0f"/><stop offset=".215" stop-color="#010101"/><stop offset=".277" stop-color="#010101"/><stop offset=".292" stop-color="#0e0e0e"/><stop offset=".308" stop-color="#2c2c2c"/><stop offset=".354" stop-color="#686868"/><stop offset=".369" stop-color="#6c6c6c"/><stop offset=".385" stop-color="#5f5f5f"/><stop offset=".4" stop-color="#424242"/><stop offset=".431" stop-color="#161616"/><stop offset=".446" stop-color="#070707"/><stop offset=".492" stop-color="#000"/><stop offset=".523" stop-color="#030303"/><stop offset=".538" stop-color="#0b0b0b"/><stop offset=".569" stop-color="#343434"/><stop offset=".6" stop-color="#696969"/><stop offset=".615" stop-color="#6e6e6e"/><stop offset=".631" stop-color="#626262"/><stop offset=".677" stop-color="#1d1d1d"/><stop offset=".692" stop-color="#050505"/><stop offset=".723" stop-color="#000"/><stop offset=".769" stop-color="#030303"/><stop offset=".8" stop-color="#313131"/><stop offset=".831" stop-color="#363636"/><stop offset=".846" stop-color="#333"/><stop offset=".862" stop-color="#222"/><stop offset=".877" stop-color="#181818"/><stop offset=".938" stop-color="#121212"/><stop offset=".969" stop-color="#040404"/><stop offset=".985" stop-color="#070707"/><stop offset="1" stop-color="#151515"/></linearGradient>
<linearGradient id="q29" gradientUnits="userSpaceOnUse" x1="945.6" x2="1154.2" y1="0" y2="0"><stop offset="0" stop-color="#0e0e0e"/><stop offset=".015" stop-color="#050505"/><stop offset=".062" stop-color="#161616"/><stop offset=".108" stop-color="#181818"/><stop offset=".123" stop-color="#1f1f1f"/><stop offset=".138" stop-color="#313131"/><stop offset=".169" stop-color="#363636"/><stop offset=".185" stop-color="#323232"/><stop offset=".215" stop-color="#040404"/><stop offset=".277" stop-color="#000"/><stop offset=".292" stop-color="#060606"/><stop offset=".354" stop-color="#676767"/><stop offset=".369" stop-color="#707070"/><stop offset=".385" stop-color="#676767"/><stop offset=".415" stop-color="#2c2c2c"/><stop offset=".431" stop-color="#141414"/><stop offset=".446" stop-color="#050505"/><stop offset=".508" stop-color="#010101"/><stop offset=".538" stop-color="#090909"/><stop offset=".554" stop-color="#1d1d1d"/><stop offset=".569" stop-color="#383838"/><stop offset=".585" stop-color="#5b5b5b"/><stop offset=".6" stop-color="#6e6e6e"/><stop offset=".615" stop-color="#6f6f6f"/><stop offset=".631" stop-color="#606060"/><stop offset=".677" stop-color="#111"/><stop offset=".692" stop-color="#020202"/><stop offset=".754" stop-color="#010101"/><stop offset=".769" stop-color="#0a0a0a"/><stop offset=".785" stop-color="#272727"/><stop offset=".8" stop-color="#343434"/><stop offset=".831" stop-color="#363636"/><stop offset=".862" stop-color="#1b1b1b"/><stop offset=".923" stop-color="#141414"/><stop offset=".954" stop-color="#060606"/><stop offset=".969" stop-color="#070707"/><stop offset="1" stop-color="#252525"/></linearGradient>
<linearGradient id="q28" gradientUnits="userSpaceOnUse" x1="944.6" x2="1153.2" y1="0" y2="0"><stop offset="0" stop-color="#1e1e1e"/><stop offset=".015" stop-color="#0d0d0d"/><stop offset=".031" stop-color="#060606"/><stop offset=".077" stop-color="#171717"/><stop offset=".123" stop-color="#191919"/><stop offset=".154" stop-color="#353535"/><stop offset=".185" stop-color="#353535"/><stop offset=".2" stop-color="#292929"/><stop offset=".215" stop-color="#0c0c0c"/><stop offset=".231" stop-color="#010101"/><stop offset=".292" stop-color="#020202"/><stop offset=".308" stop-color="#131313"/><stop offset=".354" stop-color="#656565"/><stop offset=".369" stop-color="#717171"/><stop offset=".385" stop-color="#6b6b6b"/><stop offset=".4" stop-color="#545454"/><stop offset=".415" stop-color="#2e2e2e"/><stop offset=".431" stop-color="#131313"/><stop offset=".446" stop-color="#040404"/><stop offset=".508" stop-color="#000"/><stop offset=".538" stop-color="#080808"/><stop offset=".554" stop-color="#1c1c1c"/><stop offset=".585" stop-color="#626262"/><stop offset=".6" stop-color="#717171"/><stop offset=".615" stop-color="#6f6f6f"/><stop offset=".631" stop-color="#5c5c5c"/><stop offset=".677" stop-color="#070707"/><stop offset=".708" stop-color="#000"/><stop offset=".754" stop-color="#030303"/><stop offset=".785" stop-color="#303030"/><stop offset=".815" stop-color="#363636"/><stop offset=".831" stop-color="#323232"/><stop offset=".846" stop-color="#202020"/><stop offset=".862" stop-color="#181818"/><stop offset=".908" stop-color="#161616"/><stop offset=".938" stop-color="#080808"/><stop offset=".954" stop-color="#070707"/><stop offset="1" stop-color="#303030"/></linearGradient>
<linearGradient id="q27" gradientUnits="userSpaceOnUse" x1="943.5" x2="1152.1" y1="0" y2="0"><stop offset="0" stop-color="#2c2c2c"/><stop offset=".031" stop-color="#0c0c0c"/><stop offset=".046" stop-color="#070707"/><stop offset=".092" stop-color="#171717"/><stop offset=".123" stop-color="#181818"/><stop offset=".138" stop-color="#1e1e1e"/><stop offset=".154" stop-color="#303030"/><stop offset=".169" stop-color="#373737"/><stop offset=".2" stop-color="#313131"/><stop offset=".231" stop-color="#030303"/><stop offset=".292" stop-color="#010101"/><stop offset=".308" stop-color="#090909"/><stop offset=".354" stop-color="#616161"/><stop offset=".369" stop-color="#707070"/><stop offset=".385" stop-color="#6e6e6e"/><stop offset=".4" stop-color="#5c5c5c"/><stop offset=".431" stop-color="#121212"/><stop offset=".446" stop-color="#030303"/><stop offset=".523" stop-color="#010101"/><stop offset=".538" stop-color="#060606"/><stop offset=".554" stop-color="#1e1e1e"/><stop offset=".569" stop-color="#494949"/><stop offset=".585" stop-color="#676767"/><stop offset=".6" stop-color="#727272"/><stop offset=".615" stop-color="#6d6d6d"/><stop offset=".631" stop-color="#575757"/><stop offset=".662" stop-color="#161616"/><stop offset=".677" stop-color="#030303"/><stop offset=".738" stop-color="#000"/><stop offset=".754" stop-color="#080808"/><stop offset=".769" stop-color="#242424"/><stop offset=".785" stop-color="#343434"/><stop offset=".815" stop-color="#363636"/><stop offset=".846" stop-color="#1a1a1a"/><stop offset=".908" stop-color="#121212"/><stop offset=".938" stop-color="#080808"/><stop offset=".954" stop-color="#111"/><stop offset=".985" stop-color="#2f2f2f"/><stop offset="1" stop-color="#343434"/></linearGradient>
<linearGradient id="q26" gradientUnits="userSpaceOnUse" x1="942.5" x2="1151.1" y1="0" y2="0"><stop offset="0" stop-color="#333"/><stop offset=".015" stop-color="#2b2b2b"/><stop offset=".046" stop-color="#0c0c0c"/><stop offset=".062" stop-color="#090909"/><stop offset=".108" stop-color="#181818"/><stop offset=".138" stop-color="#191919"/><stop offset=".169" stop-color="#353535"/><stop offset=".2" stop-color="#343434"/><stop offset=".215" stop-color="#262626"/><stop offset=".231" stop-color="#090909"/><stop offset=".246" stop-color="#010101"/><stop offset=".308" stop-color="#030303"/><stop offset=".323" stop-color="#181818"/><stop offset=".354" stop-color="#5c5c5c"/><stop offset=".369" stop-color="#6e6e6e"/><stop offset=".385" stop-color="#707070"/><stop offset=".4" stop-color="#616161"/><stop offset=".415" stop-color="#3f3f3f"/><stop offset=".431" stop-color="#131313"/><stop offset=".446" stop-color="#020202"/><stop offset=".523" stop-color="#010101"/><stop offset=".538" stop-color="#060606"/><stop offset=".554" stop-color="#252525"/><stop offset=".569" stop-color="#515151"/><stop offset=".585" stop-color="#6a6a6a"/><stop offset=".6" stop-color="#717171"/><stop offset=".615" stop-color="#696969"/><stop offset=".631" stop-color="#4f4f4f"/><stop offset=".662" stop-color="#0a0a0a"/><stop offset=".677" stop-color="#010101"/><stop offset=".738" stop-color="#020202"/><stop offset=".754" stop-color="#131313"/><stop offset=".769" stop-color="#2e2e2e"/><stop offset=".785" stop-color="#363636"/><stop offset=".8" stop-color="#373737"/><stop offset=".815" stop-color="#313131"/><stop offset=".831" stop-color="#1f1f1f"/><stop offset=".846" stop-color="#181818"/><stop offset=".892" stop-color="#141414"/><stop offset=".923" stop-color="#090909"/><stop offset=".938" stop-color="#101010"/><stop offset=".969" stop-color="#2f2f2f"/><stop offset="1" stop-color="#353535"/></linearGradient>
<linearGradient id="q25" gradientUnits="userSpaceOnUse" x1="941.4" x2="1150.0" y1="0" y2="0"><stop offset="0" stop-color="#353535"/><stop offset=".031" stop-color="#2a2a2a"/><stop offset=".062" stop-color="#0c0c0c"/><stop offset=".092" stop-color="#121212"/><stop offset=".154" stop-color="#1d1d1d"/><stop offset=".169" stop-color="#2f2f2f"/><stop offset=".185" stop-color="#373737"/><stop offset=".215" stop-color="#2f2f2f"/><stop offset=".246" stop-color="#020202"/><stop offset=".308" stop-color="#010101"/><stop offset=".323" stop-color="#0c0c0c"/><stop offset=".354" stop-color="#555"/><stop offset=".369" stop-color="#6b6b6b"/><stop offset=".385" stop-color="#6f6f6f"/><stop offset=".4" stop-color="#646464"/><stop offset=".415" stop-color="#474747"/><stop offset=".431" stop-color="#191919"/><stop offset=".446" stop-color="#020202"/><stop offset=".523" stop-color="#000"/><stop offset=".538" stop-color="#080808"/><stop offset=".569" stop-color="#565656"/><stop offset=".585" stop-color="#6b6b6b"/><stop offset=".6" stop-color="#6f6f6f"/><stop offset=".615" stop-color="#646464"/><stop offset=".631" stop-color="#474747"/><stop offset=".646" stop-color="#1e1e1e"/><stop offset=".662" stop-color="#040404"/><stop offset=".723" stop-color="#000"/><stop offset=".738" stop-color="#060606"/><stop offset=".754" stop-color="#212121"/><stop offset=".769" stop-color="#333"/><stop offset=".8" stop-color="#363636"/><stop offset=".831" stop-color="#1a1a1a"/><stop offset=".877" stop-color="#161616"/><stop offset=".908" stop-color="#0a0a0a"/><stop offset=".923" stop-color="#101010"/><stop offset=".954" stop-color="#2e2e2e"/><stop offset=".985" stop-color="#353535"/><stop offset="1" stop-color="#353535"/></linearGradient>
<linearGradient id="q24" gradientUnits="userSpaceOnUse" x1="940.4" x2="1149.0" y1="0" y2="0"><stop offset="0" stop-color="#353535"/><stop offset=".031" stop-color="#323232"/><stop offset=".046" stop-color="#292929"/><stop offset=".077" stop-color="#0d0d0d"/><stop offset=".138" stop-color="#181818"/><stop offset=".154" stop-color="#191919"/><stop offset=".185" stop-color="#353535"/><stop offset=".215" stop-color="#343434"/><stop offset=".231" stop-color="#242424"/><stop offset=".246" stop-color="#080808"/><stop offset=".262" stop-color="#000"/><stop offset=".308" stop-color="#000"/><stop offset=".323" stop-color="#050505"/><stop offset=".354" stop-color="#4d4d4d"/><stop offset=".369" stop-color="#666"/><stop offset=".385" stop-color="#6d6d6d"/><stop offset=".4" stop-color="#656565"/><stop offset=".415" stop-color="#4d4d4d"/><stop offset=".431" stop-color="#232323"/><stop offset=".446" stop-color="#040404"/><stop offset=".508" stop-color="#000"/><stop offset=".523" stop-color="#010101"/><stop offset=".538" stop-color="#0d0d0d"/><stop offset=".554" stop-color="#383838"/><stop offset=".569" stop-color="#5a5a5a"/><stop offset=".585" stop-color="#6b6b6b"/><stop offset=".6" stop-color="#6c6c6c"/><stop offset=".615" stop-color="#5d5d5d"/><stop offset=".631" stop-color="#3d3d3d"/><stop offset=".646" stop-color="#121212"/><stop offset=".662" stop-color="#010101"/><stop offset=".723" stop-color="#010101"/><stop offset=".738" stop-color="#101010"/><stop offset=".754" stop-color="#2d2d2d"/><stop offset=".769" stop-color="#363636"/><stop offset=".785" stop-color="#373737"/><stop offset=".8" stop-color="#303030"/><stop offset=".815" stop-color="#1e1e1e"/><stop offset=".877" stop-color="#121212"/><stop offset=".892" stop-color="#0c0c0c"/><stop offset=".908" stop-color="#101010"/><stop offset=".938" stop-color="#2d2d2d"/><stop offset=".969" stop-color="#353535"/><stop offset="1" stop-color="#353535"/></linearGradient>
<linearGradient id="q23" gradientUnits="userSpaceOnUse" x1="939.3" x2="1148.0" y1="0" y2="0"><stop offset="0" stop-color="#353535"/><stop offset=".046" stop-color="#323232"/><stop offset=".062" stop-color="#282828"/><stop offset=".077" stop-color="#171717"/><stop offset=".092" stop-color="#0e0e0e"/><stop offset=".169" stop-color="#1c1c1c"/><stop offset=".185" stop-color="#2e2e2e"/><stop offset=".2" stop-color="#373737"/><stop offset=".215" stop-color="#363636"/><stop offset=".231" stop-color="#2e2e2e"/><stop offset=".246" stop-color="#121212"/><stop offset=".262" stop-color="#020202"/><stop offset=".323" stop-color="#020202"/><stop offset=".338" stop-color="#191919"/><stop offset=".354" stop-color="#444"/><stop offset=".369" stop-color="#5f5f5f"/><stop offset=".385" stop-color="#6a6a6a"/><stop offset=".4" stop-color="#666"/><stop offset=".415" stop-color="#525252"/><stop offset=".446" stop-color="#090909"/><stop offset=".462" stop-color="#000"/><stop offset=".523" stop-color="#020202"/><stop offset=".538" stop-color="#171717"/><stop offset=".554" stop-color="#3f3f3f"/><stop offset=".569" stop-color="#5d5d5d"/><stop offset=".585" stop-color="#696969"/><stop offset=".6" stop-color="#676767"/><stop offset=".615" stop-color="#555"/><stop offset=".646" stop-color="#0a0a0a"/><stop offset=".662" stop-color="#010101"/><stop offset=".708" stop-color="#000"/><stop offset=".723" stop-color="#050505"/><stop offset=".754" stop-color="#333"/><stop offset=".785" stop-color="#353535"/><stop offset=".815" stop-color="#1a1a1a"/><stop offset=".862" stop-color="#141414"/><stop offset=".892" stop-color="#101010"/><stop offset=".923" stop-color="#2c2c2c"/><stop offset=".954" stop-color="#353535"/><stop offset="1" stop-color="#353535"/></linearGradient>
<linearGradient id="q22" gradientUnits="userSpaceOnUse" x1="938.3" x2="1146.9" y1="0" y2="0"><stop offset="0" stop-color="#353535"/><stop offset=".062" stop-color="#313131"/><stop offset=".092" stop-color="#171717"/><stop offset=".108" stop-color="#101010"/><stop offset=".169" stop-color="#191919"/><stop offset=".185" stop-color="#232323"/><stop offset=".2" stop-color="#343434"/><stop offset=".231" stop-color="#343434"/><stop offset=".262" stop-color="#060606"/><stop offset=".292" stop-color="#000"/><stop offset=".323" stop-color="#010101"/><stop offset=".338" stop-color="#0f0f0f"/><stop offset=".369" stop-color="#575757"/><stop offset=".385" stop-color="#656565"/><stop offset=".4" stop-color="#656565"/><stop offset=".415" stop-color="#555"/><stop offset=".446" stop-color="#111"/><stop offset=".462" stop-color="#010101"/><stop offset=".508" stop-color="#000"/><stop offset=".523" stop-color="#050505"/><stop offset=".554" stop-color="#454545"/><stop offset=".569" stop-color="#5e5e5e"/><stop offset=".585" stop-color="#676767"/><stop offset=".6" stop-color="#606060"/><stop offset=".615" stop-color="#4a4a4a"/><stop offset=".631" stop-color="#232323"/><stop offset=".646" stop-color="#060606"/><stop offset=".677" stop-color="#000"/><stop offset=".708" stop-color="#010101"/><stop offset=".723" stop-color="#0e0e0e"/><stop offset=".738" stop-color="#2b2b2b"/><stop offset=".754" stop-color="#363636"/><stop offset=".769" stop-color="#373737"/><stop offset=".785" stop-color="#2f2f2f"/><stop offset=".8" stop-color="#1d1d1d"/><stop offset=".877" stop-color="#111"/><stop offset=".908" stop-color="#2c2c2c"/><stop offset=".938" stop-color="#353535"/><stop offset="1" stop-color="#323232"/></linearGradient>
<linearGradient id="q21" gradientUnits="userSpaceOnUse" x1="937.3" x2="1145.9" y1="0" y2="0"><stop offset="0" stop-color="#333"/><stop offset=".062" stop-color="#353535"/><stop offset=".077" stop-color="#313131"/><stop offset=".108" stop-color="#171717"/><stop offset=".123" stop-color="#121212"/><stop offset=".185" stop-color="#1c1c1c"/><stop offset=".215" stop-color="#373737"/><stop offset=".231" stop-color="#363636"/><stop offset=".246" stop-color="#2c2c2c"/><stop offset=".262" stop-color="#0f0f0f"/><stop offset=".277" stop-color="#010101"/><stop offset=".323" stop-color="#010101"/><stop offset=".338" stop-color="#0a0a0a"/><stop offset=".369" stop-color="#4c4c4c"/><stop offset=".385" stop-color="#5f5f5f"/><stop offset=".4" stop-color="#636363"/><stop offset=".415" stop-color="#575757"/><stop offset=".446" stop-color="#1b1b1b"/><stop offset=".462" stop-color="#030303"/><stop offset=".508" stop-color="#000"/><stop offset=".523" stop-color="#0b0b0b"/><stop offset=".554" stop-color="#494949"/><stop offset=".569" stop-color="#5e5e5e"/><stop offset=".585" stop-color="#636363"/><stop offset=".6" stop-color="#585858"/><stop offset=".615" stop-color="#3c3c3c"/><stop offset=".631" stop-color="#181818"/><stop offset=".646" stop-color="#050505"/><stop offset=".677" stop-color="#000"/><stop offset=".708" stop-color="#040404"/><stop offset=".738" stop-color="#323232"/><stop offset=".754" stop-color="#373737"/><stop offset=".769" stop-color="#353535"/><stop offset=".8" stop-color="#1a1a1a"/><stop offset=".862" stop-color="#131313"/><stop offset=".908" stop-color="#333"/><stop offset=".969" stop-color="#343434"/><stop offset="1" stop-color="#282828"/></linearGradient>
<linearGradient id="q20" gradientUnits="userSpaceOnUse" x1="936.2" x2="1144.8" y1="0" y2="0"><stop offset="0" stop-color="#2a2a2a"/><stop offset=".031" stop-color="#353535"/><stop offset=".077" stop-color="#353535"/><stop offset=".108" stop-color="#252525"/><stop offset=".123" stop-color="#181818"/><stop offset=".138" stop-color="#141414"/><stop offset=".185" stop-color="#191919"/><stop offset=".2" stop-color="#222"/><stop offset=".215" stop-color="#333"/><stop offset=".231" stop-color="#373737"/><stop offset=".246" stop-color="#333"/><stop offset=".277" stop-color="#040404"/><stop offset=".323" stop-color="#010101"/><stop offset=".338" stop-color="#090909"/><stop offset=".354" stop-color="#1d1d1d"/><stop offset=".369" stop-color="#3e3e3e"/><stop offset=".385" stop-color="#585858"/><stop offset=".4" stop-color="#606060"/><stop offset=".415" stop-color="#585858"/><stop offset=".446" stop-color="#242424"/><stop offset=".462" stop-color="#070707"/><stop offset=".477" stop-color="#000"/><stop offset=".508" stop-color="#020202"/><stop offset=".523" stop-color="#141414"/><stop offset=".554" stop-color="#4c4c4c"/><stop offset=".569" stop-color="#5d5d5d"/><stop offset=".585" stop-color="#5d5d5d"/><stop offset=".6" stop-color="#4d4d4d"/><stop offset=".631" stop-color="#131313"/><stop offset=".646" stop-color="#040404"/><stop offset=".692" stop-color="#010101"/><stop offset=".708" stop-color="#0b0b0b"/><stop offset=".723" stop-color="#282828"/><stop offset=".738" stop-color="#363636"/><stop offset=".754" stop-color="#373737"/><stop offset=".769" stop-color="#2e2e2e"/><stop offset=".785" stop-color="#1d1d1d"/><stop offset=".846" stop-color="#141414"/><stop offset=".892" stop-color="#333"/><stop offset=".954" stop-color="#343434"/><stop offset=".985" stop-color="#252525"/><stop offset="1" stop-color="#161616"/></linearGradient>
<linearGradient id="q19" gradientUnits="userSpaceOnUse" x1="935.2" x2="1143.8" y1="0" y2="0"><stop offset="0" stop-color="#191919"/><stop offset=".031" stop-color="#313131"/><stop offset=".092" stop-color="#343434"/><stop offset=".108" stop-color="#303030"/><stop offset=".138" stop-color="#191919"/><stop offset=".185" stop-color="#191919"/><stop offset=".2" stop-color="#1b1b1b"/><stop offset=".231" stop-color="#373737"/><stop offset=".246" stop-color="#363636"/><stop offset=".262" stop-color="#2a2a2a"/><stop offset=".277" stop-color="#0d0d0d"/><stop offset=".292" stop-color="#010101"/><stop offset=".323" stop-color="#010101"/><stop offset=".338" stop-color="#080808"/><stop offset=".354" stop-color="#181818"/><stop offset=".369" stop-color="#2f2f2f"/><stop offset=".385" stop-color="#4d4d4d"/><stop offset=".4" stop-color="#5b5b5b"/><stop offset=".415" stop-color="#585858"/><stop offset=".446" stop-color="#2c2c2c"/><stop offset=".462" stop-color="#0e0e0e"/><stop offset=".477" stop-color="#020202"/><stop offset=".508" stop-color="#050505"/><stop offset=".554" stop-color="#4e4e4e"/><stop offset=".569" stop-color="#5a5a5a"/><stop offset=".585" stop-color="#565656"/><stop offset=".615" stop-color="#222"/><stop offset=".646" stop-color="#040404"/><stop offset=".677" stop-color="#000"/><stop offset=".692" stop-color="#030303"/><stop offset=".723" stop-color="#313131"/><stop offset=".738" stop-color="#373737"/><stop offset=".754" stop-color="#353535"/><stop offset=".769" stop-color="#232323"/><stop offset=".785" stop-color="#1a1a1a"/><stop offset=".831" stop-color="#161616"/><stop offset=".877" stop-color="#323232"/><stop offset=".938" stop-color="#333"/><stop offset=".954" stop-color="#2e2e2e"/><stop offset="1" stop-color="#090909"/></linearGradient>
<linearGradient id="q18" gradientUnits="userSpaceOnUse" x1="934.1" x2="1142.7" y1="0" y2="0"><stop offset="0" stop-color="#0b0b0b"/><stop offset=".046" stop-color="#2f2f2f"/><stop offset=".092" stop-color="#353535"/><stop offset=".123" stop-color="#2f2f2f"/><stop offset=".154" stop-color="#1b1b1b"/><stop offset=".2" stop-color="#1a1a1a"/><stop offset=".215" stop-color="#212121"/><stop offset=".231" stop-color="#333"/><stop offset=".246" stop-color="#383838"/><stop offset=".262" stop-color="#323232"/><stop offset=".292" stop-color="#030303"/><stop offset=".323" stop-color="#010101"/><stop offset=".338" stop-color="#080808"/><stop offset=".369" stop-color="#242424"/><stop offset=".4" stop-color="#535353"/><stop offset=".415" stop-color="#555"/><stop offset=".431" stop-color="#474747"/><stop offset=".462" stop-color="#181818"/><stop offset=".477" stop-color="#060606"/><stop offset=".492" stop-color="#050505"/><stop offset=".508" stop-color="#0b0b0b"/><stop offset=".523" stop-color="#272727"/><stop offset=".554" stop-color="#4e4e4e"/><stop offset=".569" stop-color="#555"/><stop offset=".585" stop-color="#4b4b4b"/><stop offset=".6" stop-color="#303030"/><stop offset=".631" stop-color="#111"/><stop offset=".646" stop-color="#040404"/><stop offset=".677" stop-color="#010101"/><stop offset=".692" stop-color="#090909"/><stop offset=".708" stop-color="#262626"/><stop offset=".723" stop-color="#353535"/><stop offset=".738" stop-color="#373737"/><stop offset=".754" stop-color="#2d2d2d"/><stop offset=".769" stop-color="#1c1c1c"/><stop offset=".815" stop-color="#181818"/><stop offset=".831" stop-color="#1d1d1d"/><stop offset=".862" stop-color="#323232"/><stop offset=".923" stop-color="#333"/><stop offset=".954" stop-color="#202020"/><stop offset=".985" stop-color="#080808"/><stop offset="1" stop-color="#070707"/></linearGradient>
<linearGradient id="q17" gradientUnits="userSpaceOnUse" x1="933.1" x2="1141.7" y1="0" y2="0"><stop offset="0" stop-color="#080808"/><stop offset=".015" stop-color="#0a0a0a"/><stop offset=".062" stop-color="#2e2e2e"/><stop offset=".092" stop-color="#353535"/><stop offset=".138" stop-color="#2f2f2f"/><stop offset=".169" stop-color="#1c1c1c"/><stop offset=".215" stop-color="#1b1b1b"/><stop offset=".246" stop-color="#373737"/><stop offset=".262" stop-color="#363636"/><stop offset=".277" stop-color="#282828"/><stop offset=".292" stop-color="#0a0a0a"/><stop offset=".308" stop-color="#010101"/><stop offset=".323" stop-color="#010101"/><stop offset=".338" stop-color="#080808"/><stop offset=".385" stop-color="#303030"/><stop offset=".4" stop-color="#484848"/><stop offset=".415" stop-color="#505050"/><stop offset=".431" stop-color="#474747"/><stop offset=".477" stop-color="#101010"/><stop offset=".492" stop-color="#101010"/><stop offset=".508" stop-color="#171717"/><stop offset=".523" stop-color="#2e2e2e"/><stop offset=".554" stop-color="#4b4b4b"/><stop offset=".569" stop-color="#4d4d4d"/><stop offset=".6" stop-color="#262626"/><stop offset=".646" stop-color="#040404"/><stop offset=".677" stop-color="#020202"/><stop offset=".692" stop-color="#141414"/><stop offset=".708" stop-color="#303030"/><stop offset=".723" stop-color="#373737"/><stop offset=".738" stop-color="#343434"/><stop offset=".754" stop-color="#222"/><stop offset=".769" stop-color="#1a1a1a"/><stop offset=".8" stop-color="#1a1a1a"/><stop offset=".846" stop-color="#323232"/><stop offset=".908" stop-color="#323232"/><stop offset=".938" stop-color="#1d1d1d"/><stop offset=".954" stop-color="#0f0f0f"/><stop offset=".969" stop-color="#080808"/><stop offset="1" stop-color="#0f0f0f"/></linearGradient>
<linearGradient id="q16" gradientUnits="userSpaceOnUse" x1="932.0" x2="1140.6" y1="0" y2="0"><stop offset="0" stop-color="#101010"/><stop offset=".031" stop-color="#0a0a0a"/><stop offset=".062" stop-color="#1f1f1f"/><stop offset=".092" stop-color="#333"/><stop offset=".138" stop-color="#343434"/><stop offset=".185" stop-color="#1e1e1e"/><stop offset=".215" stop-color="#1a1a1a"/><stop offset=".231" stop-color="#202020"/><stop offset=".246" stop-color="#323232"/><stop offset=".262" stop-color="#383838"/><stop offset=".277" stop-color="#313131"/><stop offset=".308" stop-color="#030303"/><stop offset=".323" stop-color="#010101"/><stop offset=".338" stop-color="#080808"/><stop offset=".369" stop-color="#1f1f1f"/><stop offset=".385" stop-color="#272727"/><stop offset=".415" stop-color="#484848"/><stop offset=".431" stop-color="#444"/><stop offset=".477" stop-color="#202020"/><stop offset=".492" stop-color="#1f1f1f"/><stop offset=".554" stop-color="#464646"/><stop offset=".569" stop-color="#434343"/><stop offset=".585" stop-color="#2f2f2f"/><stop offset=".646" stop-color="#040404"/><stop offset=".662" stop-color="#010101"/><stop offset=".677" stop-color="#070707"/><stop offset=".692" stop-color="#232323"/><stop offset=".708" stop-color="#353535"/><stop offset=".723" stop-color="#373737"/><stop offset=".754" stop-color="#1c1c1c"/><stop offset=".785" stop-color="#1b1b1b"/><stop offset=".831" stop-color="#323232"/><stop offset=".877" stop-color="#353535"/><stop offset=".908" stop-color="#282828"/><stop offset=".938" stop-color="#0e0e0e"/><stop offset=".954" stop-color="#090909"/><stop offset="1" stop-color="#1a1a1a"/></linearGradient>
<linearGradient id="q15" gradientUnits="userSpaceOnUse" x1="931.0" x2="1139.6" y1="0" y2="0"><stop offset="0" stop-color="#1b1b1b"/><stop offset=".046" stop-color="#0c0c0c"/><stop offset=".062" stop-color="#111"/><stop offset=".108" stop-color="#323232"/><stop offset=".154" stop-color="#343434"/><stop offset=".215" stop-color="#1b1b1b"/><stop offset=".231" stop-color="#1b1b1b"/><stop offset=".262" stop-color="#363636"/><stop offset=".277" stop-color="#363636"/><stop offset=".292" stop-color="#252525"/><stop offset=".308" stop-color="#080808"/><stop offset=".323" stop-color="#020202"/><stop offset=".369" stop-color="#202020"/><stop offset=".4" stop-color="#2f2f2f"/><stop offset=".415" stop-color="#3f3f3f"/><stop offset=".431" stop-color="#404040"/><stop offset=".492" stop-color="#2e2e2e"/><stop offset=".554" stop-color="#404040"/><stop offset=".585" stop-color="#282828"/><stop offset=".615" stop-color="#1d1d1d"/><stop offset=".646" stop-color="#050505"/><stop offset=".662" stop-color="#020202"/><stop offset=".677" stop-color="#111"/><stop offset=".692" stop-color="#2e2e2e"/><stop offset=".708" stop-color="#373737"/><stop offset=".723" stop-color="#333"/><stop offset=".738" stop-color="#212121"/><stop offset=".754" stop-color="#1b1b1b"/><stop offset=".785" stop-color="#222"/><stop offset=".815" stop-color="#323232"/><stop offset=".862" stop-color="#343434"/><stop offset=".892" stop-color="#262626"/><stop offset=".923" stop-color="#0e0e0e"/><stop offset=".954" stop-color="#101010"/><stop offset="1" stop-color="#212121"/></linearGradient>
<linearGradient id="q14" gradientUnits="userSpaceOnUse" x1="929.9" x2="1138.6" y1="0" y2="0"><stop offset="0" stop-color="#222"/><stop offset=".062" stop-color="#0e0e0e"/><stop offset=".077" stop-color="#101010"/><stop offset=".123" stop-color="#313131"/><stop offset=".169" stop-color="#353535"/><stop offset=".231" stop-color="#1c1c1c"/><stop offset=".246" stop-color="#1f1f1f"/><stop offset=".262" stop-color="#313131"/><stop offset=".277" stop-color="#383838"/><stop offset=".292" stop-color="#303030"/><stop offset=".308" stop-color="#141414"/><stop offset=".323" stop-color="#040404"/><stop offset=".338" stop-color="#0a0a0a"/><stop offset=".369" stop-color="#212121"/><stop offset=".4" stop-color="#292929"/><stop offset=".415" stop-color="#363636"/><stop offset=".477" stop-color="#3e3e3e"/><stop offset=".492" stop-color="#3a3a3a"/><stop offset=".508" stop-color="#414141"/><stop offset=".554" stop-color="#383838"/><stop offset=".585" stop-color="#272727"/><stop offset=".615" stop-color="#1e1e1e"/><stop offset=".646" stop-color="#060606"/><stop offset=".662" stop-color="#060606"/><stop offset=".692" stop-color="#353535"/><stop offset=".708" stop-color="#373737"/><stop offset=".738" stop-color="#1c1c1c"/><stop offset=".769" stop-color="#242424"/><stop offset=".8" stop-color="#333"/><stop offset=".846" stop-color="#343434"/><stop offset=".877" stop-color="#232323"/><stop offset=".908" stop-color="#0e0e0e"/><stop offset=".938" stop-color="#141414"/><stop offset=".985" stop-color="#232323"/><stop offset="1" stop-color="#242424"/></linearGradient>
<linearGradient id="q13" gradientUnits="userSpaceOnUse" x1="928.9" x2="1137.5" y1="0" y2="0"><stop offset="0" stop-color="#242424"/><stop offset=".046" stop-color="#1c1c1c"/><stop offset=".077" stop-color="#111"/><stop offset=".092" stop-color="#111"/><stop offset=".138" stop-color="#303030"/><stop offset=".185" stop-color="#353535"/><stop offset=".215" stop-color="#2b2b2b"/><stop offset=".246" stop-color="#1d1d1d"/><stop offset=".277" stop-color="#363636"/><stop offset=".292" stop-color="#363636"/><stop offset=".308" stop-color="#232323"/><stop offset=".323" stop-color="#090909"/><stop offset=".338" stop-color="#0c0c0c"/><stop offset=".369" stop-color="#242424"/><stop offset=".446" stop-color="#393939"/><stop offset=".477" stop-color="#494949"/><stop offset=".492" stop-color="#454545"/><stop offset=".508" stop-color="#494949"/><stop offset=".569" stop-color="#292929"/><stop offset=".6" stop-color="#272727"/><stop offset=".631" stop-color="#141414"/><stop offset=".646" stop-color="#080808"/><stop offset=".662" stop-color="#101010"/><stop offset=".677" stop-color="#2d2d2d"/><stop offset=".692" stop-color="#383838"/><stop offset=".708" stop-color="#323232"/><stop offset=".723" stop-color="#212121"/><stop offset=".738" stop-color="#1d1d1d"/><stop offset=".785" stop-color="#343434"/><stop offset=".831" stop-color="#333"/><stop offset=".862" stop-color="#212121"/><stop offset=".877" stop-color="#151515"/><stop offset=".892" stop-color="#101010"/><stop offset=".969" stop-color="#242424"/><stop offset="1" stop-color="#242424"/></linearGradient>
<linearGradient id="q12" gradientUnits="userSpaceOnUse" x1="927.9" x2="1136.5" y1="0" y2="0"><stop offset="0" stop-color="#232323"/><stop offset=".062" stop-color="#1f1f1f"/><stop offset=".108" stop-color="#121212"/><stop offset=".138" stop-color="#242424"/><stop offset=".169" stop-color="#343434"/><stop offset=".215" stop-color="#343434"/><stop offset=".246" stop-color="#212121"/><stop offset=".262" stop-color="#202020"/><stop offset=".277" stop-color="#303030"/><stop offset=".292" stop-color="#383838"/><stop offset=".308" stop-color="#303030"/><stop offset=".323" stop-color="#141414"/><stop offset=".338" stop-color="#0f0f0f"/><stop offset=".369" stop-color="#272727"/><stop offset=".4" stop-color="#2d2d2d"/><stop offset=".415" stop-color="#2a2a2a"/><stop offset=".446" stop-color="#373737"/><stop offset=".477" stop-color="#505050"/><stop offset=".508" stop-color="#4e4e4e"/><stop offset=".538" stop-color="#313131"/><stop offset=".554" stop-color="#2a2a2a"/><stop offset=".6" stop-color="#2b2b2b"/><stop offset=".646" stop-color="#0c0c0c"/><stop offset=".677" stop-color="#353535"/><stop offset=".692" stop-color="#373737"/><stop offset=".723" stop-color="#1f1f1f"/><stop offset=".769" stop-color="#353535"/><stop offset=".815" stop-color="#333"/><stop offset=".862" stop-color="#151515"/><stop offset=".877" stop-color="#121212"/><stop offset=".938" stop-color="#232323"/><stop offset="1" stop-color="#202020"/></linearGradient>
<linearGradient id="q11" gradientUnits="userSpaceOnUse" x1="926.8" x2="1135.4" y1="0" y2="0"><stop offset="0" stop-color="#1d1d1d"/><stop offset=".062" stop-color="#242424"/><stop offset=".123" stop-color="#151515"/><stop offset=".154" stop-color="#232323"/><stop offset=".185" stop-color="#343434"/><stop offset=".231" stop-color="#363636"/><stop offset=".262" stop-color="#222"/><stop offset=".277" stop-color="#272727"/><stop offset=".292" stop-color="#373737"/><stop offset=".308" stop-color="#383838"/><stop offset=".338" stop-color="#141414"/><stop offset=".369" stop-color="#2a2a2a"/><stop offset=".4" stop-color="#303030"/><stop offset=".431" stop-color="#282828"/><stop offset=".446" stop-color="#333"/><stop offset=".477" stop-color="#555"/><stop offset=".492" stop-color="#575757"/><stop offset=".508" stop-color="#505050"/><stop offset=".538" stop-color="#2b2b2b"/><stop offset=".554" stop-color="#262626"/><stop offset=".585" stop-color="#303030"/><stop offset=".615" stop-color="#262626"/><stop offset=".631" stop-color="#1a1a1a"/><stop offset=".646" stop-color="#161616"/><stop offset=".662" stop-color="#2e2e2e"/><stop offset=".677" stop-color="#393939"/><stop offset=".692" stop-color="#323232"/><stop offset=".708" stop-color="#222"/><stop offset=".723" stop-color="#252525"/><stop offset=".754" stop-color="#373737"/><stop offset=".8" stop-color="#323232"/><stop offset=".846" stop-color="#161616"/><stop offset=".892" stop-color="#1f1f1f"/><stop offset=".938" stop-color="#242424"/><stop offset="1" stop-color="#171717"/></linearGradient>
<linearGradient id="q10" gradientUnits="userSpaceOnUse" x1="925.8" x2="1134.4" y1="0" y2="0"><stop offset="0" stop-color="#131313"/><stop offset=".062" stop-color="#232323"/><stop offset=".108" stop-color="#202020"/><stop offset=".138" stop-color="#181818"/><stop offset=".169" stop-color="#222"/><stop offset=".215" stop-color="#373737"/><stop offset=".246" stop-color="#383838"/><stop offset=".277" stop-color="#252525"/><stop offset=".308" stop-color="#3b3b3b"/><stop offset=".323" stop-color="#333"/><stop offset=".338" stop-color="#1f1f1f"/><stop offset=".385" stop-color="#323232"/><stop offset=".4" stop-color="#333"/><stop offset=".431" stop-color="#242424"/><stop offset=".446" stop-color="#2e2e2e"/><stop offset=".477" stop-color="#5a5a5a"/><stop offset=".492" stop-color="#626262"/><stop offset=".538" stop-color="#252525"/><stop offset=".554" stop-color="#262626"/><stop offset=".585" stop-color="#333"/><stop offset=".615" stop-color="#292929"/><stop offset=".631" stop-color="#1e1e1e"/><stop offset=".646" stop-color="#252525"/><stop offset=".662" stop-color="#383838"/><stop offset=".677" stop-color="#3a3a3a"/><stop offset=".692" stop-color="#2a2a2a"/><stop offset=".708" stop-color="#262626"/><stop offset=".738" stop-color="#393939"/><stop offset=".785" stop-color="#313131"/><stop offset=".831" stop-color="#181818"/><stop offset=".908" stop-color="#242424"/><stop offset="1" stop-color="#0d0d0d"/></linearGradient>
<linearGradient id="q9" gradientUnits="userSpaceOnUse" x1="924.7" x2="1133.3" y1="0" y2="0"><stop offset="0" stop-color="#0c0c0c"/><stop offset=".092" stop-color="#232323"/><stop offset=".169" stop-color="#1b1b1b"/><stop offset=".231" stop-color="#383838"/><stop offset=".246" stop-color="#3c3c3c"/><stop offset=".262" stop-color="#393939"/><stop offset=".277" stop-color="#2e2e2e"/><stop offset=".292" stop-color="#2c2c2c"/><stop offset=".308" stop-color="#3b3b3b"/><stop offset=".323" stop-color="#3d3d3d"/><stop offset=".338" stop-color="#2e2e2e"/><stop offset=".354" stop-color="#282828"/><stop offset=".385" stop-color="#353535"/><stop offset=".4" stop-color="#353535"/><stop offset=".431" stop-color="#232323"/><stop offset=".446" stop-color="#282828"/><stop offset=".462" stop-color="#414141"/><stop offset=".477" stop-color="#626262"/><stop offset=".492" stop-color="#6e6e6e"/><stop offset=".523" stop-color="#333"/><stop offset=".538" stop-color="#212121"/><stop offset=".585" stop-color="#353535"/><stop offset=".631" stop-color="#272727"/><stop offset=".662" stop-color="#3d3d3d"/><stop offset=".692" stop-color="#292929"/><stop offset=".723" stop-color="#3c3c3c"/><stop offset=".769" stop-color="#313131"/><stop offset=".8" stop-color="#1f1f1f"/><stop offset=".831" stop-color="#1d1d1d"/><stop offset=".877" stop-color="#232323"/><stop offset=".938" stop-color="#161616"/><stop offset="1" stop-color="#0b0b0b"/></linearGradient>
<linearGradient id="q8" gradientUnits="userSpaceOnUse" x1="923.7" x2="1132.3" y1="0" y2="0"><stop offset="0" stop-color="#0d0d0d"/><stop offset=".062" stop-color="#131313"/><stop offset=".123" stop-color="#222"/><stop offset=".185" stop-color="#1e1e1e"/><stop offset=".262" stop-color="#3e3e3e"/><stop offset=".277" stop-color="#3b3b3b"/><stop offset=".292" stop-color="#303030"/><stop offset=".323" stop-color="#404040"/><stop offset=".338" stop-color="#3c3c3c"/><stop offset=".354" stop-color="#303030"/><stop offset=".4" stop-color="#363636"/><stop offset=".431" stop-color="#232323"/><stop offset=".446" stop-color="#222"/><stop offset=".462" stop-color="#3c3c3c"/><stop offset=".477" stop-color="#676767"/><stop offset=".492" stop-color="#777"/><stop offset=".523" stop-color="#2c2c2c"/><stop offset=".538" stop-color="#1f1f1f"/><stop offset=".585" stop-color="#373737"/><stop offset=".615" stop-color="#303030"/><stop offset=".631" stop-color="#333"/><stop offset=".646" stop-color="#3f3f3f"/><stop offset=".662" stop-color="#3d3d3d"/><stop offset=".677" stop-color="#313131"/><stop offset=".692" stop-color="#333"/><stop offset=".708" stop-color="#3d3d3d"/><stop offset=".738" stop-color="#373737"/><stop offset=".785" stop-color="#202020"/><stop offset=".815" stop-color="#1f1f1f"/><stop offset=".862" stop-color="#222"/><stop offset=".954" stop-color="#0c0c0c"/><stop offset="1" stop-color="#0f0f0f"/></linearGradient>
<linearGradient id="q7" gradientUnits="userSpaceOnUse" x1="922.6" x2="1131.3" y1="0" y2="0"><stop offset="0" stop-color="#101010"/><stop offset=".077" stop-color="#0f0f0f"/><stop offset=".154" stop-color="#222"/><stop offset=".2" stop-color="#202020"/><stop offset=".277" stop-color="#404040"/><stop offset=".308" stop-color="#353535"/><stop offset=".338" stop-color="#444"/><stop offset=".369" stop-color="#353535"/><stop offset=".4" stop-color="#373737"/><stop offset=".446" stop-color="#1f1f1f"/><stop offset=".462" stop-color="#373737"/><stop offset=".477" stop-color="#656565"/><stop offset=".492" stop-color="#747474"/><stop offset=".523" stop-color="#262626"/><stop offset=".538" stop-color="#1e1e1e"/><stop offset=".569" stop-color="#333"/><stop offset=".6" stop-color="#373737"/><stop offset=".615" stop-color="#353535"/><stop offset=".631" stop-color="#404040"/><stop offset=".646" stop-color="#424242"/><stop offset=".677" stop-color="#363636"/><stop offset=".692" stop-color="#3e3e3e"/><stop offset=".708" stop-color="#3f3f3f"/><stop offset=".769" stop-color="#222"/><stop offset=".846" stop-color="#1e1e1e"/><stop offset=".923" stop-color="#0d0d0d"/><stop offset="1" stop-color="#121212"/></linearGradient>
<linearGradient id="q6" gradientUnits="userSpaceOnUse" x1="921.6" x2="1130.2" y1="0" y2="0"><stop offset="0" stop-color="#111"/><stop offset=".108" stop-color="#101010"/><stop offset=".185" stop-color="#212121"/><stop offset=".231" stop-color="#252525"/><stop offset=".292" stop-color="#414141"/><stop offset=".323" stop-color="#3d3d3d"/><stop offset=".338" stop-color="#474747"/><stop offset=".354" stop-color="#464646"/><stop offset=".369" stop-color="#3a3a3a"/><stop offset=".4" stop-color="#373737"/><stop offset=".446" stop-color="#1f1f1f"/><stop offset=".462" stop-color="#363636"/><stop offset=".477" stop-color="#5b5b5b"/><stop offset=".492" stop-color="#656565"/><stop offset=".508" stop-color="#4a4a4a"/><stop offset=".523" stop-color="#272727"/><stop offset=".538" stop-color="#1e1e1e"/><stop offset=".569" stop-color="#333"/><stop offset=".615" stop-color="#3d3d3d"/><stop offset=".631" stop-color="#494949"/><stop offset=".662" stop-color="#3b3b3b"/><stop offset=".692" stop-color="#404040"/><stop offset=".754" stop-color="#232323"/><stop offset=".831" stop-color="#1a1a1a"/><stop offset=".892" stop-color="#0e0e0e"/><stop offset="1" stop-color="#111"/></linearGradient>
<linearGradient id="q5" gradientUnits="userSpaceOnUse" x1="920.6" x2="1129.2" y1="0" y2="0"><stop offset="0" stop-color="#0d0d0d"/><stop offset=".138" stop-color="#101010"/><stop offset=".246" stop-color="#242424"/><stop offset=".292" stop-color="#3f3f3f"/><stop offset=".323" stop-color="#414141"/><stop offset=".354" stop-color="#4e4e4e"/><stop offset=".385" stop-color="#393939"/><stop offset=".415" stop-color="#303030"/><stop offset=".431" stop-color="#242424"/><stop offset=".446" stop-color="#242424"/><stop offset=".462" stop-color="#404040"/><stop offset=".477" stop-color="#515151"/><stop offset=".492" stop-color="#545454"/><stop offset=".508" stop-color="#4b4b4b"/><stop offset=".523" stop-color="#303030"/><stop offset=".538" stop-color="#202020"/><stop offset=".585" stop-color="#383838"/><stop offset=".6" stop-color="#3b3b3b"/><stop offset=".631" stop-color="#4e4e4e"/><stop offset=".662" stop-color="#414141"/><stop offset=".677" stop-color="#424242"/><stop offset=".738" stop-color="#222"/><stop offset=".831" stop-color="#121212"/><stop offset=".923" stop-color="#0f0f0f"/><stop offset="1" stop-color="#0c0c0c"/></linearGradient>
<linearGradient id="q4" gradientUnits="userSpaceOnUse" x1="919.5" x2="1128.1" y1="0" y2="0"><stop offset="0" stop-color="#070707"/><stop offset=".185" stop-color="#131313"/><stop offset=".262" stop-color="#232323"/><stop offset=".308" stop-color="#424242"/><stop offset=".354" stop-color="#555"/><stop offset=".369" stop-color="#4d4d4d"/><stop offset=".385" stop-color="#3e3e3e"/><stop offset=".415" stop-color="#313131"/><stop offset=".431" stop-color="#252525"/><stop offset=".446" stop-color="#2b2b2b"/><stop offset=".462" stop-color="#444"/><stop offset=".508" stop-color="#474747"/><stop offset=".538" stop-color="#232323"/><stop offset=".6" stop-color="#424242"/><stop offset=".615" stop-color="#525252"/><stop offset=".631" stop-color="#535353"/><stop offset=".646" stop-color="#484848"/><stop offset=".677" stop-color="#3e3e3e"/><stop offset=".708" stop-color="#272727"/><stop offset=".8" stop-color="#121212"/><stop offset="1" stop-color="#060606"/></linearGradient>
<linearGradient id="q3" gradientUnits="userSpaceOnUse" x1="918.5" x2="1127.1" y1="0" y2="0"><stop offset="0" stop-color="#030303"/><stop offset=".215" stop-color="#121212"/><stop offset=".277" stop-color="#212121"/><stop offset=".338" stop-color="#515151"/><stop offset=".354" stop-color="#636363"/><stop offset=".369" stop-color="#626262"/><stop offset=".385" stop-color="#4f4f4f"/><stop offset=".431" stop-color="#2a2a2a"/><stop offset=".446" stop-color="#2f2f2f"/><stop offset=".462" stop-color="#3c3c3c"/><stop offset=".492" stop-color="#343434"/><stop offset=".508" stop-color="#3b3b3b"/><stop offset=".523" stop-color="#373737"/><stop offset=".538" stop-color="#282828"/><stop offset=".554" stop-color="#2e2e2e"/><stop offset=".569" stop-color="#3e3e3e"/><stop offset=".6" stop-color="#565656"/><stop offset=".615" stop-color="#656565"/><stop offset=".631" stop-color="#5d5d5d"/><stop offset=".646" stop-color="#4b4b4b"/><stop offset=".708" stop-color="#1f1f1f"/><stop offset=".8" stop-color="#0d0d0d"/><stop offset="1" stop-color="#020202"/></linearGradient>
<linearGradient id="q2" gradientUnits="userSpaceOnUse" x1="917.4" x2="1126.0" y1="0" y2="0"><stop offset="0" stop-color="#010101"/><stop offset=".246" stop-color="#111"/><stop offset=".292" stop-color="#1f1f1f"/><stop offset=".323" stop-color="#3c3c3c"/><stop offset=".338" stop-color="#565656"/><stop offset=".354" stop-color="#7a7a7a"/><stop offset=".369" stop-color="#888"/><stop offset=".415" stop-color="#4c4c4c"/><stop offset=".431" stop-color="#353535"/><stop offset=".462" stop-color="#333"/><stop offset=".492" stop-color="#252525"/><stop offset=".508" stop-color="#303030"/><stop offset=".523" stop-color="#333"/><stop offset=".538" stop-color="#2f2f2f"/><stop offset=".554" stop-color="#3a3a3a"/><stop offset=".569" stop-color="#555"/><stop offset=".6" stop-color="#7f7f7f"/><stop offset=".615" stop-color="#878787"/><stop offset=".631" stop-color="#6d6d6d"/><stop offset=".646" stop-color="#4a4a4a"/><stop offset=".662" stop-color="#343434"/><stop offset=".692" stop-color="#1c1c1c"/><stop offset=".754" stop-color="#0d0d0d"/><stop offset="1" stop-color="#000"/></linearGradient>
<linearGradient id="q1" gradientUnits="userSpaceOnUse" x1="916.4" x2="1125.0" y1="0" y2="0"><stop offset="0" stop-color="#000"/><stop offset=".231" stop-color="#090909"/><stop offset=".292" stop-color="#141414"/><stop offset=".308" stop-color="#1c1c1c"/><stop offset=".323" stop-color="#2c2c2c"/><stop offset=".338" stop-color="#535353"/><stop offset=".354" stop-color="#909090"/><stop offset=".369" stop-color="#b1b1b1"/><stop offset=".385" stop-color="#a8a8a8"/><stop offset=".4" stop-color="#8c8c8c"/><stop offset=".431" stop-color="#3f3f3f"/><stop offset=".446" stop-color="#313131"/><stop offset=".492" stop-color="#1d1d1d"/><stop offset=".523" stop-color="#2f2f2f"/><stop offset=".538" stop-color="#323232"/><stop offset=".554" stop-color="#4a4a4a"/><stop offset=".569" stop-color="#757575"/><stop offset=".585" stop-color="#979797"/><stop offset=".6" stop-color="#afafaf"/><stop offset=".615" stop-color="#a9a9a9"/><stop offset=".631" stop-color="#797979"/><stop offset=".646" stop-color="#404040"/><stop offset=".662" stop-color="#242424"/><stop offset=".692" stop-color="#121212"/><stop offset=".8" stop-color="#060606"/><stop offset="1" stop-color="#000"/></linearGradient>
<linearGradient id="q0" gradientUnits="userSpaceOnUse" x1="915.3" x2="1123.9" y1="0" y2="0"><stop offset="0" stop-color="#000"/><stop offset=".246" stop-color="#060606"/><stop offset=".308" stop-color="#101010"/><stop offset=".323" stop-color="#1b1b1b"/><stop offset=".338" stop-color="#454545"/><stop offset=".354" stop-color="#909090"/><stop offset=".369" stop-color="#bfbfbf"/><stop offset=".385" stop-color="#c4c4c4"/><stop offset=".4" stop-color="#aaa"/><stop offset=".431" stop-color="#3f3f3f"/><stop offset=".446" stop-color="#282828"/><stop offset=".477" stop-color="#1a1a1a"/><stop offset=".492" stop-color="#181818"/><stop offset=".538" stop-color="#2c2c2c"/><stop offset=".554" stop-color="#505050"/><stop offset=".569" stop-color="#8c8c8c"/><stop offset=".585" stop-color="#b7b7b7"/><stop offset=".6" stop-color="#c6c6c6"/><stop offset=".615" stop-color="#b2b2b2"/><stop offset=".631" stop-color="#747474"/><stop offset=".646" stop-color="#2f2f2f"/><stop offset=".662" stop-color="#151515"/><stop offset=".708" stop-color="#080808"/><stop offset=".923" stop-color="#000"/><stop offset="1" stop-color="#000"/></linearGradient>
<radialGradient id="site"><stop offset="0" stop-color="#2446d8"/><stop offset=".3" stop-color="#2d4bb8"/><stop offset=".55" stop-color="#2c3348"/><stop offset=".8" stop-color="#3a4258" stop-opacity=".7"/><stop offset="1" stop-color="#3a4258" stop-opacity="0"/></radialGradient>
</defs>
<g clip-path="url(#tcp)"><g filter="url(#cm)"><rect x="540" y="-6" width="270" height="230" fill="#000"/><g class="pl">
<polygon points="656.7,202.0 634.5,202.0 634.5,-10.0 656.7,-10.0" fill="#3a3a3a" filter="url(#tb2_0)"/>
<polygon points="684.3,202.0 706.5,202.0 706.5,-10.0 684.3,-10.0" fill="#3a3a3a" filter="url(#tb2_0)"/>
<polygon points="653.0,202.0 641.0,202.0 641.0,-10.0 653.0,-10.0" fill="url(#tg2)" filter="url(#tb3_0)"/>
<polygon points="688.0,202.0 700.0,202.0 700.0,-10.0 688.0,-10.0" fill="url(#tg3)" filter="url(#tb3_0)"/>
<polygon points="685.2,200.0 674.0,183.0 661.5,164.0 651.9,142.0 647.2,133.0 636.2,115.0 623.4,90.0 572.1,-10.0 594.1,-10.0 646.2,90.0 659.2,115.0 666.8,133.0 669.9,142.0 679.5,164.0 692.0,183.0 703.2,200.0" fill="url(#tg4)" filter="url(#tb1_6)"/>
<polygon points="655.8,200.0 667.0,183.0 679.5,164.0 689.1,142.0 693.8,133.0 704.8,115.0 717.6,90.0 768.9,-10.0 746.9,-10.0 694.8,90.0 681.8,115.0 674.2,133.0 671.1,142.0 661.5,164.0 649.0,183.0 637.8,200.0" fill="url(#tg5)" filter="url(#tb1_6)"/>
<polygon points="688.7,200.0 677.5,183.0 665.0,164.0 655.4,142.0 651.0,133.0 640.7,115.0 627.8,90.0 576.1,-10.0 590.1,-10.0 641.8,90.0 654.7,115.0 663.0,133.0 666.4,142.0 676.0,164.0 688.5,183.0 699.7,200.0" fill="url(#tg6)" filter="url(#tb2_6)"/>
<polygon points="652.3,200.0 663.5,183.0 676.0,164.0 685.6,142.0 690.0,133.0 700.3,115.0 713.2,90.0 764.9,-10.0 750.9,-10.0 699.2,90.0 686.3,115.0 678.0,133.0 674.6,142.0 665.0,164.0 652.5,183.0 641.3,200.0" fill="url(#tg7)" filter="url(#tb2_6)"/>
<polygon points="580.5,-10.0 620.5,-10.0 660.5,90.0 642.5,120.0" fill="url(#tg8)" filter="url(#tb5_0)"/>
<polygon points="760.5,-10.0 720.5,-10.0 680.5,90.0 698.5,120.0" fill="url(#tg9)" filter="url(#tb5_0)"/>
<polygon points="653.5,190.0 648.5,190.0 514.5,-10.0 542.5,-10.0" fill="url(#tg10)" filter="url(#tb1_6)"/>
<polygon points="687.5,190.0 692.5,190.0 826.5,-10.0 798.5,-10.0" fill="url(#tg11)" filter="url(#tb1_6)"/>
<polygon points="652.5,190.0 642.5,190.0 474.5,-10.0 541.5,-10.0" fill="url(#tg12)" filter="url(#tb2_8)"/>
<polygon points="688.5,190.0 698.5,190.0 866.5,-10.0 799.5,-10.0" fill="url(#tg13)" filter="url(#tb2_8)"/>
<polygon points="648.5,190.0 643.5,190.0 391.5,-10.0 448.5,-10.0" fill="url(#tg14)" filter="url(#tb3_0)"/>
<polygon points="692.5,190.0 697.5,190.0 949.5,-10.0 892.5,-10.0" fill="url(#tg15)" filter="url(#tb3_0)"/>
<polygon points="662.5,190.0 662.5,190.0 252.5,-10.0 332.5,-10.0" fill="url(#tg16)" filter="url(#tb4_0)"/>
<polygon points="678.5,190.0 678.5,190.0 1088.5,-10.0 1008.5,-10.0" fill="url(#tg17)" filter="url(#tb4_0)"/>
<polygon points="670.5,162.0 659.5,138.0 659.5,124.0 670.5,130.0 681.5,124.0 681.5,138.0" fill="#171717" filter="url(#tb3_5)"/>
<polygon points="675.5,145.0 675.3,142.2 674.5,139.7 673.4,137.7 672.0,136.4 670.5,136.0 669.0,136.4 667.6,137.7 666.5,139.7 665.7,142.2 665.5,145.0 665.7,147.8 666.5,150.3 667.6,152.3 669.0,153.6 670.5,154.0 672.0,153.6 673.4,152.3 674.5,150.3 675.3,147.8" fill="#1b1b1b" filter="url(#tb3_0)"/>
</g></g></g>
<path d="M553.0 189.8H793.7" stroke="#111" stroke-width="1" fill="none"/>
<path d="M552.8 190.0V14.0H793.9V190.0" stroke="#222" stroke-width="0.8" fill="none"/>
<text x="552.7" y="202.9" font-size="10.9" text-anchor="middle" fill="#111" style="font-family:'Liberation Sans',sans-serif" >-10</text>
<text x="605.0" y="202.9" font-size="10.9" text-anchor="middle" fill="#111" style="font-family:'Liberation Sans',sans-serif" >-5</text>
<text x="657.6" y="202.9" font-size="10.9" text-anchor="middle" fill="#111" style="font-family:'Liberation Sans',sans-serif" >0</text>
<text x="709.9" y="202.9" font-size="10.9" text-anchor="middle" fill="#111" style="font-family:'Liberation Sans',sans-serif" >5</text>
<text x="762.2" y="202.9" font-size="10.9" text-anchor="middle" fill="#111" style="font-family:'Liberation Sans',sans-serif" >10</text>
<path d="M553.0 190.0v-4M605.3 190.0v-4M657.6 190.0v-4M709.9 190.0v-4M762.2 190.0v-4" stroke="#111" stroke-width="0.9" fill="none"/>
<text x="547.6" y="192.4" font-size="10.9" text-anchor="end" fill="#111" style="font-family:'Liberation Sans',sans-serif" >0</text>
<text x="547.6" y="170.4" font-size="10.9" text-anchor="end" fill="#111" style="font-family:'Liberation Sans',sans-serif" >0.5</text>
<text x="547.6" y="148.4" font-size="10.9" text-anchor="end" fill="#111" style="font-family:'Liberation Sans',sans-serif" >1</text>
<text x="547.6" y="126.4" font-size="10.9" text-anchor="end" fill="#111" style="font-family:'Liberation Sans',sans-serif" >1.5</text>
<text x="547.6" y="104.4" font-size="10.9" text-anchor="end" fill="#111" style="font-family:'Liberation Sans',sans-serif" >2</text>
<text x="547.6" y="82.4" font-size="10.9" text-anchor="end" fill="#111" style="font-family:'Liberation Sans',sans-serif" >2.5</text>
<text x="547.6" y="60.4" font-size="10.9" text-anchor="end" fill="#111" style="font-family:'Liberation Sans',sans-serif" >3</text>
<text x="547.6" y="38.4" font-size="10.9" text-anchor="end" fill="#111" style="font-family:'Liberation Sans',sans-serif" >3.5</text>
<text x="547.6" y="16.4" font-size="10.9" text-anchor="end" fill="#111" style="font-family:'Liberation Sans',sans-serif" >4</text>
<text x="672.8" y="220.8" font-size="13.4" text-anchor="middle" fill="#111" style="font-family:'Liberation Sans',sans-serif" >hω&#160;&#160;[eV]</text>
<text transform="translate(523 102.3) rotate(-90)" font-size="13.4" text-anchor="middle" fill="#111" style="font-family:'Liberation Sans',sans-serif">hΩ&#160;&#160;[eV]</text>
<rect x="799.5" y="13.8" width="12.5" height="175.5" fill="url(#cb)" stroke="#222" stroke-width="0.7"/>
<text x="818.2" y="192.3" font-size="10.9" text-anchor="start" fill="#111" style="font-family:'Liberation Sans',sans-serif" >0</text>
<text x="818.2" y="165.7" font-size="10.9" text-anchor="start" fill="#111" style="font-family:'Liberation Sans',sans-serif" >0.05</text>
<text x="818.2" y="139.1" font-size="10.9" text-anchor="start" fill="#111" style="font-family:'Liberation Sans',sans-serif" >0.1</text>
<text x="818.2" y="112.5" font-size="10.9" text-anchor="start" fill="#111" style="font-family:'Liberation Sans',sans-serif" >0.15</text>
<text x="818.2" y="85.9" font-size="10.9" text-anchor="start" fill="#111" style="font-family:'Liberation Sans',sans-serif" >0.2</text>
<text x="818.2" y="59.3" font-size="10.9" text-anchor="start" fill="#111" style="font-family:'Liberation Sans',sans-serif" >0.25</text>
<text x="818.2" y="32.8" font-size="10.9" text-anchor="start" fill="#111" style="font-family:'Liberation Sans',sans-serif" >0.3</text>
<path d="M799.5 188.5h3M812 188.5h-3M799.5 161.9h3M812 161.9h-3M799.5 135.3h3M812 135.3h-3M799.5 108.7h3M812 108.7h-3M799.5 82.1h3M812 82.1h-3M799.5 55.5h3M812 55.5h-3M799.5 29.0h3M812 29.0h-3" stroke="#111" stroke-width="0.7" fill="none"/>
<g clip-path="url(#ucp)"><g filter="url(#cm)"><rect x="540" y="219" width="270" height="230" fill="#000"/><g class="pl">
<polygon points="656.0,427.0 635.0,427.0 635.0,215.0 656.0,215.0" fill="url(#ug0)" filter="url(#ub2_4)"/>
<polygon points="685.0,427.0 706.0,427.0 706.0,215.0 685.0,215.0" fill="url(#ug1)" filter="url(#ub2_4)"/>
<polygon points="652.0,427.0 639.5,427.0 639.5,215.0 652.0,215.0" fill="url(#ug2)" filter="url(#ub3_0)"/>
<polygon points="689.0,427.0 701.5,427.0 701.5,215.0 689.0,215.0" fill="url(#ug3)" filter="url(#ub3_0)"/>
<polygon points="653.5,423.0 636.5,423.0 636.5,402.0 653.5,402.0" fill="#747474" filter="url(#ub3_0)"/>
<polygon points="687.5,423.0 704.5,423.0 704.5,402.0 687.5,402.0" fill="#747474" filter="url(#ub3_0)"/>
<polygon points="677.0,407.0 664.8,389.0 658.4,375.0 648.3,358.0 636.2,340.0 623.4,315.0 572.1,215.0 594.1,215.0 646.2,315.0 659.2,340.0 665.7,358.0 670.4,375.0 676.2,389.0 687.7,407.0" fill="url(#ug6)" filter="url(#ub1_7)"/>
<polygon points="664.0,407.0 676.2,389.0 682.6,375.0 692.7,358.0 704.8,340.0 717.6,315.0 768.9,215.0 746.9,215.0 694.8,315.0 681.8,340.0 675.3,358.0 670.6,375.0 664.8,389.0 653.3,407.0" fill="url(#ug7)" filter="url(#ub1_7)"/>
<polygon points="679.2,407.0 667.1,389.0 660.9,375.0 651.8,358.0 640.7,340.0 627.8,315.0 576.1,215.0 590.1,215.0 641.8,315.0 654.7,340.0 662.2,358.0 667.9,375.0 673.9,389.0 685.5,407.0" fill="url(#ug8)" filter="url(#ub3_0)"/>
<polygon points="661.8,407.0 673.9,389.0 680.1,375.0 689.2,358.0 700.3,340.0 713.2,315.0 764.9,215.0 750.9,215.0 699.2,315.0 686.3,340.0 678.8,358.0 673.1,375.0 667.1,389.0 655.5,407.0" fill="url(#ug9)" filter="url(#ub3_0)"/>
<polygon points="580.5,215.0 620.5,215.0 660.5,315.0 642.5,345.0" fill="url(#ug10)" filter="url(#ub5_0)"/>
<polygon points="760.5,215.0 720.5,215.0 680.5,315.0 698.5,345.0" fill="url(#ug11)" filter="url(#ub5_0)"/>
<polygon points="653.5,415.0 648.5,415.0 512.5,215.0 542.5,215.0" fill="url(#ug12)" filter="url(#ub1_6)"/>
<polygon points="687.5,415.0 692.5,415.0 828.5,215.0 798.5,215.0" fill="url(#ug13)" filter="url(#ub1_6)"/>
<polygon points="652.5,415.0 643.5,415.0 471.5,215.0 541.5,215.0" fill="url(#ug14)" filter="url(#ub2_8)"/>
<polygon points="688.5,415.0 697.5,415.0 869.5,215.0 799.5,215.0" fill="url(#ug15)" filter="url(#ub2_8)"/>
<polygon points="657.5,415.0 650.5,415.0 350.5,215.0 429.5,215.0" fill="url(#ug16)" filter="url(#ub2_5)"/>
<polygon points="683.5,415.0 690.5,415.0 990.5,215.0 911.5,215.0" fill="url(#ug17)" filter="url(#ub2_5)"/>
<polygon points="660.5,415.0 656.5,415.0 116.5,215.0 270.5,215.0" fill="url(#ug18)" filter="url(#ub3_0)"/>
<polygon points="680.5,415.0 684.5,415.0 1224.5,215.0 1070.5,215.0" fill="url(#ug19)" filter="url(#ub3_0)"/>
<polygon points="662.5,415.0 660.5,415.0 -339.5,215.0 -17.5,215.0" fill="url(#ug20)" filter="url(#ub3_5)"/>
<polygon points="678.5,415.0 680.5,415.0 1680.5,215.0 1358.5,215.0" fill="url(#ug21)" filter="url(#ub3_5)"/>
<polygon points="676.0,373.0 675.7,368.1 674.9,363.6 673.7,360.1 672.2,357.8 670.5,357.0 668.8,357.8 667.3,360.1 666.1,363.6 665.3,368.1 665.0,373.0 665.3,377.9 666.1,382.4 667.3,385.9 668.8,388.2 670.5,389.0 672.2,388.2 673.7,385.9 674.9,382.4 675.7,377.9" fill="#2e2e2e" filter="url(#ub3_0)"/>
<polygon points="712.5,391.0 710.4,383.0 704.5,375.7 695.2,370.0 683.5,366.3 670.5,365.0 657.5,366.3 645.8,370.0 636.5,375.7 630.6,383.0 628.5,391.0 630.6,399.0 636.5,406.3 645.8,412.0 657.5,415.7 670.5,417.0 683.5,415.7 695.2,412.0 704.5,406.3 710.4,399.0" fill="#1b1b1b" filter="url(#ub8_0)"/>
<polygon points="674.0,386.0 673.8,384.5 673.3,383.1 672.6,382.0 671.6,381.2 670.5,381.0 669.4,381.2 668.4,382.0 667.7,383.1 667.2,384.5 667.0,386.0 667.2,387.5 667.7,388.9 668.4,390.0 669.4,390.8 670.5,391.0 671.6,390.8 672.6,390.0 673.3,388.9 673.8,387.5" fill="#171717" filter="url(#ub2_5)"/>
<polygon points="667.5,394.0 667.4,393.1 666.9,392.2 666.3,391.6 665.4,391.1 664.5,391.0 663.6,391.1 662.7,391.6 662.1,392.2 661.6,393.1 661.5,394.0 661.6,394.9 662.1,395.8 662.7,396.4 663.6,396.9 664.5,397.0 665.4,396.9 666.3,396.4 666.9,395.8 667.4,394.9" fill="#232323" filter="url(#ub2_0)"/>
<polygon points="679.5,394.0 679.4,393.1 678.9,392.2 678.3,391.6 677.4,391.1 676.5,391.0 675.6,391.1 674.7,391.6 674.1,392.2 673.6,393.1 673.5,394.0 673.6,394.9 674.1,395.8 674.7,396.4 675.6,396.9 676.5,397.0 677.4,396.9 678.3,396.4 678.9,395.8 679.4,394.9" fill="#232323" filter="url(#ub2_0)"/>
</g></g></g>
<path d="M553.0 414.8H793.7" stroke="#111" stroke-width="1" fill="none"/>
<path d="M552.8 415.0V239.0H793.9V415.0" stroke="#222" stroke-width="0.8" fill="none"/>
<text x="552.7" y="427.9" font-size="10.9" text-anchor="middle" fill="#111" style="font-family:'Liberation Sans',sans-serif" >-10</text>
<text x="605.0" y="427.9" font-size="10.9" text-anchor="middle" fill="#111" style="font-family:'Liberation Sans',sans-serif" >-5</text>
<text x="657.6" y="427.9" font-size="10.9" text-anchor="middle" fill="#111" style="font-family:'Liberation Sans',sans-serif" >0</text>
<text x="709.9" y="427.9" font-size="10.9" text-anchor="middle" fill="#111" style="font-family:'Liberation Sans',sans-serif" >5</text>
<text x="762.2" y="427.9" font-size="10.9" text-anchor="middle" fill="#111" style="font-family:'Liberation Sans',sans-serif" >10</text>
<path d="M553.0 415.0v-4M605.3 415.0v-4M657.6 415.0v-4M709.9 415.0v-4M762.2 415.0v-4" stroke="#111" stroke-width="0.9" fill="none"/>
<text x="547.6" y="417.4" font-size="10.9" text-anchor="end" fill="#111" style="font-family:'Liberation Sans',sans-serif" >0</text>
<text x="547.6" y="395.4" font-size="10.9" text-anchor="end" fill="#111" style="font-family:'Liberation Sans',sans-serif" >0.5</text>
<text x="547.6" y="373.4" font-size="10.9" text-anchor="end" fill="#111" style="font-family:'Liberation Sans',sans-serif" >1</text>
<text x="547.6" y="351.4" font-size="10.9" text-anchor="end" fill="#111" style="font-family:'Liberation Sans',sans-serif" >1.5</text>
<text x="547.6" y="329.4" font-size="10.9" text-anchor="end" fill="#111" style="font-family:'Liberation Sans',sans-serif" >2</text>
<text x="547.6" y="307.4" font-size="10.9" text-anchor="end" fill="#111" style="font-family:'Liberation Sans',sans-serif" >2.5</text>
<text x="547.6" y="285.4" font-size="10.9" text-anchor="end" fill="#111" style="font-family:'Liberation Sans',sans-serif" >3</text>
<text x="547.6" y="263.4" font-size="10.9" text-anchor="end" fill="#111" style="font-family:'Liberation Sans',sans-serif" >3.5</text>
<text x="547.6" y="241.4" font-size="10.9" text-anchor="end" fill="#111" style="font-family:'Liberation Sans',sans-serif" >4</text>
<text x="672.8" y="445.8" font-size="13.4" text-anchor="middle" fill="#111" style="font-family:'Liberation Sans',sans-serif" >hω&#160;&#160;[eV]</text>
<text transform="translate(523 327.3) rotate(-90)" font-size="13.4" text-anchor="middle" fill="#111" style="font-family:'Liberation Sans',sans-serif">hΩ&#160;&#160;[eV]</text>
<rect x="799.5" y="238.8" width="12.5" height="175.5" fill="url(#cb)" stroke="#222" stroke-width="0.7"/>
<text x="818.2" y="417.3" font-size="10.9" text-anchor="start" fill="#111" style="font-family:'Liberation Sans',sans-serif" >0</text>
<text x="818.2" y="390.7" font-size="10.9" text-anchor="start" fill="#111" style="font-family:'Liberation Sans',sans-serif" >0.05</text>
<text x="818.2" y="364.1" font-size="10.9" text-anchor="start" fill="#111" style="font-family:'Liberation Sans',sans-serif" >0.1</text>
<text x="818.2" y="337.5" font-size="10.9" text-anchor="start" fill="#111" style="font-family:'Liberation Sans',sans-serif" >0.15</text>
<text x="818.2" y="310.9" font-size="10.9" text-anchor="start" fill="#111" style="font-family:'Liberation Sans',sans-serif" >0.2</text>
<text x="818.2" y="284.3" font-size="10.9" text-anchor="start" fill="#111" style="font-family:'Liberation Sans',sans-serif" >0.25</text>
<text x="818.2" y="257.8" font-size="10.9" text-anchor="start" fill="#111" style="font-family:'Liberation Sans',sans-serif" >0.3</text>
<path d="M799.5 413.5h3M812 413.5h-3M799.5 386.9h3M812 386.9h-3M799.5 360.3h3M812 360.3h-3M799.5 333.7h3M812 333.7h-3M799.5 307.1h3M812 307.1h-3M799.5 280.5h3M812 280.5h-3M799.5 254.0h3M812 254.0h-3" stroke="#111" stroke-width="0.7" fill="none"/>
<path d="M912.5 173.1L1121.1 201.8L1182.9 109.0L974.3 80.3Z" stroke="#111" stroke-width="0.9" fill="none"/>
<path d="M912.5 173.1V68.0" stroke="#111" stroke-width="0.9"/>
<text x="905.5" y="141.9" font-size="12.3" text-anchor="end" fill="#111" style="font-family:'Liberation Sans',sans-serif" >0</text>
<text x="905.5" y="122.0" font-size="12.3" text-anchor="end" fill="#111" style="font-family:'Liberation Sans',sans-serif" >0.1</text>
<text x="905.5" y="102.1" font-size="12.3" text-anchor="end" fill="#111" style="font-family:'Liberation Sans',sans-serif" >0.2</text>
<text x="905.5" y="82.2" font-size="12.3" text-anchor="end" fill="#111" style="font-family:'Liberation Sans',sans-serif" >0.3</text>
<text x="910.9" y="189.4" font-size="12.3" text-anchor="middle" fill="#111" style="font-family:'Liberation Sans',sans-serif" >-10</text>
<text x="956.2" y="195.7" font-size="12.3" text-anchor="middle" fill="#111" style="font-family:'Liberation Sans',sans-serif" >-5</text>
<text x="1001.6" y="201.9" font-size="12.3" text-anchor="middle" fill="#111" style="font-family:'Liberation Sans',sans-serif" >0</text>
<text x="1047.0" y="208.2" font-size="12.3" text-anchor="middle" fill="#111" style="font-family:'Liberation Sans',sans-serif" >5</text>
<text x="1092.3" y="214.4" font-size="12.3" text-anchor="middle" fill="#111" style="font-family:'Liberation Sans',sans-serif" >10</text>
<text x="1130.4" y="205.9" font-size="12.3" text-anchor="middle" fill="#111" style="font-family:'Liberation Sans',sans-serif" >0</text>
<text x="1145.9" y="182.8" font-size="12.3" text-anchor="middle" fill="#111" style="font-family:'Liberation Sans',sans-serif" >1</text>
<text x="1161.3" y="159.5" font-size="12.3" text-anchor="middle" fill="#111" style="font-family:'Liberation Sans',sans-serif" >2</text>
<text x="1176.8" y="136.3" font-size="12.3" text-anchor="middle" fill="#111" style="font-family:'Liberation Sans',sans-serif" >3</text>
<text x="1192.2" y="113.1" font-size="12.3" text-anchor="middle" fill="#111" style="font-family:'Liberation Sans',sans-serif" >4</text>
<path d="M912.5 137.6h4M912.5 127.6h2M912.5 117.7h4M912.5 107.8h2M912.5 97.8h4M912.5 87.8h2M912.5 77.9h4M912.5 67.9h2M912.5 173.1l1.6 -2.6M974.3 80.3l-1.6 2.6M957.9 179.3l1.6 -2.6M1019.6 86.5l-1.6 2.6M1003.2 185.6l1.6 -2.6M1065.0 92.8l-1.6 2.6M1048.5 191.8l1.6 -2.6M1110.3 99.0l-1.6 2.6M1093.9 198.1l1.6 -2.6M1155.7 105.3l-1.6 2.6M1121.1 201.8l-3.5 -0.5M912.5 173.1l3.5 0.5M1136.6 178.7l-3.5 -0.5M928.0 149.9l3.5 0.5M1152.0 155.4l-3.5 -0.5M943.4 126.7l3.5 0.5M1167.5 132.2l-3.5 -0.5M958.9 103.5l3.5 0.5M1182.9 109.0l-3.5 -0.5M974.3 80.3l3.5 0.5" stroke="#111" stroke-width="0.8" fill="none"/>
<text x="1000.4" y="220.4" font-size="13.4" text-anchor="middle" fill="#111" style="font-family:'Liberation Sans',sans-serif" >hω&#160;&#160;[eV]</text>
<text x="1202.8" y="171.8" font-size="13.4" text-anchor="middle" fill="#111" style="font-family:'Liberation Sans',sans-serif" >hΩ&#160;&#160;[eV]</text>
<g filter="url(#soft)">
<path d="M973.3 34.9l3.2 3.9l3.2 7.2l3.2 1.6l12.8 1.8l3.2 0l3.2-4.9l3.3-6l3.2-3.2l3.2-1l3.2 1l3.2 3.6l3.2 6.6l3.2 4.4l9.6 1.7l6.5 1.6l3.2-5.7l3.2-8.8l3.2-7.7l3.2-5.3l3.2 .7l3.2 7l3.2 14.1l3.2 10.7l3.2 1.4l12.9 1.7l3.2-3.6l3.2-13.4l3.2-9.8l3.2-3.5l3.2 2.3l6.4 16.3l3.3 10.4l3.2 3l3.2-.1l3.2 .1l6.4 .8l3.2-.9l3.2-5.9l3.2-4.1l3.2-1.4l3.2 .9l3.3 2.9l3.2 5.4l3.2 7.7l3.2 2.6l12.8 1.9l3.2 .3l3.2-2.6l3.2-6.4l3.3-1.2l3.2 .3l1-1.1l-3.2 .1l-3.2 3.2l-3.2 5.8l-3.2 .4l-12.9-1.7l-3.2-.9l-3.2-5.3l-3.2-6.9l-3.2-4.4l-3.2-2l-3.2-.1l-3.2 2.5l-3.2 5.6l-3.2 3.9l-3.3-.1l-6.4-.7l-3.2-.1l-3.2 .3l-3.2-3.1l-3.2-10.5l-6.4-16.4l-3.2-2.4l-3.3 3.5l-3.2 9.9l-3.2 13.3l-3.2 3.6l-12.8-1.6l-3.2-1.5l-3.2-10.7l-3.2-14.1l-3.3-7l-3.2-.7l-3.2 5.4l-3.2 7.8l-3.2 8.9l-3.2 5.8l-6.4-1.8l-6.4-1.2l-3.2-.5l-3.3-1.9l-3.2-7l-3.2-4.8l-3.2-2l-3.2 .2l-3.2 2.3l-3.2 4.6l-3.2 6.5l-3.2 1.4l-12.9-1.7l-3.2-.7l-3.2-4.5l-3.2-6.3z" fill="url(#p56)"/>
<path d="M972.2 35.7l3.2 1.8l3.2 7.5l3.2 4l3.3 .7l12.8 1.7l3.2-2.4l3.2-6.8l3.2-4.2l3.2-1.8l3.2 .1l3.2 2.5l3.3 5.2l3.2 6.6l3.2 1.4l6.4 1.1l6.4 1.4l3.2-5.7l3.2-8.7l3.2-7.6l3.2-5.3l3.3 .7l3.2 7l3.2 14.2l3.2 10.7l3.2 1.4l12.8 1.7l3.2-3.6l3.3-13.4l3.2-9.8l3.2-3.6l3.2 2.3l6.4 16.1l3.2 10.3l3.2 3.1l3.2 0l9.7 .9l3.2-3l3.2-6l3.2-3l3.2-.3l3.2 1.7l3.2 3.9l6.4 13.1l3.2 1.1l12.9 1.7l3.2-.2l3.2-5.8l3.2-4.4l3.2-.1l3.2 .4l1.8-1.7l-3.2-.1l-3.2 2.6l-3.2 6l-3.2 1.1l-12.9-1.7l-3.2-.8l-3.2-4.5l-3.2-7.1l-3.2-4.7l-3.2-2.3l-3.2-.4l-3.2 2.2l-3.3 5.2l-3.2 4.5l-3.2 .1l-6.4-.7l-3.2 0l-3.2 .2l-3.2-3.1l-3.2-10.5l-6.4-16.4l-3.3-2.3l-3.2 3.5l-3.2 9.8l-3.2 13.4l-3.2 3.6l-12.8-1.7l-3.2-1.4l-3.3-10.7l-3.2-14.1l-3.2-7l-3.2-.7l-3.2 5.3l-3.2 7.8l-3.2 8.9l-3.2 5.7l-6.4-1.7l-9.7-1.7l-3.2-2.6l-3.2-6.9l-3.2-4.5l-3.2-1.6l-3.2 .4l-3.2 2.5l-3.2 5l-3.2 6.1l-3.2 1l-12.9-1.7l-3.2-1l-6.4-10.9z" fill="url(#p55)"/>
<path d="M971.2 36.6l3.2 1l3.2 4.9l3.2 7.3l3.2 1.4l12.8 1.8l3.3-.5l3.2-6l3.2-5.3l3.2-2.9l3.2-.7l3.2 1.4l3.2 4.1l3.2 7.1l3.2 3.3l6.4 1l6.5 1.3l3.2-5.7l3.2-8.7l3.2-7.5l3.2-5.2l3.2 .8l3.2 7l3.2 14.1l3.2 10.7l3.3 1.5l12.8 1.6l3.2-3.6l3.2-13.3l3.2-9.9l3.2-3.6l3.2 2.3l6.5 15.9l3.2 10.3l3.2 3.1l6.4 .4l3.2 .4l3.2-.3l3.2-5.4l3.2-4.8l3.2-1.8l3.2 .6l3.3 2.5l3.2 5l3.2 7.6l3.2 3.9l9.6 1.5l6.4 .7l3.2-2.2l3.3-7.3l3.2-1.8l3.2 .3l3.2 .4l1.8-1.7l-3.3-.3l-3.2 .8l-3.2 5.9l-3.2 3.5l-3.2-.1l-12.8-1.9l-3.2-2.2l-3.2-7.3l-3.3-5.7l-3.2-3.3l-3.2-1.1l-3.2 1.1l-3.2 3.8l-3.2 5.9l-3.2 1.5l-6.4-.7l-3.2-.2l-3.3 .1l-3.2-3l-3.2-10.4l-6.4-16.2l-3.2-2.4l-3.2 3.6l-3.2 9.8l-3.2 13.4l-3.2 3.6l-12.9-1.7l-3.2-1.4l-3.2-10.7l-3.2-14.1l-3.2-7.1l-3.2-.7l-3.2 5.3l-3.2 7.7l-3.3 8.8l-3.2 5.7l-6.4-1.6l-6.4-1l-3.2-.9l-3.2-5l-3.2-6.2l-3.2-3.3l-3.2-.7l-3.3 1.2l-3.2 3.5l-3.2 6.2l-3.2 4.2l-3.2-.1l-12.8-1.8l-3.2-2.4l-3.2-7.3l-3.3-3.3z" fill="url(#p54)"/>
<path d="M970.1 37.6l3.2 .6l3.2 2.4l3.3 8.4l3.2 3.7l6.4 1l6.4 .9l3.2 .2l3.2-3.6l3.2-6.5l3.2-3.9l3.2-1.5l3.3 .4l3.2 3l6.4 11.9l3.2 .9l9.6 1.6l3.2-5.8l3.2-8.6l3.3-7.3l3.2-5.1l3.2 .7l3.2 7.1l3.2 14.1l3.2 10.7l3.2 1.4l12.8 1.7l3.3-3.6l3.2-13.4l3.2-9.8l3.2-3.6l3.2 2.2l6.4 15.7l3.2 10.2l3.2 3.3l6.4 .5l3.3 .4l3.2-2l3.2-6.3l3.2-3.5l3.2-.7l3.2 1.3l3.2 3.6l3.2 6.1l3.2 7.2l3.2 1.7l12.9 1.8l3.2-.1l6.4-11.1l3.2-.4l6.4 .8l1.8-1.7l-3.2-.4l-3.2 0l-3.2 3.6l-3.2 6.2l-3.2 .9l-12.9-1.8l-3.2-.9l-3.2-5.7l-3.2-6.9l-3.2-4.2l-3.2-1.9l-3.2 0l-3.2 2.6l-3.2 5.6l-3.3 3.8l-3.2-.2l-6.4-.6l-3.2 0l-3.2-3.1l-3.2-10.3l-6.4-16l-3.2-2.3l-3.3 3.5l-3.2 9.9l-3.2 13.3l-3.2 3.6l-12.8-1.6l-3.2-1.5l-3.2-10.7l-3.2-14.1l-3.3-7l-3.2-.7l-3.2 5.2l-3.2 7.6l-3.2 8.7l-3.2 5.7l-9.6-1.9l-3.2-.5l-3.3-2l-3.2-6.8l-3.2-4.9l-3.2-2.1l-3.2 .1l-3.2 2.1l-3.2 4.6l-3.2 6.5l-3.2 1.9l-12.9-1.7l-3.2-.9l-3.2-5.1l-3.2-6.7l-3.2-1.6z" fill="url(#p53)"/>
<path d="M969.1 38.6l3.2 .5l3.2 1.1l3.2 6.2l3.2 7.2l3.2 1.2l12.9 1.8l3.2-1.3l3.2-6.6l3.2-4.9l3.2-2.5l3.2-.3l3.2 1.8l3.2 4.6l3.2 7.1l3.3 2.5l6.4 1.1l3.2 .3l3.2-5.8l3.2-8.6l3.2-7.3l3.2-5l3.2 .9l3.2 7l3.2 14.2l3.3 10.7l3.2 1.4l12.8 1.7l3.2-3.6l3.2-13.4l3.2-9.9l3.2-3.6l3.2 2.2l6.5 15.4l3.2 10.3l3.2 3.4l6.4 .6l3.2 0l3.2-4.6l3.2-5.3l3.2-2.4l3.3 .3l3.2 2.2l3.2 4.6l3.2 7.2l3.2 5.1l3.2 .8l12.8 1.7l3.2-1.7l3.3-8l3.2-2.6l3.2 .2l6.4 .8l1.8-1.7l-6.5-.7l-3.2 1.3l-3.2 6.9l-3.2 3.1l-3.2-.1l-12.8-1.9l-3.2-3.3l-3.2-7.5l-3.3-5.3l-3.2-2.8l-3.2-.8l-3.2 1.5l-3.2 4.4l-3.2 5.6l-3.2 .8l-6.4-.6l-3.2-.2l-3.2-3.1l-3.3-10.3l-6.4-15.8l-3.2-2.3l-3.2 3.6l-3.2 9.8l-3.2 13.4l-3.2 3.6l-12.9-1.7l-3.2-1.4l-3.2-10.7l-3.2-14.1l-3.2-7.1l-3.2-.7l-3.2 5.2l-3.2 7.4l-3.2 8.6l-3.2 5.7l-12.9-2.3l-3.2-4l-3.2-6.8l-3.2-3.8l-3.2-1l-3.2 .8l-3.2 3.2l-6.5 11l-3.2 .3l-12.8-1.8l-3.2-2.1l-3.2-7.7l-3.2-4.2l-3.2-.8z" fill="url(#p52)"/>
<path d="M968 39.6l3.2 .5l3.3 .7l3.2 3.1l3.2 9.2l3.2 3.2l12.8 1.9l3.2-.1l3.2-4.9l3.3-6l3.2-3.6l3.2-1l3.2 .7l3.2 3.6l3.2 6.4l3.2 5l3.2 .8l3.2 .5l3.2 .2l3.2-6l3.3-8.6l3.2-7.1l3.2-4.9l3.2 .9l3.2 7.1l3.2 14.1l3.2 10.7l3.2 1.5l12.9 1.6l3.2-3.6l3.2-13.4l3.2-9.8l3.2-3.7l3.2 2.1l6.4 15.3l3.2 10.3l3.2 3.5l6.5 .7l3.2-1.2l3.2-6.2l3.2-4l3.2-1.2l3.2 1l3.2 3.1l3.2 5.6l3.2 7.7l3.2 2.7l12.9 1.8l3.2 .1l3.2-5.3l3.2-6.8l3.2-.7l9.6 1.3l1.8-1.8l-6.4-.8l-3.2 .2l-3.2 4.7l-3.2 6.3l-3.2 .6l-12.9-1.8l-3.2-1.4l-6.4-13l-3.2-3.9l-3.2-1.6l-3.2 .3l-3.2 3.2l-3.2 6l-3.3 2.8l-9.6-.8l-3.2-3.3l-3.2-10.2l-6.4-15.7l-3.2-2.2l-3.2 3.6l-3.2 9.9l-3.3 13.4l-3.2 3.6l-12.8-1.7l-3.2-1.4l-3.2-10.7l-3.2-14.2l-3.2-7l-3.3-.8l-3.2 5.1l-3.2 7.3l-3.2 8.6l-3.2 5.8l-3.2-.4l-6.4-1.1l-3.2-1.5l-3.2-6.1l-3.2-5.7l-3.3-2.6l-3.2-.2l-3.2 1.8l-3.2 4.2l-3.2 6.5l-3.2 2.9l-6.4-.7l-6.4-.9l-3.2-.7l-3.3-4.8l-3.2-7.7l-3.2-2l-3.2-.6z" fill="url(#p51)"/>
<path d="M967 40.6l6.4 1l3.2 1.4l3.2 7.5l3.2 7l3.3 .9l12.8 1.7l3.2-2.4l3.2-6.8l3.2-4.5l3.2-2l3.2 0l3.2 2.4l3.3 5.2l3.2 6.9l3.2 1.7l3.2 .5l3.2 .1l3.2-6.1l3.2-8.6l3.2-7.1l3.2-4.8l3.2 1l3.2 7.1l3.3 14.2l3.2 10.7l3.2 1.4l12.8 1.7l3.2-3.6l3.2-13.4l3.2-9.9l3.3-3.7l3.2 2l6.4 15.1l3.2 10.4l3.2 3.6l6.4 .7l3.2-3.6l3.2-5.9l3.2-2.9l3.3-.1l3.2 1.7l3.2 4.3l6.4 13.1l3.2 1.1l12.8 1.8l3.2-1.3l3.3-8.5l3.2-3.6l3.2 .1l6.4 .8l3.2 .9l1.8-2.2l-6.4-.8l-3.2-.2l-3.3 2l-3.2 7.6l-3.2 2.8l-6.4-.7l-6.4-.9l-3.2-.7l-3.2-4.4l-3.2-7.3l-3.3-5l-3.2-2.4l-3.2-.6l-3.2 2.1l-6.4 10l-3.2 .4l-6.4-.7l-3.2-3.4l-3.2-10.3l-6.5-15.4l-3.2-2.2l-3.2 3.7l-3.2 9.8l-3.2 13.4l-3.2 3.6l-12.8-1.6l-3.3-1.5l-3.2-10.7l-3.2-14.1l-3.2-7.1l-3.2-.8l-3.2 4.9l-3.2 7.3l-3.2 8.5l-3.2 5.9l-3.2-.3l-6.5-1.1l-3.2-3.3l-3.2-6.9l-3.2-4.3l-3.2-1.5l-3.2 .6l-3.2 2.8l-3.2 5.2l-3.2 6.1l-3.2 .9l-12.9-1.7l-3.2-1.8l-3.2-7.8l-3.2-5.3l-3.2-1l-3.2-.5z" fill="url(#p50)"/>
<path d="M966 41.7l6.4 .9l3.2 .8l3.2 4l3.2 10l3.2 2.5l12.8 1.8l3.3-.5l3.2-6l3.2-5.5l3.2-3.1l3.2-.8l3.2 1.3l3.2 4l3.2 7.1l3.2 3.8l3.2 .6l3.2 0l3.3-6.2l3.2-8.7l3.2-7.1l3.2-4.6l3.2 1.1l3.2 7.2l3.2 14.2l3.2 10.7l3.2 1.4l12.9 1.7l3.2-3.6l3.2-13.4l3.2-10l3.2-3.8l3.2 1.9l3.2 7.2l3.2 7.9l3.2 10.5l3.3 3.7l3.2 .5l3.2-.5l3.2-5.9l3.2-4.5l3.2-1.9l3.2 .7l3.2 2.8l3.2 5.2l3.2 7.7l3.2 3.8l6.5 1.1l6.4 .8l3.2 .2l3.2-4.6l3.2-8.2l3.2-1.1l6.4 .7l3.3 .5l3.2 3l1.7-4.2l-6.4-1l-3.2-.4l-3.2 .5l-6.4 12l-3.2 .4l-12.9-1.8l-3.2-2.2l-3.2-7.3l-3.2-6l-3.2-3.4l-3.2-1.3l-3.2 .9l-3.2 3.7l-3.2 6.1l-3.3 1.9l-6.4-.7l-3.2-3.5l-3.2-10.4l-6.4-15.2l-3.2-2.1l-3.2 3.7l-3.2 9.9l-3.2 13.4l-3.3 3.6l-12.8-1.7l-3.2-1.4l-3.2-10.7l-3.2-14.2l-3.2-7.1l-3.2-.9l-3.2 4.9l-3.3 7.1l-3.2 8.6l-3.2 6l-3.2-.2l-3.2-.5l-3.2-1l-3.2-5.6l-3.2-6.1l-3.2-3.2l-3.2-.5l-3.3 1.4l-3.2 3.8l-3.2 6.3l-3.2 4.1l-3.2-.1l-9.6-1.3l-3.2-.6l-3.2-4.4l-3.2-8.7l-3.3-2.6l-6.4-1.1z" fill="url(#p49)"/>
<path d="M964.9 43l6.4 .7l3.2 .6l3.2 1.8l3.3 8.9l3.2 6.2l3.2 .8l9.6 1.3l3.2 .2l3.2-3.4l3.2-6.7l3.2-4.1l3.2-1.7l3.3 .3l3.2 2.9l3.2 5.7l3.2 6.3l3.2 1.3l3.2 0l3.2-6.3l3.2-8.8l3.2-7.1l3.2-4.6l3.3 1.2l3.2 7.3l3.2 14.2l3.2 10.7l3.2 1.5l12.8 1.6l3.2-3.6l3.2-13.4l3.3-10l3.2-3.8l3.2 1.7l3.2 7.1l3.2 7.9l3.2 10.7l3.2 3.8l3.2 .4l3.2-2.6l3.2-6.2l3.2-3.4l3.3-.6l3.2 1.5l3.2 3.8l3.2 6.4l3.2 7.2l3.2 1.6l12.8 1.8l3.3-.9l3.2-8.4l3.2-4.8l3.2-.1l6.4 .8l3.2 1.1l3.2 6.9l1.8-7.9l-3.2-1.5l-6.4-.9l-3.2-.1l-3.3 2.8l-3.2 8.4l-3.2 2.3l-9.6-1.2l-3.2-.5l-3.2-1l-3.2-5.6l-3.2-7l-3.2-4.5l-3.3-2.1l-3.2-.1l-3.2 2.6l-3.2 5.5l-3.2 4.2l-3.2 0l-3.2-.4l-3.2-3.6l-3.2-10.5l-3.2-7.8l-3.3-7.3l-3.2-2l-3.2 3.8l-3.2 9.9l-3.2 13.4l-3.2 3.6l-12.8-1.7l-3.2-1.4l-3.3-10.7l-3.2-14.2l-3.2-7.2l-3.2-1l-3.2 4.8l-3.2 7l-3.2 8.7l-3.2 6.1l-3.2-.1l-3.2-.5l-3.2-2.3l-3.3-7l-3.2-4.8l-3.2-2.1l-3.2 .3l-3.2 2.3l-3.2 4.8l-3.2 6.6l-3.2 1.8l-12.9-1.7l-3.2-1.5l-3.2-7.8l-3.2-6.5l-3.2-1.2l-6.4-1z" fill="url(#p48)"/>
<path d="M963.9 45.4l3.2-.7l6.4 .9l3.2 1l3.2 5.1l3.2 9.8l3.2 2l12.9 1.8l3.2-1l3.2-6.7l3.2-5.2l3.2-2.8l3.2-.5l3.2 1.7l3.2 4.5l3.2 7.2l3.3 3l3.2 .1l3.2-6.4l3.2-9l3.2-7.1l3.2-4.5l3.2 1.4l3.2 7.3l3.2 14.3l3.2 10.7l3.2 1.4l12.9 1.7l3.2-3.6l3.2-13.4l3.2-10.1l3.2-4l3.2 1.6l3.2 7.2l3.2 8l3.3 10.8l3.2 3.8l3.2-.1l6.4-10.3l3.2-2.2l3.2 .3l3.2 2.4l3.2 5l3.2 7.5l3.3 4.9l3.2 .7l9.6 1.3l3.2 .3l3.2-3.6l3.2-9.2l3.2-1.7l6.4 .7l3.3 .5l3.2 3.6l3.2 8.1l1.7-9.2l-3.2-4.2l-3.2-.6l-6.4-.8l-3.2 .8l-3.2 7.2l-3.2 5.8l-3.2 .1l-9.7-1.3l-3.2-.6l-3.2-3.1l-3.2-7.6l-3.2-5.6l-3.2-3l-3.2-1l-3.2 1.5l-3.2 4.2l-3.2 5.9l-3.2 1.2l-3.3-.5l-3.2-3.7l-3.2-10.6l-3.2-7.8l-3.2-7.2l-3.2-1.8l-3.2 3.8l-3.2 9.9l-3.2 13.4l-3.2 3.6l-12.9-1.6l-3.2-1.5l-3.2-10.7l-3.2-14.2l-3.2-7.2l-3.2-1.1l-3.2 4.6l-3.2 7.1l-3.3 8.7l-3.2 6.3l-3.2-.1l-3.2-.8l-3.2-4.6l-3.2-6.6l-3.2-3.7l-3.2-1l-3.2 1.1l-3.2 3.4l-3.2 5.9l-3.3 5.2l-3.2 .3l-9.6-1.3l-3.2-.6l-3.2-3.6l-3.2-9.7l-3.2-3.4l-3.2-.7l-6.5-.9z" fill="url(#p47)"/>
<path d="M962.8 50.2l3.2-3.8l6.4 .7l3.3 .6l3.2 2.2l3.2 9.7l3.2 5.3l3.2 .7l9.6 1.3l3.2 0l3.2-4.6l3.3-6.4l3.2-3.9l3.2-1.2l3.2 .6l3.2 3.4l3.2 6.4l3.2 5.5l3.2 .4l3.2-6.5l3.2-9.1l3.2-7.2l3.3-4.5l3.2 1.5l3.2 7.5l3.2 14.3l3.2 10.8l3.2 1.4l12.8 1.7l3.2-3.6l3.3-13.5l3.2-10.1l3.2-4.2l3.2 1.5l3.2 7.2l3.2 8.1l3.2 10.9l3.2 3.9l3.2-1.6l3.2-6.4l3.3-3.9l3.2-1l3.2 1.1l3.2 3.4l3.2 6l3.2 7.8l3.2 2.3l12.8 1.9l3.3-.5l3.2-7.7l3.2-6l3.2-.3l6.4 .9l3.2 1.2l3.2 7.4l3.2 4.9l1.8-6.4l-3.2-7.3l-3.2-1.9l-6.4-.8l-3.2 0l-3.3 3.9l-3.2 8.6l-3.2 1.7l-12.8-1.7l-3.2-1.4l-6.4-13.2l-3.2-4.2l-3.3-1.7l-3.2 .3l-3.2 3l-3.2 5.9l-3.2 3.4l-3.2-.3l-3.2-3.7l-3.2-10.8l-3.2-7.9l-3.2-7.2l-3.2-1.6l-3.3 3.9l-3.2 10l-3.2 13.4l-3.2 3.6l-12.8-1.7l-3.2-1.4l-3.2-10.7l-3.3-14.3l-3.2-7.2l-3.2-1.3l-3.2 4.5l-3.2 7.1l-3.2 8.9l-3.2 6.3l-3.2 0l-3.2-1.8l-3.2-6.6l-3.2-5.3l-3.3-2.5l-3.2-.1l-3.2 2l-3.2 4.5l-3.2 6.7l-3.2 2.6l-6.4-.6l-6.4-1l-3.2-1.1l-3.3-7.3l-3.2-7.7l-3.2-1.6l-6.4-1l-3.2 0z" fill="url(#p46)"/>
<path d="M961.8 56.3l3.2-7.2l3.2-1l6.4 .9l3.2 1.1l3.2 6.2l3.2 9.2l3.3 1.6l12.8 1.7l3.2-2l3.2-7l3.2-4.9l3.2-2.2l3.2-.2l3.2 2.3l3.3 5l3.2 7.2l3.2 1.6l3.2-6.5l3.2-9.2l3.2-7.4l3.2-4.4l3.2 1.6l3.2 7.6l3.2 14.4l3.2 10.7l3.3 1.5l12.8 1.6l3.2-3.6l3.2-13.5l3.2-10.2l3.2-4.3l3.2 1.4l3.3 7.3l3.2 8.2l3.2 11l3.2 3.6l3.2-4l3.2-5.8l3.2-2.8l3.2 0l3.2 1.9l3.2 4.5l3.2 7.2l3.3 6.1l3.2 1.1l9.6 1.3l3.2 .3l3.2-2.8l3.2-9.4l3.2-2.4l3.2 .2l6.5 .9l3.2 4.1l3.2 7.9l3.2 1.6l1.8-3.5l-3.2-7.2l-3.3-4.7l-3.2-.8l-6.4-.7l-3.2 1.3l-3.2 8.2l-3.2 4.8l-3.2 0l-9.7-1.3l-3.2-.7l-3.2-4.1l-3.2-7.6l-3.2-5.3l-3.2-2.7l-3.2-.6l-3.2 1.9l-3.2 4.7l-3.2 5.6l-3.2 .5l-3.3-3.8l-3.2-10.8l-3.2-8.1l-3.2-7.1l-3.2-1.6l-3.2 4.1l-3.2 10l-3.2 13.5l-3.2 3.6l-12.9-1.7l-3.2-1.4l-3.2-10.8l-3.2-14.2l-3.2-7.4l-3.2-1.4l-3.2 4.4l-3.2 7.2l-3.2 9l-3.3 6.4l-3.2-.1l-3.2-3.8l-3.2-7l-3.2-4.1l-3.2-1.4l-3.2 .7l-3.2 3.1l-3.2 5.6l-3.2 6.1l-3.2 .7l-9.7-1.3l-3.2-.6l-3.2-3l-3.2-9.8l-3.2-4.2l-3.2-.8l-6.4-.9l-3.2 1.6z" fill="url(#p45)"/>
<path d="M960.7 60.4l3.2-6.2l3.3-4.4l3.2 .2l3.2 .5l3.2 .7l3.2 2.8l3.2 10.2l3.2 4.3l6.4 1.1l6.4 .8l3.3-.3l6.4-11.8l3.2-3.4l3.2-.9l3.2 1.1l3.2 4l3.2 6.8l3.2 4l3.2-6.3l3.2-9.3l3.3-7.5l3.2-4.5l3.2 1.6l3.2 7.8l3.2 14.5l3.2 10.8l3.2 1.4l12.9 1.7l3.2-3.6l3.2-13.6l3.2-10.3l3.2-4.4l3.2 1.3l3.2 7.4l3.2 8.4l3.2 11l3.2 2.5l3.2-5.9l3.3-4.4l3.2-1.7l3.2 .8l3.2 2.9l3.2 5.5l3.2 8.1l3.2 3.5l9.6 1.5l3.2 .4l3.3-.2l6.4-13.9l3.2-.5l6.4 .8l3.2 1.4l3.2 7.8l3.2 4.3l3.2 .6l1.8-2.6l-3.2-3.9l-3.2-7.6l-3.2-2.1l-6.4-.8l-3.2 .1l-3.2 4.9l-3.3 8.2l-3.2 1.2l-12.8-1.8l-3.2-1.9l-3.2-7.3l-3.2-6.4l-3.2-3.7l-3.3-1.4l-3.2 .8l-3.2 3.5l-3.2 6.2l-3.2 2.3l-3.2-3.7l-3.2-10.9l-3.2-8.2l-3.2-7.2l-3.2-1.5l-3.2 4.2l-3.3 10.1l-3.2 13.5l-3.2 3.6l-12.8-1.6l-3.2-1.5l-3.2-10.7l-3.2-14.4l-3.2-7.5l-3.3-1.5l-3.2 4.4l-3.2 7.3l-3.2 9.2l-3.2 6.4l-3.2-.7l-6.4-12l-3.2-3l-3.2-.5l-3.3 1.6l-3.2 4.1l-3.2 6.7l-3.2 3.8l-3.2-.1l-9.6-1.4l-3.2-1l-3.2-6.3l-3.2-8.7l-3.3-1.9l-6.4-1l-3.2 .1l-3.2 4.8z" fill="url(#p44)"/>
<path d="M959.7 62.5l3.2-2.3l3.2-7.4l3.2-1.3l6.4 1l3.2 1.3l3.3 7.2l3.2 8.4l3.2 1.3l9.6 1.3l3.2 .3l3.2-3.3l3.2-7l3.2-4.4l3.2-1.8l3.3 .2l3.2 2.8l3.2 5.4l3.2 6.4l3.2-5.5l3.2-9.4l3.2-7.6l3.2-4.7l3.2 1.8l3.2 7.9l3.3 14.6l3.2 10.8l3.2 1.5l12.8 1.7l3.2-3.7l3.2-13.6l3.2-10.5l3.2-4.5l3.3 1.3l3.2 7.5l3.2 8.5l3.2 11l3.2 .2l3.2-6l3.2-3.2l3.2-.5l3.2 1.6l3.2 4l3.3 6.6l3.2 7.3l3.2 1.5l12.8 1.8l3.2-2.1l3.2-9.5l3.2-3.2l3.2 .1l6.5 1l3.2 4.6l3.2 7.6l3.2 1.3l3.2 .5l1.8-2.5l-3.2-1.3l-3.2-6.8l-3.3-5.2l-3.2-.8l-3.2-.5l-3.2-.2l-3.2 1.8l-3.2 8.7l-3.2 4l-3.2-.1l-9.6-1.4l-3.3-.9l-3.2-5.3l-3.2-7.4l-3.2-4.9l-3.2-2.2l-3.2-.2l-3.2 2.5l-3.2 5.4l-3.2 4.6l-3.2-3.3l-3.3-11l-3.2-8.3l-3.2-7.3l-3.2-1.4l-3.2 4.3l-3.2 10.3l-3.2 13.5l-3.2 3.6l-12.9-1.7l-3.2-1.4l-3.2-10.8l-3.2-14.4l-3.2-7.7l-3.2-1.6l-3.2 4.5l-3.2 7.4l-3.2 9.2l-3.2 6.5l-3.2-2.3l-3.3-7.1l-3.2-4.7l-3.2-1.9l-3.2 .3l-3.2 2.6l-3.2 5.2l-3.2 6.7l-3.2 1.5l-12.9-1.8l-3.2-2.4l-3.2-9.5l-3.2-5.2l-3.2-.9l-6.4-.9l-3.2 2l-3.2 6.9z" fill="url(#p43)"/>
<path d="M958.6 64l3.3 0l3.2-5.7l3.2-5l3.2 .1l3.2 .5l3.2 .8l3.2 3.6l3.2 10.4l3.2 3.5l9.7 1.4l3.2 .4l3.2-1l3.2-6.8l3.2-5.3l3.2-3l3.2-.6l3.2 1.6l3.2 4.3l3.2 6.8l3.3-3.5l3.2-9.3l3.2-7.8l3.2-4.7l3.2 1.7l3.2 8l3.2 14.8l3.2 10.9l3.2 1.5l9.7 1.3l3.2 .3l3.2-3.7l3.2-13.7l3.2-10.6l3.2-4.7l3.2 1.5l3.2 7.6l3.2 8.6l3.2 10.4l3.3-2.2l3.2-4.8l3.2-2.2l3.2 .5l3.2 2.5l3.2 5.2l3.2 7.7l3.2 4.8l3.2 .7l9.7 1.4l3.2 0l3.2-5.9l3.2-7.9l3.2-.9l6.4 .7l3.2 1.8l3.2 8.1l3.2 3.7l6.5 1l1.7-2.6l-3.2-.5l-3.2-3.4l-3.2-7.8l-3.2-2.3l-6.4-.9l-3.2 .4l-3.2 5.8l-3.3 7.7l-3.2 .7l-9.6-1.3l-3.2-.5l-3.2-3l-3.2-7.8l-3.2-5.8l-3.2-3.2l-3.2-1.1l-3.3 1.3l-3.2 4.1l-3.2 6l-3.2-1.9l-3.2-11l-3.2-8.4l-3.2-7.4l-3.2-1.4l-3.2 4.5l-3.2 10.3l-3.3 13.6l-3.2 3.7l-12.8-1.7l-3.2-1.4l-3.2-10.9l-3.2-14.5l-3.2-7.8l-3.2-1.7l-3.3 4.5l-3.2 7.6l-3.2 9.3l-3.2 6.1l-3.2-4.7l-3.2-6.4l-3.2-3.6l-3.2-.8l-3.2 1.1l-3.2 3.7l-3.2 6.3l-3.3 5l-3.2 .2l-9.6-1.3l-3.2-.8l-3.2-5.6l-3.2-9.3l-3.2-2.3l-6.5-1.1l-3.2 .2l-6.4 10.3z" fill="url(#p42)"/>
<path d="M957.6 65.5l3.2 .4l3.2-1.8l3.2-7.5l3.2-1.6l6.5 .9l3.2 1.6l3.2 8.3l3.2 7.4l3.2 1.1l9.6 1.3l3.2 0l3.2-4.6l3.3-6.5l3.2-4.1l3.2-1.4l3.2 .5l3.2 3.3l3.2 5.7l3.2-.9l3.2-9l3.2-7.8l3.2-4.9l3.2 1.7l3.3 8.1l3.2 14.9l3.2 11l3.2 1.5l9.6 1.4l3.2 .3l3.2-3.8l3.2-13.8l3.3-10.8l3.2-4.7l3.2 1.6l3.2 7.7l6.4 17.3l3.2-3.1l3.2-3.6l3.2-1l3.2 1.3l3.2 3.7l3.3 6.1l3.2 7.9l3.2 2.3l12.8 1.8l3.2-1.4l3.2-9.4l3.2-4l3.2-.1l3.3 .5l3.2 .6l3.2 5.1l3.2 7.3l3.2 1.1l6.4 .8l1.8-2.5l-3.2-.4l-3.2-1.1l-3.2-6.5l-3.3-5.6l-3.2-.9l-3.2-.4l-3.2-.2l-3.2 2.5l-3.2 9l-3.2 3.2l-6.4-.7l-6.4-.9l-3.3-1.3l-6.4-13.4l-3.2-4.4l-3.2-1.9l-3.2 .2l-3.2 2.9l-3.2 5.6l-3.2 .6l-3.2-10.8l-3.2-8.6l-3.3-7.5l-3.2-1.4l-3.2 4.6l-3.2 10.5l-3.2 13.7l-3.2 3.6l-12.8-1.6l-3.3-1.5l-3.2-10.9l-3.2-14.6l-3.2-8l-3.2-1.7l-3.2 4.7l-3.2 7.6l-3.2 9.4l-3.2 4.9l-3.2-6.5l-3.2-5.1l-3.3-2.4l-3.2 0l-3.2 2.2l-3.2 4.7l-3.2 6.9l-3.2 2.6l-6.4-.7l-6.4-1l-3.2-1.9l-3.3-9l-3.2-6.2l-3.2-1.1l-6.4-.8l-3.2 2.3l-3.2 7l-3.2 1.5z" fill="url(#p41)"/>
<path d="M956.6 67l3.2 .4l3.2 .1l3.2-5l3.2-5.6l3.2 0l3.2 .4l3.2 .9l3.2 4.3l3.2 10.5l3.3 2.8l9.6 1.4l3.2 .3l3.2-1.8l3.2-7.1l3.2-5.1l3.2-2.6l3.2-.2l3.2 2.1l3.3 4.4l3.2 .3l6.4-15.3l3.2-5l3.2 1.5l3.2 8.2l3.2 15.1l3.2 11.1l3.2 1.6l9.7 1.3l3.2 .3l3.2-3.8l3.2-14l3.2-10.9l3.2-4.7l3.2 1.7l6.4 16.2l3.3 6l3.2-2.1l3.2-2.6l3.2 .1l3.2 2.1l3.2 4.8l3.2 7.4l3.2 6l3.2 1l9.7 1.4l3.2 .1l3.2-4.9l3.2-8.8l3.2-1.3l6.4 .8l3.2 2.2l3.2 8.2l3.2 3.2l9.7 1.3l1.7-2.5l-6.4-.9l-3.2-3l-3.2-7.8l-3.2-2.8l-6.4-.8l-3.2 .6l-6.5 13.7l-3.2 .4l-9.6-1.3l-3.2-.7l-3.2-4l-3.2-7.8l-3.2-5.4l-3.2-2.9l-3.2-.7l-3.3 1.8l-3.2 4.4l-3.2 2.5l-3.2-9.9l-3.2-8.6l-3.2-7.6l-3.2-1.5l-3.2 4.6l-3.2 10.7l-3.2 13.8l-3.2 3.7l-9.7-1.2l-3.2-.5l-3.2-1.5l-3.2-10.9l-3.2-14.8l-3.2-8.1l-3.2-1.7l-3.2 4.8l-3.3 7.8l-3.2 9.2l-3.2 2.7l-3.2-6.4l-3.2-4l-3.2-1.3l-3.2 .9l-3.2 3.3l-3.2 5.7l-3.2 6.1l-3.2 .7l-9.7-1.3l-3.2-.7l-3.2-4.7l-3.2-9.8l-3.2-3l-3.2-.7l-3.2-.4l-3.2 .4l-3.2 5.7l-3.3 4.6l-3.2-.1z" fill="url(#p40)"/>
<path d="M955.5 68.5l6.4 .8l3.2-1.2l3.3-7.4l3.2-2.3l6.4 1l3.2 1.9l3.2 9.2l3.2 6.5l3.2 .9l9.6 1.2l3.3-.2l3.2-5.6l3.2-6.4l3.2-3.7l3.2-1l3.2 1l3.2 3.3l3.2-.4l3.2-4.8l3.2-7.7l3.3-5.1l3.2 1.4l3.2 8.2l3.2 15.2l3.2 11.3l3.2 1.6l9.6 1.4l3.2 .2l3.2-3.9l3.3-14.1l3.2-11l3.2-4.6l3.2 1.8l3.2 7.9l3.2 7l3.2 4.3l3.2-.6l3.2-1.4l3.2 .9l3.2 3.1l3.3 5.9l3.2 8.3l3.2 3.1l9.6 1.5l3.2 .4l3.2-1l3.2-8.8l3.2-5l3.3-.2l3.2 .4l3.2 .8l6.4 12.4l3.2 .9l9.6 1.4l1.8-2.6l-6.4-.9l-3.2-.9l-6.4-12.1l-3.3-1.1l-3.2-.4l-3.2-.1l-3.2 3.2l-3.2 9.2l-3.2 2.5l-6.4-.8l-6.4-.9l-3.3-2l-3.2-7.3l-3.2-6.4l-3.2-4.1l-3.2-1.5l-3.2 .7l-3.2 3.3l-3.2 2.8l-3.2-7.9l-3.2-8.5l-3.2-7.8l-3.3-1.6l-3.2 4.7l-3.2 10.8l-3.2 13.9l-3.2 3.7l-9.6-1.1l-3.2-.5l-3.2-1.5l-3.2-11.1l-3.3-14.9l-3.2-8.2l-3.2-1.6l-3.2 4.9l-3.2 7.9l-3.2 8.5l-3.2 .5l-3.2-5.3l-3.2-2.9l-3.2-.3l-3.3 1.7l-3.2 4.4l-3.2 6.7l-3.2 3.8l-3.2-.1l-9.6-1.4l-3.2-1.5l-3.2-8.4l-3.2-7.1l-3.3-1.4l-3.2-.5l-3.2-.3l-3.2 2.9l-3.2 6.8l-3.2 1.2l-3.2-.5z" fill="url(#p39)"/>
<path d="M954.5 70l6.4 .8l3.2 .3l3.2-4.3l3.2-6.4l3.2-.1l3.2 .4l3.2 1l3.3 5.3l3.2 10.2l3.2 2.2l9.6 1.3l3.2 .3l3.2-2.9l3.2-7.3l3.2-4.8l3.3-2l3.2 .2l3.2 2.1l3.2-1.7l3.2-2.8l3.2-6.7l3.2-5.3l3.2 1.4l3.2 8.1l3.2 15.3l3.2 11.4l3.3 1.7l9.6 1.4l3.2 .2l3.2-4l3.2-14.3l3.2-11l3.2-4.6l3.2 2l3.2 7.8l6.5 9.4l3.2 .3l3.2-.3l3.2 1.7l3.2 4.3l6.4 14.2l3.2 1.4l9.7 1.4l3.2 .2l3.2-4l3.2-9.4l3.2-1.8l3.2 .2l3.2 .5l3.2 2.6l3.2 8.4l3.2 2.6l9.7 1.4l3.2 .6l1.8-2.7l-9.7-1.4l-3.2-2.5l-3.2-7.6l-3.2-3.4l-3.2-.6l-3.2-.3l-3.2 1l-3.2 7.7l-3.2 6l-3.3 .2l-9.6-1.3l-3.2-.9l-3.2-5.1l-3.2-7.7l-3.2-5.1l-3.2-2.4l-3.2-.3l-3.2 2.2l-3.3 1.6l-3.2-5.5l-6.4-15.8l-3.2-1.7l-3.2 4.7l-3.2 10.9l-3.2 14l-3.2 3.9l-6.5-.7l-6.4-1l-3.2-1.5l-3.2-11.2l-3.2-15.1l-3.2-8.2l-3.2-1.5l-3.2 5l-3.2 7.9l-3.2 6.6l-3.3-.1l-3.2-4.1l-3.2-1.8l-3.2 .5l-3.2 2.9l-3.2 5.5l-3.2 6.7l-3.2 1.3l-9.7-1.2l-3.2-.7l-3.2-3.8l-3.2-10.2l-3.2-3.6l-3.2-.7l-3.2-.5l-3.2 .8l-3.2 6.1l-3.2 3.9l-3.2-.2l-3.3-.5z" fill="url(#p38)"/>
<path d="M953.4 71.5l9.7 1.2l3.2-.8l3.2-7.3l3.2-2.8l3.2 .4l3.2 .6l3.2 2.4l3.2 9.9l3.2 5.6l3.2 .7l9.7 1.3l3.2-.8l3.2-6.7l3.2-5.7l3.2-3.3l3.2-.6l3.2 .9l6.4-5.6l3.3-4.5l3.2-5.2l3.2 1.2l3.2 8.1l3.2 15.3l3.2 11.6l3.2 1.9l9.6 1.4l3.2 .1l3.3-4.1l3.2-14.5l3.2-11l3.2-4.5l3.2 2.1l3.2 7.1l3.2 2.3l3.2 6.1l3.2 1.5l3.2 .6l3.3 2.7l3.2 5.4l3.2 8.1l3.2 4.5l3.2 .7l9.6 1.3l3.2-.6l3.2-8.1l3.2-6.1l3.3-.4l3.2 .4l3.2 .9l3.2 6.6l3.2 5.8l3.2 .8l9.6 1.5l3.2 1.1l1.8-3.2l-9.6-1.5l-3.2-.7l-3.2-5.3l-3.2-6.7l-3.3-1.4l-3.2-.4l-3.2 .1l-3.2 4l-3.2 9l-3.2 1.9l-9.6-1.2l-3.2-.6l-3.2-2.6l-3.3-7.9l-3.2-6.3l-3.2-3.5l-3.2-1.1l-3.2 1.1l-3.2 .3l-3.2-4.4l-3.2-6.3l-3.2-7.9l-3.2-1.9l-3.2 4.6l-3.3 11.1l-3.2 14.2l-3.2 3.9l-6.4-.7l-6.4-.9l-3.2-1.7l-3.2-11.3l-3.2-15.2l-3.3-8.2l-3.2-1.4l-3.2 5.1l-3.2 7.5l-3.2 4.1l-3.2 .9l-3.2-3l-3.2-.7l-3.2 1.3l-3.2 4l-3.2 6.6l-3.3 4.9l-3.2 0l-9.6-1.3l-3.2-1.3l-6.4-15.6l-3.2-1.6l-3.2-.6l-3.3-.2l-3.2 3.6l-3.2 6.4l-3.2 .8l-6.4-.9z" fill="url(#p37)"/>
<path d="M952.4 73.2l3.2 .2l6.4 .8l3.2 .3l3.2-3.7l3.2-6.7l3.3-.4l3.2 .5l3.2 1.1l3.2 6.4l3.2 9.5l3.2 1.8l9.6 1.3l3.2 .1l3.2-4.3l3.3-6.8l3.2-4.4l3.2-1.6l3.2-.1l6.4-7.9l3.2-2l3.2-4.6l3.2 1l3.2 8l3.2 15.3l3.3 11.8l3.2 1.9l6.4 1.1l3.2 .4l3.2 0l3.2-4.3l3.2-14.5l3.2-11l3.2-4.3l3.3 2.1l3.2 5l3.2 2l3.2 7.1l3.2 2.8l3.2 1.4l3.2 3.9l3.2 6.4l3.2 7.9l3.2 2.1l9.7 1.5l3.2 .2l3.2-3.1l3.2-9.6l3.2-2.6l3.2 .2l3.2 .4l3.2 3.1l3.2 8.4l3.2 2.1l9.7 1.4l3.2 .9l3.2 1.8l1.8-4l-3.2-.7l-9.7-1.4l-3.2-2.1l-3.2-7.6l-3.2-3.8l-3.2-.6l-3.2-.3l-3.2 1.4l-3.2 8.4l-3.2 5.2l-3.3 0l-9.6-1.3l-3.2-1.2l-3.2-6.4l-3.2-7.3l-3.2-4.7l-3.2-1.9l-3.2 0l-3.2-.7l-3.3-5.2l-3.2-3.9l-3.2-7.6l-3.2-2l-3.2 4.5l-3.2 11.1l-3.2 14.3l-3.2 4.1l-3.2-.2l-9.7-1.4l-3.2-1.7l-3.2-11.5l-3.2-15.3l-3.2-8.2l-3.2-1.2l-3.2 5.2l-3.2 6l-3.2 2.8l-3.2 2.1l-3.3-1.8l-3.2 .1l-3.2 2.4l-3.2 5l-3.2 7.1l-3.2 2.3l-9.6-1.2l-3.2-.5l-3.2-3.3l-3.3-10l-3.2-4.4l-3.2-.9l-3.2-.5l-3.2 1l-3.2 6.6l-3.2 3.3l-9.6-1.2z" fill="url(#p36)"/>
<path d="M951.3 75.2l3.3-.2l9.6 1.2l3.2-.6l3.2-7l3.2-3.3l3.2 .3l3.2 .7l3.2 3l3.2 10.5l3.3 4.6l3.2 .6l9.6 1.2l3.2-1.7l3.2-7.1l3.2-5.3l3.2-2.8l3.2-.8l6.5-10.4l3.2-1.3l3.2-2.7l3.2 1l3.2 7.8l3.2 15.3l3.2 11.9l3.2 2.1l3.2 .7l6.5 .8l3.2-.1l3.2-4.4l3.2-14.6l3.2-11l3.2-4.1l3.2 1.6l3.2 2.4l3.2 3.3l3.2 8.2l3.2 3.7l3.3 2.4l3.2 5l3.2 7.6l3.2 5.8l3.2 .9l9.6 1.4l3.2-.3l6.4-14.3l3.3-.7l3.2 .3l3.2 1.1l3.2 7l3.2 5.4l3.2 .6l6.4 .9l3.2 .7l3.2 1.6l3.3 2.2l1.7-4.6l-3.2-1.3l-6.4-1.1l-3.2-.4l-3.2-.7l-3.2-4.8l-3.2-7.1l-3.2-1.5l-3.3-.4l-3.2 .2l-3.2 5l-3.2 8.6l-3.2 1.3l-9.6-1.2l-3.2-.7l-3.2-3.8l-3.3-8l-3.2-5.7l-3.2-3.1l-3.2-.9l-3.2-1.8l-3.2-6.4l-3.2-2.2l-3.2-6.5l-3.2-2l-3.2 4.3l-3.2 11.1l-3.3 14.4l-3.2 4.2l-3.2-.1l-6.4-.8l-3.2-.6l-3.2-1.9l-3.2-11.6l-3.2-15.4l-3.2-8l-3.2-1.1l-3.3 5l-3.2 3.7l-6.4 6.3l-3.2-.6l-3.2 .9l-3.2 3.6l-6.4 12l-3.2 .6l-9.7-1.3l-3.2-1l-3.2-6.8l-3.2-8.8l-3.2-2.1l-3.2-.6l-3.2-.1l-3.2 4l-3.2 6.2l-3.3 .5l-9.6-1.2z" fill="url(#p35)"/>
<path d="M950.3 77.8l3.2-1l3.2 0l9.6 1.2l3.3-3.2l3.2-7l3.2-.7l3.2 .5l3.2 1.4l3.2 7.3l3.2 8.9l3.2 1.4l9.6 1.3l3.3-.3l3.2-5.5l3.2-6.4l3.2-3.9l3.2-1.7l6.4-12.5l3.2-2.2l3.2-.2l3.2 1.3l3.3 7.7l3.2 15.2l3.2 11.9l3.2 2.3l3.2 .8l3.2 .5l3.2 .3l3.2-.2l3.2-4.6l3.2-14.6l3.2-10.8l3.3-4.1l3.2 .1l3.2 1.3l3.2 4.5l3.2 9.4l3.2 4.5l3.2 3.4l3.2 6l3.2 8.2l3.2 3.1l6.5 1.1l6.4 .8l3.2-2.3l3.2-9.8l3.2-3.3l3.2 0l3.2 .5l3.2 3.6l3.2 8.1l3.3 1.9l9.6 1.4l3.2 1.2l3.2 2.2l3.2 1.8l1.8-4.2l-3.2-2l-3.2-1.1l-9.7-1.4l-3.2-1.7l-3.2-7.5l-3.2-4.2l-3.2-.7l-3.2-.2l-3.2 2l-3.2 8.9l-3.2 4.3l-3.2-.1l-9.7-1.4l-3.2-1.8l-3.2-7.2l-3.2-6.8l-3.2-4.2l-3.2-1.7l-3.2-3.1l-3.2-7.4l-3.3-2.4l-3.2-4.2l-3.2-2l-3.2 4.3l-3.2 11l-3.2 14.5l-3.2 4.4l-3.2 0l-6.4-.9l-3.2-.6l-3.3-2l-3.2-11.8l-3.2-15.4l-3.2-7.9l-3.2-1l-3.2 4l-3.2 1.9l-6.4 8.6l-3.2 .3l-3.2 2l-3.3 4.6l-3.2 7l-3.2 3.4l-3.2-.1l-9.6-1.4l-3.2-2.6l-3.2-9.8l-3.2-5.4l-3.3-1l-3.2-.4l-3.2 1.3l-3.2 6.8l-3.2 2.7l-9.6-1.1l-3.2-.1z" fill="url(#p34)"/>
<path d="M949.3 80.5l3.2-1.4l3.2-.6l3.2 .2l6.4 .9l3.2-.4l3.2-6.5l3.2-4l3.2 .3l3.2 .8l3.3 3.7l3.2 10.8l3.2 3.7l6.4 1l6.4 .7l3.2-2.8l3.2-7.3l3.2-4.8l3.3-2.8l6.4-14.4l3.2-3.5l3.2 1.4l3.2 2.5l3.2 7.6l3.2 15.1l3.2 12l3.2 2.3l3.2 .9l3.3 .6l3.2 .2l3.2-.3l3.2-4.7l3.2-14.6l3.2-10.7l3.2-4.2l3.2-2.4l3.2 2l3.2 5.5l3.2 10.4l3.3 5.3l3.2 4.7l6.4 14l3.2 1.4l9.6 1.4l3.2-.1l3.2-6.2l3.3-8.1l3.2-1l3.2 .3l3.2 1.2l3.2 7.4l3.2 4.8l9.6 1.6l3.2 .9l6.5 4.1l3.2 .7l1.7-3.1l-3.2-2.1l-3.2-1.7l-3.2-.9l-9.6-1.5l-3.2-4.3l-3.2-7.4l-3.2-1.8l-3.3-.4l-3.2 .5l-3.2 5.9l-3.2 8.1l-3.2 .8l-9.6-1.3l-3.2-.8l-3.2-5l-3.2-7.8l-3.3-5.3l-3.2-2.7l-3.2-4l-3.2-8.5l-3.2-3.6l-3.2-2.1l-3.2-1.2l-3.2 4.1l-3.2 11l-3.2 14.6l-3.3 4.4l-3.2 .2l-6.4-.8l-3.2-.8l-3.2-2.2l-3.2-11.8l-3.2-15.3l-3.2-7.8l-3.2-1.1l-3.2 2l-3.3 1.5l-6.4 11.1l-3.2 1.1l-3.2 3.1l-3.2 5.6l-3.2 6.7l-3.2 1.2l-9.6-1.2l-3.3-.9l-3.2-5.8l-3.2-9.6l-3.2-2.5l-3.2-.6l-3.2-.1l-3.2 4.5l-3.2 5.8l-3.2 .3l-6.5-.9l-3.2-.2l-3.2 .5z" fill="url(#p33)"/>
<path d="M948.2 82.8l3.2-.9l3.2-1.3l3.2-.3l9.7 1.1l3.2-2.7l3.2-7.3l3.2-.9l3.2 .6l3.2 1.6l3.2 8.5l3.2 7.8l3.2 1.1l9.7 1.3l3.2-.8l3.2-6.5l3.2-5.8l3.2-3.9l3.2-7.8l3.2-8.6l3.2-4.5l3.2 1l3.3 4.9l3.2 7.7l3.2 15.1l3.2 11.9l3.2 2.4l3.2 1l3.2 .5l3.2 .2l3.2-.3l3.2-4.7l3.2-14.6l3.3-10.7l3.2-5.2l3.2-4.3l3.2 3.4l3.2 6.5l3.2 11.3l3.2 6.4l3.2 5.6l3.2 8l3.2 4.4l3.3 .7l9.6 1.3l3.2-1.6l3.2-9.7l3.2-4.2l3.2-.1l3.2 .5l3.2 4.1l3.2 7.9l3.3 1.6l6.4 .9l3.2 .7l3.2 1.6l3.2 2.3l3.2 1.2l3.2-.4l1.8-1.7l-3.2-1.5l-3.2-2.2l-3.2-1.4l-6.5-1.1l-3.2-.5l-3.2-1.5l-3.2-7.1l-3.2-4.7l-3.2-.8l-3.2-.1l-3.2 2.6l-3.2 9.4l-3.2 3.4l-3.2-.2l-9.7-1.5l-3.2-2.6l-3.2-7.8l-3.2-6.3l-3.2-3.8l-3.2-4.8l-3.2-9.7l-3.2-4.7l-3.2-1.6l-3.3 .7l-3.2 4.1l-3.2 10.8l-3.2 14.6l-3.2 4.6l-3.2 .3l-3.2-.3l-3.2-.5l-3.2-.9l-3.2-2.3l-3.3-11.9l-3.2-15.2l-3.2-7.7l-3.2-1.6l-3.2-.3l-3.2 2.6l-6.4 13.1l-3.2 2l-3.2 4.2l-3.2 6.6l-3.3 4.7l-3.2 .1l-9.6-1.3l-3.2-2.1l-3.2-9.4l-3.2-6.2l-3.2-1.3l-3.2-.4l-3.2 1.6l-3.3 6.9l-3.2 2.4l-9.6-1.2l-3.2 .2l-3.2 1.1z" fill="url(#p32)"/>
<path d="M947.2 84.2l3.2 .3l3.2-1.3l3.2-1l3.2 0l6.4 .8l3.2-.2l3.2-6.1l3.3-4.5l3.2 .3l3.2 .9l3.2 4.4l3.2 10.8l3.2 3l9.6 1.4l3.2 .1l3.2-3.9l3.3-7l3.2-4.9l3.2-8.7l3.2-9.6l3.2-5.6l3.2-.4l3.2 7.2l3.2 8.6l3.2 15.1l3.2 11.9l3.2 2.3l3.3 1l3.2 .5l3.2 .2l3.2-.3l3.2-4.7l3.2-14.4l3.2-10.9l3.2-7.6l3.2-4.2l3.2 4.4l3.3 7.7l3.2 12.1l3.2 7.6l3.2 6.6l3.2 7.7l3.2 1.9l9.6 1.5l3.2 .1l3.2-5.3l3.3-9l3.2-1.4l3.2 .3l3.2 1.4l3.2 7.9l3.2 4.2l9.6 1.6l3.2 1.3l3.2 2.2l3.3 1.7l3.2-.1l3.2-1l1.8-.8l-3.3-.4l-6.4-3.9l-3.2-1.1l-9.6-1.6l-3.2-3.8l-3.2-7.6l-3.2-2.1l-3.3-.3l-3.2 .7l-6.4 14.2l-3.2 .6l-9.6-1.4l-3.2-1.2l-3.2-6.2l-3.2-7.4l-3.3-4.9l-3.2-5.6l-3.2-10.7l-3.2-5.8l-3.2-2.4l-3.2 2.9l-3.2 4.6l-3.2 10.7l-3.2 14.5l-3.2 4.7l-3.2 .4l-3.3-.3l-3.2-.5l-3.2-.9l-3.2-2.4l-3.2-11.9l-3.2-15.2l-3.2-7.6l-3.2-3.2l-3.2-1.3l-3.2 3.8l-3.3 7.8l-3.2 7.2l-3.2 3.1l-3.2 5.1l-3.2 7.1l-3.2 2.2l-6.4-.7l-3.2-.4l-3.2-.8l-3.2-4.9l-3.3-10.1l-3.2-3.1l-3.2-.7l-3.2 0l-3.2 5l-3.2 5.4l-3.2 .1l-6.4-.8l-3.2-.1l-3.2 .9l-3.3 1.2z" fill="url(#p31)"/>
<path d="M946.1 84.8l3.2 1.4l3.2-.2l3.3-1.4l3.2-.7l3.2 .2l6.4 .8l3.2-2.2l3.2-7.5l3.2-1.3l3.2 .6l3.2 2l3.2 9.4l3.3 6.9l3.2 .9l9.6 1.2l3.2-1.3l3.2-7l3.2-5.9l6.4-20.1l3.2-6.8l3.3-1.5l3.2 7.6l3.2 10.8l3.2 15.2l3.2 11.7l3.2 2.2l3.2 .9l3.2 .5l3.2 .2l3.2-.2l3.3-4.5l3.2-14.4l3.2-11.5l3.2-10.2l3.2-2.9l3.2 5.4l3.2 8.7l3.2 13l3.2 8.5l3.2 7.9l3.2 5.3l3.3 .9l9.6 1.3l3.2-1.1l3.2-9.1l3.2-5.3l3.2-.2l3.2 .6l3.2 4.5l3.2 7.6l3.3 1.3l6.4 1l3.2 1l6.4 4l3.2 .4l6.4-1.6l1.8-.9l-3.2 .6l-3.2-.8l-3.2-2.2l-3.2-1.7l-3.2-.9l-6.5-1l-3.2-1.2l-3.2-6.8l-3.2-5.2l-3.2-.8l-3.2 0l-3.2 3.3l-3.2 9.5l-3.2 2.7l-6.5-.7l-3.2-.5l-3.2-.7l-3.2-3.6l-3.2-8l-3.2-5.9l-3.2-6.7l-3.2-11.5l-3.2-6.9l-3.2-3.7l-3.2 4.3l-3.3 5.9l-3.2 10.7l-3.2 14.6l-3.2 4.6l-3.2 .4l-3.2-.2l-3.2-.6l-3.2-.9l-3.2-2.4l-3.2-11.9l-3.2-15.1l-3.3-8l-3.2-5.6l-3.2-.5l-3.2 4.8l-3.2 8.9l-3.2 8l-3.2 4.2l-6.4 12l-3.2 .5l-9.7-1.3l-3.2-1.7l-3.2-8.7l-3.2-7.3l-3.2-1.4l-3.2-.5l-3.2 2l-3.2 6.9l-3.2 2l-6.5-.8l-3.2-.2l-3.2 .5l-3.2 1.3l-3.2 .5z" fill="url(#p30)"/>
<path d="M945.1 85.2l3.2 1.8l3.2 1.1l3.2-.7l3.2-1.4l3.2-.3l6.4 .7l3.3 0l3.2-5.7l3.2-4.9l3.2 .1l3.2 1l3.2 5.5l3.2 10.4l3.2 2.4l9.6 1.4l3.3-.1l3.2-5.1l3.2-6.9l6.4-22l3.2-7.7l3.2-2.4l3.2 6.5l3.2 13.4l3.2 15.7l3.3 11.6l3.2 2l3.2 .7l6.4 .8l3.2-.1l3.2-4.3l3.2-14.4l3.2-13.3l3.2-10.9l3.2-2l3.3 6.6l3.2 9.4l3.2 14l3.2 9.4l3.2 8.2l3.2 2.7l9.6 1.5l3.2 .2l3.2-4.3l3.3-9.6l3.2-1.9l3.2 .2l3.2 1.7l3.2 8.1l3.2 3.7l6.4 1l3.2 .7l3.2 1.7l3.3 2.2l3.2 1l6.4-1.5l3.2-.1l1.8-1.7l-3.2 1l-3.3 .3l-3.2-1.3l-3.2-2.2l-3.2-1.5l-3.2-.7l-6.4-1l-3.2-3.4l-3.2-7.7l-3.2-2.4l-3.2-.3l-3.3 1l-3.2 7.8l-3.2 6.4l-3.2 .4l-9.6-1.5l-3.2-1.6l-6.4-14l-3.3-7.8l-3.2-12.4l-3.2-8l-3.2-4.7l-3.2 3.8l-3.2 8.4l-3.2 11l-3.2 14.5l-3.2 4.6l-3.2 .3l-3.2-.2l-3.3-.6l-3.2-.9l-3.2-2.3l-3.2-11.8l-3.2-15.1l-3.2-9.3l-3.2-7.3l-3.2 .7l-3.2 6l-3.2 9.8l-3.2 9l-3.3 5.2l-3.2 7l-3.2 3.2l-3.2-.2l-6.4-.9l-3.2-.6l-3.2-4.2l-3.2-10.4l-3.2-3.7l-3.3-.8l-3.2 .2l-3.2 5.4l-3.2 4.9l-3.2 0l-6.4-.7l-3.2 .2l-6.4 2.1l-3.2-.6z" fill="url(#p29)"/>
<path d="M944 86.1l3.2 1.4l3.3 1.7l3.2 .6l6.4-2.2l3.2-.1l6.4 .8l3.2-1.8l3.2-7.4l3.2-1.7l3.2 .6l3.3 2.6l3.2 10l3.2 5.9l3.2 .8l6.4 .9l3.2 .3l3.2-2.4l3.2-7.6l6.5-23.7l3.2-8.5l3.2-3.5l3.2 5.5l3.2 14.6l3.2 17.1l3.2 11.5l3.2 1.8l6.4 1.1l3.2 .3l3.3 .1l3.2-4.1l3.2-14.6l3.2-15.9l3.2-10.1l3.2-1l3.2 7.5l3.2 10.1l3.2 15.1l3.2 10.5l3.2 6.6l3.3 1.2l9.6 1.3l3.2-.7l3.2-8.4l3.2-6.3l3.2-.4l3.2 .6l3.2 5.1l3.3 7.2l3.2 1.1l6.4 1l3.2 1.3l3.2 2.2l3.2 1.5l3.2-.3l3.2-.9l3.2-.2l3.2 .2l1.8-2.2l-3.2 .5l-3.2 .9l-3.2-.1l-3.2-1.8l-3.2-2l-3.2-1.2l-6.5-1l-3.2-1.1l-3.2-6.4l-3.2-5.6l-3.2-1l-3.2 .1l-3.2 4.3l-3.2 9.2l-3.2 2.1l-9.7-1.2l-3.2-.8l-3.2-4.6l-3.2-7.9l-3.2-8.8l-3.2-13.3l-3.2-8.9l-3.2-5.8l-3.2 2.7l-3.2 10.3l-3.3 12.1l-3.2 14.4l-3.2 4.5l-3.2 .1l-3.2-.2l-3.2-.5l-3.2-.9l-3.2-2.1l-3.2-11.7l-3.2-15.3l-3.2-11.6l-3.3-7.3l-3.2 1.8l-3.2 7.1l-6.4 20.6l-6.4 12.7l-3.2 .9l-9.6-1.2l-3.3-1.4l-6.4-16.1l-3.2-1.8l-3.2-.4l-3.2 2.4l-3.2 6.9l-3.2 1.5l-6.4-.7l-3.3-.1l-3.2 .9l-3.2 1.2l-3.2-.1l-3.2-1.6z" fill="url(#p28)"/>
<path d="M943 87.3l3.2 .9l6.4 3.1l3.2 0l3.2-1.3l3.2-.7l3.3 .1l3.2 .5l3.2 0l6.4-10.6l3.2 .1l3.2 1.2l3.2 6.5l3.2 9.9l3.2 1.8l9.7 1.3l3.2-.5l3.2-6.3l6.4-25.9l3.2-9.2l3.2-4.6l3.2 4.5l3.2 13.9l3.3 19.7l3.2 11.6l3.2 1.7l9.6 1.4l3.2 .2l3.2-4l3.2-15.9l3.2-17.4l3.3-8.8l3.2 0l3.2 8.3l3.2 11.1l3.2 16l3.2 11.4l3.2 3.7l6.4 1.2l6.4 .6l3.3-3.3l3.2-9.9l3.2-2.7l3.2 .1l3.2 2.1l3.2 8.2l3.2 3.3l6.4 1l3.2 1l6.5 3.9l3.2 .1l3.2-.8l3.2-.4l3.2 .2l3.2 .4l1.8-2.6l-3.2 0l-6.5 1.4l-3.2-.6l-6.4-3.8l-3.2-.9l-6.4-1l-3.2-2.9l-3.2-7.8l-3.2-2.8l-3.2-.4l-3.3 1.6l-3.2 8.5l-3.2 5.6l-3.2 .1l-9.6-1.5l-3.2-2.3l-3.2-7.6l-3.2-9.8l-3.2-14.4l-3.3-9.5l-3.2-6.9l-3.2 1.7l-3.2 10.6l-6.4 28.6l-3.2 4.3l-3.2 0l-6.4-.8l-3.3-.7l-3.2-2l-3.2-11.5l-3.2-16.1l-3.2-13.8l-3.2-6.2l-3.2 2.8l-3.2 7.9l-6.4 22.5l-3.2 7.1l-3.3 4.3l-3.2 0l-6.4-.9l-3.2-.6l-3.2-3.4l-3.2-10.3l-3.2-4.6l-3.2-.9l-3.2 .4l-3.2 5.7l-3.3 4.5l-3.2-.1l-3.2-.4l-3.2-.2l-3.2 .5l-3.2 1.3l-3.2 .4l-3.2-1.3l-3.2-1.7z" fill="url(#p27)"/>
<path d="M941.9 88.8l3.3 .6l3.2 1l3.2 1.6l3.2 1.2l3.2-.4l3.2-1.3l3.2-.4l6.4 .7l3.2-1.5l3.3-7.4l3.2-2.1l3.2 .7l3.2 3.1l3.2 10.8l3.2 4.8l3.2 .7l6.4 .8l3.2 .3l3.2-3.6l6.5-28l3.2-10.1l3.2-5.3l3.2 3.4l3.2 12.6l3.2 21.5l3.2 12.5l3.2 1.6l9.7 1.4l3.2 .2l3.2-4l3.2-18.3l3.2-16.9l3.2-7.8l3.2 1.1l3.2 9l3.2 12.2l3.2 17.1l3.3 10.5l3.2 1.6l9.6 1.4l3.2-.4l6.4-14.8l3.2-.7l3.2 .6l3.2 5.7l3.3 6.7l3.2 .9l3.2 .5l3.2 .8l3.2 1.7l3.2 2.1l3.2 .7l6.4-1.3l3.2 .1l6.5 .9l1.7-2.7l-3.2-.3l-3.2 .1l-3.2 .8l-3.2 .4l-3.2-1.1l-3.2-2.1l-3.2-1.5l-3.2-.7l-3.3-.5l-3.2-.9l-6.4-12.1l-3.2-1l-3.2 .3l-3.2 5.2l-3.2 8.9l-3.2 1.5l-9.7-1.4l-3.2-1l-3.2-5.7l-3.2-10.7l-3.2-15.4l-3.2-10.4l-3.2-7.8l-3.2 .7l-3.2 9.7l-3.2 16.4l-3.2 15l-3.3 4.1l-3.2-.2l-6.4-.8l-3.2-.6l-3.2-1.8l-3.2-11.5l-3.2-17.9l-3.2-14.4l-3.2-5.1l-3.3 3.8l-3.2 8.7l-6.4 24.4l-3.2 7.2l-3.2 1.8l-9.6-1.2l-3.2-1.1l-3.2-7.1l-3.3-9l-3.2-2.2l-3.2-.4l-3.2 2.8l-3.2 6.8l-3.2 1.2l-6.4-.7l-3.2 .2l-3.2 1.2l-3.2 .8l-3.3-.9l-3.2-1.7l-3.2-1.3z" fill="url(#p26)"/>
<path d="M940.9 90.4l6.4 1l3.2 1.2l3.2 1.6l3.3 .8l6.4-2l3.2-.1l3.2 .4l3.2 .1l3.2-4.5l3.2-6l3.2-.1l3.2 1.5l3.2 7.5l3.3 9.1l3.2 1.5l9.6 1.3l3.2-1.4l3.2-13.5l3.2-15l3.2-11.1l3.2-6l3.3 2.4l3.2 11.5l3.2 21.3l3.2 14.7l3.2 1.6l9.6 1.3l3.2 .3l3.2-4.7l3.2-20.3l3.3-15.6l3.2-6.7l3.2 1.9l3.2 9.7l3.2 13.2l3.2 18.2l3.2 8l3.2 .9l6.4 .9l3.2 .3l3.3-2.5l3.2-10.2l3.2-3.3l3.2 0l3.2 2.4l3.2 8.3l3.2 2.9l6.4 1.1l3.2 1.3l3.3 2.1l3.2 1.3l6.4-1.1l3.2 0l6.4 .8l3.2 .8l1.8-3l-6.4-.7l-3.2 .2l-3.2 .8l-3.3 .1l-3.2-1.5l-3.2-2.1l-3.2-1.2l-6.4-1l-3.2-2.6l-3.2-7.8l-3.2-3.2l-3.2-.2l-3.3 2.1l-3.2 9.1l-3.2 4.6l-3.2 0l-6.4-1l-3.2-.6l-3.2-3l-3.2-11.2l-3.2-16.3l-3.2-11.5l-3.3-8.4l-3.2-.4l-3.2 8.5l-6.4 33.9l-3.2 4l-3.2-.3l-9.6-1.3l-3.2-1.7l-3.3-11.8l-3.2-20.3l-3.2-13.5l-3.2-4.2l-3.2 4.8l-3.2 9.5l-6.4 26.5l-3.2 5.5l-3.2 .3l-9.7-1.4l-3.2-2.7l-3.2-10.2l-3.2-5.4l-3.2-1.1l-3.2 .6l-3.2 6.1l-3.2 4l-6.5-.6l-3.2 0l-6.4 2l-3.2-.4l-6.4-3l-3.2-.7z" fill="url(#p25)"/>
<path d="M939.9 92.1l6.4 .8l3.2 .6l3.2 1.3l3.2 1.5l3.2 .3l3.2-1.2l3.2-.7l3.2 .1l3.3 .4l3.2-1.1l3.2-7.3l3.2-2.5l3.2 .8l3.2 3.7l3.2 11.1l3.2 3.9l6.4 1.1l3.3 .4l3.2-.4l3.2-11.3l3.2-16.2l3.2-12l3.2-6.7l3.2 1.5l3.2 10.4l3.2 20l3.2 17l3.2 2.2l9.7 1.3l3.2 .2l3.2-6.7l3.2-20.5l3.2-14.4l3.2-5.6l3.2 2.5l3.2 10.8l3.2 14l3.3 18.3l3.2 5.6l6.4 1.1l3.2 .4l3.2-.2l3.2-6.5l3.2-8.3l3.2-1.1l3.2 .8l6.5 12.3l3.2 .9l3.2 .5l3.2 1l3.2 2l3.2 1.7l3.2-.1l3.2-.6l3.2-.1l6.5 .8l3.2 .7l3.2 1.2l1.7-3.6l-6.4-1l-3.2-.2l-3.2 .4l-3.2 .7l-3.2-.4l-6.4-3.7l-3.2-.9l-3.2-.5l-3.3-.8l-3.2-5.6l-3.2-6.5l-3.2-1.1l-3.2 .5l-3.2 6.1l-3.2 8.3l-3.2 1.1l-9.7-1.4l-3.2-1.4l-3.2-9.8l-3.2-17.4l-3.2-12.5l-3.2-9.2l-3.2-1.3l-3.2 7.5l-3.2 16.5l-3.2 18.9l-3.2 4.2l-6.5-.7l-6.4-.9l-3.2-1.6l-3.2-13.2l-3.2-21.4l-3.2-12.3l-3.2-3.1l-3.2 5.5l-3.2 10.4l-6.5 28.1l-3.2 3l-6.4-.7l-3.2-.5l-3.2-.9l-3.2-6.1l-3.2-9.8l-3.2-2.6l-3.3-.4l-3.2 3.2l-3.2 6.6l-3.2 .9l-3.2-.4l-3.2-.1l-3.2 .5l-3.2 1.2l-3.2 .1l-6.4-2.8l-3.3-.9l-3.2-.5z" fill="url(#p24)"/>
<path d="M938.8 94.3l3.2-.1l6.4 .7l3.3 .7l6.4 2.7l3.2-.3l3.2-1.1l3.2-.4l6.4 .5l3.2-3.9l3.2-6.5l3.3-.3l3.2 1.7l6.4 16.8l3.2 1.2l6.4 .9l3.2-.1l3.2-8.6l3.2-16.6l3.2-13l3.3-7.8l3.2 .8l3.2 9.2l6.4 36.6l3.2 3.9l9.6 1.4l3.2-.2l3.2-9.3l3.3-19.3l3.2-13.4l3.2-4.6l3.2 3.3l3.2 11.9l3.2 15.2l3.2 16.3l3.2 4.4l6.4 1l3.3 .3l3.2-1.8l3.2-10l3.2-4.2l3.2-.1l3.2 3l3.2 8.2l3.2 2.3l3.2 .5l3.2 .8l3.2 1.7l3.3 1.9l3.2 .5l3.2-.6l3.2-.3l3.2 .3l3.2 .5l3.2 .7l3.2 1.2l3.2 1.6l1.8-4.3l-3.2-.9l-6.4-1l-3.2-.1l-6.5 1l-3.2-.8l-3.2-2l-3.2-1.6l-3.2-.7l-3.2-.5l-3.2-2.2l-3.2-7.7l-3.2-3.5l-3.2-.3l-3.2 2.7l-3.3 9.6l-3.2 3.7l-3.2-.2l-6.4-.9l-3.2-.7l-3.2-7.3l-3.2-18.3l-3.2-13.4l-3.2-10l-3.3-2.1l-3.2 6.4l-3.2 15.2l-3.2 20.3l-3.2 5.4l-6.4-.7l-6.4-.9l-3.2-1.8l-3.2-15.4l-3.3-20.9l-3.2-11.2l-3.2-2.1l-3.2 6.2l-3.2 11.4l-3.2 15.3l-3.2 12.9l-3.2 1.1l-9.6-1.4l-3.3-2.2l-3.2-9.7l-3.2-6.4l-3.2-1.2l-3.2 .8l-3.2 6.4l-3.2 3.5l-6.4-.6l-3.2 .3l-3.3 1.1l-3.2 .6l-3.2-1l-3.2-1.5l-3.2-1l-6.4-1z" fill="url(#p23)"/>
<path d="M937.8 96.8l3.2-.5l3.2-.2l3.2 .3l3.2 .5l3.2 .9l3.2 1.3l3.2 1l3.3-.7l3.2-1l3.2-.1l3.2 .4l3.2-.6l3.2-6.9l3.2-3.4l3.2 .8l3.2 4.7l3.2 10.9l3.2 3.3l6.5 1l3.2-.1l3.2-7.1l6.4-29l3.2-9l3.2-.1l3.2 8.2l6.4 34.9l3.3 6.3l3.2 .7l6.4 .9l3.2-1.5l3.2-10.6l3.2-18.2l3.2-12.2l3.2-3.8l3.2 4.4l3.3 13l3.2 15.9l3.2 13.3l3.2 4.1l6.4 .9l3.2 0l3.2-5.5l3.2-9.1l3.2-1.5l3.2 .9l3.3 6.9l3.2 5.4l6.4 1.3l3.2 1.3l3.2 2l3.2 1l6.4-.8l3.2 .2l3.2 .5l3.3 .7l3.2 1.2l3.2 1.5l3.2 1.2l1.8-4.1l-3.2-1.3l-3.3-.9l-6.4-.9l-3.2 0l-3.2 .5l-3.2 .2l-3.2-1.3l-3.2-1.9l-3.2-1.3l-6.5-1.3l-3.2-5l-3.2-6.8l-3.2-1.4l-3.2 .7l-6.4 14.7l-3.2 .7l-6.4-.9l-3.2-.6l-3.3-5.2l-3.2-17.7l-3.2-14.4l-3.2-11.1l-3.2-2.7l-3.2 5.2l-3.2 14.2l-3.2 20.1l-3.2 7.5l-3.2-.1l-9.7-1.4l-3.2-2.7l-3.2-17.2l-3.2-19.6l-3.2-10.1l-3.2-1.3l-3.2 7l-3.2 12.4l-3.2 16.3l-3.3 10.5l-3.2 .3l-6.4-.9l-3.2-.8l-3.2-5.2l-3.2-10.3l-3.2-3.2l-3.2-.4l-3.2 3.7l-3.2 6.3l-3.3 .7l-3.2-.4l-3.2 0l-6.4 1.8l-3.2-.6l-3.2-1.5l-3.2-1.1l-3.2-.6l-3.2-.4l-3.3-.1z" fill="url(#p22)"/>
<path d="M936.7 99.2l6.5-1l3.2-.1l3.2 .3l3.2 .6l3.2 .9l3.2 1.3l3.2 .5l3.2-1l3.2-.6l6.4 .4l3.3-3.2l3.2-7l3.2-.5l3.2 2.1l3.2 9.5l3.2 7.2l3.2 1l3.2 .5l3.2-.1l3.2-6.7l3.2-11.7l3.3-15.1l3.2-10.2l3.2-1.3l3.2 7.3l6.4 32.5l3.2 8.2l3.2 1.7l3.2 .5l3.2 .2l3.3-3.6l3.2-10.3l3.2-17.2l3.2-11.2l3.2-3l3.2 5.7l6.4 28.7l3.2 11.7l3.2 3.9l6.5 .9l3.2-1.2l3.2-9.4l3.2-5.4l3.2-.2l3.2 3.5l3.2 8.1l3.2 1.9l3.2 .5l3.2 1l3.2 1.9l3.3 1.4l3.2-.1l3.2-.3l3.2 .1l3.2 .4l3.2 .7l3.2 1.2l3.2 1.5l3.2 1.1l3.2 .5l1.8-3l-6.4-2.8l-3.2-.9l-3.2-.5l-3.2-.3l-3.2 .1l-3.2 .5l-3.3-.2l-6.4-3.5l-3.2-.9l-3.2-.5l-3.2-1.8l-3.2-7.4l-3.2-4.2l-3.2-.2l-3.2 3.4l-3.3 9.7l-3.2 3l-6.4-.7l-3.2-.6l-3.2-4.2l-6.4-30.8l-3.2-12.2l-3.2-3.7l-3.2 4.3l-3.3 13.1l-3.2 19l-3.2 9.6l-3.2 .6l-9.6-1.4l-3.2-4.6l-6.4-36.1l-3.2-8.9l-3.3-.5l-3.2 8.1l-3.2 13.4l-3.2 16l-3.2 8.2l-3.2 .1l-6.4-1l-3.2-1.8l-3.2-9l-3.3-7.4l-3.2-1.4l-3.2 1.2l-3.2 6.6l-3.2 2.9l-6.4-.5l-3.2 .6l-3.2 1l-3.2-.1l-6.5-2.5l-3.2-.7l-3.2-.4l-3.2-.1l-3.2 .2z" fill="url(#p21)"/>
<path d="M935.7 100.9l3.2 .2l6.4-.9l3.2-.1l3.2 .3l3.2 .6l6.5 2.2l3.2 0l3.2-1l3.2-.4l3.2 .3l3.2-.4l3.2-6.5l3.2-3.9l3.2 .9l3.2 5.6l3.3 10.8l3.2 2.5l3.2 .5l3.2 0l3.2-6.6l3.2-10.1l3.2-13.5l3.2-11.7l3.2-2.5l3.2 6.4l3.3 15.4l3.2 14.3l3.2 8.7l3.2 3.6l3.2 .7l3.2-.5l3.2-6l3.2-9l3.2-15.8l3.2-10.3l3.2-1.9l3.3 7l3.2 15.5l6.4 22.4l3.2 4l3.2 .5l3.2 .2l3.2-4.6l3.2-9.7l3.2-2.1l3.2 1l3.3 7.4l3.2 4.8l6.4 1.4l6.4 3.3l3.2 .4l3.2-.4l3.2 0l3.2 .4l3.3 .7l3.2 1.2l3.2 1.4l3.2 1.1l3.2 .5l3.2 .1l1.8-2.1l-3.2-1l-6.5-2.7l-3.2-.8l-3.2-.6l-3.2-.3l-3.2 .2l-3.2 .4l-3.2-.6l-3.2-1.9l-3.2-1.4l-6.4-1.4l-3.3-4.3l-3.2-7.3l-3.2-1.7l-3.2 1.1l-3.2 8l-3.2 6.7l-3.2 .4l-6.4-1l-3.2-4l-3.3-12.8l-3.2-15.3l-3.2-13.6l-3.2-4.8l-3.2 3.6l-3.2 12l-3.2 17.8l-3.2 10.6l-3.2 2.1l-6.4-.8l-3.3-1.1l-3.2-6.9l-6.4-34.1l-3.2-8l-3.2 .5l-3.2 9.3l-6.4 28.4l-3.2 7l-3.2 .1l-3.3-.5l-3.2-.7l-3.2-4.4l-3.2-10.5l-3.2-3.9l-3.2-.4l-3.2 4.4l-3.2 5.8l-3.2 .3l-3.2-.3l-3.3 .3l-3.2 1l-3.2 .3l-6.4-2.3l-3.2-.7l-3.2-.5l-3.2-.1l-3.2 .2l-3.2 .5z" fill="url(#p20)"/>
<path d="M934.6 102.2l3.3 .6l3.2 .2l6.4-.8l3.2-.1l3.2 .4l3.2 .6l3.2 1.1l3.2 .8l3.2-.4l3.2-.9l3.3 0l3.2 .3l3.2-2.7l3.2-7.3l3.2-.7l3.2 2.6l3.2 10.3l3.2 6.1l3.2 .9l3.2-.1l3.3-6.6l3.2-9.6l3.2-10.6l3.2-12.5l3.2-3.9l3.2 5.2l3.2 14.1l3.2 12.6l3.2 7.5l3.2 6.2l3.2 1l3.3-1.9l6.4-14.5l3.2-14.2l3.2-9.2l3.2-.6l3.2 8.8l3.2 13.7l3.2 9.5l3.2 11.2l3.2 4l3.3 .5l3.2-.8l3.2-8.9l3.2-6.3l3.2-.4l3.2 4l3.2 7.8l3.2 1.6l3.2 .7l3.2 1.2l3.3 1.8l3.2 .9l6.4-.3l3.2 .4l3.2 .6l3.2 1.1l3.2 1.4l3.2 1.1l3.2 .5l6.5 .4l1.7-2.1l-3.2-.4l-3.2-.9l-6.4-2.6l-3.2-.8l-3.2-.5l-3.2-.3l-6.5 .5l-3.2-1.1l-3.2-1.9l-3.2-1.1l-3.2-.7l-3.2-1.5l-3.2-7l-3.2-4.8l-3.2-.1l-3.2 4.4l-3.2 9.5l-3.3 2.2l-3.2-.3l-3.2-.5l-3.2-4l-3.2-11.5l-3.2-13.2l-3.2-14.9l-3.2-6.1l-3.2 2.7l-3.2 10.9l-3.3 16.8l-3.2 9.9l-3.2 4.3l-3.2 .1l-3.2-.6l-3.2-2.3l-3.2-8.3l-6.4-31.7l-3.2-7l-3.2 1.6l-3.3 10.6l-3.2 14.7l-3.2 11.2l-3.2 6.7l-3.2 0l-3.2-.5l-3.2-1.4l-6.4-16.6l-3.2-1.8l-3.2 1.6l-3.3 6.8l-3.2 2.4l-3.2-.3l-3.2 0l-6.4 1.5l-3.2-.7l-3.2-1.2l-3.2-.9l-3.2-.5l-3.3-.1l-3.2 .2l-3.2 .5l-3.2 .2z" fill="url(#p19)"/>
<path d="M933.6 103.6l6.4 1.1l3.2 .2l6.4-.8l3.3 0l3.2 .4l3.2 .7l3.2 1l3.2 .5l6.4-1.3l3.2 .2l3.2-.3l3.2-6.1l3.3-4.3l3.2 1l3.2 6.5l3.2 10.3l3.2 2l3.2 0l3.2-6.6l3.2-9.6l3.2-8.8l3.2-11l3.2-5.7l3.3 3.8l3.2 12.9l3.2 10.9l3.2 5.8l3.2 8l3.2 1.7l3.2-4l3.2-6.7l3.2-5.8l3.2-12.7l3.2-8.1l3.3 1.1l6.4 20.7l3.2 9.1l3.2 11.2l3.2 3.9l3.2 .3l3.2-3.5l3.2-10.3l3.2-2.7l3.3 1.2l3.2 7.8l3.2 4.2l3.2 .6l3.2 1l3.2 1.7l3.2 1.2l6.4 0l3.2 .3l3.2 .6l3.3 1.1l3.2 1.3l3.2 1.1l3.2 .5l6.4 .6l3.2 .6l1.8-2.7l-3.2-.2l-3.2-.4l-3.2-.9l-6.5-2.5l-3.2-.8l-3.2-.5l-3.2-.1l-3.2 .2l-3.2-.2l-6.4-3.1l-3.2-.9l-3.2-.6l-3.3-3.8l-3.2-7.6l-3.2-1.9l-3.2 1.6l-3.2 8.7l-3.2 5.8l-3.2 .2l-3.2-.5l-3.2-4l-6.4-21.9l-3.3-14.9l-3.2-7.6l-3.2 1.5l-3.2 10l-3.2 15.3l-3.2 8.5l-3.2 6.3l-3.2 1l-3.2-.8l-3.2-4.4l-3.3-8.3l-3.2-13.8l-3.2-15l-3.2-6.1l-3.2 3l-6.4 24.5l-3.2 9.9l-3.2 6.6l-3.2 .1l-3.2-.6l-3.3-3.6l-3.2-10.7l-3.2-4.7l-3.2-.4l-3.2 4.9l-3.2 5.4l-3.2 .2l-3.2-.2l-3.2 .5l-3.2 .8l-3.2-.2l-3.3-1.1l-3.2-.9l-3.2-.6l-3.2-.2l-3.2 .2l-3.2 .5l-3.2 .2l-3.2-.3z" fill="url(#p18)"/>
<path d="M932.6 105.3l6.4 .8l3.2 .5l3.2 .1l6.4-.7l3.2 0l3.2 .5l6.5 1.7l3.2 0l3.2-.8l3.2-.2l3.2 .2l3.2-2.1l3.2-7.5l3.2-1l3.2 3.1l3.2 11l3.2 5.1l3.3 .3l3.2-6.6l3.2-9.6l6.4-16.4l3.2-7.2l3.2 2.3l3.2 11.7l3.2 9.6l3.2 4.1l3.2 8.1l3.3 2.8l3.2-5.9l3.2-5.1l3.2-4.4l3.2-11.6l3.2-6.6l3.2 3.3l9.6 26.4l3.3 11.3l3.2 3.9l3.2-.4l6.4-15.3l3.2-.7l3.2 4.5l3.2 7.6l3.2 1.3l3.2 .7l6.5 3l3.2 .4l3.2-.1l3.2 .3l3.2 .6l3.2 1l3.2 1.3l3.2 1.1l3.2 .6l6.4 .8l6.5 1.4l1.7-3.3l-9.6-1.1l-3.2-.9l-6.4-2.4l-3.2-.8l-3.2-.5l-3.2 0l-3.3 .2l-3.2-.6l-3.2-1.7l-3.2-1.4l-3.2-.7l-3.2-1.3l-3.2-6.8l-3.2-5.1l-3.2 0l-3.2 5.2l-3.2 9.3l-3.3 1.6l-3.2-.5l-3.2-3.9l-3.2-11.2l-3.2-9.4l-3.2-12.8l-3.2-9.2l-3.2 .1l-3.2 8.9l-3.2 13.7l-6.5 14l-3.2 2.5l-3.2-1.2l-6.4-13.7l-3.2-12.1l-3.2-13.8l-3.2-4.8l-3.2 4.4l-3.2 12.2l-6.5 19.6l-3.2 6.6l-3.2 0l-3.2-1.2l-3.2-7.3l-3.2-9.2l-3.2-2.1l-3.2 1.8l-3.2 6.9l-3.2 1.9l-3.3-.2l-3.2 .2l-3.2 .8l-3.2 .2l-6.4-1.9l-3.2-.6l-3.2-.2l-3.2 .2l-3.2 .4l-3.2 .2l-3.3-.3l-3.2-.6z" fill="url(#p17)"/>
<path d="M931.5 107.5l6.4 .3l6.5 .8l3.2 .1l6.4-.8l3.2 .1l3.2 .5l6.4 1.5l3.2-.4l3.2-.6l6.5 0l3.2-5.7l3.2-4.9l3.2 1.2l3.2 7.6l3.2 9.5l3.2 1.1l3.2-6.6l3.2-9.6l3.2-8.3l6.5-12.2l3.2 .3l3.2 10.5l3.2 8.6l3.2 2.5l3.2 6.5l3.2 3.7l3.2-6.3l6.4-6.3l3.3-10.5l3.2-5l3.2 4.8l3.2 5.4l6.4 17.5l3.2 11.2l3.2 3.8l3.2-2.7l3.2-10.4l3.2-3.4l3.3 1.3l3.2 8.1l3.2 3.7l3.2 .6l3.2 1.1l3.2 1.6l3.2 .9l6.4 .2l3.2 .5l3.2 1l6.5 2.4l9.6 1.7l9.6 2.4l1.8-3.8l-6.4-1l-6.4-.8l-3.2-1l-6.5-2.4l-3.2-.7l-3.2-.4l-6.4 0l-3.2-1l-3.2-1.7l-3.2-1.1l-3.2-.6l-3.3-3.4l-3.2-7.7l-3.2-2.1l-3.2 2l-3.2 9.5l-3.2 4.8l-3.2-.1l-3.2-3.9l-3.2-11.3l-3.2-9l-6.5-19.8l-3.2-1.6l-3.2 7.5l-3.2 12.4l-3.2 5.4l-3.2 6.2l-3.2 4.6l-3.2-2l-3.2-8.1l-3.2-5.2l-3.2-10.6l-3.3-12.5l-3.2-3.4l-3.2 6.2l-3.2 10.1l-3.2 8.7l-3.2 9.6l-3.2 6.6l-3.2-.1l-3.2-3l-3.2-10.4l-3.3-5.5l-3.2-.5l-6.4 10.2l-6.4 .1l-6.4 1.1l-3.2-.6l-3.2-.9l-3.2-.7l-3.3-.2l-3.2 .1l-6.4 .6l-3.2-.3l-6.4-1z" fill="url(#p16)"/>
<path d="M930.5 109.7l9.6 .3l6.4 .6l3.2 0l6.4-.8l3.3 .1l3.2 .6l3.2 .8l3.2 .3l6.4-.9l3.2 .2l3.2-1.8l3.2-7.4l3.2-1.3l3.2 3.9l3.3 11.3l3.2 3.6l3.2-6.4l3.2-9.6l3.2-8.3l3.2-5.7l3.2-3.1l3.2-1.1l3.2 9.2l3.2 7.8l3.3 .8l6.4 7.4l3.2-5l3.2-.9l3.2-1.8l3.2-9.4l3.2-3.3l3.2 3.8l3.2 3.4l3.2 8.4l3.3 9l3.2 11.2l3.2 3.3l3.2-6.7l3.2-8.6l3.2-.9l3.2 5l3.2 7.1l3.2 1.2l3.2 .8l3.2 1.5l3.3 1.2l6.4 .4l3.2 .5l3.2 .9l6.4 2.5l9.6 1.9l12.9 3.2l1.8-3.7l-6.5-1.5l-9.6-1.5l-3.2-1l-6.4-2.3l-3.2-.7l-3.2-.4l-3.2 0l-3.3-.3l-6.4-2.8l-3.2-.8l-3.2-1.1l-3.2-6.4l-3.2-5.6l-3.2 .1l-3.2 6.2l-3.2 8.6l-3.3 1.1l-3.2-3.9l-3.2-11.2l-6.4-17.8l-3.2-7.6l-3.2-3.7l-3.2 6.1l-3.2 11.3l-3.2 4l-3.2 4.5l-3.3 6.1l-3.2-3.2l-3.2-7.6l-3.2-3.6l-3.2-9.3l-3.2-11.3l-3.2-1.7l-3.2 6.8l-3.2 7.5l-3.2 8.4l-3.2 9.6l-3.3 6.5l-3.2-.5l-3.2-6.4l-3.2-10l-3.2-2.5l-3.2 2.2l-3.2 6.9l-3.2 1.5l-3.2-.2l-3.2 .4l-3.3 .6l-3.2-.2l-6.4-1.6l-3.2-.3l-3.2 .1l-6.4 .6l-3.2-.2l-6.4-.9l-3.3-.2z" fill="url(#p15)"/>
<path d="M929.4 111.8l16.1 .6l3.2 .2l3.2-.1l6.4-.7l3.2 .1l6.4 1.3l3.2-.1l3.3-.5l6.4-.1l6.4-10.5l3.2 1.4l3.2 8.8l3.2 7.9l3.2-5.8l3.2-9.5l3.3-8.3l3.2-5.7l6.4-1.5l3.2 8.1l3.2 6.8l3.2-.9l3.2 1.2l3.2 2.2l3.2-2.3l3.2 1.3l3.3-.5l3.2-8.4l3.2-1.9l3.2 1l3.2 2.6l3.2 8.4l3.2 9l3.2 11.1l3.2 1.6l3.2-10l3.2-4.6l3.3 1.5l3.2 8.2l3.2 3.2l3.2 .7l6.4 2.6l3.2 .6l3.2 .2l3.2 .4l3.2 1l6.5 2.5l12.8 3l9.6 2.3l3.2 .6l1.8-3.4l-9.6-2.4l-9.6-1.7l-3.3-1l-6.4-2.4l-3.2-.6l-6.4-.4l-3.2-.6l-3.2-1.5l-3.2-1.2l-3.2-.8l-3.2-2.9l-3.3-7.7l-3.2-2.5l-3.2 2.7l-3.2 9.9l-3.2 3.8l-3.2-3.6l-3.2-11.2l-6.4-17.5l-6.5-9.3l-3.2 4.5l-3.2 10.2l-6.4 5.2l-3.2 5.9l-3.2-3.7l-3.2-5.6l-3.2-2l-3.2-8.4l-3.2-10.1l-3.3 .1l-3.2 5.1l-3.2 6.1l-3.2 8.3l-3.2 9.6l-3.2 6.5l-3.2-1.9l-3.2-10l-3.2-6.5l-3.2-.4l-3.2 5.6l-3.3 4.5l-6.4 .1l-3.2 .6l-3.2 .2l-6.4-1.5l-3.2-.3l-3.2 0l-6.5 .6l-3.2-.1l-6.4-.7l-6.4-.2z" fill="url(#p14)"/>
<path d="M928.4 113.6l9.6 .7l12.8 .4l3.3-.2l6.4-.8l3.2 .1l6.4 1.1l6.4-.7l3.2 .1l3.2-1.4l3.3-7.4l3.2-1.5l3.2 4.8l3.2 10.7l3.2-3.7l3.2-9.5l3.2-8.3l3.2-5.6l3.2 .3l3.2 1.6l3.2 6.7l3.3 6l3.2-2.3l3.2-1.6l3.2-.6l3.2 2l3.2 3.3l3.2 .6l3.2-7.5l6.4-3.3l3.2 2.5l3.3 8.4l3.2 9l3.2 10.8l3.2-2.3l3.2-9.3l3.2-1.4l3.2 5.6l3.2 6.6l6.4 2l3.3 1.4l3.2 .9l6.4 .6l3.2 1l6.4 2.7l6.4 1.6l12.9 3.1l9.6 1.7l1.8-3l-16.1-3.8l-6.4-1.3l-3.2-1.1l-6.4-2.3l-3.2-.7l-6.5-.4l-3.2-1l-3.2-1.5l-6.4-1.9l-6.4-12l-3.2 .2l-6.4 15.1l-3.2-2.8l-3.3-11.2l-3.2-9l-3.2-8.4l-6.4-6l-3.2 2.8l-3.2 9.1l-3.2 1.4l-3.2 .3l-3.2 4.1l-6.5-6.2l-3.2-.2l-3.2-7.5l-3.2-8.9l-3.2 1l-3.2 2.4l-3.2 5.7l-3.2 8.3l-3.2 9.6l-3.2 6.2l-3.3-4.9l-3.2-10.6l-3.2-3.2l-3.2 2.6l-3.2 6.7l-3.2 1.3l-3.2-.1l-6.4 .8l-3.2-.5l-3.2-.7l-3.3-.4l-3.2 0l-6.4 .7l-3.2-.1l-9.6-.6l-6.4-.1z" fill="url(#p13)"/>
<path d="M927.3 115.3l9.7 1.1l12.8 .4l3.2 .1l3.2-.3l6.4-1l3.3 .2l3.2 .5l3.2 .2l3.2-.5l3.2-.1l3.2 .1l3.2-4.5l3.2-5.9l3.2 1.7l3.2 9.3l3.2 .3l3.3-9l3.2-8.3l3.2-5.7l3.2 .7l3.2 4.4l3.2 6l3.2 5.2l3.2-3.2l3.2-5.1l3.2-3l3.2 6.6l3.3 5.1l3.2 1.3l3.2-6.4l3.2-3.3l3.2-3l3.2 2.4l6.4 17.4l3.2 9.5l3.2-6.3l3.3-5.4l3.2 1.6l3.2 8.3l3.2 2.8l3.2 .7l6.4 2.4l6.4 .9l3.2 .9l6.5 2.8l6.4 1.9l9.6 2.3l9.6 1.7l6.5 1l1.7-2.8l-9.6-1.9l-16.1-3.9l-9.6-3.5l-3.2-.6l-3.2-.2l-3.2-.5l-6.4-2.5l-3.2-.8l-3.2-2.6l-3.3-7.7l-3.2-2.7l-3.2 3.6l-3.2 9.8l-3.2-.4l-3.2-11l-3.2-9l-3.2-8.4l-3.2-2.6l-3.2-.2l-3.2 1.8l-3.3 8.2l-3.2 .1l-3.2-1.9l-3.2 1l-3.2-1.3l-3.2-.4l-3.2 1.4l-3.2-6.7l-3.2-7.6l-3.2 .1l-3.3 .4l-3.2 5.6l-3.2 8.3l-3.2 9.6l-3.2 5.1l-3.2-8.7l-3.2-7.6l-3.2-.6l-3.2 6l-3.2 4l-3.2 0l-3.3 .2l-3.2 .5l-3.2-.2l-6.4-1.1l-3.2 0l-6.4 .8l-6.4-.1l-16.1-.7z" fill="url(#p12)"/>
<path d="M926.3 116.9l12.8 1.6l9.7 .5l6.4 .1l3.2-.4l6.4-1.1l3.2 .1l3.2 .4l3.2-.1l3.2-.4l3.3 .1l3.2-1l3.2-7.3l3.2-1.8l3.2 5.2l3.2 4l3.2-7.4l3.2-8.3l3.2-5.6l3.2 .7l3.2 6.2l3.3 7.2l3.2 4.2l3.2-3.7l3.2-8.5l3.2-3.6l3.2 9l3.2 7.1l3.2 1.7l3.2-5.5l3.2-6l3.3-3.6l3.2 2.5l6.4 17.1l3.2 6.1l3.2-6.6l3.2-1.7l6.4 12.1l6.4 1.8l3.3 1.3l3.2 .8l3.2 .5l3.2 .9l6.4 3l3.2 1.1l9.6 2.4l9.7 1.8l12.8 1.8l1.8-2.7l-9.6-1.5l-16.1-3.8l-3.2-.9l-6.4-2.6l-3.2-1.1l-3.2-.5l-3.3-.3l-3.2-.8l-3.2-1.4l-6.4-1.9l-3.2-5.5l-3.2-6.3l-3.2 .5l-3.2 8.1l-3.2 3.4l-3.2-10.4l-6.5-17.4l-3.2-2.4l-6.4 4.2l-3.2 7.2l-3.2-.9l-3.2-3.8l-3.2-3.4l-3.2 1.3l-6.5 5.3l-3.2-5.8l-3.2-6.5l-3.2-2.4l-3.2-.4l-3.2 5.6l-3.2 8.3l-3.2 9.3l-3.2 2.5l-3.2-10.3l-3.3-3.8l-3.2 2.8l-3.2 6.5l-3.2 1l-3.2-.1l-3.2 .4l-3.2 .2l-6.4-.9l-3.2 0l-6.5 .8l-6.4 .1l-12.8-.5l-6.4-.7z" fill="url(#p11)"/>
<path d="M925.3 118.4l16 2.2l9.6 .7l6.4 0l3.3-.4l3.2-.7l3.2-.5l6.4 .2l6.4-.7l3.2 .3l3.2-4l3.2-6.1l3.3 1.5l3.2 3.6l3.2-3.9l3.2-7.9l3.2-5.7l3.2 .7l3.2 7.1l3.2 9.9l3.2 3.7l3.2-4.5l3.2-9.8l3.3-2.9l6.4 17.2l3.2 2.1l3.2-6l3.2-8.5l3.2-3.7l3.2 2.4l3.2 8.4l3.2 7.7l3.2 1.8l3.3-3l3.2 1.9l3.2 8.2l3.2 2.3l3.2 .7l6.4 2.4l3.2 .6l3.2 1l6.5 3.1l3.2 1.2l9.6 2.3l12.8 2.1l12.9 1.8l1.7-2.7l-12.8-1.9l-9.6-2l-6.4-1.7l-3.3-.9l-6.4-2.8l-3.2-1.1l-6.4-1.1l-6.4-2.3l-3.2-.8l-3.2-2.2l-3.3-7.6l-3.2-2.9l-3.2 4.3l-3.2 6.4l-9.6-25.8l-3.2-2.5l-3.2 3.2l-3.2 4.2l-3.2 6.1l-3.3-1.5l-3.2-5.7l-3.2-7.2l-3.2 3.1l-3.2 6.1l-3.2 3.4l-3.2-4.9l-3.2-6.4l-3.2-4.9l-3.2-.7l-3.2 5.6l-6.5 16.9l-3.2-1.5l-3.2-8l-3.2-.6l-3.2 6.2l-3.2 3.5l-3.2-.1l-6.4 .6l-6.5-.7l-3.2 0l-6.4 1l-3.2 .2l-12.8-.3l-9.7-1l-3.2-.4z" fill="url(#p10)"/>
<path d="M924.2 120l22.5 3l9.6 .6l3.2-.1l3.2-.4l3.2-.8l3.2-.5l6.5-.3l3.2-.5l3.2 .1l3.2-.5l3.2-6.7l3.2-2.5l3.2-.4l3.2 0l3.2-6.9l3.2-5.6l3.3 .7l3.2 7.3l3.2 12.7l3.2 4.2l3.2-5.7l3.2-8.7l3.2-2.1l3.2 6.3l3.2 9.6l3.2 2.9l3.2-8.4l3.3-9.8l3.2-3.8l3.2 2.5l3.2 8.2l3.2 5.2l3.2 .6l3.2 1.2l3.2 6.1l3.2 5.4l3.2 .6l3.3 1.1l3.2 1.4l6.4 2l6.4 3.2l3.2 1.1l6.4 1.6l9.7 1.7l22.4 3.2l1.8-2.7l-19.3-2.9l-9.6-2.1l-6.4-1.9l-6.4-2.8l-3.2-1.2l-6.5-1.3l-6.4-2.4l-3.2-.8l-3.2-4.9l-3.2-6.7l-3.2 .7l-3.2 5.5l-3.2-4.9l-6.5-16.8l-3.2-2.4l-3.2 3.6l-3.2 6.8l-3.2 5.6l-3.2-1.8l-3.2-7.7l-3.2-8.7l-3.2 3.3l-3.2 8.9l-3.2 4l-3.3-4.1l-3.2-8l-3.2-6.5l-3.2-.6l-3.2 5.6l-3.2 8.1l-3.2 6.4l-6.4-8l-3.2 3.2l-3.2 6.2l-3.3 .7l-3.2-.1l-3.2 .4l-3.2 .1l-3.2-.3l-3.2 .1l-6.4 1.1l-3.2 .2l-9.7-.2l-9.6-.9l-9.6-1.2z" fill="url(#p9)"/>
<path d="M923.2 121.6l28.9 3.8l6.4 .4l3.2 0l3.2-.5l6.4-1.4l3.2-.3l3.2-.5l3.2-.3l3.2 .4l3.3-2.8l3.2-6l3.2-4.7l3.2-.1l3.2-4.4l3.2-5.6l3.2 .7l3.2 7.5l3.2 14.2l3.2 5.9l6.5-14.6l3.2-1.4l3.2 4.7l3.2 9.4l3.2 4.1l6.4-21.4l3.2-3.9l3.2 2.5l3.2 7.9l3.3 1.8l3.2 3.9l3.2 5.1l3.2 7.1l3.2 1.6l3.2 .7l9.6 3.9l6.4 3.2l3.3 1.2l6.4 1.5l12.8 2l22.5 3.1l1.7-2.6l-22.4-3.3l-9.6-1.9l-3.3-.9l-3.2-1l-6.4-3l-3.2-1.2l-3.2-.8l-3.2-1l-3.2-1.4l-3.2-.8l-3.2-1.7l-3.2-7.4l-3.3-3.1l-3.2 1.7l-3.2-1.4l-3.2-7l-3.2-8.3l-3.2-2.5l-3.2 3.7l-3.2 8.9l-3.2 6.8l-3.2-2.4l-3.3-9.1l-3.2-7.7l-3.2 2.6l-3.2 9.5l-3.2 4.9l-3.2-3.8l-3.2-10.8l-3.2-7.1l-3.2-.7l-3.2 5.6l-3.2 7.6l-3.3 2.7l-3.2-2.4l-3.2-.3l-3.2 6.4l-3.2 2.9l-3.2-.2l-6.4 .6l-6.4 .1l-6.5 1.2l-3.2 .3l-6.4-.1l-9.6-.8l-16.1-2.2z" fill="url(#p8)"/>
<path d="M922.1 123.2l32.1 4.3l6.4 .5l3.2 0l3.3-.4l9.6-2.1l3.2-.7l6.4 .1l3.2-5.3l3.2-8.5l3.2-3.8l3.2-2.1l3.3-5.3l3.2 .7l3.2 8l3.2 15.2l3.2 7.3l3.2-9.1l3.2-6.1l3.2-1.1l3.2 3.9l3.2 8.8l3.3 5.6l3.2-12.8l3.2-11l3.2-4.2l3.2 2.5l3.2 6.8l3.2 .9l6.4 16.9l3.2 3.8l3.2 .4l3.3 1.2l12.8 6.3l3.2 1.1l6.4 1.4l28.9 4.2l9.6 1.3l1.8-2.7l-28.9-4.1l-6.4-1.3l-3.2-.8l-3.2-1.1l-6.4-3l-3.2-1.3l-3.3-1l-6.4-2.5l-3.2-.6l-3.2-4.3l-3.2-6.4l-3.2-2.4l-3.2-1.6l-3.2-4.1l-3.2-8.2l-3.2-2.4l-3.3 3.7l-3.2 10l-3.2 9.2l-3.2-3.2l-3.2-9.6l-3.2-5.8l-3.2 1.9l-3.2 8.2l-3.2 6.2l-3.2-4.7l-3.3-13.1l-3.2-7.4l-3.2-.7l-3.2 5.6l-3.2 6.2l-3.2 0l-3.2 1.7l-3.2 3.5l-3.2 5.6l-3.2 .2l-3.2 0l-3.3 .5l-6.4 .5l-6.4 1.3l-3.2 .3l-6.4-.1l-9.6-1l-19.3-2.6z" fill="url(#p7)"/>
<path d="M921.1 124.7l38.5 5.2l3.2 .3l3.2 0l3.2-.3l9.6-2.6l3.3-.6l3.2 .4l3.2-1.7l3.2-11.2l3.2-8.4l3.2-2.8l3.2-4.6l3.2 .9l3.2 9l3.2 16.5l3.3 7.5l3.2-8.5l3.2-5.6l3.2-1l3.2 3.6l3.2 8.3l3.2 5.1l6.4-25.7l3.2-4.9l3.2 2.5l3.3 5.5l3.2 4.2l3.2 12.4l3.2 8.5l6.4 1.8l9.6 5.2l3.2 1.6l3.2 1l6.5 1.3l41.7 5.9l1.8-2.7l-32.1-4.5l-6.4-1.2l-3.3-.8l-3.2-1l-9.6-4.5l-6.4-2.8l-3.2-.8l-3.2-1.2l-6.5-12.3l-3.2-5.2l-3.2-1.6l-3.2-7.5l-3.2-2.5l-3.2 4l-3.2 10.5l-3.2 11.6l-3.2-4.5l-3.2-9.3l-3.2-4.5l-3.3 1.4l-3.2 6.8l-3.2 7.9l-3.2-6.3l-3.2-14.5l-3.2-7.6l-3.2-.7l-3.2 5.5l-3.2 3.7l-3.2 1.2l-6.5 11.6l-3.2 2l-3.2-.3l-9.6 1.4l-6.4 1.3l-3.2 .4l-6.5-.3l-16-1.9l-16-2.2z" fill="url(#p6)"/>
<path d="M920 126.3l41.8 5.7l6.4 .4l3.2-.3l3.2-.7l6.4-2.2l3.2-.4l3.2-.1l3.2-9.9l3.3-12.7l3.2-7.6l3.2-4.2l3.2 1.4l3.2 10.9l3.2 17.9l3.2 6.9l3.2-5l3.2-5.9l3.2-1l3.2 3.7l3.3 7.6l3.2 2.1l3.2-12.3l3.2-14.7l3.2-6.2l3.2 2.1l3.2 6.4l3.2 9.8l3.2 15.4l3.2 5.6l3.2 .6l3.3 1.7l6.4 3.8l3.2 1.5l3.2 1l6.4 1.2l44.9 6.2l1.8-2.6l-38.5-5.5l-6.4-1.3l-3.2-1l-6.4-3l-6.5-3.2l-3.2-1.4l-3.2-.5l-3.2-3l-3.2-8.5l-3.2-9.6l-3.2-1.9l-3.2-6.3l-3.2-2.6l-3.2 4.4l-3.3 11.5l-3.2 12.9l-3.2-5.4l-3.2-8.7l-3.2-3.8l-3.2 1.1l-3.2 5.9l-3.2 9l-3.2-7.4l-3.2-15.6l-3.2-8.3l-3.3-.8l-3.2 5.2l-3.2 2.2l-3.2 5.2l-3.2 9.4l-3.2 4.2l-3.2-.2l-3.2 .2l-12.9 2.8l-3.2 .3l-6.4-.4l-28.9-3.8l-6.4-.9z" fill="url(#p5)"/>
<path d="M919 127.9l48.1 6.5l3.2 .1l3.3-.2l3.2-.7l6.4-2.4l3.2-.6l3.2-7.5l3.2-15.2l3.2-13.6l3.2-5.3l3.2 2.4l3.2 12.9l3.3 17.7l3.2 7.4l3.2-1.8l3.2-4.9l3.2-1.4l3.2 4.4l3.2 4.9l3.2-.4l3.2-11.5l3.2-16l3.2-7.6l3.3 1l3.2 10.2l6.4 30.4l3.2 4.1l3.2 1.6l3.2 2.2l3.2 1.9l3.2 1.4l3.2 .9l9.7 1.6l44.9 6.2l1.8-2.7l-41.7-5.8l-6.5-1.2l-3.2-.9l-3.2-1.4l-9.6-5.3l-3.2-1.1l-3.2-.8l-3.2-7.6l-3.2-13.4l-6.5-11.6l-3.2-2.4l-3.2 5.3l-6.4 26.1l-3.2-4.2l-3.2-8.1l-3.2-3.6l-3.2 1l-3.3 5.7l-3.2 7.5l-3.2-7.4l-3.2-16.9l-3.2-9.6l-3.2-1l-6.4 8.7l-3.2 9.7l-3.2 10.8l-3.2 1.2l-3.3-.1l-9.6 2.5l-3.2 .6l-3.2 .2l-6.4-.4l-38.5-5.2z" fill="url(#p4)"/>
<path d="M917.9 129.4l51.4 7l3.2 .2l3.2-.1l3.2-.7l3.2-1.3l3.2-1.5l3.3-7.2l3.2-14.6l3.2-17.8l3.2-8l3.2 3.9l3.2 13l3.2 16.2l3.2 9.1l3.2 .1l3.2-1.4l3.2-1.8l3.3 3.9l3.2 1.3l3.2-1.9l3.2-12.5l3.2-14.3l3.2-8.5l3.2 .2l3.2 14.5l3.2 18l3.2 13.6l3.3 4.8l3.2 2.2l3.2 2l3.2 1.3l3.2 .9l12.8 2l45 6.2l1.7-2.7l-48.1-6.7l-3.2-.7l-3.2-.8l-3.2-1.3l-3.2-1.7l-6.5-3.9l-3.2-.9l-3.2-5.1l-3.2-15.4l-3.2-11.4l-3.2-7.5l-3.2-1.8l-3.2 6.6l-3.2 15.1l-3.2 12.1l-3.3-1.4l-3.2-6.7l-3.2-4l-3.2 1.2l-3.2 5.5l-3.2 4.1l-3.2-7.1l-3.2-17.8l-3.2-11.5l-3.2-1.7l-3.3 4.5l-3.2 9.5l-3.2 13.4l-3.2 9.2l-3.2 .3l-3.2 .6l-6.4 2.1l-3.2 .5l-3.2 .2l-6.5-.6l-41.7-5.6z" fill="url(#p3)"/>
<path d="M916.9 131l54.6 7.4l3.2 .3l3.2-.1l3.2-.7l3.2-1.7l3.2-7.9l3.2-13.2l3.2-18.3l3.2-10.2l3.2 4.3l3.3 9.8l3.2 15.8l3.2 10.5l3.2 1.8l3.2 2.6l3.2 .7l3.2-.6l3.2-1.5l3.2-3.2l3.2-14l3.3-11.7l3.2-7.2l3.2 .8l6.4 33.7l3.2 13.2l3.2 5.4l3.2 2l3.2 1.4l3.2 .8l25.7 3.7l35.3 4.8l1.8-2.6l-51.4-7.2l-3.2-.5l-3.2-.9l-3.2-1.2l-3.2-1.8l-3.2-2.1l-3.2-1.8l-3.2-4.3l-3.2-14.7l-3.2-16l-3.3-11.5l-3.2-.8l-3.2 7.9l-3.2 15.5l-3.2 11.8l-3.2 .8l-3.2-3.8l-3.2-4.3l-3.2 1.6l-3.2 3.9l-3.2 1.2l-3.3-7.9l-3.2-17.3l-3.2-12.9l-3.2-2.9l-3.2 6.1l-6.4 29.9l-3.2 7.5l-3.2 .8l-6.5 2.3l-3.2 .5l-3.2 .1l-6.4-.6l-44.9-6.2z" fill="url(#p2)"/>
<path d="M915.9 132.6l57.7 7.9l3.2 .3l3.2-.1l3.3-1.1l3.2-8.1l3.2-12.3l3.2-14.9l3.2-10l3.2 1.6l3.2 5.7l3.2 15.3l3.2 11.2l3.2 3.4l3.3 5.6l3.2 4.2l3.2-5.6l3.2-3.6l3.2-4.7l3.2-14.2l3.2-10.1l3.2-2.9l3.2 2.5l6.4 29l3.3 13.2l3.2 5.3l3.2 1.4l3.2 .7l64.2 9l1.7-2.7l-54.5-7.5l-3.2-.6l-3.2-.7l-3.2-1.3l-3.3-1.7l-3.2-2.2l-3.2-4.9l-3.2-13.5l-3.2-17.8l-3.2-15.1l-3.2-.4l-3.2 8.2l-6.4 26.4l-3.2 2.3l-3.3-.5l-3.2-2.5l-3.2 1.1l-3.2 .2l-3.2-.7l-3.2-9.5l-3.2-16.1l-3.2-12l-3.2-4l-3.2 8.6l-3.2 18l-3.3 14.2l-3.2 7.4l-3.2 1.5l-3.2 1.1l-3.2 .5l-3.2 .1l-9.6-1.1l-45-6.2z" fill="url(#p1)"/>
<path d="M914.8 134.1l61 8.4l3.2 .3l3.2-.5l3.2-7.5l6.4-21.7l3.3-8.1l3.2-3.6l3.2 3.6l3.2 13.6l3.2 11.7l3.2 5.1l3.2 7.8l3.2 3.9l9.6-17.9l3.3-13.7l3.2-8.6l3.2 1.1l3.2 5.5l6.4 22l3.2 12.5l3.2 4.7l3.2 .8l67.4 9.4l1.8-2.7l-61-8.5l-3.2-.7l-3.2-1.2l-3.2-1.8l-3.2-5.4l-3.2-13.2l-6.4-32.3l-3.3-1.3l-3.2 5.9l-3.2 11.2l-3.2 14.1l-3.2 3.6l-6.4 4.3l-3.2-1.8l-3.2-3.5l-3.2-2.3l-3.2-10.7l-3.3-15.6l-3.2-8.6l-3.2-3.5l-3.2 10.1l-3.2 17.3l-3.2 13l-3.2 8l-3.2 1.5l-3.2 .5l-3.2-.1l-12.9-1.6l-44.9-6.1z" fill="url(#p0)"/>
</g>
<rect x="1201.5" y="15.0" width="14.5" height="93.3" fill="url(#cb)" stroke="#222" stroke-width="0.7"/>
<text x="1223.5" y="112.6" font-size="12.3" text-anchor="start" fill="#111" style="font-family:'Liberation Sans',sans-serif" >0</text>
<text x="1223.5" y="84.3" font-size="12.3" text-anchor="start" fill="#111" style="font-family:'Liberation Sans',sans-serif" >0.1</text>
<text x="1223.5" y="56.0" font-size="12.3" text-anchor="start" fill="#111" style="font-family:'Liberation Sans',sans-serif" >0.2</text>
<text x="1223.5" y="27.7" font-size="12.3" text-anchor="start" fill="#111" style="font-family:'Liberation Sans',sans-serif" >0.3</text>
<path d="M1201.5 108.3h3M1216 108.3h-3M1201.5 80.0h3M1216 80.0h-3M1201.5 51.7h3M1216 51.7h-3M1201.5 23.4h3M1216 23.4h-3" stroke="#111" stroke-width="0.7" fill="none"/>
<path d="M912.5 395.4L1121.1 424.1L1182.9 331.3L974.3 302.6Z" stroke="#111" stroke-width="0.9" fill="none"/>
<path d="M912.5 395.4V290.0" stroke="#111" stroke-width="0.9"/>
<text x="905.5" y="364.2" font-size="12.3" text-anchor="end" fill="#111" style="font-family:'Liberation Sans',sans-serif" >0</text>
<text x="905.5" y="340.9" font-size="12.3" text-anchor="end" fill="#111" style="font-family:'Liberation Sans',sans-serif" >0.1</text>
<text x="905.5" y="317.6" font-size="12.3" text-anchor="end" fill="#111" style="font-family:'Liberation Sans',sans-serif" >0.2</text>
<text x="905.5" y="294.3" font-size="12.3" text-anchor="end" fill="#111" style="font-family:'Liberation Sans',sans-serif" >0.3</text>
<text x="910.9" y="411.7" font-size="12.3" text-anchor="middle" fill="#111" style="font-family:'Liberation Sans',sans-serif" >-10</text>
<text x="956.2" y="417.9" font-size="12.3" text-anchor="middle" fill="#111" style="font-family:'Liberation Sans',sans-serif" >-5</text>
<text x="1001.6" y="424.2" font-size="12.3" text-anchor="middle" fill="#111" style="font-family:'Liberation Sans',sans-serif" >0</text>
<text x="1047.0" y="430.4" font-size="12.3" text-anchor="middle" fill="#111" style="font-family:'Liberation Sans',sans-serif" >5</text>
<text x="1092.3" y="436.7" font-size="12.3" text-anchor="middle" fill="#111" style="font-family:'Liberation Sans',sans-serif" >10</text>
<text x="1130.4" y="428.2" font-size="12.3" text-anchor="middle" fill="#111" style="font-family:'Liberation Sans',sans-serif" >0</text>
<text x="1145.9" y="405.1" font-size="12.3" text-anchor="middle" fill="#111" style="font-family:'Liberation Sans',sans-serif" >1</text>
<text x="1161.3" y="381.9" font-size="12.3" text-anchor="middle" fill="#111" style="font-family:'Liberation Sans',sans-serif" >2</text>
<text x="1176.8" y="358.6" font-size="12.3" text-anchor="middle" fill="#111" style="font-family:'Liberation Sans',sans-serif" >3</text>
<text x="1192.2" y="335.4" font-size="12.3" text-anchor="middle" fill="#111" style="font-family:'Liberation Sans',sans-serif" >4</text>
<path d="M912.5 359.9h4M912.5 348.2h2M912.5 336.6h4M912.5 324.9h2M912.5 313.3h4M912.5 301.6h2M912.5 290.0h4M912.5 395.4l1.6 -2.6M974.3 302.6l-1.6 2.6M957.9 401.6l1.6 -2.6M1019.6 308.8l-1.6 2.6M1003.2 407.9l1.6 -2.6M1065.0 315.1l-1.6 2.6M1048.5 414.1l1.6 -2.6M1110.3 321.3l-1.6 2.6M1093.9 420.4l1.6 -2.6M1155.7 327.6l-1.6 2.6M1121.1 424.1l-3.5 -0.5M912.5 395.4l3.5 0.5M1136.6 400.9l-3.5 -0.5M928.0 372.2l3.5 0.5M1152.0 377.8l-3.5 -0.5M943.4 349.0l3.5 0.5M1167.5 354.5l-3.5 -0.5M958.9 325.8l3.5 0.5M1182.9 331.3l-3.5 -0.5M974.3 302.6l3.5 0.5" stroke="#111" stroke-width="0.8" fill="none"/>
<text x="1000.4" y="442.7" font-size="13.4" text-anchor="middle" fill="#111" style="font-family:'Liberation Sans',sans-serif" >hω&#160;&#160;[eV]</text>
<text x="1202.8" y="394.1" font-size="13.4" text-anchor="middle" fill="#111" style="font-family:'Liberation Sans',sans-serif" >hΩ&#160;&#160;[eV]</text>
<g filter="url(#soft)">
<path d="M973.3 259l3.2 3.6l3.2 5.8l3.2 1.5l12.8 1.8l3.2-.3l3.2-5.6l3.3-6.4l3.2-3.7l3.2-1.4l3.2 1l3.2 3.6l3.2 6.9l3.2 5l3.2 .7l6.4 1.2l6.5 2.3l3.2-1.2l3.2-4l3.2-2.8l3.2-.7l3.2 1.2l3.2 3.7l3.2 5.9l3.2 4l3.2 .8l12.9 1.8l3.2-.7l6.4-8.9l3.2-1.8l3.2 .4l3.2 2.4l6.5 8.7l3.2 .7l3.2-.4l3.2 0l6.4 .7l3.2-1.3l3.2-6.4l3.2-4.2l3.2-1.5l3.2 1.1l3.3 3.5l3.2 5.8l3.2 8.3l3.2 3.2l9.6 1.5l6.4 .6l3.2-2l3.2-5.1l3.3-1.4l3.2 .2l1-.9l-3.2 .1l-3.2 2.9l-3.2 4.4l-3.2 .4l-12.9-1.7l-3.2-1.1l-3.2-6l-3.2-7.4l-3.2-4.8l-3.2-2.5l-3.2-.2l-3.2 2.5l-3.2 6l-3.2 4.4l-3.3 0l-6.4-.6l-3.2 .2l-3.2 .5l-3.2-.7l-6.4-9l-3.2-2.5l-3.2-.4l-3.3 1.8l-6.4 8.9l-3.2 .7l-12.8-1.7l-3.2-.9l-3.2-3.9l-3.2-6l-3.3-3.7l-3.2-1.2l-3.2 .8l-3.2 3l-3.2 4.1l-3.2 1.2l-6.4-2.5l-3.2-.8l-6.4-1l-3.3-2.4l-3.2-7.4l-3.2-5l-3.2-2l-3.2 .5l-3.2 2.8l-3.2 5l-3.2 7.1l-3.2 2l-12.9-1.7l-3.2-.7l-3.2-3.7l-3.2-5.2z" fill="url(#q56)"/>
<path d="M972.2 259.6l3.2 2l3.2 6.2l3.2 3.5l3.3 .7l9.6 1.3l3.2 .3l3.2-2.9l3.2-7.4l3.2-4.6l3.2-2.4l3.2 0l3.2 2.5l3.3 5.4l3.2 7.1l3.2 1.8l6.4 1.1l6.4 2l3.2-1.2l3.2-3.8l3.2-2.7l3.2-.7l3.3 1.2l3.2 3.7l3.2 6l3.2 3.9l3.2 .9l12.8 1.7l3.2-.7l6.5-8.9l3.2-1.8l3.2 .4l3.2 2.3l6.4 8.5l3.2 .7l3.2-.2l3.2 .1l6.5 .5l3.2-3.5l3.2-6.4l3.2-2.9l3.2-.4l3.2 2.1l3.2 4.4l6.4 14.2l3.2 1.4l12.9 1.7l3.2-.3l3.2-4.5l3.2-3.8l3.2-.4l3.2 .4l1.8-1.6l-3.2 0l-3.2 2.4l-3.2 4.6l-3.2 1l-12.9-1.7l-3.2-1l-3.2-5.1l-3.2-7.7l-3.2-5.1l-3.2-2.8l-3.2-.4l-3.2 2.1l-6.5 10.5l-3.2 .4l-6.4-.7l-3.2 .2l-3.2 .5l-3.2-.7l-6.4-8.9l-3.2-2.5l-3.3-.4l-3.2 1.8l-6.4 8.9l-3.2 .7l-12.8-1.8l-3.2-.8l-3.3-4l-3.2-5.9l-3.2-3.7l-3.2-1.2l-3.2 .8l-3.2 2.9l-3.2 4.1l-3.2 1.2l-6.4-2.5l-3.2-.7l-6.5-1.1l-3.2-3.1l-3.2-7.4l-3.2-4.5l-3.2-1.7l-3.2 .8l-3.2 3l-3.2 5.5l-3.2 6.6l-3.2 1.5l-12.9-1.7l-3.2-1l-3.2-4.3l-3.2-4.8z" fill="url(#q55)"/>
<path d="M971.2 260.4l3.2 1.2l3.2 4.4l3.2 6.1l3.2 1.4l12.8 1.8l3.3-.9l3.2-6.6l3.2-5.8l3.2-3.3l3.2-1l3.2 1.4l3.2 4.1l3.2 7.5l3.2 3.8l6.4 1.2l6.5 1.7l3.2-1.2l3.2-3.7l3.2-2.6l3.2-.6l3.2 1.3l3.2 3.7l3.2 6l3.2 3.9l3.3 .9l12.8 1.7l3.2-.7l6.4-8.9l3.2-1.8l3.2 .3l3.2 2.2l6.5 8.2l3.2 .9l3.2-.1l6.4 .6l3.2-.6l3.2-5.9l3.2-5l3.2-1.9l3.2 .7l3.3 3l3.2 5.4l3.2 8.2l3.2 4.5l3.2 .7l9.6 1.3l3.2 .3l3.2-1.9l3.3-5.9l3.2-1.8l3.2 .1l3.2 .4l1.8-1.7l-3.3-.2l-3.2 1l-3.2 4.7l-3.2 2.8l-3.2 0l-12.8-1.9l-3.2-2.7l-3.2-7.9l-3.3-6.2l-3.2-3.7l-3.2-1.4l-3.2 1.1l-3.2 3.8l-3.2 6.5l-3.2 1.9l-6.4-.7l-3.2 0l-3.3 .4l-3.2-.7l-6.4-8.7l-3.2-2.4l-3.2-.4l-3.2 1.8l-6.4 8.9l-3.2 .7l-12.9-1.7l-3.2-.9l-3.2-3.9l-3.2-5.9l-3.2-3.7l-3.2-1.2l-3.2 .6l-3.2 2.8l-3.3 4l-3.2 1.2l-6.4-2.3l-6.4-1.1l-3.2-1.1l-3.2-5.6l-3.2-6.4l-3.2-3.3l-3.2-.7l-3.3 1.7l-3.2 4l-3.2 6.7l-3.2 4.8l-3.2 .1l-12.8-1.9l-3.2-2.1l-3.2-5.9l-3.3-3.1z" fill="url(#q54)"/>
<path d="M970.1 261.3l3.2 .8l3.2 2.5l3.3 7.1l3.2 3.2l6.4 1.1l6.4 .9l3.2 .1l3.2-4.3l3.2-7l3.2-4.2l3.2-2l3.3 .3l3.2 3l6.4 12.7l3.2 1.2l6.4 1.2l3.2 .7l3.2-1.3l3.2-3.6l3.3-2.4l3.2-.5l3.2 1.3l3.2 3.8l3.2 5.9l3.2 4l3.2 .8l12.8 1.8l3.3-.7l6.4-9l3.2-1.8l3.2 .3l3.2 2l6.4 8.1l3.2 1l3.2 0l6.5 .6l3.2-2.4l3.2-6.8l3.2-3.5l3.2-.8l3.2 1.7l3.2 4l3.2 6.5l3.2 7.9l3.2 2.1l12.9 1.8l3.2-.1l6.4-9.4l3.2-.6l6.4 .8l1.8-1.7l-3.2-.4l-3.2 .2l-3.2 3.2l-3.2 5l-3.2 .8l-12.9-1.8l-3.2-1.1l-3.2-6.4l-3.2-7.4l-3.2-4.7l-3.2-2.3l-3.2 0l-3.2 2.7l-3.2 5.9l-3.3 4.3l-3.2 0l-3.2-.4l-3.2-.1l-3.2 .2l-3.2-.8l-6.4-8.4l-3.2-2.3l-3.2-.3l-3.3 1.8l-6.4 8.9l-3.2 .7l-12.8-1.7l-3.2-.9l-3.2-3.9l-3.2-6l-3.3-3.7l-3.2-1.2l-3.2 .6l-3.2 2.7l-3.2 3.8l-3.2 1.1l-6.4-1.9l-6.4-1.1l-3.3-2.3l-3.2-7.3l-3.2-5l-3.2-2.2l-3.2 .3l-3.2 2.7l-3.2 4.9l-3.2 7.2l-3.2 2.3l-9.7-1.2l-3.2-.4l-3.2-1l-3.2-4.2l-3.2-5.7l-3.2-1.8z" fill="url(#q53)"/>
<path d="M969.1 262.3l3.2 .5l3.2 1.4l3.2 5.6l3.2 6.1l3.2 1.2l12.9 1.7l3.2-1.7l3.2-7.2l3.2-5.3l3.2-2.9l3.2-.6l3.2 1.9l3.2 4.6l3.2 7.6l3.3 3l9.6 1.7l3.2-1.4l3.2-3.6l3.2-2.3l3.2-.3l3.2 1.4l3.2 3.7l3.2 6l3.3 3.9l3.2 .9l12.8 1.7l3.2-.7l6.4-8.9l3.2-1.9l3.2 .2l3.3 1.9l3.2 3.8l3.2 4.2l3.2 1.2l6.4 .5l3.2-.2l3.2-5.2l3.2-5.6l3.2-2.3l3.3 .2l3.2 2.6l3.2 5l3.2 7.8l3.2 5.8l3.2 .9l12.8 1.7l3.2-1.5l3.3-6.7l3.2-2.5l3.2 0l6.4 .9l1.8-1.7l-3.2-.4l-3.3-.2l-3.2 1.4l-3.2 5.6l-3.2 2.7l-3.2-.1l-9.6-1.4l-3.2-.6l-3.2-3.8l-3.2-8.1l-3.3-5.7l-3.2-3.3l-3.2-1l-3.2 1.6l-3.2 4.5l-3.2 6.2l-3.2 1.1l-6.4-.6l-3.2 .1l-3.2-.9l-6.5-8.2l-3.2-2.2l-3.2-.3l-3.2 1.9l-6.4 8.9l-3.2 .7l-12.9-1.8l-3.2-.8l-3.2-4l-3.2-5.9l-3.2-3.7l-3.2-1.3l-3.2 .5l-3.2 2.5l-3.2 3.7l-3.2 1.3l-6.5-1.7l-3.2-.5l-3.2-.8l-3.2-4.6l-3.2-7.1l-3.2-3.8l-3.2-1.1l-3.2 1.3l-3.2 3.6l-6.5 12.1l-3.2 .6l-12.8-1.9l-3.2-1.9l-3.2-6.4l-3.2-3.9l-3.2-1z" fill="url(#q52)"/>
<path d="M968 263.3l3.2 .5l3.3 .8l3.2 3.2l3.2 7.8l3.2 3l9.6 1.4l3.2 .4l3.2-.2l3.2-5.6l3.3-6.5l3.2-3.9l3.2-1.5l3.2 .8l3.2 3.5l3.2 6.8l3.2 5.6l3.2 .9l6.4 1l3.2-1.6l3.3-3.7l3.2-2.1l3.2-.1l3.2 1.4l3.2 3.8l3.2 6l3.2 3.9l3.2 .9l12.9 1.7l3.2-.7l6.4-9l3.2-1.9l3.2 .1l3.2 1.7l3.2 3.7l3.2 4.4l3.2 1.3l6.5 .6l3.2-1.6l3.2-6.7l3.2-4.1l3.2-1.3l3.2 1.2l3.2 3.6l3.2 5.9l3.2 8.4l3.2 3.1l9.7 1.5l3.2 .4l3.2 0l3.2-4.4l3.2-5.9l3.2-.9l9.6 1.1l1.8-1.6l-6.4-.8l-3.2 .4l-3.2 4.1l-3.2 5.2l-3.2 .6l-12.9-1.8l-3.2-1.8l-6.4-14.1l-3.2-4.3l-3.2-2l-3.2 .5l-3.2 3.2l-3.2 6.4l-3.3 3.3l-9.6-.6l-3.2-1l-6.4-8.1l-3.2-2l-3.2-.2l-3.2 1.8l-6.5 8.9l-3.2 .7l-12.8-1.7l-3.2-.9l-3.2-3.9l-3.2-6l-3.2-3.7l-3.3-1.3l-3.2 .4l-3.2 2.4l-3.2 3.6l-3.2 1.3l-6.4-1.4l-3.2-.5l-3.2-1.7l-3.2-6.7l-3.2-5.8l-3.3-2.7l-3.2-.1l-3.2 2.3l-3.2 4.5l-3.2 7.1l-3.2 3.5l-3.2-.1l-9.6-1.4l-3.2-.8l-3.3-4.1l-3.2-6.6l-3.2-2.2l-3.2-.7z" fill="url(#q51)"/>
<path d="M967 264.3l6.4 1l3.2 1.6l3.2 6.7l3.2 6.1l3.3 1l9.6 1.3l3.2 .3l3.2-2.9l3.2-7.4l3.2-4.8l3.2-2.5l3.2-.1l3.2 2.4l3.3 5.3l3.2 7.5l3.2 2l6.4 .9l3.2-1.7l3.2-3.8l3.2-2.1l3.2 0l3.2 1.6l3.2 3.8l3.3 6l3.2 4l3.2 .8l12.8 1.8l3.2-.7l6.4-9l3.3-2l3.2-.1l3.2 1.6l3.2 3.7l3.2 4.5l3.2 1.4l3.2 .4l3.2 .1l3.2-4.1l3.2-6.2l3.2-2.9l3.3-.3l3.2 2.2l3.2 4.6l6.4 14.2l3.2 1.4l12.8 1.7l3.2-1.2l3.3-7.1l3.2-3.4l3.2-.2l9.6 1.4l1.8-1.7l-6.4-.9l-3.2-.1l-3.3 2.1l-3.2 6.4l-3.2 2.4l-3.2-.2l-9.6-1.4l-3.2-.8l-3.2-5l-3.2-8l-3.3-5.2l-3.2-3l-3.2-.5l-3.2 2.1l-3.2 5.1l-3.2 5.6l-3.2 .6l-6.4-.5l-3.2-1.2l-3.2-4.3l-3.3-3.7l-3.2-1.9l-3.2-.1l-3.2 1.9l-6.4 8.9l-3.2 .7l-12.8-1.7l-3.3-.9l-3.2-3.9l-3.2-6l-3.2-3.8l-3.2-1.3l-3.2 .2l-3.2 2.2l-3.2 3.7l-3.2 1.5l-9.7-1.9l-3.2-3.7l-3.2-7.3l-3.2-4.4l-3.2-1.5l-3.2 .8l-3.2 3.3l-3.2 5.6l-3.2 6.7l-3.2 1.3l-12.9-1.7l-3.2-1.8l-3.2-6.6l-3.2-4.9l-3.2-1.2l-3.2-.5z" fill="url(#q50)"/>
<path d="M966 265.3l6.4 .9l3.2 .9l3.2 4l3.2 8.7l3.2 2.4l12.8 1.8l3.3-.8l3.2-6.7l3.2-5.9l3.2-3.5l3.2-1.1l3.2 1.4l3.2 4l3.2 7.4l3.2 4.4l3.2 .7l3.2 .3l3.3-1.9l3.2-3.9l3.2-2.1l3.2 .2l3.2 1.7l3.2 3.9l3.2 6l3.2 3.9l3.2 .9l12.9 1.7l3.2-.7l6.4-9l3.2-2.1l3.2-.2l3.2 1.5l3.2 3.7l3.2 4.6l3.3 1.6l3.2 .4l3.2-.8l3.2-6.3l3.2-4.8l3.2-1.8l3.2 .7l3.2 3.2l3.2 5.5l3.2 8.3l3.2 4.4l3.3 .7l9.6 1.3l3.2 .1l3.2-3.9l3.2-7.2l3.2-1.3l6.4 .6l3.3 .5l3.2 1l1.7-2.2l-9.6-1.3l-3.2 .7l-6.4 10.4l-3.2 .4l-12.9-1.9l-3.2-2.6l-3.2-8l-3.2-6.2l-3.2-4l-3.2-1.5l-3.2 1l-3.2 3.8l-3.2 6.5l-3.3 2.4l-6.4-.6l-3.2-1.3l-3.2-4.4l-3.2-3.7l-3.2-1.7l-3.2 0l-3.2 1.9l-6.4 9l-3.3 .7l-12.8-1.8l-3.2-.8l-3.2-4l-3.2-5.9l-3.2-3.9l-3.2-1.4l-3.2 .1l-3.3 2.1l-3.2 3.7l-3.2 1.6l-6.4-1l-3.2-1.2l-6.4-12.5l-3.2-3.2l-3.2-.5l-3.3 1.8l-3.2 4.2l-3.2 6.8l-3.2 4.7l-3.2 .1l-9.6-1.3l-3.2-.7l-3.2-3.9l-3.2-7.5l-3.3-2.7l-3.2-.8l-3.2-.4z" fill="url(#q49)"/>
<path d="M964.9 266.4l6.4 .9l3.2 .6l3.2 2.1l3.3 8l3.2 5.4l3.2 .9l9.6 1.3l3.2 .1l3.2-4l3.2-7.2l3.2-4.5l3.2-2.1l3.3 .3l3.2 2.9l3.2 5.9l3.2 6.9l3.2 1.5l3.2 .3l3.2-2.1l3.2-4l3.2-2.1l3.2 .3l3.3 1.8l3.2 4l3.2 6.1l3.2 3.9l3.2 .9l12.8 1.7l3.2-.7l6.5-9.1l3.2-2.2l3.2-.4l3.2 1.4l3.2 3.9l3.2 4.8l3.2 1.6l3.2 .3l3.2-3.1l3.2-6.6l3.2-3.3l3.3-.8l3.2 1.8l3.2 4.2l3.2 6.7l3.2 7.9l3.2 2l12.8 1.8l3.3-.9l3.2-7.2l3.2-4.5l3.2-.3l9.6 1.3l3.2 3.1l1.8-4.4l-3.2-.6l-6.4-.9l-3.2 0l-3.3 2.9l-3.2 7.1l-3.2 2l-6.4-.7l-6.4-.9l-3.2-1.2l-3.2-6.3l-3.2-7.5l-3.2-4.8l-3.3-2.5l-3.2-.1l-3.2 2.6l-3.2 5.8l-3.2 4.8l-3.2 .2l-3.2-.4l-3.2-1.5l-3.2-4.5l-3.2-3.7l-3.3-1.6l-3.2 .1l-3.2 2l-6.4 9l-3.2 .7l-12.8-1.7l-3.2-.9l-3.3-3.9l-3.2-6l-3.2-3.9l-3.2-1.6l-3.2 0l-3.2 2.1l-3.2 3.7l-3.2 1.9l-3.2-.4l-3.2-.6l-3.2-2.7l-3.3-7.4l-3.2-4.9l-3.2-2.2l-3.2 .5l-3.2 2.8l-3.2 5l-3.2 7.3l-3.2 2.2l-9.7-1.2l-3.2-.5l-3.2-1.4l-3.2-6.8l-3.2-5.9l-3.2-1.4l-6.4-1z" fill="url(#q48)"/>
<path d="M963.9 268l6.4 .7l3.2 .5l3.2 1.1l3.2 5l3.2 8.5l3.2 2l12.9 1.7l3.2-1.3l3.2-7.3l3.2-5.6l3.2-3.2l3.2-.7l3.2 1.9l3.2 4.4l3.2 7.7l3.3 3.4l3.2 .4l3.2-2.2l3.2-4.2l3.2-2.2l3.2 .4l3.2 2l3.2 4.1l3.2 6.1l3.2 4l3.2 .8l12.9 1.8l3.2-.7l6.4-9.2l3.2-2.3l3.2-.6l3.2 1.4l3.2 4l3.3 4.9l3.2 1.8l3.2-.4l3.2-5.7l3.2-5.3l3.2-2.3l3.2 .4l3.2 2.7l3.2 5.2l3.2 8.2l3.3 5.4l3.2 .9l9.6 1.3l3.2 .2l3.2-3.2l3.2-7.9l3.2-1.9l3.2 .1l6.5 .9l3.2 1.2l3.2 6l1.7-7.3l-3.2-1.6l-6.4-1l-3.2-.2l-3.2 1l-3.2 6.4l-3.2 4.9l-3.2 .2l-9.7-1.3l-3.2-.7l-3.2-3.6l-3.2-8.2l-3.2-5.9l-3.2-3.5l-3.2-1l-3.2 1.5l-3.2 4.3l-3.2 6.5l-3.2 1.5l-3.3-.4l-3.2-1.6l-3.2-4.7l-3.2-3.8l-3.2-1.5l-3.2 .3l-3.2 2.2l-6.4 9l-3.2 .7l-12.9-1.7l-3.2-.9l-3.2-3.9l-3.2-6.1l-3.2-3.9l-3.2-1.7l-3.2-.2l-3.2 2l-3.3 4l-3.2 1.9l-3.2-.3l-3.2-.9l-3.2-5.1l-3.2-7l-3.2-3.7l-3.2-1l-3.2 1.4l-3.2 3.8l-3.2 6.3l-3.3 5.8l-3.2 .6l-9.6-1.3l-3.2-.6l-3.2-3.3l-3.2-8.5l-3.2-3.4l-3.2-.9l-6.5-.9z" fill="url(#q47)"/>
<path d="M962.8 270.8l3.2-1l6.4 .9l3.3 .7l3.2 2.4l3.2 8.6l3.2 4.7l3.2 .8l9.6 1.3l3.2-.1l3.2-5.3l3.3-6.9l3.2-4.1l3.2-1.7l3.2 .7l3.2 3.4l3.2 6.7l3.2 6l3.2 .8l3.2-2.2l3.2-4.4l3.2-2.3l3.3 .4l3.2 2.2l3.2 4.2l3.2 6.2l3.2 3.9l3.2 .9l12.8 1.7l3.2-.7l6.5-9.3l3.2-2.5l3.2-.7l3.2 1.5l3.2 4.1l3.2 5.1l3.2 1.8l3.2-2.1l3.2-6.9l3.3-3.8l3.2-1.2l3.2 1.3l3.2 3.8l3.2 6.3l3.2 8.4l3.2 2.8l12.8 1.9l3.3-.6l3.2-6.6l3.2-5.4l3.2-.5l6.4 .7l3.2 .6l3.2 3.7l3.2 5.7l1.8-7.3l-3.2-3.9l-3.2-.8l-6.4-.8l-3.2 .2l-3.3 3.7l-3.2 7.4l-3.2 1.6l-9.6-1.3l-3.2-.5l-3.2-1.6l-6.4-14.3l-3.2-4.5l-3.3-2.1l-3.2 .5l-3.2 3l-3.2 6.2l-3.2 3.9l-3.2-.1l-3.2-1.7l-3.2-4.8l-3.2-3.9l-3.2-1.4l-3.2 .4l-3.3 2.3l-6.4 9.1l-3.2 .7l-12.8-1.8l-3.2-.8l-3.2-4l-3.3-6l-3.2-4.1l-3.2-1.9l-3.2-.3l-3.2 2.1l-3.2 4.1l-3.2 2.1l-3.2-.3l-3.2-2.1l-3.2-7.1l-3.2-5.4l-3.3-2.6l-3.2 0l-3.2 2.4l-3.2 4.8l-3.2 7.3l-3.2 3.1l-3.2-.1l-9.6-1.4l-3.2-1.2l-3.3-6.3l-3.2-7.1l-3.2-1.8l-6.4-1l-3.2-.4z" fill="url(#q46)"/>
<path d="M961.8 275.3l3.2-3.8l3.2 .2l6.4 .9l3.2 1.3l3.2 5.9l3.2 8l3.3 1.6l9.6 1.4l3.2 .2l3.2-2.5l3.2-7.6l3.2-5.1l3.2-2.6l3.2-.3l3.2 2.4l3.3 5.1l3.2 7.7l3.2 2.1l3.2-2.3l3.2-4.5l3.2-2.4l3.2 .4l3.2 2.3l3.2 4.4l3.2 6.2l3.2 4l3.3 .9l12.8 1.7l3.2-.7l6.4-9.5l3.2-2.6l3.2-.8l3.3 1.5l3.2 4.3l3.2 5.2l3.2 1.5l3.2-4.6l3.2-6.1l3.2-2.8l3.2-.2l3.2 2.3l3.2 4.8l3.2 7.6l3.3 6.8l3.2 1.2l9.6 1.4l3.2 .3l3.2-2.6l3.2-8.1l3.2-2.5l3.2 .1l6.5 .8l3.2 1.6l3.2 6.2l3.2 2.8l1.8-4.8l-3.2-5.8l-3.3-2l-6.4-.9l-3.2-.2l-3.2 1.4l-3.2 7.2l-3.2 4.3l-3.2 0l-9.7-1.3l-3.2-.8l-3.2-4.7l-3.2-8.2l-3.2-5.5l-3.2-3.1l-3.2-.6l-3.2 1.9l-3.2 4.9l-3.2 6.1l-3.2 .8l-3.3-1.7l-3.2-5l-3.2-4.1l-3.2-1.4l-3.2 .6l-3.2 2.4l-6.4 9.2l-3.2 .7l-12.9-1.7l-3.2-.9l-3.2-3.9l-3.2-6.1l-3.2-4.2l-3.2-2l-3.2-.4l-3.2 2.2l-3.2 4.2l-3.3 2.2l-3.2-.4l-3.2-4.3l-3.2-7.4l-3.2-4.1l-3.2-1.5l-3.2 1l-3.2 3.5l-3.2 5.9l-3.2 6.7l-3.2 1l-9.7-1.2l-3.2-.6l-3.2-2.8l-3.2-8.6l-3.2-4.2l-3.2-.9l-6.4-1l-3.2 .2z" fill="url(#q45)"/>
<path d="M960.7 280l3.2-5.5l3.3-1.3l6.4 .9l3.2 .7l3.2 3.1l3.2 8.9l3.2 4l3.2 .6l9.6 1.3l3.3-.6l6.4-12.8l3.2-3.7l3.2-1.2l3.2 1.3l3.2 3.9l3.2 7.1l3.2 4.8l3.2-2l3.2-4.7l3.3-2.6l3.2 .3l3.2 2.4l3.2 4.6l3.2 6.3l3.2 4l3.2 .9l12.9 1.8l3.2-.8l3.2-4.6l3.2-5l3.2-2.8l3.2-.9l3.2 1.7l3.2 4.5l3.2 5.2l3.2 .2l3.2-6.5l3.3-4.5l3.2-1.8l3.2 .9l3.2 3.3l3.2 5.7l3.2 8.6l3.2 4.1l3.2 .6l9.6 1.4l3.3-.3l6.4-12.2l3.2-.8l6.4 .8l3.2 .6l3.2 4.2l3.2 5.3l3.2 .9l1.8-2.9l-3.2-4.9l-3.2-4.4l-3.2-.9l-6.4-.8l-3.2 .3l-3.2 4.6l-3.3 7.1l-3.2 1.1l-12.8-1.8l-3.2-2.3l-3.2-8l-3.2-6.7l-3.2-4.1l-3.3-1.6l-3.2 .9l-3.2 3.6l-3.2 6.6l-3.2 2.8l-3.2-1.6l-3.2-5.2l-3.2-4.2l-3.2-1.4l-3.2 .7l-3.2 2.6l-6.5 9.3l-3.2 .7l-12.8-1.7l-3.2-.9l-3.2-4l-3.2-6.2l-3.2-4.2l-3.3-2.3l-3.2-.3l-3.2 2.3l-3.2 4.4l-3.2 2.3l-3.2-1.2l-6.4-12.8l-3.2-3l-3.2-.5l-3.3 2l-3.2 4.4l-3.2 7.1l-3.2 4.5l-3.2-.1l-9.6-1.3l-3.2-1l-3.2-5.7l-3.2-7.8l-3.3-2.1l-6.4-1.1l-3.2-.3l-3.2 1.8z" fill="url(#q44)"/>
<path d="M959.7 282.8l3.2-3.6l3.2-4.2l3.2 .1l6.4 1l3.2 1.5l3.3 6.7l3.2 7.4l3.2 1.3l9.6 1.3l3.2 .2l3.2-3.9l3.2-7.5l3.2-4.6l3.2-2.2l3.3 .2l3.2 2.9l3.2 5.5l3.2 7.1l3.2-1l3.2-4.7l3.2-2.8l3.2 .2l3.2 2.4l3.2 4.7l3.3 6.5l3.2 4.1l3.2 .9l12.8 1.7l3.2-.7l3.2-4.7l3.2-5.2l3.2-3l3.3-.8l3.2 1.8l3.2 4.7l3.2 5.1l3.2-2.3l3.2-6.4l3.2-3.2l3.2-.7l3.2 1.9l3.2 4.3l3.3 6.9l3.2 7.9l3.2 1.9l9.6 1.4l3.2 .3l3.2-1.9l3.2-8.2l3.2-3.2l3.2 0l6.5 .9l3.2 1.7l3.2 6.4l3.2 2.4l3.2 .5l1.8-2.5l-3.2-2.3l-3.2-5.9l-3.3-2.4l-6.4-.9l-3.2-.1l-3.2 1.9l-3.2 7.6l-3.2 3.6l-3.2-.1l-9.6-1.4l-3.3-1l-3.2-6l-3.2-7.9l-3.2-5.1l-3.2-2.6l-3.2-.1l-3.2 2.5l-3.2 5.6l-3.2 5.1l-3.2-1l-3.3-5.2l-3.2-4.4l-3.2-1.6l-3.2 .8l-3.2 2.7l-6.4 9.5l-3.2 .8l-12.9-1.8l-3.2-.8l-3.2-4l-3.2-6.3l-3.2-4.5l-3.2-2.3l-3.2-.3l-3.2 2.5l-3.2 4.5l-3.2 2.2l-3.2-2.9l-3.3-7.6l-3.2-4.7l-3.2-2l-3.2 .5l-3.2 3l-3.2 5.4l-3.2 7.3l-3.2 1.9l-9.7-1.1l-3.2-.6l-3.2-2.3l-3.2-8.3l-3.2-5l-3.2-1.1l-6.4-1l-3.2 .3l-3.2 4.3z" fill="url(#q43)"/>
<path d="M958.6 284.5l3.3-.8l3.2-5.4l3.2-1.7l6.4 .9l3.2 .8l3.2 3.7l3.2 9.2l3.2 3.2l6.4 1.1l6.5 .8l3.2-1.5l3.2-7.3l3.2-5.6l3.2-3.3l3.2-.8l3.2 1.7l3.2 4.3l3.2 7.4l3.3 1.2l3.2-4.6l3.2-3l3.2 0l3.2 2.5l3.2 4.8l3.2 6.7l3.2 4.1l3.2 1l12.9 1.7l3.2-.8l3.2-4.8l3.2-5.4l3.2-3l3.2-.7l3.2 1.9l3.2 4.8l3.2 4.3l6.5-9.7l3.2-2.2l3.2 .4l3.2 2.9l3.2 5.3l3.2 8.2l3.2 5.4l3.2 .9l9.7 1.4l3.2-.1l3.2-5.1l3.2-7.1l3.2-1.1l6.4 .7l3.2 .7l6.4 9.6l3.2 .8l3.3 .4l1.7-2.5l-3.2-.8l-3.2-4.5l-3.2-4.8l-3.2-1l-6.4-.8l-3.2 .6l-3.2 5.4l-3.3 6.6l-3.2 .7l-9.6-1.3l-3.2-.6l-3.2-3.4l-3.2-8.4l-3.2-6.1l-3.2-3.6l-3.2-1.1l-3.3 1.4l-3.2 4.1l-3.2 6.5l-3.2 .5l-3.2-5.2l-3.2-4.5l-3.2-1.7l-3.2 .8l-3.2 2.9l-3.2 5l-3.3 4.7l-3.2 .7l-12.8-1.7l-3.2-.9l-3.2-4l-3.2-6.4l-3.2-4.6l-3.2-2.5l-3.3-.2l-3.2 2.7l-3.2 4.6l-3.2 1.7l-3.2-5.4l-3.2-6.7l-3.2-3.6l-3.2-.9l-3.2 1.5l-3.2 3.9l-3.2 6.7l-3.3 5.7l-3.2 .4l-9.6-1.3l-3.2-.8l-3.2-5l-3.2-8.3l-3.2-2.6l-3.2-.7l-6.5-.8l-3.2 2.2l-3.2 5z" fill="url(#q42)"/>
<path d="M957.6 286l3.2 .3l3.2-2.9l3.2-4.8l3.2-.1l6.5 1l3.2 1.8l3.2 7.6l3.2 6.6l3.2 1.1l9.6 1.3l3.2-.2l3.2-5.1l3.3-7l3.2-4.3l3.2-1.8l3.2 .6l3.2 3.3l3.2 6.2l3.2 3.8l3.2-4.2l3.2-3l3.2-.2l3.2 2.4l3.3 5l3.2 6.8l3.2 4.3l3.2 .9l12.8 1.7l3.2-.8l3.2-5l3.3-5.5l3.2-3.1l3.2-.6l3.2 2.2l3.2 4.7l3.2 2.5l3.2-5.6l3.2-3.6l3.2-1.1l3.2 1.4l3.2 4l3.3 6.3l3.2 8.5l3.2 2.7l9.6 1.5l3.2 .4l3.2-1.4l3.2-8l3.2-4l3.2-.2l6.5 .9l3.2 2.2l3.2 6.5l3.2 1.9l6.4 .9l1.8-2.5l-3.2-.5l-3.2-1.9l-3.2-6l-3.3-2.6l-6.4-1l-3.2 0l-3.2 2.6l-3.2 7.8l-3.2 2.9l-3.2-.2l-9.6-1.4l-3.3-1.6l-6.4-14.4l-3.2-4.7l-3.2-2.1l-3.2 .3l-3.2 2.9l-3.2 5.9l-3.2 3.1l-6.4-9.5l-3.3-1.9l-3.2 .8l-3.2 2.9l-3.2 5.3l-3.2 4.7l-3.2 .8l-12.8-1.7l-3.3-.9l-3.2-4.2l-3.2-6.5l-3.2-4.8l-3.2-2.4l-3.2-.1l-3.2 2.8l-3.2 4.7l-3.2 .4l-3.2-7.2l-3.2-5.2l-3.3-2.5l-3.2 .1l-3.2 2.5l-3.2 4.9l-3.2 7.5l-3.2 3.1l-3.2-.2l-9.6-1.4l-3.2-1.9l-3.3-7.9l-3.2-5.8l-3.2-1.3l-6.4-1l-3.2 .5l-3.2 4.6l-3.2 2.7z" fill="url(#q41)"/>
<path d="M956.6 287.5l3.2 .4l3.2-.4l3.2-5.2l3.2-2.3l6.4 .9l3.2 1l3.2 4.3l3.2 9.2l3.3 2.6l9.6 1.5l3.2 .2l3.2-2.2l3.2-7.7l3.2-5.3l3.2-2.9l3.2-.3l3.2 2.2l3.3 4.6l3.2 5l3.2-2.4l3.2-3.1l3.2-.3l3.2 2.3l3.2 5l3.2 7l3.2 4.4l3.2 1l12.9 1.7l3.2-1l3.2-5.1l3.2-5.6l3.2-3.1l3.2-.4l3.2 2.2l3.2 4.3l3.3-.3l3.2-4.3l3.2-2.6l3.2 0l3.2 2.4l3.2 5l3.2 7.8l3.2 6.6l3.2 1.2l9.7 1.4l3.2 0l3.2-4.3l3.2-7.7l3.2-1.5l3.2 .2l3.2 .4l3.2 .8l3.2 5.3l3.2 4.3l6.5 1.1l3.2 .5l1.7-2.6l-3.2-.4l-3.2-.7l-3.2-4l-3.2-5.2l-3.2-1.2l-6.4-.7l-3.2 .8l-6.5 12.2l-3.2 .4l-9.6-1.3l-3.2-.8l-3.2-4.6l-3.2-8.3l-3.2-5.6l-3.2-3.2l-3.2-.8l-3.3 1.9l-3.2 4.6l-3.2 5l-3.2-3.8l-3.2-4.7l-3.2-2.1l-3.2 .7l-3.2 3.1l-3.2 5.4l-3.2 4.8l-3.2 .8l-12.9-1.7l-3.2-.9l-3.2-4.2l-3.2-6.7l-3.2-4.9l-3.2-2.4l-3.2 0l-3.3 3l-3.2 4.5l-3.2-2l-3.2-7l-3.2-4l-3.2-1.4l-3.2 1.1l-3.2 3.6l-3.2 6l-3.2 6.7l-3.2 1l-9.7-1.2l-3.2-.8l-3.2-4.2l-3.2-8.7l-3.2-3.1l-3.2-.8l-3.2-.5l-3.2-.2l-3.2 2.6l-3.3 4.7l-3.2 .5z" fill="url(#q40)"/>
<path d="M955.5 289l6.4 .8l3.2-2.5l3.3-5.1l3.2-.3l6.4 1.1l3.2 2.1l3.2 8.3l3.2 5.8l3.2 1l9.6 1.2l3.3-.4l3.2-6.3l3.2-6.7l3.2-3.9l3.2-1.3l3.2 1.1l3.2 3.5l3.2 4.1l3.2 .4l3.2-2.8l3.3-.5l3.2 2.1l3.2 5.1l3.2 7.1l3.2 4.5l3.2 1.1l9.6 1.4l3.2 .3l3.2-1l3.3-5.3l3.2-5.8l3.2-3l3.2-.2l3.2 2.3l3.2 2.8l3.2-2l3.2-2.6l3.2-1.6l3.2 .9l3.2 3.5l3.3 6.1l3.2 8.8l3.2 3.6l6.4 1.2l6.4 .8l3.2-1l3.2-7.6l3.2-4.8l3.3-.3l6.4 .8l3.2 2.6l3.2 6.4l3.2 1.6l9.6 1.4l1.8-2.6l-6.4-.9l-3.2-1.5l-3.2-5.8l-3.2-3.2l-6.5-1l-3.2 .1l-3.2 3.2l-3.2 8l-3.2 2.2l-6.4-.7l-6.4-1l-3.3-2.3l-3.2-7.9l-3.2-6.7l-3.2-4.4l-3.2-1.7l-3.2 .8l-3.2 3.4l-3.2 5.1l-3.2-1.6l-3.2-4.6l-3.2-2.2l-3.3 .6l-3.2 3.1l-3.2 5.5l-3.2 5l-3.2 .9l-12.8-1.7l-3.2-1l-3.2-4.3l-3.3-6.9l-3.2-4.9l-3.2-2.4l-3.2 .2l-3.2 3.1l-3.2 3.6l-3.2-4.2l-3.2-5.6l-3.2-3l-3.2-.4l-3.3 2.2l-3.2 4.5l-3.2 7.2l-3.2 4.3l-3.2 .1l-9.6-1.4l-3.2-1.5l-3.2-7.4l-3.2-6.6l-3.3-1.6l-6.4-1l-3.2 .8l-3.2 4.9l-3.2 2.2l-3.2-.3z" fill="url(#q39)"/>
<path d="M954.5 290.5l6.4 .8l3.2-.2l3.2-4.9l3.2-2.7l6.4 .8l3.2 1.2l3.3 5.1l3.2 8.9l3.2 2.1l9.6 1.4l3.2 .2l3.2-3.4l3.2-7.9l3.2-4.9l3.3-2.4l3.2 .1l9.6 7.4l3.2-1.5l3.2-.6l3.2 2l3.2 4.9l3.2 7.2l3.2 4.7l3.3 1.2l9.6 1.4l3.2 .3l3.2-1.2l6.4-11.2l3.2-2.9l3.2-.1l3.2 2.1l3.3 .2l3.2-1.4l3.2-1.6l3.2-.5l3.2 1.9l3.2 4.6l6.4 15.2l3.2 1.6l9.7 1.5l3.2 .1l3.2-3.5l3.2-8.3l3.2-2l3.2 .2l3.2 .4l3.2 1l3.2 5.6l3.2 3.9l12.9 2.1l1.8-2.7l-9.7-1.5l-3.2-3.5l-3.2-5.6l-3.2-1.4l-6.4-.7l-3.2 1.2l-3.2 6.9l-3.2 5.3l-3.3 .2l-9.6-1.3l-3.2-1.1l-3.2-5.7l-3.2-8.1l-3.2-5.3l-3.2-2.8l-3.2-.2l-3.2 2.3l-3.3 3.8l-3.2 .8l-3.2-3.8l-3.2-2.3l-3.2 .4l-3.2 3l-3.2 5.7l-3.2 5.2l-3.2 .9l-12.9-1.7l-3.2-1l-3.2-4.4l-3.2-7.1l-3.2-5l-3.2-2.2l-3.2 .4l-3.2 3l-3.2 1.5l-3.3-4.7l-3.2-4.3l-3.2-1.9l-3.2 .6l-3.2 3.2l-3.2 5.8l-3.2 7.2l-3.2 1.8l-9.7-1.2l-3.2-.7l-3.2-3.6l-3.2-8.9l-3.2-3.7l-3.2-.9l-3.2-.5l-3.2-.1l-3.2 3.1l-3.2 4.4l-3.2 .2l-3.3-.4z" fill="url(#q38)"/>
<path d="M953.4 292l9.7 1.2l3.2-1.9l3.2-5.4l3.2-.6l3.2 .4l3.2 .7l3.2 2.7l3.2 8.8l3.2 5l3.2 .8l9.7 1.3l3.2-1.2l3.2-7.4l3.2-6.1l3.2-3.6l3.2-.8l6.4 2.7l3.2 2.4l3.3 .9l3.2-.5l3.2 1.8l3.2 4.9l3.2 7.2l3.2 4.9l3.2 1.3l6.4 1.1l3.2 .4l3.2 .2l3.3-1.4l6.4-11.3l3.2-2.8l3.2 0l3.2 1.2l3.2-2.2l3.2 .1l3.2-.6l3.2 .5l3.3 3.1l3.2 5.6l3.2 8.7l3.2 5.1l3.2 .9l9.6 1.3l3.2-.6l3.2-7l3.2-5.7l3.3-.6l6.4 .9l3.2 3.2l3.2 6l3.2 1.3l9.6 1.4l3.2 1l1.8-3.1l-9.6-1.4l-3.2-1.3l-3.2-5.6l-3.2-3.5l-3.3-.6l-3.2-.4l-3.2 .2l-3.2 3.9l-3.2 7.9l-3.2 1.7l-9.6-1.2l-3.2-.7l-3.2-3l-3.3-8.5l-3.2-6.5l-3.2-3.8l-3.2-1.2l-3.2 1.3l-3.2 2.3l-3.2 1.8l-3.2-2l-3.2-2.3l-3.2 .2l-3.2 3l-3.3 5.7l-3.2 5.4l-3.2 1l-9.6-1.1l-3.2-.5l-3.2-1.2l-3.2-4.5l-3.2-7.2l-3.3-5l-3.2-2l-3.2 .4l-3.2 2.4l-3.2-1l-3.2-3.5l-3.2-3.2l-3.2-.9l-3.2 1.7l-3.2 4.2l-3.2 7l-3.3 5.5l-3.2 .2l-9.6-1.3l-3.2-1.3l-3.2-6.7l-3.2-7.4l-3.2-1.8l-6.5-1l-3.2 1l-3.2 5l-3.2 1.9l-6.4-.9z" fill="url(#q37)"/>
<path d="M952.4 293.6l9.6 1.1l3.2 0l3.2-4.5l3.2-3.2l3.3 .2l3.2 .5l3.2 1.4l3.2 6l3.2 8.4l3.2 1.8l9.6 1.3l3.2-.1l3.2-5l3.3-7.6l3.2-4.6l3.2-2l6.4 .7l3.2 1l3.2 3.5l3.2 .4l3.2 1.6l3.2 4.8l3.2 7.2l3.3 5l3.2 1.5l6.4 1.1l3.2 .4l3.2 .1l3.2-1.5l6.4-11.4l3.2-2.6l3.3 0l3.2-1.2l3.2-2.6l3.2 1.3l3.2 .5l3.2 1.6l3.2 4.3l3.2 6.8l3.2 8.7l3.2 2.6l9.7 1.5l3.2 .2l3.2-2.8l3.2-8.5l3.2-2.6l3.2 0l3.2 .4l3.2 1.3l3.2 6l3.2 3.3l9.7 1.4l3.2 .8l3.2 1.9l1.8-4l-3.2-.8l-9.7-1.4l-3.2-3.1l-3.2-5.8l-3.2-1.6l-3.2-.5l-3.2-.2l-3.2 1.6l-3.2 7.5l-3.2 4.6l-3.3 0l-9.6-1.4l-3.2-1.4l-3.2-6.9l-3.2-7.8l-3.2-4.9l-3.2-2.3l-3.2 .2l-3.2 1.3l-3.3 1l-3.2 .5l-3.2-1.9l-3.2 .1l-3.2 2.8l-6.4 11.3l-3.2 1.2l-6.4-.6l-6.5-1l-3.2-1.2l-3.2-4.8l-3.2-7.2l-3.2-5l-3.2-1.9l-3.2 .6l-3.2 .8l-6.4-4.6l-3.3-2.1l-3.2 .1l-3.2 2.8l-3.2 5.3l-3.2 7.7l-3.2 2.7l-6.4-.6l-6.4-1.1l-3.2-3l-3.3-8.8l-3.2-4.5l-3.2-1l-3.2-.5l-3.2 0l-3.2 3.5l-3.2 4l-3.2 .1l-6.4-.9z" fill="url(#q36)"/>
<path d="M951.3 295.6l3.3-.2l9.6 1.2l3.2-1.4l3.2-5.6l3.2-.9l3.2 .4l3.2 .8l3.2 3.2l3.2 9.3l3.3 4.2l3.2 .7l6.4 .9l3.2 .3l3.2-2.3l3.2-8.1l3.2-5.7l3.2-3.2l6.4-1.4l3.3-.5l3.2 4.4l3.2 2.6l3.2 1.6l3.2 4.6l3.2 7.2l3.2 5.1l3.2 1.6l3.2 .8l6.5 .8l3.2 0l3.2-1.7l6.4-11.3l3.2-2.5l3.2-.6l3.2-4.1l3.2-1.2l3.2 2.3l3.2 1.5l3.3 2.7l3.2 5.4l3.2 8.4l3.2 6.7l3.2 1.1l9.6 1.4l3.2-.3l6.4-12.8l3.3-.9l3.2 .3l3.2 .5l3.2 3.6l3.2 5.9l3.2 1l6.4 .9l3.2 .7l3.2 1.4l3.3 2.8l1.7-5.1l-3.2-1.2l-9.6-1.5l-3.2-1.1l-3.2-5.2l-3.2-4.1l-3.2-.7l-3.3-.4l-3.2 .4l-3.2 4.8l-3.2 7.4l-3.2 1.3l-9.6-1.3l-3.2-.7l-3.2-4.3l-3.3-8.8l-3.2-6l-3.2-3.4l-3.2-.9l-3.2 .3l-3.2-.4l-3.2 2.3l-3.2-.5l-3.2 0l-3.2 2.7l-6.5 11.4l-3.2 1.4l-3.2-.2l-6.4-.8l-3.2-.6l-3.2-1.4l-3.2-4.9l-3.2-7.3l-3.2-4.8l-3.2-1.7l-3.3 .2l-3.2-1.7l-3.2-2l-6.4-2.1l-3.2 1.2l-3.2 3.9l-6.4 13.2l-3.2 .9l-9.7-1.3l-3.2-1.1l-3.2-6l-3.2-8l-3.2-2.3l-3.2-.6l-3.2-.4l-3.2 1.4l-3.2 5.1l-3.3 1.4l-9.6-1.2z" fill="url(#q35)"/>
<path d="M950.3 298.2l3.2-1l3.2 .1l6.4 .8l3.2 .2l3.3-4.2l3.2-3.7l3.2 .2l3.2 .6l3.2 1.6l3.2 6.8l3.2 7.9l3.2 1.3l9.6 1.3l3.3-.5l3.2-6.5l3.2-7.3l3.2-4.3l6.4-3.6l3.2-1.4l3.2 3.3l3.2 5.5l3.2 2l3.3 4.5l3.2 7.1l3.2 5.2l3.2 1.8l3.2 .8l3.2 .5l3.2 .3l3.2-.2l3.2-1.8l6.4-11.2l6.5-4.9l3.2-5.3l3.2 .2l3.2 3.3l3.2 2.6l3.2 3.9l3.2 6.4l3.2 9.4l3.2 3.8l3.2 .6l6.5 1l3.2 .2l3.2-2l3.2-8.6l3.2-3.4l3.2-.1l3.2 .4l3.2 1.6l3.2 6.2l3.3 2.8l9.6 1.5l3.2 1.1l3.2 2.5l3.2 2.9l1.8-5.5l-3.2-2.1l-3.2-1l-9.7-1.5l-3.2-2.6l-3.2-5.9l-3.2-2l-3.2-.5l-3.2-.1l-3.2 2.2l-3.2 7.8l-3.2 3.9l-3.2-.1l-9.7-1.4l-3.2-2.2l-3.2-8.1l-3.2-7.3l-3.2-4.6l-3.2-1.9l-3.2-.8l-3.2-1.6l-6.5 4.2l-3.2 .2l-3.2 2.6l-6.4 11.4l-3.2 1.5l-3.2 0l-6.4-.9l-3.2-.7l-3.3-1.5l-3.2-5l-3.2-7.3l-3.2-4.7l-3.2-1.6l-3.2-1l-3.2-3.8l-3.2-.6l-6.4 0l-3.2 2.3l-3.3 5l-3.2 7.8l-3.2 4.1l-3.2 0l-9.6-1.4l-3.2-2.5l-3.2-8.7l-3.2-5.2l-3.3-1.1l-3.2-.5l-3.2 0l-3.2 4l-3.2 3.6l-3.2-.1l-6.4-.9l-3.2-.1z" fill="url(#q34)"/>
<path d="M949.3 301.5l3.2-2l3.2-.6l6.4 .7l3.2 .4l3.2-1l3.2-5.5l3.2-1.4l3.2 .5l3.2 .9l3.3 3.8l3.2 9.5l3.2 3.5l6.4 1l3.2 .5l3.2 .1l3.2-3.6l3.2-8.5l3.2-5.4l6.5-5.8l3.2-2.5l3.2 1.9l3.2 7.2l3.2 3.6l3.2 4.4l3.2 7l3.2 5.2l3.2 1.9l3.2 .9l3.3 .6l3.2 .2l3.2-.3l3.2-1.9l6.4-11l3.2-2.7l3.2-5.5l3.2-4.5l3.2 1.3l3.2 4.4l3.3 3.6l3.2 5.1l6.4 16.2l3.2 1.7l9.6 1.4l3.2-.2l3.2-5.4l3.3-7.3l3.2-1.3l3.2 .3l3.2 .6l3.2 4.3l3.2 5.3l3.2 .9l6.4 .9l3.2 .8l3.2 2l3.3 3.1l3.2 2l1.7-4.6l-3.2-2.9l-3.2-1.7l-3.2-.8l-6.4-.9l-3.2-.9l-3.2-5l-3.2-4.3l-3.2-.9l-3.3-.3l-3.2 .6l-3.2 5.6l-3.2 7l-3.2 .8l-9.6-1.3l-3.2-1l-3.2-5.8l-3.2-8.7l-3.3-5.7l-3.2-3l-3.2-1.9l-3.2-2.6l-3.2 .7l-3.2 4.5l-3.2 1.2l-3.2 2.5l-6.4 11.3l-3.3 1.7l-3.2 .1l-6.4-.9l-3.2-.7l-3.2-1.7l-3.2-5.1l-3.2-7.2l-3.2-4.6l-3.2-1.7l-3.2-3.5l-3.3-4l-3.2 .7l-6.4 2.1l-3.2 3.5l-3.2 6.2l-3.2 7.7l-3.2 1.7l-9.6-1.2l-3.3-.9l-3.2-5.3l-3.2-8.6l-3.2-2.7l-3.2-.7l-3.2-.4l-3.2 1.8l-3.2 5.1l-3.2 1l-9.7-1.1l-3.2 .4z" fill="url(#q33)"/>
<path d="M948.2 304.7l3.2-2.1l3.2-1.6l3.2-.2l6.5 .8l3.2 .2l3.2-3.5l3.2-4.3l3.2 0l3.2 .6l3.2 1.9l3.2 7.8l3.2 6.9l3.2 1.2l9.7 1.3l3.2-1.2l3.2-8l3.2-6.6l3.2-4.2l6.4-7.5l3.2 .7l6.5 13.2l3.2 4.6l3.2 7l3.2 5.1l3.2 2l3.2 1l3.2 .5l3.2 .2l3.2-.3l3.2-1.9l6.5-11l3.2-4l3.2-7.7l3.2-2.9l3.2 2.3l3.2 5.5l3.2 4.8l3.2 6.2l3.2 9.3l3.2 5.4l3.3 .8l9.6 1.3l3.2-1.6l3.2-8.4l3.2-4.1l3.2-.2l3.2 .4l3.2 1.8l3.2 6.4l3.3 2.4l6.4 .9l3.2 .7l3.2 1.5l3.2 3l3.2 2.5l3.2 .4l1.8-2.9l-6.4-5.3l-3.2-1.4l-9.7-1.5l-3.2-2.3l-3.2-5.9l-3.2-2.4l-3.2-.4l-3.2 0l-3.2 2.7l-3.2 8.2l-3.2 3.1l-3.2-.2l-6.5-.9l-3.2-.6l-3.2-3.2l-3.2-9l-3.2-6.9l-3.2-4.2l-3.2-2.9l-3.2-3.7l-3.2-.5l-3.2 5.1l-3.3 3.4l-3.2 2.4l-6.4 11.2l-3.2 1.8l-3.2 .2l-3.2-.2l-3.2-.5l-3.2-.9l-3.2-1.8l-3.3-5.2l-3.2-7.1l-3.2-4.4l-3.2-2.5l-3.2-6.1l-3.2-2.8l-3.2 1.7l-6.4 4.3l-3.2 4.6l-3.2 7.6l-3.3 5.7l-3.2 .3l-9.6-1.3l-3.2-2l-3.2-8.4l-3.2-5.9l-3.2-1.4l-3.2-.5l-3.2 .3l-3.3 4.2l-3.2 3.2l-3.2-.2l-6.4-.8l-3.2 .1l-3.2 1.3z" fill="url(#q32)"/>
<path d="M947.2 307l3.2-1l3.2-2.2l3.2-1.2l3.2 0l6.4 .9l3.2-.8l3.2-5.4l3.3-1.8l3.2 .5l3.2 1l3.2 4.5l3.2 9.5l3.2 2.9l6.4 1l3.2 .4l3.2 0l3.2-5l3.3-8.4l6.4-10.3l3.2-4.7l3.2-.4l3.2 5l3.2 9.2l3.2 5.8l3.2 6.9l3.2 5.1l3.2 1.9l3.3 .9l3.2 .6l3.2 .2l3.2-.3l3.2-1.8l6.4-11.2l3.2-6.9l3.2-7.5l3.2-1.6l3.3 3.5l3.2 6.6l3.2 6l3.2 7.5l3.2 9.2l3.2 2.4l9.6 1.5l3.2 0l3.2-4.6l3.3-8l3.2-1.7l3.2 .2l3.2 .7l6.4 9.6l3.2 .8l6.4 1l3.2 1.2l3.2 2.6l3.3 2.9l3.2 .9l3.2-2.3l1.8 .4l-3.3-1.6l-3.2-2.9l-3.2-2.3l-3.2-1l-6.4-1l-3.2-.8l-3.2-4.3l-3.2-5l-3.2-1l-3.3-.3l-3.2 1l-6.4 12.7l-3.2 .5l-9.6-1.3l-3.2-1.5l-3.2-7.4l-3.2-8.3l-3.3-5.4l-3.2-3.9l-3.2-4.8l-3.2-1.6l-3.2 4l-3.2 6.1l-3.2 3.1l-6.4 11.1l-3.2 1.8l-3.2 .3l-3.3-.2l-3.2-.5l-3.2-1l-3.2-1.9l-3.2-5.2l-3.2-7l-6.4-8.8l-3.2-7.2l-3.2-1.5l-3.3 2.9l-6.4 6.5l-3.2 5.7l-3.2 8.3l-3.2 2.9l-3.2-.2l-6.4-.8l-3.2-.8l-3.2-4.5l-3.3-9.1l-3.2-3.2l-3.2-.8l-3.2-.3l-3.2 2.2l-3.2 4.9l-3.2 .7l-6.4-.8l-3.2-.1l-3.2 .9l-3.3 2z" fill="url(#q31)"/>
<path d="M946.1 307.3l3.2 1.4l3.2-1.6l3.3-2l3.2-.7l3.2 .2l6.4 .7l3.2-3l3.2-4.7l3.2-.1l3.2 .6l3.2 2.3l3.2 8.5l3.3 6.1l3.2 1l9.6 1.2l3.2-2l3.2-8.5l6.4-12.7l3.2-5.7l3.2-1.6l3.3 3.6l3.2 9.6l3.2 8.4l3.2 7.1l3.2 5l3.2 1.7l3.2 .9l3.2 .5l3.2 .2l3.2-.1l3.3-1.7l3.2-5.5l3.2-6.6l3.2-9.8l3.2-5.9l3.2-.5l3.2 4.6l3.2 7.7l3.2 7.1l3.2 9.1l3.2 6.5l3.3 1.1l9.6 1.3l3.2-1.1l3.2-7.9l3.2-5l3.2-.4l3.2 .3l3.2 2.2l3.2 6.4l3.3 2l6.4 1l3.2 .9l3.2 2.2l3.2 3l3.2 1.6l3.2-1.9l3.2-5.1l1.8 4.5l-3.2 .4l-3.2-2.1l-3.2-2.9l-3.2-1.9l-3.2-.8l-6.5-1l-3.2-1.8l-3.2-6l-3.2-2.7l-3.2-.5l-3.2 .1l-3.2 3.4l-3.2 8.3l-3.2 2.4l-3.2-.2l-6.5-.9l-3.2-.8l-3.2-4.4l-3.2-9.3l-3.2-6.6l-3.2-5.2l-3.2-5.8l-3.2-2.7l-3.2 2.5l-3.2 7.7l-3.3 4.9l-6.4 11l-3.2 1.8l-3.2 .4l-3.2-.2l-3.2-.6l-3.2-1l-3.2-1.9l-3.2-5.1l-3.2-6.9l-3.3-5l-3.2-7.3l-3.2-6.3l-3.2-.3l-6.4 8.2l-3.2 4.5l-6.4 14.2l-3.2 .9l-9.7-1.3l-3.2-1.7l-3.2-7.7l-3.2-6.8l-3.2-1.7l-3.2-.5l-3.2 .4l-3.2 4.7l-3.2 2.7l-9.7-1l-3.2 .5l-6.4 3.6z" fill="url(#q30)"/>
<path d="M945.1 304.7l3.2 4.7l3.2 .8l6.4-3.7l3.2-.3l6.4 .7l3.3-.4l3.2-5.2l3.2-2.2l3.2 .4l3.2 1.2l3.2 5.3l3.2 9.2l3.2 2.3l9.6 1.4l3.3-.4l3.2-6.3l3.2-8l6.4-14l3.2-2.6l3.2 2.6l3.2 8.1l3.2 11.4l3.2 7.8l3.3 4.8l3.2 1.5l3.2 .8l6.4 .8l3.2 0l3.2-1.5l3.2-5.5l3.2-8.8l3.2-10.6l3.2-4.5l3.3 .6l3.2 5.5l3.2 8.8l3.2 8.2l3.2 9.6l3.2 3.4l6.4 1.2l3.2 .4l3.2 .1l3.2-3.8l3.3-8.4l3.2-2.2l3.2 .1l3.2 .9l3.2 5.2l3.2 4.3l3.2 .7l3.2 .4l3.2 .7l3.2 1.7l3.3 3l3.2 2.2l3.2-1.4l6.4-9.5l1.8 5.5l-3.2 3.2l-3.3-.1l-6.4-5.3l-3.2-1.4l-9.6-1.8l-3.2-4l-3.2-5.3l-3.2-1.1l-3.2-.3l-3.3 1.3l-3.2 7.1l-3.2 5.6l-3.2 .3l-9.6-1.4l-3.2-2l-6.4-16.4l-3.3-6.3l-3.2-6.9l-3.2-3.8l-3.2 1.2l-3.2 7l-3.2 7.8l-6.4 11.5l-3.2 1.7l-3.2 .3l-3.2-.2l-3.3-.6l-3.2-.9l-3.2-1.8l-3.2-5.1l-6.4-13.6l-3.2-9.3l-3.2-4.6l-3.2 .8l-6.4 10.4l-3.3 5.6l-3.2 8.5l-3.2 4l-3.2 0l-6.4-.9l-3.2-.7l-3.2-3.8l-3.2-9.2l-3.2-3.8l-3.3-1l-3.2-.2l-3.2 2.6l-3.2 4.7l-3.2 .4l-6.4-.7l-3.2 .2l-3.2 1.4l-3.2 2l-3.2 .3z" fill="url(#q29)"/>
<path d="M944 301l3.2 6.2l3.3 4.3l3.2 0l3.2-2.1l3.2-1.3l3.2 0l6.4 .7l3.2-2.4l3.2-5.1l3.2-.4l3.2 .8l3.3 2.7l3.2 9.1l3.2 5.3l3.2 .8l6.4 .9l3.2 .2l3.2-3.2l3.2-8.8l6.5-16.1l3.2-3.6l3.2 1.6l3.2 6.6l3.2 12.7l3.2 9.7l3.2 4.7l3.2 1.3l6.4 1.1l3.2 .3l3.3 .2l3.2-1.2l3.2-5.9l3.2-11.8l3.2-9.4l3.2-3.5l3.2 1.6l3.2 6.6l6.4 19.4l3.2 7.8l3.3 1.5l9.6 1.4l3.2-.7l3.2-7.3l3.2-5.9l3.2-.6l3.2 .4l3.2 2.7l3.3 6.3l3.2 1.5l6.4 1.1l3.2 1.3l6.4 5.2l3.2-.6l6.4-9.5l3.2-1.8l1.8 2.5l-3.2 4.9l-3.2 2.8l-3.2-.6l-3.2-2.8l-3.2-2.4l-3.2-1.2l-6.5-1l-3.2-1.6l-3.2-5.8l-3.2-3.1l-3.2-.5l-3.2 .3l-3.2 4.1l-3.2 8.1l-3.2 1.9l-6.4-.7l-3.3-.5l-3.2-1l-3.2-5.6l-3.2-9.2l-3.2-7.4l-3.2-8.1l-3.2-4.9l-3.2 .3l-3.2 5.4l-3.2 10l-3.3 7.3l-3.2 5.5l-3.2 1.6l-3.2 .1l-3.2-.2l-3.2-.6l-3.2-.8l-3.2-1.6l-3.2-5l-3.2-7.3l-6.5-18.4l-3.2-3.3l-3.2 1.8l-6.4 12.6l-3.2 6.9l-3.2 7.9l-3.2 1.5l-9.6-1.2l-3.3-1.4l-3.2-7.1l-3.2-7.5l-3.2-2l-3.2-.6l-3.2 .8l-3.2 4.8l-3.2 2.3l-6.4-.7l-3.3-.1l-3.2 1l-3.2 2.1l-3.2 .8l-3.2-2.4z" fill="url(#q28)"/>
<path d="M943 299.3l3.2 4.2l3.2 6.2l3.2 3.6l3.2-.5l3.2-2.1l3.2-.9l3.3 .2l3.2 .4l3.2-.2l3.2-4.9l3.2-2.7l3.2 .4l3.2 1.4l3.2 6.2l3.2 8.7l3.2 1.8l9.7 1.3l3.2-.9l3.2-7.4l3.2-9.6l3.2-8.9l3.2-4.5l3.2 .5l3.2 5.4l3.2 11.7l3.3 12.6l3.2 4.8l3.2 1.2l9.6 1.4l3.2 .2l3.2-1.1l3.2-7.4l3.2-13.4l3.3-7.6l3.2-2.5l3.2 2.6l3.2 7.6l6.4 21.5l3.2 4.6l3.2 .8l6.4 .9l3.2 .2l3.3-3l3.2-8.7l3.2-2.8l3.2 0l3.2 1l3.2 5.7l3.2 3.8l6.4 1.1l3.2 .9l3.2 2.4l3.3 2.8l3.2 0l3.2-4.2l3.2-5l3.2-2.1l3.2 0l1.8-.9l-3.2 3.7l-3.2 4.9l-3.3 2.4l-3.2-1.3l-3.2-2.9l-3.2-2l-3.2-.9l-6.4-1.1l-3.2-3.4l-3.2-5.6l-3.2-1.4l-3.2-.2l-3.3 1.7l-3.2 7.7l-3.2 4.8l-3.2 .2l-6.4-.9l-3.2-.6l-3.2-2.9l-9.6-26.8l-3.3-5.9l-3.2-.8l-3.2 4.2l-6.4 19.9l-3.2 5.6l-3.2 1.4l-3.2 0l-6.4-.8l-3.3-.7l-3.2-1.5l-3.2-4.8l-3.2-8.3l-3.2-11.8l-3.2-7.7l-3.2-2.3l-3.2 2.9l-6.4 14.7l-3.2 8.2l-3.3 5.4l-3.2 .1l-6.4-.8l-3.2-.6l-3.2-3.2l-3.2-9.2l-3.2-4.5l-3.2-1.1l-3.2-.2l-3.2 3.2l-3.3 4.3l-3.2 .2l-6.4-.6l-3.2 .6l-3.2 1.8l-3.2 1.4l-3.2-1.8l-3.2-5.2z" fill="url(#q27)"/>
<path d="M941.9 299.9l3.3 1.6l3.2 4.4l3.2 6.1l3.2 3l3.2-1.1l3.2-1.8l3.2-.5l6.4 .7l3.2-2l3.3-5.3l3.2-.6l3.2 .8l3.2 3.3l3.2 9.6l3.2 4.3l3.2 .8l6.4 .8l3.2 .1l3.2-4.3l3.3-11l3.2-9.8l3.2-5.5l3.2-.4l3.2 4.4l3.2 9.8l3.2 14.5l3.2 6.1l3.2 1l12.9 1.7l3.2-1.2l3.2-10.2l3.2-12.5l3.2-6.4l3.2-1.3l3.2 3.5l3.2 8.5l3.2 12.1l3.3 9.9l3.2 2l9.6 1.4l3.2-.4l6.4-13.2l3.2-1l3.2 .4l3.2 3.1l3.3 6.1l3.2 1.3l3.2 .5l3.2 .7l3.2 1.9l3.2 2.9l3.2 .7l3.2-3.7l3.2-5.1l3.2-2.3l3.3-.2l3.2 .4l1.7-2.3l-3.2 1.2l-3.2 4l-3.2 4.8l-3.2 1.7l-3.2-1.8l-3.2-2.7l-3.2-1.6l-3.2-.7l-3.3-.5l-3.2-1.3l-3.2-5.5l-3.2-3.6l-3.2-.6l-3.2 .5l-3.2 4.9l-3.2 7.7l-3.2 1.4l-9.7-1.3l-3.2-1.2l-3.2-6.9l-6.4-20.1l-3.2-6.8l-3.2-1.9l-3.2 3.1l-3.2 8.9l-3.2 12.2l-3.2 6.4l-3.3 1.2l-3.2-.2l-6.4-.8l-3.2-.6l-3.2-1.3l-3.2-4.7l-3.2-10.5l-3.2-12.4l-3.2-6.3l-3.3-1.3l-3.2 3.9l-9.6 25.2l-3.2 2.5l-6.4-.7l-3.2-.4l-3.2-1.2l-3.2-6.3l-3.3-8.2l-3.2-2.3l-3.2-.7l-3.2 1.1l-3.2 5.1l-3.2 1.7l-6.4-.7l-3.2 .3l-6.4 3.2l-3.3-1.2l-3.2-4.8l-3.2-5.6z" fill="url(#q26)"/>
<path d="M940.9 301.3l3.2 .6l3.2 1.8l3.2 4.7l3.2 5.8l3.3 2.3l6.4-2.9l3.2-.1l3.2 .4l3.2-.1l3.2-4.4l3.2-3.3l3.2 .4l3.2 1.7l3.2 6.9l3.3 8.1l3.2 1.5l9.6 1.3l3.2-1.7l6.4-21.4l3.2-6.5l3.2-1.3l3.3 3.2l3.2 8.5l3.2 13.9l3.2 8.6l3.2 1.2l12.8 1.7l3.2-2.3l3.2-12.3l3.3-10.6l3.2-5.2l3.2-.4l3.2 4.4l3.2 9.5l3.2 13.4l3.2 7l3.2 1l6.4 .9l3.2 .3l3.3-2.3l3.2-8.9l3.2-3.4l3.2-.1l3.2 1.2l3.2 6l3.2 3.3l6.4 1.2l3.2 1.4l3.3 2.6l3.2 1.4l3.2-3.1l3.2-5.1l3.2-2.6l3.2-.3l6.4 .8l1.8-2.6l-3.2-.1l-3.2 1.5l-6.4 8.7l-3.3 1.1l-3.2-2.2l-3.2-2.5l-3.2-1.2l-6.4-1.1l-3.2-3.1l-3.2-5.8l-3.2-1.6l-3.2-.1l-3.3 2.2l-3.2 8.1l-3.2 4.1l-3.2-.1l-6.4-.9l-3.2-.6l-3.2-3.9l-6.4-21.6l-3.2-7.9l-3.3-2.9l-3.2 2.1l-3.2 7.3l-3.2 13.1l-3.2 8.3l-3.2 1.1l-6.4-.7l-6.4-1l-3.2-1l-3.3-5.3l-3.2-13.1l-3.2-11.1l-3.2-5.2l-3.2-.2l-3.2 4.8l-3.2 9.2l-3.2 10l-3.2 6.5l-3.2 .6l-6.5-.8l-3.2-.6l-3.2-2.6l-3.2-8.9l-3.2-5.4l-3.2-1.2l-3.2-.1l-3.2 3.5l-3.2 4l-3.2 .1l-3.3-.4l-3.2 0l-3.2 1.2l-3.2 1.7l-3.2-.5l-3.2-4.4l-3.2-5.6l-3.2-3.4z" fill="url(#q25)"/>
<path d="M939.9 302.8l6.4 1.1l3.2 2l3.2 4.9l3.2 5.5l3.2 1.5l3.2-1.6l3.2-.9l3.2 .1l3.3 .4l3.2-1.4l3.2-5.5l3.2-1l3.2 .9l3.2 3.9l3.2 9.7l3.2 3.7l3.2 .7l6.5 .8l3.2-.4l3.2-8l3.2-12.2l3.2-7.3l3.2-2.3l3.2 2.2l3.2 7.2l3.2 12.1l3.2 11.2l3.2 2l9.7 1.3l3.2 .2l3.2-4.6l3.2-12.4l3.2-9l3.2-4l3.2 .6l3.2 5.4l3.2 10.4l3.3 13.6l3.2 4l6.4 1.1l3.2 .4l3.2-.2l3.2-5.7l3.2-7.5l3.2-1.3l3.2 .4l3.3 3.8l3.2 5.6l3.2 1.1l3.2 .5l3.2 1.1l3.2 2.3l3.2 1.8l3.2-2.4l3.2-5l3.2-2.9l3.2-.4l9.7 1.3l1.7-2.6l-3.2-.5l-3.2 0l-3.2 1.7l-6.4 8.5l-3.2 .4l-3.2-2.4l-3.2-2.1l-3.2-.9l-3.2-.5l-3.3-1.1l-3.2-5.3l-3.2-4l-3.2-.6l-3.2 .7l-3.2 5.7l-3.2 7.3l-3.2 1l-9.7-1.4l-3.2-1.7l-3.2-9l-3.2-12.5l-3.2-8.8l-3.2-3.8l-3.2 1l-3.2 6.1l-3.2 11.9l-3.2 10.8l-3.2 1.6l-12.9-1.7l-3.2-1.1l-3.2-6.8l-3.2-14.4l-3.2-9.4l-3.2-4l-3.2 .7l-3.2 5.8l-3.3 10l-3.2 10.9l-3.2 3.6l-3.2-.2l-6.4-.9l-3.2-.9l-3.2-5.5l-3.2-8.8l-3.2-2.8l-3.3-.7l-3.2 1.4l-3.2 5.1l-3.2 1.4l-6.4-.6l-3.2 .8l-3.2 1.7l-3.2 .1l-3.2-3.9l-3.2-5.7l-3.3-3.6l-3.2-1.3z" fill="url(#q24)"/>
<path d="M938.8 304.4l6.4 .9l3.2 .7l3.3 2.1l6.4 10.1l3.2 .8l3.2-1.4l3.2-.5l6.4 .4l6.4-7.8l3.3 .3l3.2 1.9l3.2 7.9l3.2 7.2l3.2 1.3l6.4 .9l3.2 .1l3.2-4.8l3.2-12.7l3.2-8.3l3.3-3.4l3.2 1.1l3.2 5.9l3.2 10.5l3.2 12l3.2 3.9l9.6 1.5l3.2-.4l3.2-7.5l3.3-10.8l3.2-7.8l3.2-2.8l3.2 1.8l3.2 6.4l3.2 11.9l3.2 11.1l3.2 2.4l6.4 1l3.3 .3l3.2-1.7l3.2-8.6l3.2-4.2l3.2-.3l3.2 1.5l3.2 6.3l3.2 2.7l3.2 .6l3.2 .7l6.5 3.9l3.2-1.6l3.2-4.9l3.2-3l3.2-.5l9.6 1.2l3.2 .7l1.8-2.9l-6.4-.8l-3.2 0l-3.2 2l-3.2 4.4l-3.3 3.7l-3.2-.3l-3.2-2.4l-3.2-1.6l-6.4-1.3l-3.2-2.6l-3.2-5.9l-3.2-2l-3.2 0l-3.2 2.7l-3.3 8.4l-3.2 3.4l-3.2-.2l-6.4-.9l-3.2-.8l-3.2-6.1l-3.2-13.5l-3.2-9.7l-3.2-4.7l-3.3 0l-3.2 4.9l-3.2 10.1l-3.2 12.3l-3.2 3l-9.6-1.2l-3.2-.4l-3.2-1.5l-3.2-9.3l-3.3-13.4l-3.2-8.1l-3.2-2.9l-3.2 1.6l-3.2 6.7l-3.2 11.2l-3.2 9.9l-3.2 1.3l-9.6-1.4l-3.3-2.1l-3.2-8.6l-3.2-6l-3.2-1.5l-3.2 0l-3.2 4l-3.2 3.5l-3.2 0l-3.2-.3l-3.2 .3l-3.3 1.5l-3.2 .6l-3.2-3.3l-3.2-5.6l-3.2-3.8l-3.2-1.5l-3.2-.5z" fill="url(#q23)"/>
<path d="M937.8 306.1l6.4 .7l3.2 .5l3.2 .7l3.2 2.4l3.2 5.1l3.2 4.4l3.3 .3l3.2-1.1l3.2-.1l3.2 .3l3.2-1.1l3.2-5.5l3.2-1.3l3.2 1l3.2 4.7l3.2 9.6l3.2 3l6.5 1.1l3.2 .1l3.2-2.6l6.4-20.5l3.2-4.6l3.2-.1l3.2 4.7l3.2 9.3l3.2 11.1l3.3 6.6l3.2 .8l6.4 .9l3.2-1.8l6.4-18.3l3.2-6.6l3.2-1.6l3.2 3l3.3 7.9l3.2 12.5l3.2 7.4l3.2 1.9l6.4 .9l3.2 0l3.2-4.9l3.2-8.1l3.2-1.7l3.2 .4l3.3 4.1l3.2 5.4l3.2 .9l3.2 .6l3.2 1.4l3.2 2l3.2-.9l3.2-4.5l3.2-3.3l3.2-.6l9.7 1.2l3.2 .8l3.2 1.8l1.8-4.3l-9.7-1.3l-3.2 .1l-3.2 2.2l-3.2 4.4l-3.2 3.1l-3.2-.7l-3.2-2.2l-3.2-1.3l-3.2-.6l-3.3-.9l-6.4-9.3l-3.2-.7l-3.2 .9l-6.4 13.1l-3.2 .7l-6.4-.9l-3.2-.6l-3.3-3.5l-3.2-12.8l-3.2-10.9l-3.2-5.7l-3.2-1l-3.2 3.7l-3.2 8.6l-3.2 11.9l-3.2 5.5l-3.2 0l-9.7-1.4l-3.2-2.6l-6.4-23l-3.2-6.8l-3.2-1.9l-3.2 2.6l-3.2 7.6l-3.2 12.4l-3.3 7.1l-3.2 .2l-6.4-.9l-3.2-.8l-3.2-4.8l-3.2-9.2l-3.2-3.2l-3.2-.8l-3.2 1.8l-3.2 5.1l-3.3 1l-3.2-.4l-3.2 .1l-3.2 1.1l-3.2 .8l-3.2-2.5l-3.2-5.4l-3.2-4.1l-3.2-1.6l-6.5-1z" fill="url(#q22)"/>
<path d="M936.7 308.9l3.2-.7l6.5 .6l3.2 .5l3.2 .8l3.2 2.5l3.2 5l3.2 3.8l3.2 0l3.2-.6l6.4 .3l3.3-3.6l3.2-4.2l3.2 .2l3.2 2.4l3.2 8.6l3.2 6.4l3.2 1l3.2 .5l3.2 .1l3.2-2l3.2-6.5l3.3-10.9l3.2-6.3l3.2-1.4l3.2 3.5l3.2 8.2l3.2 9.7l3.2 8.8l3.2 1.6l6.4 .7l3.3-3.9l3.2-9l3.2-8.1l3.2-5.4l3.2-.3l3.2 4.4l6.4 19.9l3.2 5.3l3.2 1.7l6.5 .8l3.2-1.2l3.2-8.1l3.2-5.1l3.2-.5l3.2 1.9l3.2 6.3l3.2 2.3l3.2 .6l3.2 1.1l3.2 1.6l3.3-.3l3.2-4l3.2-3.4l3.2-.8l6.4 .8l3.2 .5l3.2 .8l3.2 2.3l3.2 4.5l1.8-8.3l-3.2-1l-9.6-1.4l-3.2 .3l-3.2 2.3l-3.2 4.4l-3.3 2.4l-3.2-1.1l-3.2-1.9l-3.2-.9l-3.2-.6l-3.2-2.2l-3.2-6l-3.2-2.3l-3.2 .1l-3.2 3.4l-3.3 8.5l-3.2 2.7l-3.2-.3l-6.4-.9l-3.2-2.3l-3.2-10l-3.2-12.1l-3.2-6.8l-3.2-2.1l-3.2 2.4l-3.3 7.4l-3.2 10.3l-3.2 8l-3.2 .8l-6.4-.8l-3.2-.7l-3.2-4.8l-3.2-11.7l-3.2-10.1l-3.2-5.5l-3.3-.8l-3.2 3.8l-3.2 8.9l-3.2 11.9l-3.2 4.2l-3.2-.1l-6.4-1l-3.2-1.8l-3.2-7.9l-3.3-6.9l-3.2-1.7l-3.2 .2l-3.2 4.3l-3.2 3.1l-6.4-.3l-3.2 .7l-3.2 .9l-3.2-1.9l-3.2-5.1l-3.3-4.2l-3.2-1.7l-6.4-1.1l-3.2-.4z" fill="url(#q21)"/>
<path d="M935.7 314.6l3.2-3.3l3.2-1l3.2 .1l6.4 .9l3.2 .9l3.3 2.6l3.2 4.9l3.2 3.2l3.2-.1l3.2-.3l3.2 .3l3.2-.7l3.2-5.4l3.2-1.8l3.2 1.2l3.2 5.4l3.3 9.5l3.2 2.4l3.2 .5l3.2 .2l3.2-1.9l3.2-4.4l6.4-16.7l3.2-2.9l3.2 2.1l3.3 7l3.2 8.5l3.2 9.7l3.2 3.1l3.2 .5l3.2-.1l3.2-6.2l3.2-8l3.2-7.1l3.2-4l3.2 1l3.3 6.2l3.2 10.4l3.2 6.5l3.2 4.6l3.2 1.6l3.2 .5l3.2 .1l3.2-4l3.2-8.6l3.2-2.2l3.2 .4l6.5 9.5l6.4 1.6l3.2 1.4l3.2 0l6.4-6.9l3.2-.9l6.5 .7l3.2 .5l3.2 1l3.2 2.8l6.4 10l1.8-11.6l-3.2-2.7l-3.2-1.2l-6.5-1l-3.2-.4l-3.2 .4l-3.2 2.5l-3.2 4.1l-3.2 1.9l-3.2-1.3l-3.2-1.5l-6.4-1.5l-6.5-9.3l-3.2-.8l-3.2 1.3l-3.2 7.2l-3.2 5.9l-3.2 .4l-6.4-.9l-3.2-1.9l-3.3-6.7l-3.2-11.8l-3.2-8.5l-3.2-3.4l-3.2 1.2l-3.2 6.3l-6.4 17.9l-3.2 2.4l-6.4-.8l-3.3-1.1l-3.2-7.2l-3.2-10.7l-3.2-9l-3.2-4.3l-3.2 .5l-3.2 5.1l-3.2 10.4l-3.2 9.1l-3.2 2.5l-3.2-.1l-3.3-.5l-3.2-.7l-3.2-4.1l-3.2-9.3l-3.2-3.9l-3.2-.8l-3.2 2.1l-3.2 5l-3.2 .7l-3.2-.3l-3.3 .3l-3.2 .8l-3.2-1.4l-6.4-8.9l-3.2-1.9l-3.2-.7l-6.4-.8l-3.2 0z" fill="url(#q20)"/>
<path d="M934.6 322l3.3-4.4l3.2-3.7l3.2-1.5l3.2 0l6.4 .9l3.2 .9l3.2 2.8l3.2 4.7l3.2 2.6l6.5 .1l3.2 .2l3.2-2.9l3.2-4.8l3.2 .2l3.2 2.8l3.2 9.2l3.2 5.5l3.2 .9l3.2 .2l3.3-1.8l3.2-3.9l3.2-4.7l3.2-8.9l3.2-4.8l3.2 .7l3.2 5.6l3.2 7.2l3.2 9.2l3.2 5.3l3.2 .5l3.3-.9l3.2-8l3.2-6.5l3.2-5.8l3.2-2.6l3.2 2.6l3.2 8.5l3.2 7.6l6.4 9l3.2 1.6l3.3 .4l3.2-.7l3.2-7.7l3.2-5.8l3.2-.7l3.2 2.1l3.2 6.4l3.2 2l3.2 .6l3.2 1l3.3 .1l3.2-2.8l3.2-3.4l3.2-1.1l3.2 .2l6.4 1.1l3.2 1.3l3.2 3.1l3.2 5.2l3.2 4.8l3.3 2.3l1.7-9.2l-3.2-4.7l-3.2-3.1l-3.2-1.4l-6.4-1.1l-3.2-.3l-3.2 .4l-3.2 2.7l-3.3 3.8l-3.2 1.3l-6.4-2.3l-3.2-.7l-3.2-1.9l-3.2-5.8l-3.2-2.7l-3.2 .1l-3.2 4.3l-3.2 8.3l-3.3 2l-3.2-.3l-3.2-.5l-3.2-1.7l-3.2-5l-3.2-9l-3.2-10l-3.2-4.9l-3.2-.1l-3.2 4.9l-3.3 7.8l-3.2 8.8l-3.2 4.5l-3.2-.2l-3.2-.4l-3.2-2.1l-6.4-18.3l-3.2-7.9l-3.2-3l-3.2 1.8l-3.3 6.9l-3.2 10.1l-3.2 5.9l-3.2 2l-3.2-.2l-3.2-.5l-3.2-1.4l-6.4-15l-3.2-2l-3.2 .4l-3.3 4.6l-3.2 2.7l-3.2-.2l-3.2 0l-3.2 .5l-3.2-1l-6.4-8.4l-3.2-2.1l-3.2-.7l-6.5-.8l-3.2 .2l-3.2 1.5z" fill="url(#q19)"/>
<path d="M933.6 326.4l3.2-1.7l6.4-8.2l3.2-1.9l3.2-.2l6.5 .9l3.2 1l3.2 2.9l3.2 4.2l3.2 2.3l6.4 .6l3.2-.5l3.2-5.2l3.3-2.1l3.2 1.3l3.2 6.2l3.2 9l3.2 2l3.2 .2l3.2-1.7l3.2-3.7l3.2-3l3.2-5.8l3.2-7.1l3.3-.9l3.2 4l3.2 6l3.2 7.5l3.2 6.7l3.2 .6l3.2-1.8l3.2-7.8l3.2-5l3.2-4.4l3.2-1l3.3 4.6l3.2 8.6l9.6 12.6l3.2 1.5l3.2 .3l3.2-3.2l3.2-8.9l3.2-2.8l3.3 .4l3.2 5.2l3.2 4.3l6.4 1.4l3.2 .1l3.2-2.4l3.2-3.2l3.2-1.1l3.2 .1l3.2 .5l3.3 .6l3.2 1.6l3.2 3.7l3.2 5.3l3.2 4.3l3.2 1.5l3.2-.6l1.8-3.1l-3.2-4.3l-3.2-4.8l-3.2-3.5l-3.3-1.7l-3.2-.7l-6.4-.8l-3.2 .6l-3.2 2.7l-3.2 3.4l-3.2 .9l-6.4-1.9l-3.2-.7l-3.3-3.9l-3.2-5.3l-3.2-.9l-3.2 1.7l-3.2 7.8l-3.2 5.1l-3.2 .2l-3.2-.5l-3.2-1.6l-3.2-4.5l-3.2-6l-3.3-9.6l-3.2-6.8l-3.2-1.5l-3.2 3.5l-3.2 6.8l-3.2 7.5l-3.2 6.7l-3.2 .4l-3.2-.5l-3.2-3.8l-3.3-9.5l-3.2-8.1l-3.2-6.6l-3.2-1.6l-3.2 3.4l-3.2 8.5l-3.2 7.3l-3.2 4.2l-3.2 1.9l-3.2-.2l-3.2-.7l-3.3-3.3l-3.2-9.4l-3.2-4.6l-3.2-.9l-3.2 2.7l-3.2 4.6l-3.2 .5l-3.2-.2l-3.2 .2l-3.2-.8l-3.2-3.6l-3.3-4.2l-3.2-2.2l-3.2-.8l-6.4-.7l-3.2 .3l-3.2 1.9l-3.2 3.6z" fill="url(#q18)"/>
<path d="M932.6 326.6l3.2 1.5l3.2-.9l3.2-3.6l3.2-4.3l3.2-2.4l3.2-.4l3.2 .3l3.2 .5l3.2 1.1l3.3 2.8l3.2 3.8l3.2 2.1l3.2 .7l3.2 .3l3.2-2.4l3.2-5l3.2 0l3.2 3.2l3.2 9.7l3.2 4.6l3.3 .6l3.2-1.7l3.2-3.6l6.4-5.1l3.2-6.9l3.2-2.9l3.2 2.5l3.2 4.5l3.2 5l3.2 5.8l3.3 .7l3.2-2l3.2-5.2l3.2-3.4l3.2-2.8l3.2 .5l3.2 6.7l3.2 5.4l3.2 2.7l6.5 8.1l3.2 1.5l3.2-.4l6.4-13.5l3.2-1l3.2 2.6l3.2 6.2l3.2 1.6l3.2 .5l3.2-.1l3.3-2.1l3.2-2.9l3.2-1.2l3.2 .2l3.2 .4l3.2 .8l3.2 1.9l3.2 4.1l3.2 5.3l3.2 3.6l3.2 .8l3.3-1.3l3.2-1.8l1.7 1.8l-3.2-1.5l-3.2-3.8l-3.2-4.9l-3.2-3.8l-3.2-2l-3.2-.9l-3.2-.5l-3.2-.3l-3.2 .7l-6.5 5.7l-3.2 .6l-6.4-1.4l-3.2-1.5l-3.2-5.8l-3.2-3.1l-3.2 .4l-3.2 4.9l-3.2 8.1l-3.3 1.4l-3.2-.3l-3.2-1.6l-6.4-8.8l-3.2-6.6l-3.2-8.5l-3.2-3.2l-3.2 2.1l-3.2 5.4l-3.2 6l-3.3 7.9l-3.2 1.3l-3.2-.6l-3.2-5.7l-3.2-8.7l-3.2-6.9l-3.2-5.1l-3.2-.2l-3.2 5.5l-3.2 7.9l-3.3 4.3l-3.2 3.8l-3.2 1.8l-3.2-.3l-3.2-1.2l-3.2-6.5l-3.2-8.3l-3.2-2.4l-3.2 .5l-3.2 4.9l-3.2 2.2l-6.5-.3l-3.2-.8l-3.2-3.1l-3.2-4.1l-3.2-2.3l-3.2-.8l-3.2-.4l-3.2-.2l-3.2 .6l-3.2 2.2l-6.5 7.4z" fill="url(#q17)"/>
<path d="M931.5 324.7l3.2 2.8l3.2 2l3.2-.1l3.3-3l3.2-4.3l3.2-2.8l3.2-.7l3.2 .2l3.2 .5l3.2 1l3.2 2.7l3.2 3.5l3.2 2.3l3.2 .9l3.3-.1l3.2-4.8l3.2-2.8l3.2 1.6l3.2 7l3.2 8.3l3.2 1.3l3.2-1.7l3.2-3.5l3.2-2.5l3.2-1.1l3.3-4l3.2-4.6l3.2 1l3.2 2.9l3.2 2.5l3.2 3.4l3.2 1l6.4-3.6l3.2-1.6l3.3-1.3l3.2 2.3l3.2 6.4l6.4 4.7l6.4 8.1l3.2 1.4l3.2-2.4l3.2-9l3.2-3.4l3.3 .5l3.2 5.7l3.2 3.7l3.2 .4l3.2-.4l3.2-2l3.2-2.6l3.2-1.1l3.2 .2l3.2 .4l3.2 .9l3.3 2.3l3.2 4.5l3.2 5.1l3.2 2.8l3.2 0l3.2-1.6l3.2-1.9l3.2-1.3l1.8 2.8l-3.2 1l-3.2-.7l-3.2-3.2l-3.2-4.8l-3.2-4.2l-3.3-2.3l-3.2-1l-3.2-.6l-3.2-.2l-3.2 .7l-6.4 5.1l-3.2 .6l-3.2-.4l-3.2-.7l-3.3-3.5l-3.2-5.5l-3.2-1l-3.2 2.2l-3.2 8.3l-3.2 4.2l-3.2 0l-3.2-1.6l-6.4-8.2l-3.2-3.8l-3.3-7.6l-3.2-5.3l-3.2 .6l-3.2 3.9l-3.2 4.5l-3.2 7l-3.2 1.9l-3.2-.7l-6.4-13.1l-3.2-5.5l-3.3-3.6l-3.2 1.5l-3.2 7l-3.2 4.9l-3.2 2.8l-3.2 3.7l-3.2 1.7l-3.2-.4l-3.2-2.7l-3.2-9.2l-3.3-5.3l-3.2-1l-3.2 3l-3.2 4.4l-3.2 .2l-3.2-.3l-3.2-.9l-3.2-2.8l-3.2-3.8l-3.2-2.3l-3.2-.9l-3.3-.4l-3.2-.1l-3.2 .8l-3.2 2.6l-3.2 4l-3.2 3.1l-3.2 .8z" fill="url(#q16)"/>
<path d="M930.5 323.3l3.2 2.1l6.4 5.1l3.2 .8l3.2-2.2l3.2-4.1l3.2-3.3l3.2-1l3.3 .1l3.2 .5l3.2 .9l3.2 2.4l3.2 3.4l3.2 2.5l3.2 1.1l3.2-1.9l3.2-5.3l3.2-.2l3.2 3.9l3.3 9.9l3.2 3.4l3.2-1.5l3.2-3.6l3.2-2.5l3.2-1l3.2-1.1l3.2-4.5l3.2-.5l3.2 1.4l3.3 .2l6.4 2.8l3.2-1.6l3.2 .9l3.2 .2l3.2 0l6.4 7.6l3.2 1.2l3.2 2.5l6.5 8l3.2 1l3.2-5.7l3.2-7.6l3.2-1.2l3.2 3l3.2 6.1l3.2 1l3.2-.6l6.5-4.5l3.2-.9l3.2 .2l3.2 .5l3.2 1.1l3.2 2.7l6.4 9.4l3.2 1.8l3.2-.7l6.5-3.4l3.2-.9l3.2-.2l1.8 .8l-3.3 1.7l-3.2 1.5l-3.2-.1l-3.2-2.5l-6.4-9l-3.2-2.7l-3.2-1.2l-3.2-.6l-3.2-.2l-3.2 .8l-6.5 4.5l-3.2 .8l-3.2-.2l-3.2-1.3l-3.2-5.5l-3.2-3.5l-3.2 .5l-3.2 5.8l-3.2 7.4l-3.3 1l-3.2-1.5l-6.4-8.1l-3.2-2.5l-3.2-4.5l-3.2-6.6l-3.2-1.1l-3.2 2.4l-3.2 2.8l-3.2 4.2l-3.3 1.9l-3.2-.8l-3.2-5l-6.4-8.3l-3.2-2l-3.2 3.4l-3.2 6l-3.2 2.1l-3.2 2.5l-3.2 3.6l-3.3 1.7l-3.2-.8l-3.2-5.7l-3.2-8.9l-3.2-2.7l-3.2 .8l-3.2 4.9l-3.2 1.8l-3.2-.5l-3.2-1.2l-3.3-2.5l-3.2-3.5l-3.2-2.3l-3.2-.9l-3.2-.4l-3.2 0l-3.2 1.2l-3.2 2.9l-3.2 3.9l-3.2 2.6l-3.2 0l-3.3-1.9z" fill="url(#q15)"/>
<path d="M929.4 323.7l3.2 1l3.2 1.6l6.5 5l3.2 1.5l3.2-1.2l6.4-7.3l3.2-1.5l3.2 0l3.2 .4l3.2 .8l3.2 2.1l3.3 3.5l3.2 2.8l3.2 .7l3.2-4.4l3.2-3.2l3.2 1.8l3.2 7.9l3.2 6.9l3.2-1l3.2-3.7l3.3-2.7l3.2-1l3.2 0l6.4-3.9l3.2-.1l3.2-1.7l3.2-.4l3.2 1.8l3.2-1.3l3.2 3l3.3 2l3.2 1.4l3.2 3.7l6.4 2.1l3.2 2.6l6.4 8.2l3.2-.5l3.2-8.5l3.2-4.2l3.3 .6l3.2 5.9l3.2 3.1l3.2-.7l6.4-4.7l3.2-.6l3.2 .3l3.2 .5l3.2 1.3l3.3 3.2l3.2 4.8l3.2 4l3.2 .9l3.2-1.2l3.2-1.8l3.2-1.2l3.2-.5l3.2 .1l3.2 .4l1.8-1.5l-3.2 1l-6.4 3.3l-3.2 .5l-3.2-1.8l-3.2-4.1l-3.3-4.5l-3.2-3.1l-3.2-1.4l-3.2-.7l-3.2-.2l-3.2 .7l-6.4 4.2l-3.2 .9l-3.2-.1l-3.2-2.9l-3.3-5.8l-3.2-1.2l-3.2 2.7l-3.2 8.6l-3.2 3.4l-3.2-1.3l-6.4-8.1l-3.2-2.3l-3.2-2.1l-3.3-5.6l-3.2-2.7l-9.6 3l-3.2 1.6l-3.2-1.1l-3.2-2.8l-3.2-1.8l-3.2-2.4l-3.2-.6l-3.3 4.6l-3.2 3.1l-3.2 1.1l-3.2 2.5l-3.2 3.6l-3.2 1.6l-3.2-2l-3.2-8.7l-3.2-6.1l-3.2-1.1l-3.2 3.6l-3.3 3.9l-3.2-.3l-3.2-1.4l-3.2-2.6l-3.2-3.2l-3.2-2.1l-3.2-.9l-3.2-.4l-3.2 .2l-3.2 1.5l-3.3 3.2l-3.2 3.7l-3.2 1.9l-3.2-.7l-3.2-2.2l-3.2-2.6z" fill="url(#q14)"/>
<path d="M928.4 325.1l3.2 .4l3.2 .7l3.2 1.2l3.2 2l3.2 2.6l3.2 2.1l3.2-.3l3.3-3.3l3.2-3.7l3.2-1.8l3.2-.2l3.2 .3l3.2 .5l3.2 2l3.2 3.8l3.2 2.9l3.2-.8l3.3-5.4l3.2-.5l3.2 4.5l3.2 9.3l3.2 .6l3.2-3.7l3.2-2.9l3.2-1.1l3.2 .3l3.2 .5l3.2-1.8l3.3-1.5l3.2-3.3l3.2-2l3.2 1.4l3.2-.3l3.2 4.7l3.2 3.5l3.2 2.8l3.2 1.5l3.2-.2l3.2 1.1l3.3 2.7l6.4 8.1l3.2-3.5l3.2-7.9l3.2-1.5l3.2 3.5l3.2 5.6l3.2-.2l3.2-2.7l3.3-2.4l3.2-.4l6.4 1.2l3.2 1.6l3.2 3.4l3.2 4.8l3.2 3.2l3.2 .2l6.4-3.2l3.3-.8l3.2-.1l3.2 .3l3.2 .6l3.2 .8l1.8-2.9l-3.2 0l-3.3 .7l-3.2 1.2l-3.2 1.6l-3.2 1.1l-3.2-1l-3.2-3.5l-3.2-4.5l-3.2-3.4l-3.2-1.7l-3.2-.7l-3.2-.3l-3.3 .5l-3.2 1.8l-3.2 2.2l-3.2 1.2l-3.2-.5l-3.2-5.2l-3.2-3.9l-3.2 .7l-6.4 13.1l-3.2-.5l-6.5-8.1l-3.2-2.5l-3.2-1.2l-3.2-2.9l-3.2-3.8l-3.2-.4l-3.2-.8l-3.2-1.5l-3.2 1.5l-3.3-1.6l-3.2-.8l-3.2 .4l-3.2-1l-3.2 1l-3.2 3.7l-6.4 1.8l-3.2 2.6l-3.2 3.5l-3.2 1.4l-3.3-4.5l-3.2-9.2l-3.2-3.3l-3.2 1.1l-3.2 5l-3.2 1.1l-3.2-1.6l-6.4-5.8l-3.2-1.9l-3.2-.8l-3.3-.3l-3.2 .3l-3.2 1.9l-6.4 6.7l-3.2 1l-3.2-1.3l-6.4-4.8l-3.2-1.8z" fill="url(#q13)"/>
<path d="M927.3 327.5l3.2-.1l3.3 .1l3.2 .5l3.2 .9l3.2 1.5l6.4 4.6l3.2 .5l3.2-2.5l3.2-3.6l3.2-2.2l3.3-.4l6.4 .3l3.2 2l3.2 4.2l3.2 2.7l3.2-3.3l3.2-3.9l3.2 1.7l3.2 8l3.2 3.9l3.3-3.4l3.2-3l3.2-1.2l3.2 .4l3.2 1.8l3.2 0l3.2-2.6l3.2-4.5l3.2-3.5l3.2 .4l3.2 1.4l3.3 5.9l3.2 4.9l3.2 2.8l3.2-.9l3.2-.5l3.2 1.1l3.2 2.8l3.2 4.3l3.2 3l3.2-6.8l3.3-4.6l3.2 .9l3.2 6.2l3.2 1.6l6.4-5.7l3.2-.2l6.4 1.7l3.2 1.8l3.2 3.8l3.3 4.4l3.2 2.3l3.2-.4l3.2-1.6l3.2-1.2l3.2-.4l3.2 .2l3.2 .5l3.2 .9l3.2 1.2l3.3 1.6l1.7-4.9l-3.2-.5l-3.2-.2l-3.2 .2l-3.2 .9l-6.4 2.8l-3.2-.2l-3.3-2.8l-3.2-4.4l-3.2-3.6l-3.2-1.9l-3.2-.9l-3.2-.4l-3.2 .3l-3.2 1.7l-3.2 2.4l-3.2 1.3l-3.2-2.1l-3.3-5.9l-3.2-1.4l-3.2 3.4l-3.2 8.3l-3.2 1.4l-6.4-8.2l-3.2-2.6l-3.2-1l-3.2-.7l-3.2-3l-3.3-1.9l-3.2-2.5l-3.2-3.4l-3.2 .9l-3.2-1.6l-3.2 .8l-3.2 2.3l-3.2 .4l-3.2 2l-3.2 1.2l-3.3-.1l-3.2 1.1l-3.2 2.7l-3.2 3.6l-3.2 .6l-3.2-7.6l-3.2-6.9l-3.2-1.1l-3.2 3.8l-3.2 3.3l-3.2-1.3l-6.5-6.1l-3.2-1.7l-3.2-.6l-3.2-.2l-3.2 .5l-3.2 2.1l-3.2 3.5l-3.2 2.7l-3.2 .3l-3.2-1.9l-3.3-2.4l-3.2-2l-3.2-1.4l-3.2-.8z" fill="url(#q12)"/>
<path d="M926.3 331.8l3.2-1.1l3.2-.7l3.2-.2l3.2 .2l3.2 .5l3.3 1.2l3.2 1.8l3.2 2.2l3.2 1.1l3.2-1.6l3.2-3.3l3.2-2.4l3.2-.7l6.4-.4l3.2 2.4l3.3 4.5l3.2 1.4l3.2-5.2l3.2-1.1l3.2 4.5l3.2 6.8l3.2-2.2l3.2-2.9l3.2-1.2l3.2 .4l6.5 4.5l3.2-2.9l6.4-10.8l3.2-1l3.2 4l3.2 7l3.2 5.9l3.2 1.3l3.2-2.2l3.3-.6l3.2 1.1l3.2 2.8l3.2 4.1l3.2 .3l3.2-6.9l3.2-1.4l6.4 8.6l3.2-2.5l3.2-3.3l3.3-.3l6.4 2.4l3.2 2.1l6.4 7.8l3.2 1.4l3.2-.9l3.2-1.3l3.2-.7l3.3 0l3.2 .5l3.2 .9l3.2 1.2l3.2 1.8l6.4 4.2l1.8-7.6l-3.2-1l-3.2-.8l-3.2-.4l-3.3-.1l-3.2 .5l-3.2 1.2l-3.2 1.5l-3.2 .3l-3.2-2l-6.4-7.9l-3.2-2.2l-3.2-1l-3.3-.6l-3.2 0l-3.2 1.7l-3.2 2.8l-3.2 .9l-6.4-8.6l-3.2 .8l-3.2 6.9l-3.2 4.5l-3.2-3.7l-3.3-4.3l-3.2-2.7l-3.2-1.1l-3.2 .3l-3.2-.7l-3.2-2.8l-3.2-4l-3.2-5l-3.2-.2l-3.2-1.1l-3.2 2.4l-3.3 3.7l-3.2 1.8l-3.2 1.3l-3.2-.9l-3.2-.3l-3.2 1.1l-3.2 2.9l-3.2 3.6l-3.2-1.6l-3.2-8.8l-3.3-3.7l-3.2 1.5l-3.2 4.7l-3.2-.2l-6.4-6.6l-3.2-1.4l-3.2-.4l-3.2-.1l-3.2 .8l-3.2 2.4l-3.3 3.3l-3.2 2.1l-3.2-.4l-6.4-4.5l-3.2-1.6l-3.2-1l-3.2-.5l-3.2-.3z" fill="url(#q11)"/>
<path d="M925.3 336.6l3.2-1l6.4-2.3l3.2-.8l3.2-.2l3.2 .2l3.2 .7l3.2 1.3l3.2 2l3.2 1.4l3.3-.7l3.2-2.9l3.2-2.6l3.2-1l3.2-.6l3.2-.4l3.2 2.8l3.2 4.6l3.2-1.5l3.2-4.3l3.3 1.4l3.2 6.4l3.2 .8l3.2-2.6l3.2-1.1l3.2 .4l3.2 2.4l3.2 3.4l3.2-1.8l3.2-6.6l3.2-7.7l3.3-2.6l3.2 7.4l3.2 8.4l3.2 6.3l3.2-.7l3.2-2.6l3.2-.7l3.2 1l3.2 2.8l3.2 3.2l3.2-3.2l3.3-4l3.2 1.5l3.2 5.9l3.2-.8l3.2-3.7l3.2-.5l6.4 3.1l3.2 2.4l3.2 3.8l3.3 3.2l3.2 .7l6.4-1.9l3.2-.2l3.2 .4l3.2 .9l3.2 1.3l3.2 1.8l6.4 4.1l3.3 1.8l3.2 1.1l1.7-7.2l-3.2-1.8l-3.2-1.4l-3.2-1.1l-3.2-.8l-3.2-.4l-3.2 .1l-3.2 .9l-3.2 1.3l-3.2 .7l-3.3-1.3l-6.4-7.4l-3.2-2.4l-3.2-1.2l-3.2-.9l-3.2-.3l-3.2 2l-3.2 3l-3.2-.3l-3.3-5.6l-3.2-2l-3.2 3.7l-3.2 6.8l-3.2-2.2l-3.2-4.2l-3.2-2.8l-3.2-1.1l-3.2 .5l-3.2 1.3l-3.2-2.3l-3.3-5.2l-3.2-6.3l-3.2-2.1l-3.2-.1l-3.2 4.1l-3.2 4.8l-3.2 2.7l-3.2-.7l-3.2-2l-3.2-.3l-3.2 1.2l-6.5 6l-3.2-4.8l-3.2-6.9l-3.2-.9l-3.2 4.3l-3.2 1.9l-3.2-3.2l-3.2-3.7l-3.2-1.4l-6.5 .1l-3.2 1l-3.2 2.5l-3.2 3.1l-3.2 1.4l-3.2-1l-6.4-4.1l-3.2-1.3l-3.2-.7l-3.3-.2l-3.2 .1l-3.2 .4z" fill="url(#q10)"/>
<path d="M924.2 339.1l3.2 .3l3.2-.4l3.2-.9l6.5-2.2l3.2-.8l3.2-.3l3.2 .2l3.2 .9l6.4 3.1l3.2-.1l6.4-5.1l6.5-2.4l3.2-.4l6.4 6.9l3.2-3.9l3.2-1.5l3.2 3.1l3.2 4.1l3.2-1.6l3.2-.9l3.3 .5l3.2 2.5l3.2 3.9l3.2-.1l3.2-7.3l3.2-11.3l3.2-3.9l6.4 21.5l3.2 5.3l3.2-1.9l3.3-2.8l3.2-.8l3.2 1l3.2 2.4l3.2 1l3.2-4.4l3.2-.4l3.2 4.3l3.2 2.2l3.2-3.7l3.3-.9l6.4 3.8l3.2 2.6l3.2 3.8l3.2 2.6l3.2 .2l3.2-.9l3.2-.4l3.2 .2l3.2 .9l3.3 1.4l6.4 3.8l3.2 2l3.2 1.7l3.2 1l3.2 .4l3.2 0l1.8-3.4l-9.6-5.7l-3.2-1.5l-3.3-1.1l-3.2-.8l-3.2-.2l-3.2 .4l-6.4 1.8l-3.2-.7l-3.2-2.9l-3.2-3.7l-3.2-2.6l-6.5-2.8l-3.2-.4l-3.2 2.5l-3.2 2.9l-3.2-2.8l-3.2-4.8l-3.2 .5l-3.2 6.1l-3.2 .8l-3.2-3.9l-3.3-2.8l-3.2-1l-3.2 .6l-3.2 2.3l-3.2-.7l-3.2-6l-3.2-7.5l-3.2-4.9l-3.2 1.4l-6.4 11.8l-3.3 2.6l-3.2-2.6l-3.2-2.2l-3.2-.5l-3.2 1.2l-3.2 2.9l-3.2 1.2l-3.2-6.7l-3.2-3.5l-3.2 2l-3.2 4.1l-3.3-2.3l-3.2-4.1l-3.2-1.5l-6.4 .8l-3.2 1.2l-6.4 5.1l-3.2 .7l-3.2-1.3l-3.3-2l-3.2-1.5l-3.2-.8l-3.2-.4l-3.2 .1l-3.2 .5l-6.4 1.9z" fill="url(#q9)"/>
<path d="M923.2 339.5l6.4 1.7l3.2 .4l3.2-.2l3.2-.8l6.4-2.2l3.2-.8l3.3-.3l3.2 .3l3.2 1.1l3.2 1.4l3.2 .1l3.2-1.9l3.2-2.4l6.4-3.2l3.2-.2l3.2 3.7l3.3 1.1l3.2-3.3l3.2-.2l3.2 4.3l3.2 .9l3.2-.7l3.2 .7l3.2 2.5l3.2 4.1l3.2 1.4l3.2-7.2l3.3-13.9l3.2-4.4l6.4 25.1l3.2 3.7l3.2-2.6l3.2-2.8l3.2-.9l3.2 .9l3.2 1.7l3.3-2.1l3.2-1.9l3.2 2.4l3.2 3.7l3.2-2.5l3.2-1.5l3.2 2.1l3.2 2.4l3.2 2.7l3.2 3.4l3.2 2.1l3.3 .1l3.2-.5l3.2 .1l3.2 .8l3.2 1.3l9.6 5.8l3.2 1.5l3.2 .8l3.2 .4l9.7-.2l1.7-.7l-3.2-.8l-3.2-1.4l-9.6-5.5l-3.2-1.5l-3.2-1.2l-3.2-.7l-3.2-.1l-3.2 .5l-3.3 .8l-3.2-.1l-3.2-2.3l-3.2-3.5l-3.2-2.8l-6.4-3.6l-3.2-.2l-3.2 2.9l-3.2 1.7l-3.2-4.8l-3.3-2.3l-3.2 2.9l-3.2 3.5l-6.4-5.2l-3.2-1l-3.2 .8l-3.2 2.6l-3.2 1l-3.2-5.9l-6.5-17.6l-3.2 3l-3.2 8.8l-3.2 6.8l-3.2 1.3l-3.2-3.5l-3.2-2.4l-3.2-.5l-3.2 1.1l-3.2 2.2l-3.3-1.8l-3.2-5.4l-3.2-.5l-3.2 4.2l-3.2 0l-3.2-4.2l-3.2-1.9l-3.2 .6l-3.2 .9l-3.2 1.4l-3.2 2.6l-3.3 2.1l-3.2 0l-6.4-3.1l-3.2-1l-3.2-.4l-3.2 .1l-3.2 .5l-6.4 1.9l-3.3 1l-3.2 .6z" fill="url(#q8)"/>
<path d="M922.1 340.1l12.9 3.3l3.2 .4l3.2-.1l3.2-.6l6.4-2.2l3.2-.8l3.2-.2l3.2 .5l3.2 .9l3.3 .3l3.2-1.4l3.2-2.2l6.4-3.8l3.2 .1l3.2 3.2l3.2-1.1l3.2-2.3l3.2 1.8l3.2 3.7l3.3 0l3.2 .8l3.2 2.6l3.2 4.1l3.2 2.1l3.2-6.2l3.2-13.2l3.2-3.7l3.2 11.3l3.2 12.3l3.3 2.2l6.4-5.5l3.2-1l3.2 .6l3.2 .2l3.2-3.6l3.2 1.2l3.2 3.7l3.2-.3l3.2-1.7l3.3 2l9.6 8.6l3.2 1.6l6.4 .3l3.2 .7l3.2 1.3l9.7 5.6l3.2 1.4l3.2 .7l3.2 .3l9.6 .1l6.4 .6l1.8-1.2l-3.2 0l-3.2-.3l-3.2-.7l-3.2-1.3l-6.4-3.5l-3.3-1.8l-3.2-1.6l-3.2-1.2l-3.2-.6l-3.2 .1l-3.2 .6l-3.2 0l-3.2-1.9l-3.2-3.2l-3.2-2.8l-6.5-4.3l-3.2 .1l-3.2 3l-3.2-.8l-3.2-4.1l-3.2-.4l-3.2 3.6l-3.2-.1l-3.2-2.2l-3.2-.9l-3.3 .8l-3.2 2.8l-3.2 2.1l-3.2-4.9l-6.4-22.5l-3.2 4.1l-3.2 12l-3.2 7.3l-3.2-.4l-3.3-3.9l-3.2-2.5l-3.2-.6l-6.4 1.7l-3.2-4.2l-3.2-2.1l-3.2 2.1l-3.2 2.4l-3.2-3.6l-3.2-2.3l-3.3 .8l-3.2 1.2l-3.2 1.7l-3.2 2.4l-3.2 1.6l-3.2-.2l-3.2-1.5l-3.2-1.2l-3.2-.5l-3.2 .1l-3.2 .5l-9.7 2.8l-3.2 .5l-3.2 0l-3.2-.5z" fill="url(#q7)"/>
<path d="M921.1 342.1l6.4 .7l6.4 1.3l6.4 1.5l3.2 .4l3.3 0l3.2-.5l6.4-2l3.2-.6l3.2-.2l6.4 .7l3.2-1.1l3.2-2.1l6.5-4.6l3.2 .5l3.2 1.5l3.2-2.5l3.2-.6l3.2 4.8l3.2 1.7l3.2 .9l3.2 2.6l3.2 4.1l3.3 1.4l3.2-6.9l3.2-8.1l3.2-1.5l3.2 6.1l3.2 10l3.2 3.7l3.2-2.5l3.2-2.9l3.2-1l3.2 .2l6.5-4.7l3.2 2.9l3.2 2.2l3.2-1.2l3.2 1.7l6.4 6.5l3.2 2.7l3.2 1.4l6.5 1.1l3.2 1.2l9.6 5.3l3.2 1.3l3.2 .7l6.4 .4l6.5 .4l6.4 .9l6.4 1.4l1.8-3.4l-9.7-.1l-3.2-.2l-3.2-.7l-3.2-1.1l-3.2-1.5l-6.4-3.7l-3.2-1.5l-3.2-1.2l-3.2-.4l-3.3 .1l-3.2 0l-3.2-1.6l-6.4-5.7l-6.4-4.7l-3.2 .4l-3.2 2.3l-6.5-5.3l-3.2 .9l-3.2 2.6l-3.2-1.3l-3.2-.7l-3.2 .9l-6.4 5.4l-3.2-3.3l-6.4-24.6l-3.3 4.2l-3.2 13.7l-3.2 6.9l-3.2-1.7l-3.2-4l-3.2-2.6l-3.2-.7l-3.2 .5l-3.2-1.7l-3.2-3.6l-3.3 .8l-3.2 2.7l-3.2-1.8l-3.2-2.6l-3.2 .8l-6.4 3.4l-3.2 2.1l-3.2 1.3l-3.2-.4l-3.2-1.1l-3.3-.7l-3.2 0l-3.2 .5l-9.6 2.7l-3.2 .4l-3.2-.1l-3.2-.5l-6.4-1.7z" fill="url(#q6)"/>
<path d="M920 345.4l9.7 .2l6.4 .6l9.6 1.7l3.2 .4l3.2 .1l3.2-.5l6.5-1.5l3.2-.6l6.4-.1l3.2-1.2l3.2-2.5l3.2-3l3.2-2.1l3.2 .4l6.5-3l3.2 3.6l3.2 4.2l3.2 1.3l3.2 2.6l3.2 4.1l3.2-.8l3.2-8.6l3.2-1.5l3.2 .6l3.2 .4l3.3 6.6l3.2 7.4l3.2-1.9l3.2-2.9l3.2-1.1l3.2-.8l3.2-4.3l3.2-.6l3.2 3.5l3.2 .9l3.2 1.3l6.5 7.4l3.2 2.9l3.2 1.5l3.2 .8l3.2 1.2l9.6 4.8l3.2 1.1l3.3 .7l12.8 1.4l6.4 1.3l12.8 3.4l1.8-5.3l-6.4-.9l-12.8-.6l-3.2-.6l-3.3-1l-3.2-1.5l-6.4-3.5l-3.2-1.6l-3.2-.9l-6.4-.8l-3.2-1.3l-3.2-2.4l-6.5-5.8l-3.2-2.3l-6.4 1.2l-3.2-3.2l-3.2-1.8l-3.2 3.2l-3.2 .7l-3.2-.5l-3.2 .9l-6.5 5.5l-3.2-2.7l-3.2-11.6l-3.2-9.7l-3.2 3.1l-3.2 11.7l-3.2 6.4l-3.2-1.9l-3.2-4.2l-3.2-2.6l-3.3-.8l-3.2-.5l-3.2-4l-3.2-1.1l-3.2 2.3l-3.2 .4l-3.2-2.4l-3.2 .6l-6.4 4l-3.2 1.8l-3.3 1l-3.2-.4l-3.2-.6l-3.2-.1l-3.2 .5l-6.4 1.7l-3.2 .7l-3.2 .4l-3.2-.2l-3.3-.5l-9.6-2.3l-3.2-.6z" fill="url(#q5)"/>
<path d="M919 348.8l19.2 .3l6.5 .5l9.6 1.2l3.2 .1l3.2-.3l12.9-2.3l3.2-1.6l3.2-3.1l3.2-3.6l3.2-2l3.2-1.8l3.2-2.9l3.2 2.2l3.2 6l3.2 2.4l3.2 3.1l3.3 4.1l3.2-1.7l3.2-5.7l3.2 1.4l3.2 1.1l3.2-1.3l3.2 3.1l3.2 6.7l3.2-1.3l3.2-3.2l3.2-1.5l3.3-2.8l3.2-4.6l3.2 .8l3.2 4.3l3.2 2.1l3.2 3.6l3.2 4.5l3.2 3.4l3.2 2l12.9 5.7l3.2 1.1l3.2 .7l9.6 1.4l6.4 1.3l19.3 5.1l3.2 .7l1.8-5.6l-9.7-2.2l-6.4-.9l-9.6-.8l-3.2-.5l-3.2-1l-3.2-1.4l-6.4-3.4l-3.3-1.3l-3.2-1l-3.2-.6l-3.2-1.2l-3.2-2.4l-3.2-3.1l-3.2-3.4l-3.2-2.3l-3.2 .4l-3.2-1.8l-3.2-3.1l-3.3 1.8l-3.2 3.1l-3.2 0l-3.2 1l-3.2 2.9l-3.2 2.4l-3.2-4.8l-3.2-9l-3.2-4.4l-3.2 .9l-3.3 6.1l-3.2 7.4l-3.2-.8l-3.2-4l-3.2-2.7l-3.2-1l-3.2-2.4l-3.2-4.4l-3.2 .8l-3.2 2.2l-3.2-1.2l-3.3 .3l-6.4 4.9l-3.2 1.8l-3.2 .8l-6.4-.3l-3.2 .4l-9.6 2.1l-3.3 .3l-3.2-.2l-12.8-2.3l-6.4-.8l-3.2-.2z" fill="url(#q4)"/>
<path d="M917.9 351.4l9.7 .7l22.4 .7l9.7 .7l3.2 .1l3.2-.3l6.4-1.2l3.2-1l3.2-2.1l3.2-3.7l3.2-4.4l3.3-4.9l3.2-6.7l3.2-.8l3.2 6.4l6.4 10l3.2 5.5l3.2-.5l3.2-1.2l3.2 2.4l3.2 1.7l3.3-2.2l3.2 .4l3.2 3l3.2-1.2l3.2-5.5l3.2-3.3l3.2-5.5l3.2-3.4l3.2 4.8l3.2 7.4l6.5 10.4l3.2 4l3.2 2.4l6.4 3.2l3.2 1.4l3.2 1l6.4 1.4l9.7 1.9l19.2 4.9l12.9 2.4l1.7-4.5l-16-4.2l-6.4-1.2l-9.7-1.2l-3.2-.6l-3.2-.9l-3.2-1.3l-6.4-3.1l-3.2-1.2l-3.2-1l-3.2-1.5l-3.2-2.6l-6.5-7.6l-3.2-2l-3.2-1.2l-3.2-3.7l-3.2 .1l-3.2 4.4l-3.2 1.5l-3.2 1.2l-3.2 2.9l-3.2 1.7l-3.3-7.1l-3.2-5.6l-3.2 .2l-3.2-.9l-3.2 .7l-3.2 7.7l-3.2 1.1l-3.2-4.1l-3.2-2.8l-3.2-1.6l-3.3-4.7l-3.2-3.2l-3.2 1.9l-3.2 1.6l-3.2 .3l-3.2 2.6l-3.2 3l-3.2 2.3l-3.2 .9l-6.4 .5l-9.7 1.7l-3.2 .2l-3.2-.2l-12.8-1.8l-9.7-.5l-6.4 0z" fill="url(#q3)"/>
<path d="M916.9 353.2l16.1 1.8l12.8 .8l19.2 .7l3.3-.1l3.2-.4l3.2-.7l3.2-1.2l3.2-2.5l3.2-4.9l3.2-10.2l3.2-14.2l3.2-6.7l3.2 4.9l3.2 8.4l6.5 18.9l3.2 3l3.2 1.2l3.2 3.8l3.2 2.1l3.2-3.3l3.2-1.3l3.2 .1l3.2-4.2l3.3-10.2l6.4-14.8l3.2-.3l3.2 11.7l3.2 14.7l3.2 8.6l3.2 4.7l3.2 2.8l3.2 1.8l3.2 1.5l3.3 1.1l28.8 6.9l12.9 2.4l12.8 1.9l1.8-3.3l-12.8-3l-12.9-3.3l-16-2.9l-3.2-1l-6.5-2.6l-6.4-2.8l-3.2-1.8l-3.2-3.1l-6.4-8.5l-3.2-3.1l-3.2-5.1l-3.2-2l-3.3 4.2l-3.2 3.6l-3.2 2l-3.2 3.9l-3.2 1.3l-3.2-5.6l-3.2-2.3l-3.2 1.6l-3.2-1.3l-3.2-1.7l-3.2 4.3l-3.3 1.3l-3.2-4.5l-3.2-3.6l-3.2-3.2l-3.2-6.1l-3.2-1.3l-3.2 4.1l-6.4 5.4l-3.2 3.6l-3.3 2.8l-3.2 1.4l-9.6 1.7l-3.2 .4l-3.2 .1l-6.4-.4l-9.7-1l-22.4-.6z" fill="url(#q2)"/>
<path d="M915.9 354.8l22.4 3l12.9 1.1l16 .6l3.2 0l3.2-.3l3.2-.6l3.2-1.3l3.3-3.6l3.2-12.7l3.2-21.5l3.2-12.3l3.2 1l3.2 9.7l6.4 29.1l3.2 6.7l3.2 2.4l3.3 3.8l3.2 1.3l3.2-2.1l3.2-2.3l3.2-1.5l3.2-8.9l3.2-15.1l3.2-12.2l3.2-6.1l3.2 4.5l3.2 18.1l3.3 20.9l3.2 9.1l3.2 3.2l3.2 1.8l3.2 1.3l6.4 1.9l16.1 3.7l12.8 2.4l25.7 3.7l1.7-2.8l-12.8-2.3l-12.8-2.9l-12.9-3.1l-9.6-2l-3.2-.9l-3.2-1.2l-3.2-1.4l-3.2-1.7l-3.2-2.2l-3.3-3.6l-3.2-5.1l-3.2-6.2l-3.2-9.6l-3.2-6.9l-3.2 2.5l-3.2 6l-3.2 4.6l-3.2 6.9l-3.2 2.2l-3.2-2.2l-3.3 .1l-3.2 2.6l-3.2-1.9l-3.2-2.8l-3.2 .4l-3.2-.5l-6.4-13l-6.4-11.9l-3.2 2.5l-3.3 9l-3.2 6.5l-3.2 4.5l-3.2 3.3l-3.2 1.9l-3.2 .9l-3.2 .6l-3.2 .4l-3.2 .1l-9.7-.5l-12.8-.6l-12.8-.5l-9.7-.8z" fill="url(#q1)"/>
<path d="M914.8 356.4l35.3 4.7l12.9 1.2l9.6 .3l3.2-.2l3.2-.6l3.2-2.2l3.2-11.6l3.2-22.9l3.2-14.8l3.3-3.3l3.2 6.8l3.2 17.5l3.2 19.6l3.2 8.5l3.2 2l3.2 1.7l3.2 .5l3.2-.1l3.2-.9l3.2-2.1l3.3-12.2l3.2-19.8l3.2-13l3.2-1.9l3.2 8l6.4 41.7l3.2 7.6l3.2 2l3.2 1.3l6.5 1.8l12.8 2.6l19.3 3l25.6 3.6l1.8-2.7l-19.3-2.9l-12.8-2.6l-22.5-5.3l-3.2-1l-3.2-1.4l-3.2-1.7l-3.2-2.4l-3.2-4.3l-3.2-8.7l-3.2-16.6l-3.2-13.6l-3.2-1.2l-3.3 6.9l-3.2 9l-3.2 11.6l-3.2 5.7l-3.2 .3l-3.2 1.7l-3.2 2.9l-3.2-1.9l-3.2-3.8l-3.2-1.6l-3.2-4.1l-6.5-21.9l-3.2-8.8l-3.2-3.7l-3.2 8.4l-3.2 16.4l-3.2 10.9l-3.2 4.5l-3.2 2.2l-3.2 1l-3.2 .6l-3.3 .2l-6.4 0l-22.4-1.1l-12.9-1.3l-9.6-1.2z" fill="url(#q0)"/>
</g>
<rect x="1201.5" y="237.3" width="14.5" height="93.3" fill="url(#cb)" stroke="#222" stroke-width="0.7"/>
<text x="1223.5" y="334.9" font-size="12.3" text-anchor="start" fill="#111" style="font-family:'Liberation Sans',sans-serif" >0</text>
<text x="1223.5" y="306.6" font-size="12.3" text-anchor="start" fill="#111" style="font-family:'Liberation Sans',sans-serif" >0.1</text>
<text x="1223.5" y="278.3" font-size="12.3" text-anchor="start" fill="#111" style="font-family:'Liberation Sans',sans-serif" >0.2</text>
<text x="1223.5" y="250.0" font-size="12.3" text-anchor="start" fill="#111" style="font-family:'Liberation Sans',sans-serif" >0.3</text>
<path d="M1201.5 330.6h3M1216 330.6h-3M1201.5 302.3h3M1216 302.3h-3M1201.5 274.0h3M1216 274.0h-3M1201.5 245.7h3M1216 245.7h-3" stroke="#111" stroke-width="0.7" fill="none"/>
<text x="14.3" y="57.7" font-size="17.8" text-anchor="start" fill="#111" style="font-family:'Liberation Serif',serif" >G</text>
<text x="28.2" y="42.9" font-size="13" text-anchor="start" fill="#111" style="font-family:'Liberation Serif',serif" textLength="17.2" lengthAdjust="spacingAndGlyphs">α β</text>
<text x="29.0" y="67.1" font-size="14.2" text-anchor="start" fill="#111" style="font-family:'Liberation Serif',serif" textLength="17.2" lengthAdjust="spacingAndGlyphs">00</text>
<text x="47.5" y="56.7" font-size="16.5" text-anchor="start" fill="#111" style="font-family:'Liberation Serif',serif" textLength="22.5" lengthAdjust="spacingAndGlyphs">(ω)</text>
<text x="78.5" y="57.2" font-size="17.5" text-anchor="start" fill="#111" style="font-family:'Liberation Serif',serif" >=</text>
<text x="14.3" y="155.5" font-size="17.8" text-anchor="start" fill="#111" style="font-family:'Liberation Serif',serif" >G</text>
<text x="28.2" y="140.7" font-size="13" text-anchor="start" fill="#111" style="font-family:'Liberation Serif',serif" textLength="17.2" lengthAdjust="spacingAndGlyphs">α β</text>
<text x="29.0" y="164.9" font-size="14.2" text-anchor="start" fill="#111" style="font-family:'Liberation Serif',serif" textLength="17.2" lengthAdjust="spacingAndGlyphs">02</text>
<text x="47.5" y="154.5" font-size="16.5" text-anchor="start" fill="#111" style="font-family:'Liberation Serif',serif" textLength="22.5" lengthAdjust="spacingAndGlyphs">(ω)</text>
<text x="78.5" y="155.0" font-size="17.5" text-anchor="start" fill="#111" style="font-family:'Liberation Serif',serif" >=</text>
<path d="M131.4 50.4H222.6" stroke="#333" stroke-width="0.8" fill="none"/>
<path d="M170.8 50.4l6 -2.1l-1.3 2.1l1.3 2.1z" fill="#111"/>
<text x="121.0" y="43.8" font-size="13.5" text-anchor="start" fill="#111" style="font-family:'Liberation Serif',serif" textLength="7.4" lengthAdjust="spacingAndGlyphs">α</text>
<text x="120.5" y="65.8" font-size="16.5" text-anchor="start" fill="#111" style="font-family:'Liberation Serif',serif" textLength="10.8" lengthAdjust="spacingAndGlyphs">ω</text>
<text x="224.8" y="43.8" font-size="14" text-anchor="start" fill="#111" style="font-family:'Liberation Serif',serif" >β</text>
<text x="223.8" y="65.8" font-size="16.5" text-anchor="start" fill="#111" style="font-family:'Liberation Serif',serif" textLength="10.8" lengthAdjust="spacingAndGlyphs">ω</text>
<text x="271.6" y="54.6" font-size="15.5" text-anchor="start" fill="#111" style="font-family:'Liberation Serif',serif" >+</text>
<path d="M315.0 49.7H406.4" stroke="#333" stroke-width="0.8" fill="none"/>
<path d="M353.6 49.7l6 -2.1l-1.3 2.1l1.3 2.1z" fill="#111"/>
<text x="304.8" y="43.8" font-size="13.5" text-anchor="start" fill="#111" style="font-family:'Liberation Serif',serif" textLength="7.4" lengthAdjust="spacingAndGlyphs">α</text>
<text x="303.5" y="65.8" font-size="16.5" text-anchor="start" fill="#111" style="font-family:'Liberation Serif',serif" textLength="10.8" lengthAdjust="spacingAndGlyphs">ω</text>
<text x="409.0" y="43.8" font-size="14" text-anchor="start" fill="#111" style="font-family:'Liberation Serif',serif" >β</text>
<text x="407.2" y="65.8" font-size="16.5" text-anchor="start" fill="#111" style="font-family:'Liberation Serif',serif" textLength="10.8" lengthAdjust="spacingAndGlyphs">ω</text>
<path d="M365.8 49.7L367.0 49.3L368.2 48.8L369.4 48.3L370.4 47.8L371.4 47.1L372.3 46.4L373.0 45.5L373.7 44.6L374.2 43.6L374.6 42.4L374.9 41.2L375.2 40.0L375.5 38.7L375.7 37.4L375.9 36.2L376.2 35.0L376.6 33.8L377.0 32.7L377.6 31.7L378.3 30.8L379.1 30.0L380.0 29.3L381.0 28.7L382.1 28.1L383.2 27.6L384.4 27.2L385.7 26.8L386.9 26.3L388.1 25.9L389.2 25.3L390.2 24.7L391.2 24.1L392.0 23.3L392.7 22.4L393.3 21.5L393.8 20.4L394.2 19.2L394.5 18.0L394.8 16.8L395.0 15.5" stroke="#2fd846" stroke-width="0.9" fill="none"/>
<path d="M394.4 17.1L396.8 9.9M394.4 17.1L402.6 12.5M394.4 17.1L401.0 16.1" stroke="#2fd846" stroke-width="0.8" fill="none"/>
<text x="368.6" y="22.6" font-size="16" font-weight="bold" fill="#2fd846" style="font-family:'Liberation Serif',serif">ħΩ</text>
<path d="M348.7 49.7L347.5 50.0L346.2 50.4L345.1 50.8L344.0 51.3L343.0 51.9L342.0 52.5L341.2 53.3L340.6 54.2L340.0 55.2L339.5 56.3L339.1 57.4L338.7 58.6L338.4 59.9L338.1 61.1L337.8 62.4L337.4 63.6L337.0 64.7L336.4 65.8L335.8 66.7L335.1 67.6L334.3 68.3L333.3 68.9L332.3 69.5L331.2 69.9L330.0 70.3L328.7 70.7L327.5 71.0L326.2 71.4L325.0 71.7L323.9 72.2L322.8 72.7L321.8 73.3L321.0 74.0L320.2 74.8L319.6 75.7L319.0 76.7L318.5 77.8L318.2 79.0L317.8 80.2L317.5 81.5" stroke="#2fd846" stroke-width="0.9" fill="none"/>
<path d="M317.5 81.5L313.8 84.1M313.8 84.1L318.8 83.7M313.8 84.1L314.9 79.2" stroke="#2fd846" stroke-width="0.8" fill="none"/>
<text x="327.2" y="83.6" font-size="16" font-weight="bold" fill="#2fd846" style="font-family:'Liberation Serif',serif">ħΩ</text>
<text x="451.6" y="54.6" font-size="15.5" text-anchor="start" fill="#111" style="font-family:'Liberation Serif',serif" >+</text>
<text x="465.2" y="54.1" font-size="19" text-anchor="start" fill="#111" style="font-family:'Liberation Serif',serif" font-weight="bold" textLength="15.5" lengthAdjust="spacingAndGlyphs">···</text>
<path d="M131.4 150.5H223.3" stroke="#333" stroke-width="0.8" fill="none"/>
<path d="M170.0 150.5l6 -2.1l-1.3 2.1l1.3 2.1z" fill="#111"/>
<text x="116.4" y="144.0" font-size="13.5" text-anchor="start" fill="#111" style="font-family:'Liberation Serif',serif" textLength="7.4" lengthAdjust="spacingAndGlyphs">α</text>
<text x="115.8" y="166.0" font-size="16.5" text-anchor="start" fill="#111" style="font-family:'Liberation Serif',serif" textLength="10.8" lengthAdjust="spacingAndGlyphs">ω</text>
<text x="225.4" y="144.0" font-size="14" text-anchor="start" fill="#111" style="font-family:'Liberation Serif',serif" >β</text>
<text x="202.8" y="166.6" font-size="15.5" text-anchor="start" fill="#111" style="font-family:'Liberation Serif',serif" textLength="48.5" lengthAdjust="spacingAndGlyphs">ω − 2Ω</text>
<path d="M132.5 150.5L133.8 150.2L135.0 149.8L136.2 149.4L137.3 148.9L138.3 148.3L139.2 147.6L140.0 146.9L140.7 146.0L141.3 145.0L141.8 143.9L142.2 142.7L142.6 141.5L142.9 140.3L143.2 139.0L143.5 137.7L143.9 136.5L144.4 135.4L144.9 134.3L145.5 133.4L146.3 132.5L147.1 131.8L148.0 131.1L149.1 130.6L150.2 130.1L151.4 129.7L152.7 129.4L153.9 129.1L155.2 128.7L156.4 128.3L157.5 127.9L158.6 127.4L159.6 126.8L160.5 126.1L161.2 125.2L161.9 124.3L162.5 123.3L162.9 122.2L163.3 121.0L163.7 119.8L164.0 118.5" stroke="#2fd846" stroke-width="0.9" fill="none"/>
<path d="M163.4 120.1L165.8 112.9M163.4 120.1L171.6 115.5M163.4 120.1L170.0 119.1" stroke="#2fd846" stroke-width="0.8" fill="none"/>
<text x="137.6" y="123.6" font-size="16" font-weight="bold" fill="#2fd846" style="font-family:'Liberation Serif',serif">ħΩ</text>
<path d="M180.5 150.5L181.7 150.2L182.9 149.8L184.1 149.4L185.2 148.9L186.2 148.3L187.1 147.6L187.9 146.8L188.5 145.9L189.1 144.9L189.6 143.9L189.9 142.7L190.3 141.5L190.6 140.3L190.9 139.0L191.2 137.8L191.5 136.6L191.9 135.4L192.4 134.4L193.0 133.4L193.7 132.6L194.5 131.8L195.5 131.2L196.5 130.6L197.6 130.2L198.8 129.8L200.0 129.4L201.2 129.1L202.5 128.7L203.7 128.3L204.8 127.9L205.9 127.3L206.8 126.7L207.7 126.0L208.4 125.2L209.1 124.3L209.6 123.3L210.0 122.2L210.4 121.0L210.7 119.8L211.0 118.5" stroke="#2fd846" stroke-width="0.9" fill="none"/>
<path d="M210.4 120.1L212.8 112.9M210.4 120.1L218.6 115.5M210.4 120.1L217.0 119.1" stroke="#2fd846" stroke-width="0.8" fill="none"/>
<text x="183.6" y="123.6" font-size="16" font-weight="bold" fill="#2fd846" style="font-family:'Liberation Serif',serif">ħΩ</text>
<text x="271.6" y="155.0" font-size="15.5" text-anchor="start" fill="#111" style="font-family:'Liberation Serif',serif" >+</text>
<path d="M314.5 150.2H406.4" stroke="#333" stroke-width="0.8" fill="none"/>
<path d="M353.0 150.2l6 -2.1l-1.3 2.1l1.3 2.1z" fill="#111"/>
<text x="299.3" y="144.0" font-size="13.5" text-anchor="start" fill="#111" style="font-family:'Liberation Serif',serif" textLength="7.4" lengthAdjust="spacingAndGlyphs">α</text>
<text x="298.2" y="166.0" font-size="16.5" text-anchor="start" fill="#111" style="font-family:'Liberation Serif',serif" textLength="10.8" lengthAdjust="spacingAndGlyphs">ω</text>
<text x="415.6" y="144.0" font-size="14" text-anchor="start" fill="#111" style="font-family:'Liberation Serif',serif" >β</text>
<text x="394.0" y="166.6" font-size="15.5" text-anchor="start" fill="#111" style="font-family:'Liberation Serif',serif" textLength="48.5" lengthAdjust="spacingAndGlyphs">ω − 2Ω</text>
<path d="M316.0 150.2L317.2 149.8L318.3 149.4L319.4 149.0L320.4 148.5L321.3 147.9L322.2 147.2L322.9 146.5L323.4 145.6L323.9 144.6L324.3 143.6L324.5 142.4L324.8 141.3L324.9 140.0L325.1 138.8L325.3 137.6L325.5 136.5L325.9 135.3L326.3 134.3L326.8 133.4L327.4 132.5L328.1 131.8L329.0 131.1L329.9 130.6L330.9 130.1L332.1 129.7L333.2 129.3L334.4 128.9L335.6 128.6L336.7 128.2L337.8 127.7L338.7 127.2L339.6 126.6L340.4 125.9L341.1 125.0L341.6 124.1L342.0 123.1L342.4 122.1L342.6 120.9L342.8 119.7L343.0 118.5" stroke="#2fd846" stroke-width="0.9" fill="none"/>
<path d="M342.4 120.1L344.8 112.9M342.4 120.1L350.6 115.5M342.4 120.1L349.0 119.1" stroke="#2fd846" stroke-width="0.8" fill="none"/>
<text x="317.8" y="123.8" font-size="16" font-weight="bold" fill="#2fd846" style="font-family:'Liberation Serif',serif">ħΩ</text>
<path d="M354.0 150.2L355.1 149.8L356.2 149.4L357.3 148.9L358.3 148.4L359.2 147.8L359.9 147.2L360.6 146.4L361.1 145.5L361.5 144.5L361.8 143.5L362.0 142.4L362.2 141.2L362.3 140.0L362.4 138.8L362.5 137.6L362.7 136.5L363.0 135.4L363.3 134.4L363.7 133.5L364.3 132.6L365.0 131.9L365.8 131.2L366.7 130.7L367.7 130.2L368.8 129.7L369.9 129.3L371.0 128.9L372.2 128.5L373.3 128.1L374.3 127.7L375.2 127.1L376.1 126.5L376.8 125.8L377.4 125.0L377.9 124.1L378.3 123.1L378.6 122.0L378.7 120.9L378.9 119.7L379.0 118.5" stroke="#2fd846" stroke-width="0.9" fill="none"/>
<path d="M378.4 120.1L380.8 112.9M378.4 120.1L386.6 115.5M378.4 120.1L385.0 119.1" stroke="#2fd846" stroke-width="0.8" fill="none"/>
<text x="354.8" y="123.8" font-size="16" font-weight="bold" fill="#2fd846" style="font-family:'Liberation Serif',serif">ħΩ</text>
<path d="M387.8 150.2L389.0 149.8L390.1 149.5L391.2 149.0L392.3 148.5L393.2 147.9L394.0 147.3L394.7 146.5L395.3 145.6L395.8 144.6L396.2 143.6L396.5 142.4L396.8 141.3L397.0 140.0L397.2 138.8L397.4 137.6L397.6 136.4L398.0 135.3L398.4 134.3L398.9 133.4L399.5 132.5L400.3 131.8L401.2 131.1L402.1 130.6L403.2 130.1L404.3 129.7L405.5 129.3L406.7 128.9L407.8 128.6L409.0 128.2L410.1 127.7L411.1 127.2L412.0 126.6L412.8 125.9L413.4 125.1L414.0 124.2L414.4 123.2L414.8 122.1L415.1 120.9L415.3 119.7L415.5 118.5" stroke="#2fd846" stroke-width="0.9" fill="none"/>
<path d="M414.9 120.1L417.3 112.9M414.9 120.1L423.1 115.5M414.9 120.1L421.5 119.1" stroke="#2fd846" stroke-width="0.8" fill="none"/>
<text x="390.6" y="123.8" font-size="16" font-weight="bold" fill="#2fd846" style="font-family:'Liberation Serif',serif">ħΩ</text>
<path d="M356.0 150.2L354.9 150.6L353.9 151.0L353.0 151.5L352.1 152.0L351.3 152.5L350.6 153.2L350.1 153.9L349.7 154.8L349.4 155.7L349.2 156.7L349.2 157.7L349.1 158.8L349.2 159.9L349.2 161.1L349.2 162.2L349.2 163.2L349.1 164.3L348.8 165.2L348.5 166.1L348.1 166.9L347.5 167.6L346.8 168.3L346.0 168.8L345.1 169.3L344.1 169.7L343.0 170.1L342.0 170.5L340.9 170.9L339.9 171.3L339.0 171.8L338.1 172.3L337.4 172.9L336.8 173.6L336.3 174.4L335.9 175.3L335.7 176.2L335.5 177.2L335.5 178.3L335.5 179.4L335.5 180.5" stroke="#2fd846" stroke-width="0.9" fill="none"/>
<path d="M335.5 180.5L332.4 183.7M332.4 183.7L337.2 182.4M332.4 183.7L332.5 178.7" stroke="#2fd846" stroke-width="0.8" fill="none"/>
<text x="344.2" y="183.4" font-size="16" font-weight="bold" fill="#2fd846" style="font-family:'Liberation Serif',serif">ħΩ</text>
<text x="451.6" y="155.0" font-size="15.5" text-anchor="start" fill="#111" style="font-family:'Liberation Serif',serif" >+</text>
<text x="465.2" y="154.5" font-size="19" text-anchor="start" fill="#111" style="font-family:'Liberation Serif',serif" font-weight="bold" textLength="15.5" lengthAdjust="spacingAndGlyphs">···</text>
<path d="M57.5 262.7V425.9M108.0 262.7V425.9M158.3 262.7V425.9M28 292.0H187.6M28 343.8H187.6M28 394.5H187.6" stroke="#111" stroke-width="1.9" fill="none"/>
<path d="M35 212C27 218 20 225 21 231C23 240 40 242 58 249C74 255 84 262 82 270C80 277 74 282 67.5 286.5" stroke="#2fd846" stroke-width="1.6" fill="none"/>
<path d="M73.8 279L66.3 287.2L76.4 285.8" stroke="#2fd846" stroke-width="1.4" fill="none"/>
<text x="41" y="239" font-size="27.5" font-style="italic" fill="#2fd846" stroke="#2fd846" stroke-width="0.55" style="font-family:'DejaVu Sans',sans-serif" textLength="38.5">ħΩ</text>
<circle cx="108" cy="343.8" r="10" fill="url(#site)"/>
<path d="M105.6 340V333.5M104.2 336l1.4 -3l1.4 3M110.6 347V354.5M109.2 352l1.4 3l1.4 -3" stroke="#111" stroke-width="1" fill="none"/>
<text x="137.6" y="333" font-size="26" fill="#3348c4" style="font-family:'DejaVu Sans',sans-serif">U</text>
<path d="M112.8 300.6C128 300 136 308 135 318C134 327 124 333 113 333" stroke="#c83232" stroke-width="1.4" fill="none"/>
<path d="M112.8 300.6L118.8 298.1M112.8 300.6L118.3 304.1M113.0 333.0L118.1 329.0M113.0 333.0L119.2 335.0" stroke="#c83232" stroke-width="1.3" fill="none"/>
<path d="M64.8 338C62 324 72 317 82 317.5C92 318 100 326 100.6 337.5" stroke="#c83232" stroke-width="1.4" fill="none"/>
<path d="M64.8 338.5L62.8 332.3M64.8 338.5L68.8 333.4M100.6 338.0L96.8 332.7M100.6 338.0L102.8 331.9" stroke="#c83232" stroke-width="1.3" fill="none"/>
<path d="M101.8 351.6C88 352 81 360 82 369C83 378 92 386 102.5 386" stroke="#c83232" stroke-width="1.4" fill="none"/>
<path d="M101.8 351.6L96.3 355.1M101.8 351.6L95.8 349.1M102.8 386.0L97.1 389.1M102.8 386.0L97.1 382.9" stroke="#c83232" stroke-width="1.3" fill="none"/>
<path d="M116.8 350C119 362 127 369 135.5 368.5C145 368 151 360 152 349.5" stroke="#c83232" stroke-width="1.4" fill="none"/>
<path d="M116.7 349.5L120.7 354.6M116.7 349.5L114.7 355.7M152.0 349.0L154.2 355.1M152.0 349.0L148.2 354.3" stroke="#c83232" stroke-width="1.3" fill="none"/>
<ellipse cx="376.9" cy="294.6" rx="84.2" ry="39.4" fill="none" stroke="#46527e" stroke-width="1.5"/>
<path d="M292.7 298V387M461.1 298V369" stroke="#707480" stroke-width="1.1" fill="none"/>
<path d="M324 272H438M315 286.2H442M304 302.6H446.5" stroke="#777" stroke-width="1.1" fill="none"/>
<path d="M348.5 265.8L325 315.5M382 265.8C380 285 376 300 373.6 317.4M415.8 270.3L422.3 315.2" stroke="#111" stroke-width="1.4" fill="none"/>
<path d="M329.9 305C332 296 335 289 340 284.9C350 280.5 362 281 371.4 279.3C374 276 375 274.5 378 273.7C384 270 390 267.5 397 265.8C403 263.5 408 262 412.9 262.4C418 262.5 421 265 419.6 268C417 274 408 279 404 283.8C408 287 413 286 417.4 287C421.5 289 424 292 424 296C424 301 421 304.5 417.4 306C411 308.6 404 308.8 397 308.4C390 308 384 306.5 379.2 304C377.5 308 376 312 374.7 316.3C368 318.5 360 319 352.3 318.5C344 317.5 337 315 333.2 310.7C331 309 330 307 329.9 305Z" stroke="#111" stroke-width="1.5" fill="none" stroke-linejoin="round"/>
<text x="394.2" y="282.8" font-size="28.5" fill="#2f43c8" style="font-family:'DejaVu Sans',sans-serif">U</text>
<path d="M373.5 286.2H384M378.7 282.2V290.2M376.2 283.2l5 6M381.2 283.2l-5 6" stroke="#3548b8" stroke-width="1.4" fill="none"/>
<text x="350.5" y="252.8" font-size="12.3" text-anchor="middle" fill="#111" style="font-family:'DejaVu Sans',sans-serif" textLength="25" lengthAdjust="spacingAndGlyphs">i=0</text>
<text x="377.8" y="352.4" font-size="12.3" text-anchor="middle" fill="#111" style="font-family:'DejaVu Sans',sans-serif" textLength="139" lengthAdjust="spacingAndGlyphs">integrating all sites</text>
<text x="378.6" y="369.6" font-size="12.3" text-anchor="middle" fill="#111" style="font-family:'DejaVu Sans',sans-serif" textLength="24" lengthAdjust="spacingAndGlyphs">i≠0</text>
<text x="376.2" y="388.2" font-size="12.3" text-anchor="middle" fill="#b8464c" style="font-family:'DejaVu Sans',sans-serif" textLength="125" lengthAdjust="spacingAndGlyphs">effective hopping</text>
</svg>
</body></html>
